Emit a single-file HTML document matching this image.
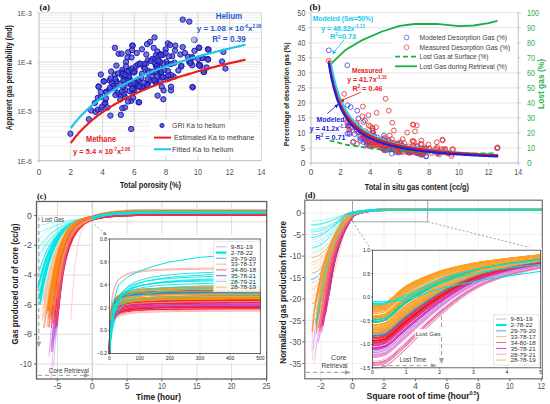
<!DOCTYPE html>
<html><head><meta charset="utf-8"><style>
html,body{margin:0;padding:0;background:#fff;}
svg{display:block;}
</style></head><body>
<svg width="550" height="404" viewBox="0 0 550 404">
<rect width="550" height="404" fill="#fff"/>
<line x1="39" y1="145.9" x2="261.5" y2="145.9" stroke="#e4e4e4" stroke-width="0.7" />
<line x1="39" y1="137.2" x2="261.5" y2="137.2" stroke="#e4e4e4" stroke-width="0.7" />
<line x1="39" y1="131" x2="261.5" y2="131" stroke="#e4e4e4" stroke-width="0.7" />
<line x1="39" y1="126.2" x2="261.5" y2="126.2" stroke="#e4e4e4" stroke-width="0.7" />
<line x1="39" y1="122.3" x2="261.5" y2="122.3" stroke="#e4e4e4" stroke-width="0.7" />
<line x1="39" y1="119" x2="261.5" y2="119" stroke="#e4e4e4" stroke-width="0.7" />
<line x1="39" y1="116.2" x2="261.5" y2="116.2" stroke="#e4e4e4" stroke-width="0.7" />
<line x1="39" y1="113.7" x2="261.5" y2="113.7" stroke="#e4e4e4" stroke-width="0.7" />
<line x1="39" y1="96.6" x2="261.5" y2="96.6" stroke="#e4e4e4" stroke-width="0.7" />
<line x1="39" y1="87.9" x2="261.5" y2="87.9" stroke="#e4e4e4" stroke-width="0.7" />
<line x1="39" y1="81.7" x2="261.5" y2="81.7" stroke="#e4e4e4" stroke-width="0.7" />
<line x1="39" y1="76.9" x2="261.5" y2="76.9" stroke="#e4e4e4" stroke-width="0.7" />
<line x1="39" y1="73" x2="261.5" y2="73" stroke="#e4e4e4" stroke-width="0.7" />
<line x1="39" y1="69.7" x2="261.5" y2="69.7" stroke="#e4e4e4" stroke-width="0.7" />
<line x1="39" y1="66.9" x2="261.5" y2="66.9" stroke="#e4e4e4" stroke-width="0.7" />
<line x1="39" y1="64.4" x2="261.5" y2="64.4" stroke="#e4e4e4" stroke-width="0.7" />
<line x1="39" y1="47.3" x2="261.5" y2="47.3" stroke="#e4e4e4" stroke-width="0.7" />
<line x1="39" y1="38.6" x2="261.5" y2="38.6" stroke="#e4e4e4" stroke-width="0.7" />
<line x1="39" y1="32.4" x2="261.5" y2="32.4" stroke="#e4e4e4" stroke-width="0.7" />
<line x1="39" y1="27.6" x2="261.5" y2="27.6" stroke="#e4e4e4" stroke-width="0.7" />
<line x1="39" y1="23.7" x2="261.5" y2="23.7" stroke="#e4e4e4" stroke-width="0.7" />
<line x1="39" y1="20.4" x2="261.5" y2="20.4" stroke="#e4e4e4" stroke-width="0.7" />
<line x1="39" y1="17.6" x2="261.5" y2="17.6" stroke="#e4e4e4" stroke-width="0.7" />
<line x1="39" y1="15.1" x2="261.5" y2="15.1" stroke="#e4e4e4" stroke-width="0.7" />
<line x1="37" y1="111.4" x2="261.5" y2="111.4" stroke="#d0d0d0" stroke-width="0.8" />
<line x1="37" y1="62.1" x2="261.5" y2="62.1" stroke="#d0d0d0" stroke-width="0.8" />
<line x1="37" y1="12.8" x2="261.5" y2="12.8" stroke="#d0d0d0" stroke-width="0.8" />
<line x1="70.8" y1="12.8" x2="70.8" y2="160.7" stroke="#d0d0d0" stroke-width="0.8" />
<line x1="102.6" y1="12.8" x2="102.6" y2="160.7" stroke="#d0d0d0" stroke-width="0.8" />
<line x1="134.3" y1="12.8" x2="134.3" y2="160.7" stroke="#d0d0d0" stroke-width="0.8" />
<line x1="166.1" y1="12.8" x2="166.1" y2="160.7" stroke="#d0d0d0" stroke-width="0.8" />
<line x1="197.9" y1="12.8" x2="197.9" y2="160.7" stroke="#d0d0d0" stroke-width="0.8" />
<line x1="229.7" y1="12.8" x2="229.7" y2="160.7" stroke="#d0d0d0" stroke-width="0.8" />
<line x1="261.5" y1="12.8" x2="261.5" y2="160.7" stroke="#d0d0d0" stroke-width="0.8" />
<line x1="39" y1="12.8" x2="39" y2="162.7" stroke="#bdbdbd" stroke-width="1" />
<line x1="37" y1="160.7" x2="261.5" y2="160.7" stroke="#bdbdbd" stroke-width="1" />
<text x="31.8" y="15.6" font-size="8" fill="#505050" text-anchor="end" font-weight="normal" font-family="Liberation Sans"  textLength="14.5" lengthAdjust="spacingAndGlyphs">1E-3</text>
<text x="31.8" y="64.9" font-size="8" fill="#505050" text-anchor="end" font-weight="normal" font-family="Liberation Sans"  textLength="14.5" lengthAdjust="spacingAndGlyphs">1E-4</text>
<text x="31.8" y="114.2" font-size="8" fill="#505050" text-anchor="end" font-weight="normal" font-family="Liberation Sans"  textLength="14.5" lengthAdjust="spacingAndGlyphs">1E-5</text>
<text x="31.8" y="163.5" font-size="8" fill="#505050" text-anchor="end" font-weight="normal" font-family="Liberation Sans"  textLength="14.5" lengthAdjust="spacingAndGlyphs">1E-6</text>
<text x="39" y="174.8" font-size="8.2" fill="#505050" text-anchor="middle" font-weight="normal" font-family="Liberation Sans" >0</text>
<text x="70.8" y="174.8" font-size="8.2" fill="#505050" text-anchor="middle" font-weight="normal" font-family="Liberation Sans" >2</text>
<text x="102.6" y="174.8" font-size="8.2" fill="#505050" text-anchor="middle" font-weight="normal" font-family="Liberation Sans" >4</text>
<text x="134.3" y="174.8" font-size="8.2" fill="#505050" text-anchor="middle" font-weight="normal" font-family="Liberation Sans" >6</text>
<text x="166.1" y="174.8" font-size="8.2" fill="#505050" text-anchor="middle" font-weight="normal" font-family="Liberation Sans" >8</text>
<text x="197.9" y="174.8" font-size="8.2" fill="#505050" text-anchor="middle" font-weight="normal" font-family="Liberation Sans"  textLength="7.8" lengthAdjust="spacingAndGlyphs">10</text>
<text x="229.7" y="174.8" font-size="8.2" fill="#505050" text-anchor="middle" font-weight="normal" font-family="Liberation Sans"  textLength="7.8" lengthAdjust="spacingAndGlyphs">12</text>
<text x="261.5" y="174.8" font-size="8.2" fill="#505050" text-anchor="middle" font-weight="normal" font-family="Liberation Sans"  textLength="7.8" lengthAdjust="spacingAndGlyphs">14</text>
<text x="150.4" y="188.2" font-size="8.3" fill="#202020" text-anchor="middle" font-weight="bold" font-family="Liberation Sans"  textLength="61" lengthAdjust="spacingAndGlyphs">Total porosity (%)</text>
<text x="0" y="0" font-size="8.8" fill="#202020" text-anchor="middle" font-weight="bold" font-family="Liberation Sans" transform="translate(11.8,77.7) rotate(-90)" textLength="105" lengthAdjust="spacingAndGlyphs">Apparent gas permeability (md)</text>
<text x="39.6" y="10.2" font-size="9" fill="#101010" text-anchor="start" font-weight="bold" font-family="Liberation Serif" >(a)</text>
<circle cx="114.9" cy="47.8" r="2.7" fill="#4646dc" fill-opacity="0.75" stroke="#16169e" stroke-width="0.9"/>
<circle cx="118.6" cy="53.7" r="2.7" fill="#4646dc" fill-opacity="0.75" stroke="#16169e" stroke-width="0.9"/>
<circle cx="121.6" cy="53.7" r="2.7" fill="#4646dc" fill-opacity="0.75" stroke="#16169e" stroke-width="0.9"/>
<circle cx="132.7" cy="45.6" r="2.7" fill="#4646dc" fill-opacity="0.75" stroke="#16169e" stroke-width="0.9"/>
<circle cx="128.2" cy="52.3" r="2.7" fill="#4646dc" fill-opacity="0.75" stroke="#16169e" stroke-width="0.9"/>
<circle cx="132" cy="50" r="2.7" fill="#4646dc" fill-opacity="0.75" stroke="#16169e" stroke-width="0.9"/>
<circle cx="127.5" cy="57.4" r="2.7" fill="#4646dc" fill-opacity="0.75" stroke="#16169e" stroke-width="0.9"/>
<circle cx="126" cy="61.9" r="2.7" fill="#4646dc" fill-opacity="0.75" stroke="#16169e" stroke-width="0.9"/>
<circle cx="116.4" cy="65.6" r="2.7" fill="#4646dc" fill-opacity="0.75" stroke="#16169e" stroke-width="0.9"/>
<circle cx="126" cy="66.3" r="2.7" fill="#4646dc" fill-opacity="0.75" stroke="#16169e" stroke-width="0.9"/>
<circle cx="111.2" cy="71.5" r="2.7" fill="#4646dc" fill-opacity="0.75" stroke="#16169e" stroke-width="0.9"/>
<circle cx="114.9" cy="74.5" r="2.7" fill="#4646dc" fill-opacity="0.75" stroke="#16169e" stroke-width="0.9"/>
<circle cx="100.8" cy="74.5" r="2.7" fill="#4646dc" fill-opacity="0.75" stroke="#16169e" stroke-width="0.9"/>
<circle cx="103.8" cy="81.2" r="2.7" fill="#4646dc" fill-opacity="0.75" stroke="#16169e" stroke-width="0.9"/>
<circle cx="109.7" cy="80.4" r="2.7" fill="#4646dc" fill-opacity="0.75" stroke="#16169e" stroke-width="0.9"/>
<circle cx="116.4" cy="81.2" r="2.7" fill="#4646dc" fill-opacity="0.75" stroke="#16169e" stroke-width="0.9"/>
<circle cx="98.6" cy="86.4" r="2.7" fill="#4646dc" fill-opacity="0.75" stroke="#16169e" stroke-width="0.9"/>
<circle cx="122.3" cy="70" r="2.7" fill="#4646dc" fill-opacity="0.75" stroke="#16169e" stroke-width="0.9"/>
<circle cx="123.8" cy="74.5" r="2.7" fill="#4646dc" fill-opacity="0.75" stroke="#16169e" stroke-width="0.9"/>
<circle cx="131.2" cy="70" r="2.7" fill="#4646dc" fill-opacity="0.75" stroke="#16169e" stroke-width="0.9"/>
<circle cx="135.7" cy="66.3" r="2.7" fill="#4646dc" fill-opacity="0.75" stroke="#16169e" stroke-width="0.9"/>
<circle cx="129.7" cy="79" r="2.7" fill="#4646dc" fill-opacity="0.75" stroke="#16169e" stroke-width="0.9"/>
<circle cx="136.4" cy="84.2" r="2.7" fill="#4646dc" fill-opacity="0.75" stroke="#16169e" stroke-width="0.9"/>
<circle cx="182.7" cy="19.6" r="2.7" fill="#4646dc" fill-opacity="0.75" stroke="#16169e" stroke-width="0.9"/>
<circle cx="189.3" cy="21.6" r="2.7" fill="#4646dc" fill-opacity="0.75" stroke="#16169e" stroke-width="0.9"/>
<circle cx="154.5" cy="37.4" r="2.7" fill="#4646dc" fill-opacity="0.75" stroke="#16169e" stroke-width="0.9"/>
<circle cx="150" cy="41.9" r="2.7" fill="#4646dc" fill-opacity="0.75" stroke="#16169e" stroke-width="0.9"/>
<circle cx="147.1" cy="44.1" r="2.7" fill="#4646dc" fill-opacity="0.75" stroke="#16169e" stroke-width="0.9"/>
<circle cx="132.2" cy="45.6" r="2.7" fill="#4646dc" fill-opacity="0.75" stroke="#16169e" stroke-width="0.9"/>
<circle cx="167.8" cy="43.4" r="2.7" fill="#4646dc" fill-opacity="0.75" stroke="#16169e" stroke-width="0.9"/>
<circle cx="170" cy="44.9" r="2.7" fill="#4646dc" fill-opacity="0.75" stroke="#16169e" stroke-width="0.9"/>
<circle cx="175.3" cy="45.6" r="2.7" fill="#4646dc" fill-opacity="0.75" stroke="#16169e" stroke-width="0.9"/>
<circle cx="182.7" cy="47.1" r="2.7" fill="#4646dc" fill-opacity="0.75" stroke="#16169e" stroke-width="0.9"/>
<circle cx="165.6" cy="49.3" r="2.7" fill="#4646dc" fill-opacity="0.75" stroke="#16169e" stroke-width="0.9"/>
<circle cx="194.5" cy="50.8" r="2.7" fill="#4646dc" fill-opacity="0.75" stroke="#16169e" stroke-width="0.9"/>
<circle cx="199" cy="47.8" r="2.7" fill="#4646dc" fill-opacity="0.75" stroke="#16169e" stroke-width="0.9"/>
<circle cx="207.9" cy="49.3" r="2.7" fill="#4646dc" fill-opacity="0.75" stroke="#16169e" stroke-width="0.9"/>
<circle cx="141.9" cy="49.3" r="2.7" fill="#4646dc" fill-opacity="0.75" stroke="#16169e" stroke-width="0.9"/>
<circle cx="153.7" cy="47.8" r="2.7" fill="#4646dc" fill-opacity="0.75" stroke="#16169e" stroke-width="0.9"/>
<circle cx="157.4" cy="51.5" r="2.7" fill="#4646dc" fill-opacity="0.75" stroke="#16169e" stroke-width="0.9"/>
<circle cx="180.4" cy="54.5" r="2.7" fill="#4646dc" fill-opacity="0.75" stroke="#16169e" stroke-width="0.9"/>
<circle cx="184.9" cy="53" r="2.7" fill="#4646dc" fill-opacity="0.75" stroke="#16169e" stroke-width="0.9"/>
<circle cx="187.9" cy="56.7" r="2.7" fill="#4646dc" fill-opacity="0.75" stroke="#16169e" stroke-width="0.9"/>
<circle cx="192.3" cy="57.5" r="2.7" fill="#4646dc" fill-opacity="0.75" stroke="#16169e" stroke-width="0.9"/>
<circle cx="198.2" cy="59" r="2.7" fill="#4646dc" fill-opacity="0.75" stroke="#16169e" stroke-width="0.9"/>
<circle cx="202.7" cy="57.5" r="2.7" fill="#4646dc" fill-opacity="0.75" stroke="#16169e" stroke-width="0.9"/>
<circle cx="207.9" cy="59" r="2.7" fill="#4646dc" fill-opacity="0.75" stroke="#16169e" stroke-width="0.9"/>
<circle cx="136.7" cy="53" r="2.7" fill="#4646dc" fill-opacity="0.75" stroke="#16169e" stroke-width="0.9"/>
<circle cx="146.3" cy="54.5" r="2.7" fill="#4646dc" fill-opacity="0.75" stroke="#16169e" stroke-width="0.9"/>
<circle cx="152.3" cy="59" r="2.7" fill="#4646dc" fill-opacity="0.75" stroke="#16169e" stroke-width="0.9"/>
<circle cx="147.8" cy="60.4" r="2.7" fill="#4646dc" fill-opacity="0.75" stroke="#16169e" stroke-width="0.9"/>
<circle cx="131.5" cy="57.5" r="2.7" fill="#4646dc" fill-opacity="0.75" stroke="#16169e" stroke-width="0.9"/>
<circle cx="166.3" cy="61.9" r="2.7" fill="#4646dc" fill-opacity="0.75" stroke="#16169e" stroke-width="0.9"/>
<circle cx="174.5" cy="62.7" r="2.7" fill="#4646dc" fill-opacity="0.75" stroke="#16169e" stroke-width="0.9"/>
<circle cx="189.3" cy="61.9" r="2.7" fill="#4646dc" fill-opacity="0.75" stroke="#16169e" stroke-width="0.9"/>
<circle cx="199.7" cy="64.9" r="2.7" fill="#4646dc" fill-opacity="0.75" stroke="#16169e" stroke-width="0.9"/>
<circle cx="156" cy="65.6" r="2.7" fill="#4646dc" fill-opacity="0.75" stroke="#16169e" stroke-width="0.9"/>
<circle cx="181.2" cy="66.4" r="2.7" fill="#4646dc" fill-opacity="0.75" stroke="#16169e" stroke-width="0.9"/>
<circle cx="194.5" cy="40" r="2.7" fill="#4646dc" fill-opacity="0.75" stroke="#16169e" stroke-width="0.9"/>
<circle cx="199.2" cy="47.7" r="2.7" fill="#4646dc" fill-opacity="0.75" stroke="#16169e" stroke-width="0.9"/>
<circle cx="208.6" cy="49.7" r="2.7" fill="#4646dc" fill-opacity="0.75" stroke="#16169e" stroke-width="0.9"/>
<circle cx="223.4" cy="51.9" r="2.7" fill="#4646dc" fill-opacity="0.75" stroke="#16169e" stroke-width="0.9"/>
<circle cx="192.2" cy="57.1" r="2.7" fill="#4646dc" fill-opacity="0.75" stroke="#16169e" stroke-width="0.9"/>
<circle cx="202.6" cy="58.1" r="2.7" fill="#4646dc" fill-opacity="0.75" stroke="#16169e" stroke-width="0.9"/>
<circle cx="208.1" cy="59.6" r="2.7" fill="#4646dc" fill-opacity="0.75" stroke="#16169e" stroke-width="0.9"/>
<circle cx="222" cy="61.5" r="2.7" fill="#4646dc" fill-opacity="0.75" stroke="#16169e" stroke-width="0.9"/>
<circle cx="190.7" cy="62.3" r="2.7" fill="#4646dc" fill-opacity="0.75" stroke="#16169e" stroke-width="0.9"/>
<circle cx="192.2" cy="65.3" r="2.7" fill="#4646dc" fill-opacity="0.75" stroke="#16169e" stroke-width="0.9"/>
<circle cx="198.9" cy="65" r="2.7" fill="#4646dc" fill-opacity="0.75" stroke="#16169e" stroke-width="0.9"/>
<circle cx="200.4" cy="66" r="2.7" fill="#4646dc" fill-opacity="0.75" stroke="#16169e" stroke-width="0.9"/>
<circle cx="206.6" cy="67.5" r="2.7" fill="#4646dc" fill-opacity="0.75" stroke="#16169e" stroke-width="0.9"/>
<circle cx="204.1" cy="71.9" r="2.7" fill="#4646dc" fill-opacity="0.75" stroke="#16169e" stroke-width="0.9"/>
<circle cx="225.4" cy="68.5" r="2.7" fill="#4646dc" fill-opacity="0.75" stroke="#16169e" stroke-width="0.9"/>
<circle cx="192.7" cy="87.3" r="2.7" fill="#4646dc" fill-opacity="0.75" stroke="#16169e" stroke-width="0.9"/>
<circle cx="70.4" cy="133.7" r="2.7" fill="#4646dc" fill-opacity="0.75" stroke="#16169e" stroke-width="0.9"/>
<circle cx="88.9" cy="119.3" r="2.7" fill="#4646dc" fill-opacity="0.75" stroke="#16169e" stroke-width="0.9"/>
<circle cx="91.2" cy="110.4" r="2.7" fill="#4646dc" fill-opacity="0.75" stroke="#16169e" stroke-width="0.9"/>
<circle cx="95.6" cy="111.9" r="2.7" fill="#4646dc" fill-opacity="0.75" stroke="#16169e" stroke-width="0.9"/>
<circle cx="97.8" cy="109.7" r="2.7" fill="#4646dc" fill-opacity="0.75" stroke="#16169e" stroke-width="0.9"/>
<circle cx="94.9" cy="103" r="2.7" fill="#4646dc" fill-opacity="0.75" stroke="#16169e" stroke-width="0.9"/>
<circle cx="97.8" cy="97.8" r="2.7" fill="#4646dc" fill-opacity="0.75" stroke="#16169e" stroke-width="0.9"/>
<circle cx="98.6" cy="86.7" r="2.7" fill="#4646dc" fill-opacity="0.75" stroke="#16169e" stroke-width="0.9"/>
<circle cx="103.8" cy="81.5" r="2.7" fill="#4646dc" fill-opacity="0.75" stroke="#16169e" stroke-width="0.9"/>
<circle cx="106" cy="91.9" r="2.7" fill="#4646dc" fill-opacity="0.75" stroke="#16169e" stroke-width="0.9"/>
<circle cx="110.4" cy="115.6" r="2.7" fill="#4646dc" fill-opacity="0.75" stroke="#16169e" stroke-width="0.9"/>
<circle cx="120.8" cy="114.9" r="2.7" fill="#4646dc" fill-opacity="0.75" stroke="#16169e" stroke-width="0.9"/>
<circle cx="122.3" cy="108.2" r="2.7" fill="#4646dc" fill-opacity="0.75" stroke="#16169e" stroke-width="0.9"/>
<circle cx="131.2" cy="129" r="2.7" fill="#4646dc" fill-opacity="0.75" stroke="#16169e" stroke-width="0.9"/>
<circle cx="111.9" cy="83" r="2.7" fill="#4646dc" fill-opacity="0.75" stroke="#16169e" stroke-width="0.9"/>
<circle cx="116.4" cy="81.5" r="2.7" fill="#4646dc" fill-opacity="0.75" stroke="#16169e" stroke-width="0.9"/>
<circle cx="123.8" cy="80" r="2.7" fill="#4646dc" fill-opacity="0.75" stroke="#16169e" stroke-width="0.9"/>
<circle cx="137.2" cy="84.5" r="2.7" fill="#4646dc" fill-opacity="0.75" stroke="#16169e" stroke-width="0.9"/>
<circle cx="138.6" cy="102.3" r="2.7" fill="#4646dc" fill-opacity="0.75" stroke="#16169e" stroke-width="0.9"/>
<circle cx="131.2" cy="100.8" r="2.7" fill="#4646dc" fill-opacity="0.75" stroke="#16169e" stroke-width="0.9"/>
<circle cx="157.6" cy="95.6" r="2.7" fill="#4646dc" fill-opacity="0.75" stroke="#16169e" stroke-width="0.9"/>
<circle cx="163.3" cy="99.3" r="2.7" fill="#4646dc" fill-opacity="0.75" stroke="#16169e" stroke-width="0.9"/>
<circle cx="139.1" cy="102.3" r="2.7" fill="#4646dc" fill-opacity="0.75" stroke="#16169e" stroke-width="0.9"/>
<circle cx="163.6" cy="90.4" r="2.7" fill="#4646dc" fill-opacity="0.75" stroke="#16169e" stroke-width="0.9"/>
<circle cx="161.8" cy="86.7" r="2.7" fill="#4646dc" fill-opacity="0.75" stroke="#16169e" stroke-width="0.9"/>
<circle cx="171" cy="86.7" r="2.7" fill="#4646dc" fill-opacity="0.75" stroke="#16169e" stroke-width="0.9"/>
<circle cx="171" cy="90.4" r="2.7" fill="#4646dc" fill-opacity="0.75" stroke="#16169e" stroke-width="0.9"/>
<circle cx="192.5" cy="87" r="2.7" fill="#4646dc" fill-opacity="0.75" stroke="#16169e" stroke-width="0.9"/>
<circle cx="132.4" cy="91.9" r="2.7" fill="#4646dc" fill-opacity="0.75" stroke="#16169e" stroke-width="0.9"/>
<circle cx="133.2" cy="97.8" r="2.7" fill="#4646dc" fill-opacity="0.75" stroke="#16169e" stroke-width="0.9"/>
<circle cx="128" cy="101.5" r="2.7" fill="#4646dc" fill-opacity="0.75" stroke="#16169e" stroke-width="0.9"/>
<circle cx="125" cy="107.5" r="2.7" fill="#4646dc" fill-opacity="0.75" stroke="#16169e" stroke-width="0.9"/>
<circle cx="136.1" cy="83.7" r="2.7" fill="#4646dc" fill-opacity="0.75" stroke="#16169e" stroke-width="0.9"/>
<circle cx="139.8" cy="87.4" r="2.7" fill="#4646dc" fill-opacity="0.75" stroke="#16169e" stroke-width="0.9"/>
<circle cx="144.3" cy="86.7" r="2.7" fill="#4646dc" fill-opacity="0.75" stroke="#16169e" stroke-width="0.9"/>
<circle cx="148" cy="83.7" r="2.7" fill="#4646dc" fill-opacity="0.75" stroke="#16169e" stroke-width="0.9"/>
<circle cx="152.4" cy="77.1" r="2.7" fill="#4646dc" fill-opacity="0.75" stroke="#16169e" stroke-width="0.9"/>
<circle cx="156.2" cy="80.8" r="2.7" fill="#4646dc" fill-opacity="0.75" stroke="#16169e" stroke-width="0.9"/>
<circle cx="166.5" cy="77.1" r="2.7" fill="#4646dc" fill-opacity="0.75" stroke="#16169e" stroke-width="0.9"/>
<circle cx="168" cy="71.1" r="2.7" fill="#4646dc" fill-opacity="0.75" stroke="#16169e" stroke-width="0.9"/>
<circle cx="178.4" cy="70.4" r="2.7" fill="#4646dc" fill-opacity="0.75" stroke="#16169e" stroke-width="0.9"/>
<circle cx="181.4" cy="65.9" r="2.7" fill="#4646dc" fill-opacity="0.75" stroke="#16169e" stroke-width="0.9"/>
<circle cx="156.2" cy="65.9" r="2.7" fill="#4646dc" fill-opacity="0.75" stroke="#16169e" stroke-width="0.9"/>
<circle cx="160.6" cy="74.8" r="2.7" fill="#4646dc" fill-opacity="0.75" stroke="#16169e" stroke-width="0.9"/>
<circle cx="190.3" cy="63" r="2.7" fill="#4646dc" fill-opacity="0.75" stroke="#16169e" stroke-width="0.9"/>
<circle cx="199.2" cy="65.2" r="2.7" fill="#4646dc" fill-opacity="0.75" stroke="#16169e" stroke-width="0.9"/>
<circle cx="203.6" cy="71.9" r="2.7" fill="#4646dc" fill-opacity="0.75" stroke="#16169e" stroke-width="0.9"/>
<circle cx="125" cy="89.7" r="2.7" fill="#4646dc" fill-opacity="0.75" stroke="#16169e" stroke-width="0.9"/>
<circle cx="129.5" cy="80.8" r="2.7" fill="#4646dc" fill-opacity="0.75" stroke="#16169e" stroke-width="0.9"/>
<circle cx="142" cy="87.5" r="2.7" fill="#4646dc" fill-opacity="0.75" stroke="#16169e" stroke-width="0.9"/>
<circle cx="138.1" cy="79.5" r="2.7" fill="#4646dc" fill-opacity="0.75" stroke="#16169e" stroke-width="0.9"/>
<circle cx="138.4" cy="80.6" r="2.7" fill="#4646dc" fill-opacity="0.75" stroke="#16169e" stroke-width="0.9"/>
<circle cx="125.8" cy="77.2" r="2.7" fill="#4646dc" fill-opacity="0.75" stroke="#16169e" stroke-width="0.9"/>
<circle cx="160.7" cy="73.4" r="2.7" fill="#4646dc" fill-opacity="0.75" stroke="#16169e" stroke-width="0.9"/>
<circle cx="173.7" cy="76.7" r="2.7" fill="#4646dc" fill-opacity="0.75" stroke="#16169e" stroke-width="0.9"/>
<circle cx="146.2" cy="63.6" r="2.7" fill="#4646dc" fill-opacity="0.75" stroke="#16169e" stroke-width="0.9"/>
<circle cx="139.6" cy="63.6" r="2.7" fill="#4646dc" fill-opacity="0.75" stroke="#16169e" stroke-width="0.9"/>
<circle cx="118.1" cy="73.4" r="2.7" fill="#4646dc" fill-opacity="0.75" stroke="#16169e" stroke-width="0.9"/>
<circle cx="133" cy="89.2" r="2.7" fill="#4646dc" fill-opacity="0.75" stroke="#16169e" stroke-width="0.9"/>
<circle cx="148" cy="72.7" r="2.7" fill="#4646dc" fill-opacity="0.75" stroke="#16169e" stroke-width="0.9"/>
<circle cx="134.3" cy="72.3" r="2.7" fill="#4646dc" fill-opacity="0.75" stroke="#16169e" stroke-width="0.9"/>
<circle cx="161.8" cy="77.2" r="2.7" fill="#4646dc" fill-opacity="0.75" stroke="#16169e" stroke-width="0.9"/>
<circle cx="134.6" cy="70.8" r="2.7" fill="#4646dc" fill-opacity="0.75" stroke="#16169e" stroke-width="0.9"/>
<circle cx="105.3" cy="102.6" r="2.7" fill="#4646dc" fill-opacity="0.75" stroke="#16169e" stroke-width="0.9"/>
<circle cx="163.5" cy="63.5" r="2.7" fill="#4646dc" fill-opacity="0.75" stroke="#16169e" stroke-width="0.9"/>
<circle cx="155.9" cy="55.2" r="2.7" fill="#4646dc" fill-opacity="0.75" stroke="#16169e" stroke-width="0.9"/>
<circle cx="168.3" cy="64.3" r="2.7" fill="#4646dc" fill-opacity="0.75" stroke="#16169e" stroke-width="0.9"/>
<circle cx="137.9" cy="64.7" r="2.7" fill="#4646dc" fill-opacity="0.75" stroke="#16169e" stroke-width="0.9"/>
<circle cx="158.4" cy="62" r="2.7" fill="#4646dc" fill-opacity="0.75" stroke="#16169e" stroke-width="0.9"/>
<circle cx="124.9" cy="96.7" r="2.7" fill="#4646dc" fill-opacity="0.75" stroke="#16169e" stroke-width="0.9"/>
<circle cx="126.7" cy="75.1" r="2.7" fill="#4646dc" fill-opacity="0.75" stroke="#16169e" stroke-width="0.9"/>
<circle cx="104.5" cy="104" r="2.7" fill="#4646dc" fill-opacity="0.75" stroke="#16169e" stroke-width="0.9"/>
<circle cx="141.9" cy="73.7" r="2.7" fill="#4646dc" fill-opacity="0.75" stroke="#16169e" stroke-width="0.9"/>
<circle cx="154.9" cy="59.3" r="2.7" fill="#4646dc" fill-opacity="0.75" stroke="#16169e" stroke-width="0.9"/>
<circle cx="108.7" cy="90.3" r="2.7" fill="#4646dc" fill-opacity="0.75" stroke="#16169e" stroke-width="0.9"/>
<circle cx="120.2" cy="99.4" r="2.7" fill="#4646dc" fill-opacity="0.75" stroke="#16169e" stroke-width="0.9"/>
<circle cx="134.2" cy="89.9" r="2.7" fill="#4646dc" fill-opacity="0.75" stroke="#16169e" stroke-width="0.9"/>
<circle cx="129.6" cy="91.2" r="2.7" fill="#4646dc" fill-opacity="0.75" stroke="#16169e" stroke-width="0.9"/>
<circle cx="107.5" cy="107.5" r="2.7" fill="#4646dc" fill-opacity="0.75" stroke="#16169e" stroke-width="0.9"/>
<circle cx="119.4" cy="94.1" r="2.7" fill="#4646dc" fill-opacity="0.75" stroke="#16169e" stroke-width="0.9"/>
<circle cx="122.2" cy="72.4" r="2.7" fill="#4646dc" fill-opacity="0.75" stroke="#16169e" stroke-width="0.9"/>
<circle cx="143.7" cy="67.1" r="2.7" fill="#4646dc" fill-opacity="0.75" stroke="#16169e" stroke-width="0.9"/>
<circle cx="127.9" cy="80.5" r="2.7" fill="#4646dc" fill-opacity="0.75" stroke="#16169e" stroke-width="0.9"/>
<circle cx="141.3" cy="77.7" r="2.7" fill="#4646dc" fill-opacity="0.75" stroke="#16169e" stroke-width="0.9"/>
<circle cx="129.3" cy="71.1" r="2.7" fill="#4646dc" fill-opacity="0.75" stroke="#16169e" stroke-width="0.9"/>
<circle cx="154.7" cy="62.8" r="2.7" fill="#4646dc" fill-opacity="0.75" stroke="#16169e" stroke-width="0.9"/>
<circle cx="155.5" cy="82.5" r="2.7" fill="#4646dc" fill-opacity="0.75" stroke="#16169e" stroke-width="0.9"/>
<circle cx="171.3" cy="75.1" r="2.7" fill="#4646dc" fill-opacity="0.75" stroke="#16169e" stroke-width="0.9"/>
<circle cx="131.6" cy="68.5" r="2.7" fill="#4646dc" fill-opacity="0.75" stroke="#16169e" stroke-width="0.9"/>
<circle cx="172.2" cy="56.2" r="2.7" fill="#4646dc" fill-opacity="0.75" stroke="#16169e" stroke-width="0.9"/>
<circle cx="132.3" cy="89" r="2.7" fill="#4646dc" fill-opacity="0.75" stroke="#16169e" stroke-width="0.9"/>
<circle cx="122" cy="75.5" r="2.7" fill="#4646dc" fill-opacity="0.75" stroke="#16169e" stroke-width="0.9"/>
<circle cx="124.8" cy="75.6" r="2.7" fill="#4646dc" fill-opacity="0.75" stroke="#16169e" stroke-width="0.9"/>
<circle cx="163.9" cy="69.9" r="2.7" fill="#4646dc" fill-opacity="0.75" stroke="#16169e" stroke-width="0.9"/>
<circle cx="168.8" cy="56.4" r="2.7" fill="#4646dc" fill-opacity="0.75" stroke="#16169e" stroke-width="0.9"/>
<circle cx="120.2" cy="84.3" r="2.7" fill="#4646dc" fill-opacity="0.75" stroke="#16169e" stroke-width="0.9"/>
<circle cx="113.2" cy="86" r="2.7" fill="#4646dc" fill-opacity="0.75" stroke="#16169e" stroke-width="0.9"/>
<circle cx="109.9" cy="87.9" r="2.7" fill="#4646dc" fill-opacity="0.75" stroke="#16169e" stroke-width="0.9"/>
<circle cx="161.2" cy="72.1" r="2.7" fill="#4646dc" fill-opacity="0.75" stroke="#16169e" stroke-width="0.9"/>
<circle cx="143.8" cy="64.1" r="2.7" fill="#4646dc" fill-opacity="0.75" stroke="#16169e" stroke-width="0.9"/>
<circle cx="101.3" cy="109.4" r="2.7" fill="#4646dc" fill-opacity="0.75" stroke="#16169e" stroke-width="0.9"/>
<circle cx="160.5" cy="54.1" r="2.7" fill="#4646dc" fill-opacity="0.75" stroke="#16169e" stroke-width="0.9"/>
<circle cx="136.2" cy="84.5" r="2.7" fill="#4646dc" fill-opacity="0.75" stroke="#16169e" stroke-width="0.9"/>
<circle cx="175" cy="50.6" r="2.7" fill="#4646dc" fill-opacity="0.75" stroke="#16169e" stroke-width="0.9"/>
<circle cx="155.3" cy="81.4" r="2.7" fill="#4646dc" fill-opacity="0.75" stroke="#16169e" stroke-width="0.9"/>
<circle cx="150.1" cy="80.3" r="2.7" fill="#4646dc" fill-opacity="0.75" stroke="#16169e" stroke-width="0.9"/>
<circle cx="136.1" cy="83.2" r="2.7" fill="#4646dc" fill-opacity="0.75" stroke="#16169e" stroke-width="0.9"/>
<circle cx="156.8" cy="66.9" r="2.7" fill="#4646dc" fill-opacity="0.75" stroke="#16169e" stroke-width="0.9"/>
<circle cx="156.5" cy="71.5" r="2.7" fill="#4646dc" fill-opacity="0.75" stroke="#16169e" stroke-width="0.9"/>
<circle cx="128.7" cy="83.8" r="2.7" fill="#4646dc" fill-opacity="0.75" stroke="#16169e" stroke-width="0.9"/>
<circle cx="106" cy="98.4" r="2.7" fill="#4646dc" fill-opacity="0.75" stroke="#16169e" stroke-width="0.9"/>
<circle cx="157.2" cy="75.7" r="2.7" fill="#4646dc" fill-opacity="0.75" stroke="#16169e" stroke-width="0.9"/>
<circle cx="155.1" cy="72.2" r="2.7" fill="#4646dc" fill-opacity="0.75" stroke="#16169e" stroke-width="0.9"/>
<circle cx="162.9" cy="55" r="2.7" fill="#4646dc" fill-opacity="0.75" stroke="#16169e" stroke-width="0.9"/>
<circle cx="123.2" cy="87.1" r="2.7" fill="#4646dc" fill-opacity="0.75" stroke="#16169e" stroke-width="0.9"/>
<circle cx="117.3" cy="93.2" r="2.7" fill="#4646dc" fill-opacity="0.75" stroke="#16169e" stroke-width="0.9"/>
<circle cx="146.1" cy="85.6" r="2.7" fill="#4646dc" fill-opacity="0.75" stroke="#16169e" stroke-width="0.9"/>
<circle cx="100.8" cy="92.2" r="2.7" fill="#4646dc" fill-opacity="0.75" stroke="#16169e" stroke-width="0.9"/>
<circle cx="115.2" cy="79.1" r="2.7" fill="#4646dc" fill-opacity="0.75" stroke="#16169e" stroke-width="0.9"/>
<circle cx="148.4" cy="70.9" r="2.7" fill="#4646dc" fill-opacity="0.75" stroke="#16169e" stroke-width="0.9"/>
<circle cx="135.1" cy="83.1" r="2.7" fill="#4646dc" fill-opacity="0.75" stroke="#16169e" stroke-width="0.9"/>
<circle cx="132.3" cy="88.5" r="2.7" fill="#4646dc" fill-opacity="0.75" stroke="#16169e" stroke-width="0.9"/>
<circle cx="157.2" cy="65.8" r="2.7" fill="#4646dc" fill-opacity="0.75" stroke="#16169e" stroke-width="0.9"/>
<circle cx="123.7" cy="73.4" r="2.7" fill="#4646dc" fill-opacity="0.75" stroke="#16169e" stroke-width="0.9"/>
<circle cx="162.8" cy="77.1" r="2.7" fill="#4646dc" fill-opacity="0.75" stroke="#16169e" stroke-width="0.9"/>
<circle cx="160" cy="61.6" r="2.7" fill="#4646dc" fill-opacity="0.75" stroke="#16169e" stroke-width="0.9"/>
<circle cx="133.8" cy="72.4" r="2.7" fill="#4646dc" fill-opacity="0.75" stroke="#16169e" stroke-width="0.9"/>
<circle cx="131" cy="83.9" r="2.7" fill="#4646dc" fill-opacity="0.75" stroke="#16169e" stroke-width="0.9"/>
<circle cx="123.7" cy="93.8" r="2.7" fill="#4646dc" fill-opacity="0.75" stroke="#16169e" stroke-width="0.9"/>
<circle cx="140.1" cy="63.8" r="2.7" fill="#4646dc" fill-opacity="0.75" stroke="#16169e" stroke-width="0.9"/>
<circle cx="165.5" cy="52.9" r="2.7" fill="#4646dc" fill-opacity="0.75" stroke="#16169e" stroke-width="0.9"/>
<circle cx="144.8" cy="68.5" r="2.7" fill="#4646dc" fill-opacity="0.75" stroke="#16169e" stroke-width="0.9"/>
<circle cx="122.8" cy="73.9" r="2.7" fill="#4646dc" fill-opacity="0.75" stroke="#16169e" stroke-width="0.9"/>
<circle cx="101.9" cy="106.7" r="2.7" fill="#4646dc" fill-opacity="0.75" stroke="#16169e" stroke-width="0.9"/>
<circle cx="110.6" cy="78.4" r="2.7" fill="#4646dc" fill-opacity="0.75" stroke="#16169e" stroke-width="0.9"/>
<circle cx="133.5" cy="82.8" r="2.7" fill="#4646dc" fill-opacity="0.75" stroke="#16169e" stroke-width="0.9"/>
<circle cx="160.6" cy="81.1" r="2.7" fill="#4646dc" fill-opacity="0.75" stroke="#16169e" stroke-width="0.9"/>
<circle cx="115" cy="88.1" r="2.7" fill="#4646dc" fill-opacity="0.75" stroke="#16169e" stroke-width="0.9"/>
<circle cx="100.8" cy="97.2" r="2.7" fill="#4646dc" fill-opacity="0.75" stroke="#16169e" stroke-width="0.9"/>
<circle cx="129.2" cy="74.6" r="2.7" fill="#4646dc" fill-opacity="0.75" stroke="#16169e" stroke-width="0.9"/>
<circle cx="152.3" cy="71.6" r="2.7" fill="#4646dc" fill-opacity="0.75" stroke="#16169e" stroke-width="0.9"/>
<circle cx="156.7" cy="66.2" r="2.7" fill="#4646dc" fill-opacity="0.75" stroke="#16169e" stroke-width="0.9"/>
<circle cx="158.2" cy="56.8" r="2.7" fill="#4646dc" fill-opacity="0.75" stroke="#16169e" stroke-width="0.9"/>
<circle cx="150.9" cy="60.9" r="2.7" fill="#4646dc" fill-opacity="0.75" stroke="#16169e" stroke-width="0.9"/>
<circle cx="146.9" cy="85" r="2.7" fill="#4646dc" fill-opacity="0.75" stroke="#16169e" stroke-width="0.9"/>
<circle cx="142.7" cy="85.9" r="2.7" fill="#4646dc" fill-opacity="0.75" stroke="#16169e" stroke-width="0.9"/>
<circle cx="159.8" cy="67.1" r="2.7" fill="#4646dc" fill-opacity="0.75" stroke="#16169e" stroke-width="0.9"/>
<circle cx="115.4" cy="95" r="2.7" fill="#4646dc" fill-opacity="0.75" stroke="#16169e" stroke-width="0.9"/>
<circle cx="147.7" cy="79.1" r="2.7" fill="#4646dc" fill-opacity="0.75" stroke="#16169e" stroke-width="0.9"/>
<circle cx="167.5" cy="79.2" r="2.7" fill="#4646dc" fill-opacity="0.75" stroke="#16169e" stroke-width="0.9"/>
<circle cx="143.5" cy="83" r="2.7" fill="#4646dc" fill-opacity="0.75" stroke="#16169e" stroke-width="0.9"/>
<circle cx="168.2" cy="75.4" r="2.7" fill="#4646dc" fill-opacity="0.75" stroke="#16169e" stroke-width="0.9"/>
<circle cx="106.2" cy="92.5" r="2.7" fill="#4646dc" fill-opacity="0.75" stroke="#16169e" stroke-width="0.9"/>
<circle cx="157.6" cy="68.6" r="2.7" fill="#4646dc" fill-opacity="0.75" stroke="#16169e" stroke-width="0.9"/>
<circle cx="160.7" cy="55.2" r="2.7" fill="#4646dc" fill-opacity="0.75" stroke="#16169e" stroke-width="0.9"/>
<circle cx="128.9" cy="76.5" r="2.7" fill="#4646dc" fill-opacity="0.75" stroke="#16169e" stroke-width="0.9"/>
<circle cx="127.6" cy="71.8" r="2.7" fill="#4646dc" fill-opacity="0.75" stroke="#16169e" stroke-width="0.9"/>
<circle cx="154.3" cy="80" r="2.7" fill="#4646dc" fill-opacity="0.75" stroke="#16169e" stroke-width="0.9"/>
<circle cx="170.9" cy="64" r="2.7" fill="#4646dc" fill-opacity="0.75" stroke="#16169e" stroke-width="0.9"/>
<circle cx="125.4" cy="75" r="2.7" fill="#4646dc" fill-opacity="0.75" stroke="#16169e" stroke-width="0.9"/>
<circle cx="121.8" cy="91.6" r="2.7" fill="#4646dc" fill-opacity="0.75" stroke="#16169e" stroke-width="0.9"/>
<circle cx="139.2" cy="86.4" r="2.7" fill="#4646dc" fill-opacity="0.75" stroke="#16169e" stroke-width="0.9"/>
<circle cx="123.4" cy="80.7" r="2.7" fill="#4646dc" fill-opacity="0.75" stroke="#16169e" stroke-width="0.9"/>
<circle cx="158" cy="60.4" r="2.7" fill="#4646dc" fill-opacity="0.75" stroke="#16169e" stroke-width="0.9"/>
<circle cx="193.8" cy="39.7" r="2.7" fill="#b8b8f0" stroke="#8888d8" stroke-width="0.8"/>
<polyline points="70.8,128.2 72.4,126 74,123.9 75.5,122 77.1,120.1 78.7,118.2 80.3,116.5 81.9,114.8 83.5,113.2 85.1,111.6 86.7,110.1 88.3,108.7 89.8,107.3 91.4,105.9 93,104.6 94.6,103.3 96.2,102 97.8,100.8 99.4,99.6 101,98.4 102.6,97.3 104.1,96.2 105.7,95.1 107.3,94.1 108.9,93.1 110.5,92.1 112.1,91.1 113.7,90.1 115.3,89.2 116.9,88.3 118.5,87.4 120,86.5 121.6,85.6 123.2,84.8 124.8,83.9 126.4,83.1 128,82.3 129.6,81.5 131.2,80.8 132.8,80 134.3,79.3 135.9,78.5 137.5,77.8 139.1,77.1 140.7,76.4 142.3,75.7 143.9,75 145.5,74.3 147.1,73.7 148.6,73 150.2,72.4 151.8,71.8 153.4,71.1 155,70.5 156.6,69.9 158.2,69.3 159.8,68.7 161.4,68.1 162.9,67.6 164.5,67 166.1,66.4 167.7,65.9 169.3,65.3 170.9,64.8 172.5,64.3 174.1,63.7 175.7,63.2 177.2,62.7 178.8,62.2 180.4,61.7 182,61.2 183.6,60.7 185.2,60.2 186.8,59.7 188.4,59.3 190,58.8 191.5,58.3 193.1,57.9 194.7,57.4 196.3,57 197.9,56.5 199.5,56.1 201.1,55.6 202.7,55.2 204.3,54.8 205.8,54.3 207.4,53.9 209,53.5 210.6,53.1 212.2,52.7 213.8,52.3 215.4,51.9 217,51.5 218.6,51.1 220.1,50.7 221.7,50.3 223.3,49.9 224.9,49.5 226.5,49.1 228.1,48.8 229.7,48.4 231.3,48 232.9,47.7 234.4,47.3 236,46.9 237.6,46.6 239.2,46.2 240.8,45.9 242.4,45.5 244,45.2 245.6,44.8" fill="none" stroke="#1ec6ee" stroke-width="2.2" />
<polyline points="70.8,143 72.4,140.9 74,138.8 75.5,136.8 77.1,134.9 78.7,133.1 80.3,131.3 81.9,129.7 83.5,128 85.1,126.5 86.7,125 88.3,123.5 89.8,122.1 91.4,120.7 93,119.4 94.6,118.1 96.2,116.8 97.8,115.6 99.4,114.4 101,113.3 102.6,112.2 104.1,111.1 105.7,110 107.3,108.9 108.9,107.9 110.5,106.9 112.1,105.9 113.7,105 115.3,104 116.9,103.1 118.5,102.2 120,101.3 121.6,100.5 123.2,99.6 124.8,98.8 126.4,98 128,97.2 129.6,96.4 131.2,95.6 132.8,94.8 134.3,94.1 135.9,93.4 137.5,92.6 139.1,91.9 140.7,91.2 142.3,90.5 143.9,89.9 145.5,89.2 147.1,88.5 148.6,87.9 150.2,87.2 151.8,86.6 153.4,86 155,85.4 156.6,84.8 158.2,84.2 159.8,83.6 161.4,83 162.9,82.4 164.5,81.8 166.1,81.3 167.7,80.7 169.3,80.2 170.9,79.6 172.5,79.1 174.1,78.6 175.7,78.1 177.2,77.6 178.8,77 180.4,76.5 182,76 183.6,75.5 185.2,75.1 186.8,74.6 188.4,74.1 190,73.6 191.5,73.2 193.1,72.7 194.7,72.2 196.3,71.8 197.9,71.3 199.5,70.9 201.1,70.5 202.7,70 204.3,69.6 205.8,69.2 207.4,68.8 209,68.3 210.6,67.9 212.2,67.5 213.8,67.1 215.4,66.7 217,66.3 218.6,65.9 220.1,65.5 221.7,65.1 223.3,64.7 224.9,64.4 226.5,64 228.1,63.6 229.7,63.2 231.3,62.9 232.9,62.5 234.4,62.1 236,61.8 237.6,61.4 239.2,61.1 240.8,60.7 242.4,60.4 244,60 245.6,59.7" fill="none" stroke="#ea1c1c" stroke-width="2.2" />
<text x="228.9" y="19.2" font-size="8.5" fill="#1e5ad6" text-anchor="middle" font-weight="bold" font-family="Liberation Sans"  textLength="26.5" lengthAdjust="spacingAndGlyphs">Helium</text>
<text x="229" y="30.5" font-size="8" fill="#1e5ad6" text-anchor="middle" font-weight="bold" font-family="Liberation Sans">y = 1.08 × 10<tspan font-size="4.5" dy="-3">-6</tspan><tspan dy="3">x</tspan><tspan font-size="4.5" dy="-3">2.08</tspan></text>
<text x="229" y="42" font-size="8.2" fill="#1e5ad6" text-anchor="middle" font-weight="bold" font-family="Liberation Sans">R<tspan font-size="4.5" dy="-3">2</tspan><tspan dy="3"> = 0.39</tspan></text>
<text x="101.1" y="142" font-size="8.2" fill="#e42222" text-anchor="middle" font-weight="bold" font-family="Liberation Sans"  textLength="30" lengthAdjust="spacingAndGlyphs">Methane</text>
<text x="101.5" y="153.5" font-size="7.5" fill="#e42222" text-anchor="middle" font-weight="bold" font-family="Liberation Sans">y = 5.4 × 10<tspan font-size="4.5" dy="-3">-7</tspan><tspan dy="3">x</tspan><tspan font-size="4.5" dy="-3">2.08</tspan></text>
<rect x="150" y="119.5" width="108" height="36" fill="#ffffff"/>
<circle cx="162" cy="125.5" r="2.1" fill="#5a5ae0" stroke="#16169e" stroke-width="0.9"/>
<text x="172" y="128.2" font-size="7.8" fill="#404040" text-anchor="start" font-weight="normal" font-family="Liberation Sans"  textLength="53" lengthAdjust="spacingAndGlyphs">GRI Ka to helium</text>
<line x1="154" y1="137.6" x2="171" y2="137.6" stroke="#ea1c1c" stroke-width="2" />
<text x="174" y="140.4" font-size="7.8" fill="#404040" text-anchor="start" font-weight="normal" font-family="Liberation Sans"  textLength="80.6" lengthAdjust="spacingAndGlyphs">Estimated Ka to methane</text>
<line x1="154" y1="149.3" x2="171" y2="149.3" stroke="#1ec6ee" stroke-width="2" />
<text x="172" y="152.1" font-size="7.8" fill="#404040" text-anchor="start" font-weight="normal" font-family="Liberation Sans"  textLength="61.4" lengthAdjust="spacingAndGlyphs">Fitted Ka to helium</text>
<line x1="311" y1="148" x2="518.2" y2="148" stroke="#dedede" stroke-width="0.8" />
<line x1="311" y1="132.9" x2="518.2" y2="132.9" stroke="#dedede" stroke-width="0.8" />
<line x1="311" y1="117.9" x2="518.2" y2="117.9" stroke="#dedede" stroke-width="0.8" />
<line x1="311" y1="102.9" x2="518.2" y2="102.9" stroke="#dedede" stroke-width="0.8" />
<line x1="311" y1="87.9" x2="518.2" y2="87.9" stroke="#dedede" stroke-width="0.8" />
<line x1="311" y1="72.8" x2="518.2" y2="72.8" stroke="#dedede" stroke-width="0.8" />
<line x1="311" y1="57.8" x2="518.2" y2="57.8" stroke="#dedede" stroke-width="0.8" />
<line x1="311" y1="42.8" x2="518.2" y2="42.8" stroke="#dedede" stroke-width="0.8" />
<line x1="311" y1="27.7" x2="518.2" y2="27.7" stroke="#dedede" stroke-width="0.8" />
<line x1="311" y1="12.7" x2="518.2" y2="12.7" stroke="#dedede" stroke-width="0.8" />
<line x1="311" y1="12.7" x2="311" y2="163" stroke="#bdbdbd" stroke-width="1" />
<line x1="311" y1="163" x2="518.2" y2="163" stroke="#bdbdbd" stroke-width="1" />
<line x1="518.2" y1="12.7" x2="518.2" y2="163" stroke="#bdbdbd" stroke-width="1" />
<line x1="311" y1="163" x2="311" y2="165.5" stroke="#bdbdbd" stroke-width="0.8" />
<line x1="340.6" y1="163" x2="340.6" y2="165.5" stroke="#bdbdbd" stroke-width="0.8" />
<line x1="370.2" y1="163" x2="370.2" y2="165.5" stroke="#bdbdbd" stroke-width="0.8" />
<line x1="399.8" y1="163" x2="399.8" y2="165.5" stroke="#bdbdbd" stroke-width="0.8" />
<line x1="429.4" y1="163" x2="429.4" y2="165.5" stroke="#bdbdbd" stroke-width="0.8" />
<line x1="459" y1="163" x2="459" y2="165.5" stroke="#bdbdbd" stroke-width="0.8" />
<line x1="488.6" y1="163" x2="488.6" y2="165.5" stroke="#bdbdbd" stroke-width="0.8" />
<line x1="518.2" y1="163" x2="518.2" y2="165.5" stroke="#bdbdbd" stroke-width="0.8" />
<line x1="308.5" y1="163" x2="311" y2="163" stroke="#bdbdbd" stroke-width="0.8" />
<line x1="518.2" y1="163" x2="520.7" y2="163" stroke="#bdbdbd" stroke-width="0.8" />
<text x="305.4" y="165.9" font-size="8.2" fill="#505050" text-anchor="end" font-weight="normal" font-family="Liberation Sans" >0</text>
<text x="527" y="166" font-size="8.4" fill="#2eb050" text-anchor="start" font-weight="normal" font-family="Liberation Sans" >0</text>
<line x1="308.5" y1="148" x2="311" y2="148" stroke="#bdbdbd" stroke-width="0.8" />
<line x1="518.2" y1="148" x2="520.7" y2="148" stroke="#bdbdbd" stroke-width="0.8" />
<text x="305.4" y="150.9" font-size="8.2" fill="#505050" text-anchor="end" font-weight="normal" font-family="Liberation Sans" >5</text>
<text x="527" y="151" font-size="8.4" fill="#2eb050" text-anchor="start" font-weight="normal" font-family="Liberation Sans"  textLength="8.0" lengthAdjust="spacingAndGlyphs">10</text>
<line x1="308.5" y1="132.9" x2="311" y2="132.9" stroke="#bdbdbd" stroke-width="0.8" />
<line x1="518.2" y1="132.9" x2="520.7" y2="132.9" stroke="#bdbdbd" stroke-width="0.8" />
<text x="305.4" y="135.8" font-size="8.2" fill="#505050" text-anchor="end" font-weight="normal" font-family="Liberation Sans"  textLength="7.8" lengthAdjust="spacingAndGlyphs">10</text>
<text x="527" y="135.9" font-size="8.4" fill="#2eb050" text-anchor="start" font-weight="normal" font-family="Liberation Sans"  textLength="8.0" lengthAdjust="spacingAndGlyphs">20</text>
<line x1="308.5" y1="117.9" x2="311" y2="117.9" stroke="#bdbdbd" stroke-width="0.8" />
<line x1="518.2" y1="117.9" x2="520.7" y2="117.9" stroke="#bdbdbd" stroke-width="0.8" />
<text x="305.4" y="120.8" font-size="8.2" fill="#505050" text-anchor="end" font-weight="normal" font-family="Liberation Sans"  textLength="7.8" lengthAdjust="spacingAndGlyphs">15</text>
<text x="527" y="120.9" font-size="8.4" fill="#2eb050" text-anchor="start" font-weight="normal" font-family="Liberation Sans"  textLength="8.0" lengthAdjust="spacingAndGlyphs">30</text>
<line x1="308.5" y1="102.9" x2="311" y2="102.9" stroke="#bdbdbd" stroke-width="0.8" />
<line x1="518.2" y1="102.9" x2="520.7" y2="102.9" stroke="#bdbdbd" stroke-width="0.8" />
<text x="305.4" y="105.8" font-size="8.2" fill="#505050" text-anchor="end" font-weight="normal" font-family="Liberation Sans"  textLength="7.8" lengthAdjust="spacingAndGlyphs">20</text>
<text x="527" y="105.9" font-size="8.4" fill="#2eb050" text-anchor="start" font-weight="normal" font-family="Liberation Sans"  textLength="8.0" lengthAdjust="spacingAndGlyphs">40</text>
<line x1="308.5" y1="87.9" x2="311" y2="87.9" stroke="#bdbdbd" stroke-width="0.8" />
<line x1="518.2" y1="87.9" x2="520.7" y2="87.9" stroke="#bdbdbd" stroke-width="0.8" />
<text x="305.4" y="90.8" font-size="8.2" fill="#505050" text-anchor="end" font-weight="normal" font-family="Liberation Sans"  textLength="7.8" lengthAdjust="spacingAndGlyphs">25</text>
<text x="527" y="90.9" font-size="8.4" fill="#2eb050" text-anchor="start" font-weight="normal" font-family="Liberation Sans"  textLength="8.0" lengthAdjust="spacingAndGlyphs">50</text>
<line x1="308.5" y1="72.8" x2="311" y2="72.8" stroke="#bdbdbd" stroke-width="0.8" />
<line x1="518.2" y1="72.8" x2="520.7" y2="72.8" stroke="#bdbdbd" stroke-width="0.8" />
<text x="305.4" y="75.7" font-size="8.2" fill="#505050" text-anchor="end" font-weight="normal" font-family="Liberation Sans"  textLength="7.8" lengthAdjust="spacingAndGlyphs">30</text>
<text x="527" y="75.8" font-size="8.4" fill="#2eb050" text-anchor="start" font-weight="normal" font-family="Liberation Sans"  textLength="8.0" lengthAdjust="spacingAndGlyphs">60</text>
<line x1="308.5" y1="57.8" x2="311" y2="57.8" stroke="#bdbdbd" stroke-width="0.8" />
<line x1="518.2" y1="57.8" x2="520.7" y2="57.8" stroke="#bdbdbd" stroke-width="0.8" />
<text x="305.4" y="60.7" font-size="8.2" fill="#505050" text-anchor="end" font-weight="normal" font-family="Liberation Sans"  textLength="7.8" lengthAdjust="spacingAndGlyphs">35</text>
<text x="527" y="60.8" font-size="8.4" fill="#2eb050" text-anchor="start" font-weight="normal" font-family="Liberation Sans"  textLength="8.0" lengthAdjust="spacingAndGlyphs">70</text>
<line x1="308.5" y1="42.8" x2="311" y2="42.8" stroke="#bdbdbd" stroke-width="0.8" />
<line x1="518.2" y1="42.8" x2="520.7" y2="42.8" stroke="#bdbdbd" stroke-width="0.8" />
<text x="305.4" y="45.7" font-size="8.2" fill="#505050" text-anchor="end" font-weight="normal" font-family="Liberation Sans"  textLength="7.8" lengthAdjust="spacingAndGlyphs">40</text>
<text x="527" y="45.8" font-size="8.4" fill="#2eb050" text-anchor="start" font-weight="normal" font-family="Liberation Sans"  textLength="8.0" lengthAdjust="spacingAndGlyphs">80</text>
<line x1="308.5" y1="27.7" x2="311" y2="27.7" stroke="#bdbdbd" stroke-width="0.8" />
<line x1="518.2" y1="27.7" x2="520.7" y2="27.7" stroke="#bdbdbd" stroke-width="0.8" />
<text x="305.4" y="30.6" font-size="8.2" fill="#505050" text-anchor="end" font-weight="normal" font-family="Liberation Sans"  textLength="7.8" lengthAdjust="spacingAndGlyphs">45</text>
<text x="527" y="30.7" font-size="8.4" fill="#2eb050" text-anchor="start" font-weight="normal" font-family="Liberation Sans"  textLength="8.0" lengthAdjust="spacingAndGlyphs">90</text>
<line x1="308.5" y1="12.7" x2="311" y2="12.7" stroke="#bdbdbd" stroke-width="0.8" />
<line x1="518.2" y1="12.7" x2="520.7" y2="12.7" stroke="#bdbdbd" stroke-width="0.8" />
<text x="305.4" y="15.6" font-size="8.2" fill="#505050" text-anchor="end" font-weight="normal" font-family="Liberation Sans"  textLength="7.8" lengthAdjust="spacingAndGlyphs">50</text>
<text x="527" y="15.7" font-size="8.4" fill="#2eb050" text-anchor="start" font-weight="normal" font-family="Liberation Sans"  textLength="12.0" lengthAdjust="spacingAndGlyphs">100</text>
<text x="311" y="174.8" font-size="8.2" fill="#505050" text-anchor="middle" font-weight="normal" font-family="Liberation Sans" >0</text>
<text x="340.6" y="174.8" font-size="8.2" fill="#505050" text-anchor="middle" font-weight="normal" font-family="Liberation Sans" >2</text>
<text x="370.2" y="174.8" font-size="8.2" fill="#505050" text-anchor="middle" font-weight="normal" font-family="Liberation Sans" >4</text>
<text x="399.8" y="174.8" font-size="8.2" fill="#505050" text-anchor="middle" font-weight="normal" font-family="Liberation Sans" >6</text>
<text x="429.4" y="174.8" font-size="8.2" fill="#505050" text-anchor="middle" font-weight="normal" font-family="Liberation Sans" >8</text>
<text x="459" y="174.8" font-size="8.2" fill="#505050" text-anchor="middle" font-weight="normal" font-family="Liberation Sans"  textLength="7.8" lengthAdjust="spacingAndGlyphs">10</text>
<text x="488.6" y="174.8" font-size="8.2" fill="#505050" text-anchor="middle" font-weight="normal" font-family="Liberation Sans"  textLength="7.8" lengthAdjust="spacingAndGlyphs">12</text>
<text x="518.2" y="174.8" font-size="8.2" fill="#505050" text-anchor="middle" font-weight="normal" font-family="Liberation Sans"  textLength="7.8" lengthAdjust="spacingAndGlyphs">14</text>
<text x="416.8" y="189.5" font-size="8.2" fill="#202020" text-anchor="middle" font-weight="bold" font-family="Liberation Sans"  textLength="104" lengthAdjust="spacingAndGlyphs">Total in situ gas content (cc/g)</text>
<text x="0" y="0" font-size="8.0" fill="#202020" text-anchor="middle" font-weight="bold" font-family="Liberation Sans" transform="translate(288.5,94.2) rotate(-90)" textLength="104" lengthAdjust="spacingAndGlyphs">Percentage of desorption gas (%)</text>
<text x="0" y="0" font-size="8.6" fill="#2eb050" text-anchor="middle" font-weight="bold" font-family="Liberation Sans" transform="translate(543.6,84) rotate(-90)" textLength="50" lengthAdjust="spacingAndGlyphs">Lost gas (%)</text>
<text x="309.6" y="9.9" font-size="9" fill="#101010" text-anchor="start" font-weight="bold" font-family="Liberation Serif" >(b)</text>
<circle cx="397.4" cy="151.2" r="2.4" fill="none" stroke="#4646ea" stroke-width="0.85"/>
<circle cx="367" cy="133.8" r="2.4" fill="none" stroke="#4646ea" stroke-width="0.85"/>
<circle cx="360.2" cy="136.1" r="2.4" fill="none" stroke="#4646ea" stroke-width="0.85"/>
<circle cx="439" cy="152.1" r="2.4" fill="none" stroke="#4646ea" stroke-width="0.85"/>
<circle cx="393.1" cy="148.9" r="2.4" fill="none" stroke="#4646ea" stroke-width="0.85"/>
<circle cx="418" cy="152.7" r="2.4" fill="none" stroke="#4646ea" stroke-width="0.85"/>
<circle cx="410" cy="151.1" r="2.4" fill="none" stroke="#4646ea" stroke-width="0.85"/>
<circle cx="400.4" cy="150" r="2.4" fill="none" stroke="#4646ea" stroke-width="0.85"/>
<circle cx="364.8" cy="134" r="2.4" fill="none" stroke="#4646ea" stroke-width="0.85"/>
<circle cx="418.7" cy="153.6" r="2.4" fill="none" stroke="#4646ea" stroke-width="0.85"/>
<circle cx="421.4" cy="155" r="2.4" fill="none" stroke="#4646ea" stroke-width="0.85"/>
<circle cx="422.3" cy="149.1" r="2.4" fill="none" stroke="#4646ea" stroke-width="0.85"/>
<circle cx="369" cy="138" r="2.4" fill="none" stroke="#4646ea" stroke-width="0.85"/>
<circle cx="438.1" cy="152.5" r="2.4" fill="none" stroke="#4646ea" stroke-width="0.85"/>
<circle cx="382" cy="148.5" r="2.4" fill="none" stroke="#4646ea" stroke-width="0.85"/>
<circle cx="400" cy="149.2" r="2.4" fill="none" stroke="#4646ea" stroke-width="0.85"/>
<circle cx="420.3" cy="154" r="2.4" fill="none" stroke="#4646ea" stroke-width="0.85"/>
<circle cx="425.9" cy="156.4" r="2.4" fill="none" stroke="#4646ea" stroke-width="0.85"/>
<circle cx="373.2" cy="132.9" r="2.4" fill="none" stroke="#4646ea" stroke-width="0.85"/>
<circle cx="376.2" cy="140.2" r="2.4" fill="none" stroke="#4646ea" stroke-width="0.85"/>
<circle cx="366.8" cy="144.7" r="2.4" fill="none" stroke="#4646ea" stroke-width="0.85"/>
<circle cx="425.8" cy="148.3" r="2.4" fill="none" stroke="#4646ea" stroke-width="0.85"/>
<circle cx="372.4" cy="136.9" r="2.4" fill="none" stroke="#4646ea" stroke-width="0.85"/>
<circle cx="411.7" cy="150.3" r="2.4" fill="none" stroke="#4646ea" stroke-width="0.85"/>
<circle cx="365.7" cy="140" r="2.4" fill="none" stroke="#4646ea" stroke-width="0.85"/>
<circle cx="383.9" cy="135.5" r="2.4" fill="none" stroke="#4646ea" stroke-width="0.85"/>
<circle cx="426.3" cy="156.1" r="2.4" fill="none" stroke="#4646ea" stroke-width="0.85"/>
<circle cx="367.7" cy="140.9" r="2.4" fill="none" stroke="#4646ea" stroke-width="0.85"/>
<circle cx="388.8" cy="147.3" r="2.4" fill="none" stroke="#4646ea" stroke-width="0.85"/>
<circle cx="372.7" cy="130.8" r="2.4" fill="none" stroke="#4646ea" stroke-width="0.85"/>
<circle cx="423.8" cy="151" r="2.4" fill="none" stroke="#4646ea" stroke-width="0.85"/>
<circle cx="386.8" cy="150.1" r="2.4" fill="none" stroke="#4646ea" stroke-width="0.85"/>
<circle cx="400.7" cy="148.2" r="2.4" fill="none" stroke="#4646ea" stroke-width="0.85"/>
<circle cx="402.3" cy="145.7" r="2.4" fill="none" stroke="#4646ea" stroke-width="0.85"/>
<circle cx="408.6" cy="151.6" r="2.4" fill="none" stroke="#4646ea" stroke-width="0.85"/>
<circle cx="382" cy="139.5" r="2.4" fill="none" stroke="#4646ea" stroke-width="0.85"/>
<circle cx="363.5" cy="138.7" r="2.4" fill="none" stroke="#4646ea" stroke-width="0.85"/>
<circle cx="399.7" cy="144" r="2.4" fill="none" stroke="#4646ea" stroke-width="0.85"/>
<circle cx="366.6" cy="138.4" r="2.4" fill="none" stroke="#4646ea" stroke-width="0.85"/>
<circle cx="392.5" cy="148.9" r="2.4" fill="none" stroke="#4646ea" stroke-width="0.85"/>
<circle cx="409.8" cy="152.7" r="2.4" fill="none" stroke="#4646ea" stroke-width="0.85"/>
<circle cx="347.5" cy="133.6" r="2.4" fill="none" stroke="#4646ea" stroke-width="0.85"/>
<circle cx="391.8" cy="153.6" r="2.4" fill="none" stroke="#4646ea" stroke-width="0.85"/>
<circle cx="383.2" cy="147.4" r="2.4" fill="none" stroke="#4646ea" stroke-width="0.85"/>
<circle cx="400.7" cy="147" r="2.4" fill="none" stroke="#4646ea" stroke-width="0.85"/>
<circle cx="386.8" cy="146.2" r="2.4" fill="none" stroke="#4646ea" stroke-width="0.85"/>
<circle cx="409.6" cy="151.2" r="2.4" fill="none" stroke="#4646ea" stroke-width="0.85"/>
<circle cx="377" cy="142.4" r="2.4" fill="none" stroke="#4646ea" stroke-width="0.85"/>
<circle cx="390.5" cy="149.4" r="2.4" fill="none" stroke="#4646ea" stroke-width="0.85"/>
<circle cx="369.3" cy="142.4" r="2.4" fill="none" stroke="#4646ea" stroke-width="0.85"/>
<circle cx="390.7" cy="144.1" r="2.4" fill="none" stroke="#4646ea" stroke-width="0.85"/>
<circle cx="373.6" cy="145.4" r="2.4" fill="none" stroke="#4646ea" stroke-width="0.85"/>
<circle cx="391.5" cy="142.5" r="2.4" fill="none" stroke="#4646ea" stroke-width="0.85"/>
<circle cx="370.5" cy="143.9" r="2.4" fill="none" stroke="#4646ea" stroke-width="0.85"/>
<circle cx="416.2" cy="151.7" r="2.4" fill="none" stroke="#4646ea" stroke-width="0.85"/>
<circle cx="380.5" cy="142.4" r="2.4" fill="none" stroke="#4646ea" stroke-width="0.85"/>
<circle cx="384.8" cy="150.2" r="2.4" fill="none" stroke="#4646ea" stroke-width="0.85"/>
<circle cx="351.3" cy="127.4" r="2.4" fill="none" stroke="#4646ea" stroke-width="0.85"/>
<circle cx="389.3" cy="149.4" r="2.4" fill="none" stroke="#4646ea" stroke-width="0.85"/>
<circle cx="388.9" cy="144.8" r="2.4" fill="none" stroke="#4646ea" stroke-width="0.85"/>
<circle cx="361.9" cy="138.4" r="2.4" fill="none" stroke="#4646ea" stroke-width="0.85"/>
<circle cx="432.4" cy="150.7" r="2.4" fill="none" stroke="#4646ea" stroke-width="0.85"/>
<circle cx="416" cy="152.9" r="2.4" fill="none" stroke="#4646ea" stroke-width="0.85"/>
<circle cx="384.5" cy="149.2" r="2.4" fill="none" stroke="#4646ea" stroke-width="0.85"/>
<circle cx="367.1" cy="142.9" r="2.4" fill="none" stroke="#4646ea" stroke-width="0.85"/>
<circle cx="365.7" cy="141.1" r="2.4" fill="none" stroke="#4646ea" stroke-width="0.85"/>
<circle cx="444.9" cy="149.6" r="2.4" fill="none" stroke="#4646ea" stroke-width="0.85"/>
<circle cx="399.5" cy="151.7" r="2.4" fill="none" stroke="#4646ea" stroke-width="0.85"/>
<circle cx="358.7" cy="132.3" r="2.4" fill="none" stroke="#4646ea" stroke-width="0.85"/>
<circle cx="396.2" cy="145.7" r="2.4" fill="none" stroke="#4646ea" stroke-width="0.85"/>
<circle cx="422.6" cy="153.7" r="2.4" fill="none" stroke="#4646ea" stroke-width="0.85"/>
<circle cx="417.6" cy="153" r="2.4" fill="none" stroke="#4646ea" stroke-width="0.85"/>
<circle cx="412.6" cy="152" r="2.4" fill="none" stroke="#4646ea" stroke-width="0.85"/>
<circle cx="414.8" cy="149.8" r="2.4" fill="none" stroke="#4646ea" stroke-width="0.85"/>
<circle cx="413.2" cy="146" r="2.4" fill="none" stroke="#4646ea" stroke-width="0.85"/>
<circle cx="363.3" cy="142" r="2.4" fill="none" stroke="#4646ea" stroke-width="0.85"/>
<circle cx="417.7" cy="149.5" r="2.4" fill="none" stroke="#4646ea" stroke-width="0.85"/>
<circle cx="396.4" cy="147.5" r="2.4" fill="none" stroke="#4646ea" stroke-width="0.85"/>
<circle cx="392.9" cy="147.6" r="2.4" fill="none" stroke="#4646ea" stroke-width="0.85"/>
<circle cx="348.6" cy="126.8" r="2.4" fill="none" stroke="#4646ea" stroke-width="0.85"/>
<circle cx="347.6" cy="105.2" r="2.4" fill="none" stroke="#4646ea" stroke-width="0.85"/>
<circle cx="354.7" cy="134.1" r="2.4" fill="none" stroke="#4646ea" stroke-width="0.85"/>
<circle cx="382.8" cy="148.3" r="2.4" fill="none" stroke="#4646ea" stroke-width="0.85"/>
<circle cx="385.8" cy="141.1" r="2.4" fill="none" stroke="#4646ea" stroke-width="0.85"/>
<circle cx="383.7" cy="141.6" r="2.4" fill="none" stroke="#4646ea" stroke-width="0.85"/>
<circle cx="387" cy="142.7" r="2.4" fill="none" stroke="#4646ea" stroke-width="0.85"/>
<circle cx="349.4" cy="134" r="2.4" fill="none" stroke="#4646ea" stroke-width="0.85"/>
<circle cx="387" cy="142.3" r="2.4" fill="none" stroke="#4646ea" stroke-width="0.85"/>
<circle cx="402.4" cy="151.8" r="2.4" fill="none" stroke="#4646ea" stroke-width="0.85"/>
<circle cx="407.5" cy="149.1" r="2.4" fill="none" stroke="#4646ea" stroke-width="0.85"/>
<circle cx="407" cy="152.1" r="2.4" fill="none" stroke="#4646ea" stroke-width="0.85"/>
<circle cx="407" cy="149.6" r="2.4" fill="none" stroke="#4646ea" stroke-width="0.85"/>
<circle cx="353.4" cy="141.6" r="2.4" fill="none" stroke="#4646ea" stroke-width="0.85"/>
<circle cx="436.4" cy="151.3" r="2.4" fill="none" stroke="#4646ea" stroke-width="0.85"/>
<circle cx="413.1" cy="151.2" r="2.4" fill="none" stroke="#4646ea" stroke-width="0.85"/>
<circle cx="359.8" cy="128" r="2.4" fill="none" stroke="#4646ea" stroke-width="0.85"/>
<circle cx="419.3" cy="150.8" r="2.4" fill="none" stroke="#4646ea" stroke-width="0.85"/>
<circle cx="398.7" cy="152.6" r="2.4" fill="none" stroke="#4646ea" stroke-width="0.85"/>
<circle cx="356.1" cy="129.2" r="2.4" fill="none" stroke="#4646ea" stroke-width="0.85"/>
<circle cx="365.6" cy="138.8" r="2.4" fill="none" stroke="#4646ea" stroke-width="0.85"/>
<circle cx="348.1" cy="121.9" r="2.4" fill="none" stroke="#4646ea" stroke-width="0.85"/>
<circle cx="360.2" cy="138.3" r="2.4" fill="none" stroke="#4646ea" stroke-width="0.85"/>
<circle cx="360.3" cy="140.7" r="2.4" fill="none" stroke="#4646ea" stroke-width="0.85"/>
<circle cx="365.1" cy="137.9" r="2.4" fill="none" stroke="#4646ea" stroke-width="0.85"/>
<circle cx="369.6" cy="145.8" r="2.4" fill="none" stroke="#4646ea" stroke-width="0.85"/>
<circle cx="422.3" cy="150" r="2.4" fill="none" stroke="#4646ea" stroke-width="0.85"/>
<circle cx="415.5" cy="150.4" r="2.4" fill="none" stroke="#4646ea" stroke-width="0.85"/>
<circle cx="374.2" cy="142.5" r="2.4" fill="none" stroke="#4646ea" stroke-width="0.85"/>
<circle cx="387.9" cy="140.7" r="2.4" fill="none" stroke="#4646ea" stroke-width="0.85"/>
<circle cx="388" cy="148.7" r="2.4" fill="none" stroke="#4646ea" stroke-width="0.85"/>
<circle cx="354.7" cy="125.7" r="2.4" fill="none" stroke="#4646ea" stroke-width="0.85"/>
<circle cx="437.4" cy="153.6" r="2.4" fill="none" stroke="#4646ea" stroke-width="0.85"/>
<circle cx="410.9" cy="152.2" r="2.4" fill="none" stroke="#4646ea" stroke-width="0.85"/>
<circle cx="395.7" cy="152.2" r="2.4" fill="none" stroke="#4646ea" stroke-width="0.85"/>
<circle cx="372.3" cy="141.1" r="2.4" fill="none" stroke="#4646ea" stroke-width="0.85"/>
<circle cx="358.7" cy="127.6" r="2.4" fill="none" stroke="#4646ea" stroke-width="0.85"/>
<circle cx="408.6" cy="152" r="2.4" fill="none" stroke="#4646ea" stroke-width="0.85"/>
<circle cx="379.8" cy="142.6" r="2.4" fill="none" stroke="#4646ea" stroke-width="0.85"/>
<circle cx="377.6" cy="137.5" r="2.4" fill="none" stroke="#4646ea" stroke-width="0.85"/>
<circle cx="423.5" cy="153.3" r="2.4" fill="none" stroke="#4646ea" stroke-width="0.85"/>
<circle cx="417.1" cy="147" r="2.4" fill="none" stroke="#4646ea" stroke-width="0.85"/>
<circle cx="379.8" cy="144.2" r="2.4" fill="none" stroke="#4646ea" stroke-width="0.85"/>
<circle cx="387.2" cy="145.6" r="2.4" fill="none" stroke="#4646ea" stroke-width="0.85"/>
<circle cx="385.7" cy="148.6" r="2.4" fill="none" stroke="#4646ea" stroke-width="0.85"/>
<circle cx="425.9" cy="148.2" r="2.4" fill="none" stroke="#4646ea" stroke-width="0.85"/>
<circle cx="328.8" cy="50.3" r="2.4" fill="none" stroke="#4646ea" stroke-width="0.85"/>
<circle cx="347.3" cy="65.3" r="2.4" fill="none" stroke="#4646ea" stroke-width="0.85"/>
<circle cx="497.5" cy="147.4" r="2.4" fill="none" stroke="#4646ea" stroke-width="0.85"/>
<circle cx="350.7" cy="107.1" r="2.4" fill="none" stroke="#4646ea" stroke-width="0.85"/>
<circle cx="357.3" cy="110.7" r="2.4" fill="none" stroke="#4646ea" stroke-width="0.85"/>
<circle cx="358.4" cy="118.5" r="2.4" fill="none" stroke="#4646ea" stroke-width="0.85"/>
<circle cx="349.5" cy="132.6" r="2.4" fill="none" stroke="#4646ea" stroke-width="0.85"/>
<circle cx="364.9" cy="120.6" r="2.4" fill="none" stroke="#4646ea" stroke-width="0.85"/>
<circle cx="369.4" cy="140.1" r="2.4" fill="none" stroke="#e83434" stroke-width="0.85"/>
<circle cx="353.1" cy="123.7" r="2.4" fill="none" stroke="#e83434" stroke-width="0.85"/>
<circle cx="447.8" cy="153.1" r="2.4" fill="none" stroke="#e83434" stroke-width="0.85"/>
<circle cx="380.4" cy="145.1" r="2.4" fill="none" stroke="#e83434" stroke-width="0.85"/>
<circle cx="369.6" cy="135" r="2.4" fill="none" stroke="#e83434" stroke-width="0.85"/>
<circle cx="414.1" cy="141.7" r="2.4" fill="none" stroke="#e83434" stroke-width="0.85"/>
<circle cx="375.1" cy="142.6" r="2.4" fill="none" stroke="#e83434" stroke-width="0.85"/>
<circle cx="417.2" cy="146" r="2.4" fill="none" stroke="#e83434" stroke-width="0.85"/>
<circle cx="368.3" cy="142.9" r="2.4" fill="none" stroke="#e83434" stroke-width="0.85"/>
<circle cx="374.1" cy="143.9" r="2.4" fill="none" stroke="#e83434" stroke-width="0.85"/>
<circle cx="368.5" cy="125.2" r="2.4" fill="none" stroke="#e83434" stroke-width="0.85"/>
<circle cx="381.9" cy="145.8" r="2.4" fill="none" stroke="#e83434" stroke-width="0.85"/>
<circle cx="441.7" cy="149.2" r="2.4" fill="none" stroke="#e83434" stroke-width="0.85"/>
<circle cx="389.1" cy="149.2" r="2.4" fill="none" stroke="#e83434" stroke-width="0.85"/>
<circle cx="390.2" cy="143.3" r="2.4" fill="none" stroke="#e83434" stroke-width="0.85"/>
<circle cx="365.6" cy="131.3" r="2.4" fill="none" stroke="#e83434" stroke-width="0.85"/>
<circle cx="356.7" cy="131.4" r="2.4" fill="none" stroke="#e83434" stroke-width="0.85"/>
<circle cx="384.6" cy="137.9" r="2.4" fill="none" stroke="#e83434" stroke-width="0.85"/>
<circle cx="431.7" cy="153.1" r="2.4" fill="none" stroke="#e83434" stroke-width="0.85"/>
<circle cx="380.4" cy="140.6" r="2.4" fill="none" stroke="#e83434" stroke-width="0.85"/>
<circle cx="410.3" cy="150.6" r="2.4" fill="none" stroke="#e83434" stroke-width="0.85"/>
<circle cx="429.1" cy="148.4" r="2.4" fill="none" stroke="#e83434" stroke-width="0.85"/>
<circle cx="350.2" cy="122.5" r="2.4" fill="none" stroke="#e83434" stroke-width="0.85"/>
<circle cx="383.9" cy="148.2" r="2.4" fill="none" stroke="#e83434" stroke-width="0.85"/>
<circle cx="392" cy="139.1" r="2.4" fill="none" stroke="#e83434" stroke-width="0.85"/>
<circle cx="423.6" cy="149.8" r="2.4" fill="none" stroke="#e83434" stroke-width="0.85"/>
<circle cx="423.9" cy="148.7" r="2.4" fill="none" stroke="#e83434" stroke-width="0.85"/>
<circle cx="447.1" cy="153" r="2.4" fill="none" stroke="#e83434" stroke-width="0.85"/>
<circle cx="422.8" cy="153.8" r="2.4" fill="none" stroke="#e83434" stroke-width="0.85"/>
<circle cx="375" cy="145.5" r="2.4" fill="none" stroke="#e83434" stroke-width="0.85"/>
<circle cx="371.5" cy="146.6" r="2.4" fill="none" stroke="#e83434" stroke-width="0.85"/>
<circle cx="363.4" cy="122" r="2.4" fill="none" stroke="#e83434" stroke-width="0.85"/>
<circle cx="349.3" cy="120.7" r="2.4" fill="none" stroke="#e83434" stroke-width="0.85"/>
<circle cx="369" cy="142.1" r="2.4" fill="none" stroke="#e83434" stroke-width="0.85"/>
<circle cx="437.7" cy="152.2" r="2.4" fill="none" stroke="#e83434" stroke-width="0.85"/>
<circle cx="349.3" cy="119.5" r="2.4" fill="none" stroke="#e83434" stroke-width="0.85"/>
<circle cx="372.3" cy="132.7" r="2.4" fill="none" stroke="#e83434" stroke-width="0.85"/>
<circle cx="426.3" cy="150.5" r="2.4" fill="none" stroke="#e83434" stroke-width="0.85"/>
<circle cx="355.1" cy="127.3" r="2.4" fill="none" stroke="#e83434" stroke-width="0.85"/>
<circle cx="439.2" cy="154.5" r="2.4" fill="none" stroke="#e83434" stroke-width="0.85"/>
<circle cx="388.9" cy="140.4" r="2.4" fill="none" stroke="#e83434" stroke-width="0.85"/>
<circle cx="419.4" cy="149.7" r="2.4" fill="none" stroke="#e83434" stroke-width="0.85"/>
<circle cx="394.5" cy="143.2" r="2.4" fill="none" stroke="#e83434" stroke-width="0.85"/>
<circle cx="376" cy="139.9" r="2.4" fill="none" stroke="#e83434" stroke-width="0.85"/>
<circle cx="418.1" cy="149.6" r="2.4" fill="none" stroke="#e83434" stroke-width="0.85"/>
<circle cx="441.5" cy="152.2" r="2.4" fill="none" stroke="#e83434" stroke-width="0.85"/>
<circle cx="437.2" cy="149.3" r="2.4" fill="none" stroke="#e83434" stroke-width="0.85"/>
<circle cx="410.2" cy="151.3" r="2.4" fill="none" stroke="#e83434" stroke-width="0.85"/>
<circle cx="368.7" cy="134.6" r="2.4" fill="none" stroke="#e83434" stroke-width="0.85"/>
<circle cx="421.6" cy="144.3" r="2.4" fill="none" stroke="#e83434" stroke-width="0.85"/>
<circle cx="404.6" cy="146.7" r="2.4" fill="none" stroke="#e83434" stroke-width="0.85"/>
<circle cx="396.4" cy="150.6" r="2.4" fill="none" stroke="#e83434" stroke-width="0.85"/>
<circle cx="406.5" cy="149.2" r="2.4" fill="none" stroke="#e83434" stroke-width="0.85"/>
<circle cx="428.4" cy="144.5" r="2.4" fill="none" stroke="#e83434" stroke-width="0.85"/>
<circle cx="452.1" cy="153.9" r="2.4" fill="none" stroke="#e83434" stroke-width="0.85"/>
<circle cx="370.9" cy="139.8" r="2.4" fill="none" stroke="#e83434" stroke-width="0.85"/>
<circle cx="444.2" cy="151.7" r="2.4" fill="none" stroke="#e83434" stroke-width="0.85"/>
<circle cx="399" cy="146.3" r="2.4" fill="none" stroke="#e83434" stroke-width="0.85"/>
<circle cx="421.8" cy="150.6" r="2.4" fill="none" stroke="#e83434" stroke-width="0.85"/>
<circle cx="426.8" cy="151.1" r="2.4" fill="none" stroke="#e83434" stroke-width="0.85"/>
<circle cx="370.2" cy="134.5" r="2.4" fill="none" stroke="#e83434" stroke-width="0.85"/>
<circle cx="397.8" cy="151.5" r="2.4" fill="none" stroke="#e83434" stroke-width="0.85"/>
<circle cx="375.6" cy="142.4" r="2.4" fill="none" stroke="#e83434" stroke-width="0.85"/>
<circle cx="412" cy="151.4" r="2.4" fill="none" stroke="#e83434" stroke-width="0.85"/>
<circle cx="396.3" cy="145.6" r="2.4" fill="none" stroke="#e83434" stroke-width="0.85"/>
<circle cx="393.9" cy="145.8" r="2.4" fill="none" stroke="#e83434" stroke-width="0.85"/>
<circle cx="401.5" cy="145.4" r="2.4" fill="none" stroke="#e83434" stroke-width="0.85"/>
<circle cx="396.1" cy="143.7" r="2.4" fill="none" stroke="#e83434" stroke-width="0.85"/>
<circle cx="360.2" cy="131.1" r="2.4" fill="none" stroke="#e83434" stroke-width="0.85"/>
<circle cx="387.1" cy="145.6" r="2.4" fill="none" stroke="#e83434" stroke-width="0.85"/>
<circle cx="382.6" cy="142.4" r="2.4" fill="none" stroke="#e83434" stroke-width="0.85"/>
<circle cx="429" cy="148.4" r="2.4" fill="none" stroke="#e83434" stroke-width="0.85"/>
<circle cx="356.6" cy="122.8" r="2.4" fill="none" stroke="#e83434" stroke-width="0.85"/>
<circle cx="417.4" cy="152.1" r="2.4" fill="none" stroke="#e83434" stroke-width="0.85"/>
<circle cx="367.1" cy="133.7" r="2.4" fill="none" stroke="#e83434" stroke-width="0.85"/>
<circle cx="416" cy="151.1" r="2.4" fill="none" stroke="#e83434" stroke-width="0.85"/>
<circle cx="413.6" cy="146.4" r="2.4" fill="none" stroke="#e83434" stroke-width="0.85"/>
<circle cx="372.3" cy="128.3" r="2.4" fill="none" stroke="#e83434" stroke-width="0.85"/>
<circle cx="384.3" cy="150.4" r="2.4" fill="none" stroke="#e83434" stroke-width="0.85"/>
<circle cx="363.2" cy="137.5" r="2.4" fill="none" stroke="#e83434" stroke-width="0.85"/>
<circle cx="397.5" cy="151.3" r="2.4" fill="none" stroke="#e83434" stroke-width="0.85"/>
<circle cx="367.6" cy="136.1" r="2.4" fill="none" stroke="#e83434" stroke-width="0.85"/>
<circle cx="416.7" cy="152.6" r="2.4" fill="none" stroke="#e83434" stroke-width="0.85"/>
<circle cx="443.1" cy="149.6" r="2.4" fill="none" stroke="#e83434" stroke-width="0.85"/>
<circle cx="401.6" cy="150.1" r="2.4" fill="none" stroke="#e83434" stroke-width="0.85"/>
<circle cx="420.8" cy="143.9" r="2.4" fill="none" stroke="#e83434" stroke-width="0.85"/>
<circle cx="418" cy="149.3" r="2.4" fill="none" stroke="#e83434" stroke-width="0.85"/>
<circle cx="371.8" cy="144.8" r="2.4" fill="none" stroke="#e83434" stroke-width="0.85"/>
<circle cx="385.8" cy="145" r="2.4" fill="none" stroke="#e83434" stroke-width="0.85"/>
<circle cx="348.9" cy="125.7" r="2.4" fill="none" stroke="#e83434" stroke-width="0.85"/>
<circle cx="374.1" cy="135.7" r="2.4" fill="none" stroke="#e83434" stroke-width="0.85"/>
<circle cx="385.1" cy="145.8" r="2.4" fill="none" stroke="#e83434" stroke-width="0.85"/>
<circle cx="368.7" cy="145.9" r="2.4" fill="none" stroke="#e83434" stroke-width="0.85"/>
<circle cx="404.4" cy="143.2" r="2.4" fill="none" stroke="#e83434" stroke-width="0.85"/>
<circle cx="381.9" cy="141.8" r="2.4" fill="none" stroke="#e83434" stroke-width="0.85"/>
<circle cx="448.5" cy="153.3" r="2.4" fill="none" stroke="#e83434" stroke-width="0.85"/>
<circle cx="414.2" cy="148" r="2.4" fill="none" stroke="#e83434" stroke-width="0.85"/>
<circle cx="394.3" cy="146.6" r="2.4" fill="none" stroke="#e83434" stroke-width="0.85"/>
<circle cx="422.5" cy="150.3" r="2.4" fill="none" stroke="#e83434" stroke-width="0.85"/>
<circle cx="357.1" cy="144" r="2.4" fill="none" stroke="#e83434" stroke-width="0.85"/>
<circle cx="410.2" cy="152.6" r="2.4" fill="none" stroke="#e83434" stroke-width="0.85"/>
<circle cx="421.8" cy="153.6" r="2.4" fill="none" stroke="#e83434" stroke-width="0.85"/>
<circle cx="400.9" cy="142.8" r="2.4" fill="none" stroke="#e83434" stroke-width="0.85"/>
<circle cx="377.5" cy="145.1" r="2.4" fill="none" stroke="#e83434" stroke-width="0.85"/>
<circle cx="402.7" cy="139.1" r="2.4" fill="none" stroke="#e83434" stroke-width="0.85"/>
<circle cx="388.3" cy="144.7" r="2.4" fill="none" stroke="#e83434" stroke-width="0.85"/>
<circle cx="380.9" cy="142.9" r="2.4" fill="none" stroke="#e83434" stroke-width="0.85"/>
<circle cx="397.2" cy="146.4" r="2.4" fill="none" stroke="#e83434" stroke-width="0.85"/>
<circle cx="401.9" cy="152" r="2.4" fill="none" stroke="#e83434" stroke-width="0.85"/>
<circle cx="372.7" cy="128" r="2.4" fill="none" stroke="#e83434" stroke-width="0.85"/>
<circle cx="362.4" cy="116.3" r="2.4" fill="none" stroke="#e83434" stroke-width="0.85"/>
<circle cx="382.7" cy="143.6" r="2.4" fill="none" stroke="#e83434" stroke-width="0.85"/>
<circle cx="350.7" cy="120.7" r="2.4" fill="none" stroke="#e83434" stroke-width="0.85"/>
<circle cx="412.3" cy="141.1" r="2.4" fill="none" stroke="#e83434" stroke-width="0.85"/>
<circle cx="378" cy="144.5" r="2.4" fill="none" stroke="#e83434" stroke-width="0.85"/>
<circle cx="413.1" cy="141" r="2.4" fill="none" stroke="#e83434" stroke-width="0.85"/>
<circle cx="397.6" cy="144" r="2.4" fill="none" stroke="#e83434" stroke-width="0.85"/>
<circle cx="372.8" cy="140.3" r="2.4" fill="none" stroke="#e83434" stroke-width="0.85"/>
<circle cx="347" cy="121.5" r="2.4" fill="none" stroke="#e83434" stroke-width="0.85"/>
<circle cx="362.7" cy="131.1" r="2.4" fill="none" stroke="#e83434" stroke-width="0.85"/>
<circle cx="419.5" cy="151.6" r="2.4" fill="none" stroke="#e83434" stroke-width="0.85"/>
<circle cx="423.4" cy="154.2" r="2.4" fill="none" stroke="#e83434" stroke-width="0.85"/>
<circle cx="408.6" cy="152.5" r="2.4" fill="none" stroke="#e83434" stroke-width="0.85"/>
<circle cx="398" cy="148.6" r="2.4" fill="none" stroke="#e83434" stroke-width="0.85"/>
<circle cx="372.6" cy="135.8" r="2.4" fill="none" stroke="#e83434" stroke-width="0.85"/>
<circle cx="349.3" cy="129.8" r="2.4" fill="none" stroke="#e83434" stroke-width="0.85"/>
<circle cx="379.1" cy="146.4" r="2.4" fill="none" stroke="#e83434" stroke-width="0.85"/>
<circle cx="383.7" cy="138.9" r="2.4" fill="none" stroke="#e83434" stroke-width="0.85"/>
<circle cx="389.7" cy="135.4" r="2.4" fill="none" stroke="#e83434" stroke-width="0.85"/>
<circle cx="362.2" cy="131.4" r="2.4" fill="none" stroke="#e83434" stroke-width="0.85"/>
<circle cx="372.8" cy="133.2" r="2.4" fill="none" stroke="#e83434" stroke-width="0.85"/>
<circle cx="398" cy="151.3" r="2.4" fill="none" stroke="#e83434" stroke-width="0.85"/>
<circle cx="408.5" cy="146.4" r="2.4" fill="none" stroke="#e83434" stroke-width="0.85"/>
<circle cx="445.3" cy="148.8" r="2.4" fill="none" stroke="#e83434" stroke-width="0.85"/>
<circle cx="451.4" cy="156" r="2.4" fill="none" stroke="#e83434" stroke-width="0.85"/>
<circle cx="400.2" cy="142.2" r="2.4" fill="none" stroke="#e83434" stroke-width="0.85"/>
<circle cx="356.6" cy="124.2" r="2.4" fill="none" stroke="#e83434" stroke-width="0.85"/>
<circle cx="419.9" cy="151.6" r="2.4" fill="none" stroke="#e83434" stroke-width="0.85"/>
<circle cx="365.2" cy="138.4" r="2.4" fill="none" stroke="#e83434" stroke-width="0.85"/>
<circle cx="404.9" cy="149.8" r="2.4" fill="none" stroke="#e83434" stroke-width="0.85"/>
<circle cx="419.8" cy="152" r="2.4" fill="none" stroke="#e83434" stroke-width="0.85"/>
<circle cx="419.5" cy="152" r="2.4" fill="none" stroke="#e83434" stroke-width="0.85"/>
<circle cx="419" cy="152.4" r="2.4" fill="none" stroke="#e83434" stroke-width="0.85"/>
<circle cx="396.3" cy="150.4" r="2.4" fill="none" stroke="#e83434" stroke-width="0.85"/>
<circle cx="435.8" cy="148.6" r="2.4" fill="none" stroke="#e83434" stroke-width="0.85"/>
<circle cx="397.5" cy="143.9" r="2.4" fill="none" stroke="#e83434" stroke-width="0.85"/>
<circle cx="378.7" cy="141.1" r="2.4" fill="none" stroke="#e83434" stroke-width="0.85"/>
<circle cx="420.6" cy="149.5" r="2.4" fill="none" stroke="#e83434" stroke-width="0.85"/>
<circle cx="370.2" cy="126.3" r="2.4" fill="none" stroke="#e83434" stroke-width="0.85"/>
<circle cx="362.9" cy="135.6" r="2.4" fill="none" stroke="#e83434" stroke-width="0.85"/>
<circle cx="328.8" cy="60.8" r="2.4" fill="none" stroke="#e83434" stroke-width="0.85"/>
<circle cx="344.2" cy="93.9" r="2.4" fill="none" stroke="#e83434" stroke-width="0.85"/>
<circle cx="385.6" cy="98.7" r="2.4" fill="none" stroke="#e83434" stroke-width="0.85"/>
<circle cx="362.8" cy="106.5" r="2.4" fill="none" stroke="#e83434" stroke-width="0.85"/>
<circle cx="388.8" cy="110.7" r="2.4" fill="none" stroke="#e83434" stroke-width="0.85"/>
<circle cx="376.6" cy="112.8" r="2.4" fill="none" stroke="#e83434" stroke-width="0.85"/>
<circle cx="368.3" cy="115.2" r="2.4" fill="none" stroke="#e83434" stroke-width="0.85"/>
<circle cx="392.3" cy="122.7" r="2.4" fill="none" stroke="#e83434" stroke-width="0.85"/>
<circle cx="412.8" cy="124.5" r="2.4" fill="none" stroke="#e83434" stroke-width="0.85"/>
<circle cx="415" cy="131.4" r="2.4" fill="none" stroke="#e83434" stroke-width="0.85"/>
<circle cx="442.4" cy="139.6" r="2.4" fill="none" stroke="#e83434" stroke-width="0.85"/>
<circle cx="436.8" cy="142.3" r="2.4" fill="none" stroke="#e83434" stroke-width="0.85"/>
<circle cx="393.9" cy="130.5" r="2.4" fill="none" stroke="#e83434" stroke-width="0.85"/>
<circle cx="376.1" cy="127.2" r="2.4" fill="none" stroke="#e83434" stroke-width="0.85"/>
<circle cx="352.9" cy="142.3" r="2.4" fill="none" stroke="#e83434" stroke-width="0.85"/>
<circle cx="407.2" cy="132.6" r="2.4" fill="none" stroke="#e83434" stroke-width="0.85"/>
<circle cx="497" cy="148.3" r="2.4" fill="none" stroke="#e83434" stroke-width="0.85"/>
<circle cx="453.1" cy="149.2" r="2.4" fill="none" stroke="#e83434" stroke-width="0.85"/>
<circle cx="413.3" cy="124.8" r="2.4" fill="none" stroke="#e83434" stroke-width="0.85"/>
<circle cx="416.8" cy="125.4" r="2.4" fill="none" stroke="#e83434" stroke-width="0.85"/>
<circle cx="421.4" cy="140.5" r="2.4" fill="none" stroke="#e83434" stroke-width="0.85"/>
<circle cx="437.2" cy="147.1" r="2.4" fill="none" stroke="#e83434" stroke-width="0.85"/>
<circle cx="442.7" cy="140.5" r="2.4" fill="none" stroke="#e83434" stroke-width="0.85"/>
<circle cx="452.2" cy="149.5" r="2.4" fill="none" stroke="#e83434" stroke-width="0.85"/>
<circle cx="497.5" cy="148" r="2.4" fill="none" stroke="#e83434" stroke-width="0.85"/>
<polyline points="330.2,64.7 345,50.3 362.8,39.8 382,31.5 399.8,25.9 414.6,24 436.8,23.8 459,26.2 473.8,25.5 488.6,23.2 497.5,20.8" fill="none" stroke="#18b040" stroke-width="1.8" stroke-linejoin="round"/>
<polyline points="329.5,140.5 348,145 377.6,149.2 414.6,151.6 444.2,153.4 496,153.4" fill="none" stroke="#18b040" stroke-width="1.8" stroke-dasharray="5,3"/>
<polyline points="330.5,61.3 331.3,65.4 332,69.3 332.8,72.9 333.5,76.2 334.2,79.4 335,82.3 335.7,85 336.5,87.6 337.2,90 337.9,92.2 338.7,94.4 339.4,96.4 340.2,98.3 340.9,100.1 341.6,101.8 342.4,103.4 343.1,105 343.9,106.5 344.6,107.9 345.3,109.2 346.1,110.5 346.8,111.7 347.6,112.9 348.3,114 349,115.1 349.8,116.1 350.5,117.1 351.3,118.1 352,119 352.7,119.9 353.5,120.7 354.2,121.5 355,122.3 355.7,123.1 356.4,123.8 357.2,124.5 357.9,125.2 358.7,125.9 359.4,126.5 360.1,127.1 360.9,127.7 361.6,128.3 362.4,128.9 363.1,129.4 363.8,129.9 364.6,130.5 365.3,131 366.1,131.4 366.8,131.9 367.5,132.4 368.3,132.8 369,133.3 369.8,133.7 370.5,134.1 371.2,134.5 372,134.9 372.7,135.3 373.5,135.6 374.2,136 374.9,136.4 375.7,136.7 376.4,137 377.2,137.4 377.9,137.7 378.6,138 379.4,138.3 380.1,138.6 380.9,138.9 381.6,139.2 382.3,139.5 383.1,139.7 383.8,140 384.6,140.3 385.3,140.5 386,140.8 386.8,141 387.5,141.2 388.3,141.5 389,141.7 389.7,141.9 390.5,142.2 391.2,142.4 392,142.6 392.7,142.8 393.4,143 394.2,143.2 394.9,143.4 395.7,143.6 396.4,143.8 397.1,144 397.9,144.2 398.6,144.3 399.4,144.5 400.1,144.7 400.8,144.9 401.6,145 402.3,145.2 403.1,145.3 403.8,145.5 404.5,145.7 405.3,145.8 406,146 406.8,146.1 407.5,146.3 408.2,146.4 409,146.5 409.7,146.7 410.5,146.8 411.2,147 411.9,147.1 412.7,147.2 413.4,147.4 414.2,147.5 414.9,147.6 415.6,147.7 416.4,147.8 417.1,148 417.9,148.1 418.6,148.2 419.3,148.3 420.1,148.4 420.8,148.5 421.6,148.6 422.3,148.8 423,148.9 423.8,149 424.5,149.1 425.3,149.2 426,149.3 426.7,149.4 427.5,149.5 428.2,149.6 429,149.7 429.7,149.8 430.4,149.8 431.2,149.9 431.9,150 432.7,150.1 433.4,150.2 434.1,150.3 434.9,150.4 435.6,150.5 436.4,150.5 437.1,150.6 437.8,150.7 438.6,150.8 439.3,150.9 440.1,151 440.8,151 441.5,151.1 442.3,151.2 443,151.3 443.8,151.3 444.5,151.4 445.2,151.5 446,151.5 446.7,151.6 447.5,151.7 448.2,151.8 448.9,151.8 449.7,151.9 450.4,152 451.2,152 451.9,152.1 452.6,152.2 453.4,152.2 454.1,152.3 454.9,152.3 455.6,152.4 456.3,152.5 457.1,152.5 457.8,152.6 458.6,152.6 459.3,152.7 460,152.8 460.8,152.8 461.5,152.9 462.3,152.9 463,153 463.7,153 464.5,153.1 465.2,153.1 466,153.2 466.7,153.3 467.4,153.3 468.2,153.4 468.9,153.4 469.7,153.5 470.4,153.5 471.1,153.6 471.9,153.6 472.6,153.7 473.4,153.7 474.1,153.8 474.8,153.8 475.6,153.8 476.3,153.9 477.1,153.9 477.8,154 478.5,154 479.3,154.1 480,154.1 480.8,154.2 481.5,154.2 482.2,154.2 483,154.3 483.7,154.3 484.5,154.4 485.2,154.4 485.9,154.5 486.7,154.5 487.4,154.5 488.2,154.6 488.9,154.6 489.6,154.7 490.4,154.7 491.1,154.7 491.9,154.8 492.6,154.8 493.3,154.8 494.1,154.9 494.8,154.9 495.6,155 496.3,155 497,155" fill="none" stroke="#22d4f4" stroke-width="2.2" />
<polyline points="328.8,60.4 329.5,64.9 330.2,69.1 331,72.9 331.7,76.4 332.5,79.7 333.2,82.8 333.9,85.6 334.7,88.3 335.4,90.7 336.2,93.1 336.9,95.3 337.6,97.3 338.4,99.3 339.1,101.1 339.9,102.9 340.6,104.5 341.3,106.1 342.1,107.6 342.8,109 343.6,110.3 344.3,111.6 345,112.9 345.8,114 346.5,115.1 347.3,116.2 348,117.3 348.7,118.2 349.5,119.2 350.2,120.1 351,121 351.7,121.8 352.4,122.6 353.2,123.4 353.9,124.1 354.7,124.9 355.4,125.6 356.1,126.2 356.9,126.9 357.6,127.5 358.4,128.1 359.1,128.7 359.8,129.3 360.6,129.8 361.3,130.4 362.1,130.9 362.8,131.4 363.5,131.9 364.3,132.4 365,132.8 365.8,133.3 366.5,133.7 367.2,134.1 368,134.5 368.7,134.9 369.5,135.3 370.2,135.7 370.9,136.1 371.7,136.5 372.4,136.8 373.2,137.1 373.9,137.5 374.6,137.8 375.4,138.1 376.1,138.4 376.9,138.7 377.6,139 378.3,139.3 379.1,139.6 379.8,139.9 380.6,140.2 381.3,140.4 382,140.7 382.8,140.9 383.5,141.2 384.3,141.4 385,141.7 385.7,141.9 386.5,142.1 387.2,142.3 388,142.6 388.7,142.8 389.4,143 390.2,143.2 390.9,143.4 391.7,143.6 392.4,143.8 393.1,144 393.9,144.2 394.6,144.3 395.4,144.5 396.1,144.7 396.8,144.9 397.6,145 398.3,145.2 399.1,145.4 399.8,145.5 400.5,145.7 401.3,145.9 402,146 402.8,146.2 403.5,146.3 404.2,146.4 405,146.6 405.7,146.7 406.5,146.9 407.2,147 407.9,147.1 408.7,147.3 409.4,147.4 410.2,147.5 410.9,147.7 411.6,147.8 412.4,147.9 413.1,148 413.9,148.1 414.6,148.3 415.3,148.4 416.1,148.5 416.8,148.6 417.6,148.7 418.3,148.8 419,148.9 419.8,149 420.5,149.1 421.3,149.2 422,149.3 422.7,149.4 423.5,149.5 424.2,149.6 425,149.7 425.7,149.8 426.4,149.9 427.2,150 427.9,150.1 428.7,150.2 429.4,150.3 430.1,150.4 430.9,150.4 431.6,150.5 432.4,150.6 433.1,150.7 433.8,150.8 434.6,150.9 435.3,150.9 436.1,151 436.8,151.1 437.5,151.2 438.3,151.2 439,151.3 439.8,151.4 440.5,151.5 441.2,151.5 442,151.6 442.7,151.7 443.5,151.8 444.2,151.8 444.9,151.9 445.7,152 446.4,152 447.2,152.1 447.9,152.2 448.6,152.2 449.4,152.3 450.1,152.3 450.9,152.4 451.6,152.5 452.3,152.5 453.1,152.6 453.8,152.6 454.6,152.7 455.3,152.8 456,152.8 456.8,152.9 457.5,152.9 458.3,153 459,153 459.7,153.1 460.5,153.2 461.2,153.2 462,153.3 462.7,153.3 463.4,153.4 464.2,153.4 464.9,153.5 465.7,153.5 466.4,153.6 467.1,153.6 467.9,153.7 468.6,153.7 469.4,153.8 470.1,153.8 470.8,153.9 471.6,153.9 472.3,153.9 473.1,154 473.8,154 474.5,154.1 475.3,154.1 476,154.2 476.8,154.2 477.5,154.3 478.2,154.3 479,154.3 479.7,154.4 480.5,154.4 481.2,154.5 481.9,154.5 482.7,154.5 483.4,154.6 484.2,154.6 484.9,154.7 485.6,154.7 486.4,154.7 487.1,154.8 487.9,154.8 488.6,154.9 489.3,154.9 490.1,154.9 490.8,155 491.6,155 492.3,155 493,155.1 493.8,155.1 494.5,155.1 495.3,155.2 496,155.2 496.7,155.2 497.5,155.3 498.2,155.3" fill="none" stroke="#e81c1c" stroke-width="2.2" />
<polyline points="328.8,62.8 329.5,67.4 330.2,71.6 331,75.6 331.7,79.2 332.5,82.5 333.2,85.6 333.9,88.5 334.7,91.2 335.4,93.7 336.2,96.1 336.9,98.3 337.6,100.4 338.4,102.3 339.1,104.2 339.9,105.9 340.6,107.6 341.3,109.1 342.1,110.6 342.8,112 343.6,113.4 344.3,114.7 345,115.9 345.8,117 346.5,118.1 347.3,119.2 348,120.2 348.7,121.2 349.5,122.1 350.2,123 351,123.9 351.7,124.7 352.4,125.5 353.2,126.2 353.9,127 354.7,127.7 355.4,128.4 356.1,129 356.9,129.7 357.6,130.3 358.4,130.9 359.1,131.4 359.8,132 360.6,132.5 361.3,133.1 362.1,133.6 362.8,134 363.5,134.5 364.3,135 365,135.4 365.8,135.8 366.5,136.3 367.2,136.7 368,137.1 368.7,137.5 369.5,137.8 370.2,138.2 370.9,138.6 371.7,138.9 372.4,139.2 373.2,139.6 373.9,139.9 374.6,140.2 375.4,140.5 376.1,140.8 376.9,141.1 377.6,141.4 378.3,141.6 379.1,141.9 379.8,142.2 380.6,142.4 381.3,142.7 382,142.9 382.8,143.2 383.5,143.4 384.3,143.6 385,143.9 385.7,144.1 386.5,144.3 387.2,144.5 388,144.7 388.7,144.9 389.4,145.1 390.2,145.3 390.9,145.5 391.7,145.7 392.4,145.9 393.1,146 393.9,146.2 394.6,146.4 395.4,146.6 396.1,146.7 396.8,146.9 397.6,147 398.3,147.2 399.1,147.4 399.8,147.5 400.5,147.7 401.3,147.8 402,147.9 402.8,148.1 403.5,148.2 404.2,148.4 405,148.5 405.7,148.6 406.5,148.8 407.2,148.9 407.9,149 408.7,149.1 409.4,149.2 410.2,149.4 410.9,149.5 411.6,149.6 412.4,149.7 413.1,149.8 413.9,149.9 414.6,150 415.3,150.1 416.1,150.3 416.8,150.4 417.6,150.5 418.3,150.6 419,150.7 419.8,150.8 420.5,150.8 421.3,150.9 422,151 422.7,151.1 423.5,151.2 424.2,151.3 425,151.4 425.7,151.5 426.4,151.6 427.2,151.7 427.9,151.7 428.7,151.8 429.4,151.9 430.1,152 430.9,152.1 431.6,152.1 432.4,152.2 433.1,152.3 433.8,152.4 434.6,152.4 435.3,152.5 436.1,152.6 436.8,152.7 437.5,152.7 438.3,152.8 439,152.9 439.8,152.9 440.5,153 441.2,153.1 442,153.1 442.7,153.2 443.5,153.3 444.2,153.3 444.9,153.4 445.7,153.4 446.4,153.5 447.2,153.6 447.9,153.6 448.6,153.7 449.4,153.7 450.1,153.8 450.9,153.9 451.6,153.9 452.3,154 453.1,154 453.8,154.1 454.6,154.1 455.3,154.2 456,154.2 456.8,154.3 457.5,154.3 458.3,154.4 459,154.4 459.7,154.5 460.5,154.5 461.2,154.6 462,154.6 462.7,154.7 463.4,154.7 464.2,154.8 464.9,154.8 465.7,154.9 466.4,154.9 467.1,154.9 467.9,155 468.6,155 469.4,155.1 470.1,155.1 470.8,155.2 471.6,155.2 472.3,155.2 473.1,155.3 473.8,155.3 474.5,155.4 475.3,155.4 476,155.4 476.8,155.5 477.5,155.5 478.2,155.6 479,155.6 479.7,155.6 480.5,155.7 481.2,155.7 481.9,155.8 482.7,155.8 483.4,155.8 484.2,155.9 484.9,155.9 485.6,155.9 486.4,156 487.1,156 487.9,156 488.6,156.1 489.3,156.1 490.1,156.1 490.8,156.2 491.6,156.2 492.3,156.2 493,156.3 493.8,156.3 494.5,156.3 495.3,156.4 496,156.4 496.7,156.4 497.5,156.4 498.2,156.5" fill="none" stroke="#2020d8" stroke-width="2.2" />
<text x="343" y="21.2" font-size="8" fill="#14c8f0" text-anchor="middle" font-weight="bold" font-family="Liberation Sans"  textLength="60.5" lengthAdjust="spacingAndGlyphs">Modeled (Sw=50%)</text>
<text x="343" y="30.5" font-size="7" fill="#14c8f0" text-anchor="middle" font-weight="bold" font-family="Liberation Sans">y = 46.32x<tspan font-size="4.5" dy="-3">-1.13</tspan></text>
<text x="343" y="39" font-size="7.2" fill="#14c8f0" text-anchor="middle" font-weight="bold" font-family="Liberation Sans">R<tspan font-size="4.5" dy="-3">2</tspan><tspan dy="3">=0.73</tspan></text>
<line x1="343.8" y1="40" x2="333.5" y2="53" stroke="#14c8f0" stroke-width="0.9" />
<polygon points="332.5,54.5 332.6,49.8 336.3,52.3" fill="#14c8f0"/>
<text x="367.3" y="72.8" font-size="8" fill="#e82222" text-anchor="middle" font-weight="bold" font-family="Liberation Sans"  textLength="30.5" lengthAdjust="spacingAndGlyphs">Measured</text>
<text x="367" y="81.5" font-size="7" fill="#e82222" text-anchor="middle" font-weight="bold" font-family="Liberation Sans">y = 41.7x<tspan font-size="4.5" dy="-3">-1.10</tspan></text>
<text x="367.5" y="91" font-size="7.2" fill="#e82222" text-anchor="middle" font-weight="bold" font-family="Liberation Sans">R<tspan font-size="4.5" dy="-3">2</tspan><tspan dy="3"> = 0.46</tspan></text>
<line x1="360.8" y1="92.3" x2="341.5" y2="100.5" stroke="#e82222" stroke-width="0.9" />
<polygon points="339.6,101.2 343.5,98.2 344.2,102.3" fill="#e82222"/>
<text x="330.6" y="121.8" font-size="8" fill="#2222dd" text-anchor="middle" font-weight="bold" font-family="Liberation Sans"  textLength="28" lengthAdjust="spacingAndGlyphs">Modeled</text>
<text x="329.5" y="130.8" font-size="7" fill="#2222dd" text-anchor="middle" font-weight="bold" font-family="Liberation Sans">y = 41.2x<tspan font-size="4.5" dy="-3">-1.16</tspan></text>
<text x="330.5" y="140" font-size="7.2" fill="#2222dd" text-anchor="middle" font-weight="bold" font-family="Liberation Sans">R<tspan font-size="4.5" dy="-3">2</tspan><tspan dy="3"> = 0.71</tspan></text>
<line x1="327.3" y1="113.5" x2="337" y2="105.2" stroke="#2222dd" stroke-width="0.9" />
<polygon points="338.5,104 336.8,108.2 334.3,105.3" fill="#2222dd"/>
<rect x="393" y="31" width="124" height="40" fill="#ffffff"/>
<circle cx="406.5" cy="37.5" r="2.4" fill="none" stroke="#5050e8" stroke-width="0.75"/>
<circle cx="406.5" cy="47.3" r="2.4" fill="none" stroke="#ee4040" stroke-width="0.75"/>
<line x1="395" y1="56.7" x2="416" y2="56.7" stroke="#18b040" stroke-width="1.8" stroke-dasharray="5,3"/>
<line x1="395" y1="66.3" x2="417" y2="66.3" stroke="#18b040" stroke-width="1.8" />
<text x="419.6" y="40.2" font-size="7.8" fill="#404040" text-anchor="start" font-weight="normal" font-family="Liberation Sans"  textLength="87.4" lengthAdjust="spacingAndGlyphs">Modeled Desorption Gas (%)</text>
<text x="419.6" y="50" font-size="7.8" fill="#404040" text-anchor="start" font-weight="normal" font-family="Liberation Sans"  textLength="90.6" lengthAdjust="spacingAndGlyphs">Measured Desorption Gas (%)</text>
<text x="419.6" y="59.4" font-size="7.8" fill="#404040" text-anchor="start" font-weight="normal" font-family="Liberation Sans"  textLength="68.8" lengthAdjust="spacingAndGlyphs">Lost Gas at Surface (%)</text>
<text x="419.6" y="69" font-size="7.8" fill="#404040" text-anchor="start" font-weight="normal" font-family="Liberation Sans"  textLength="87.4" lengthAdjust="spacingAndGlyphs">Lost Gas during Retrieval (%)</text>
<line x1="57.4" y1="201.5" x2="57.4" y2="379" stroke="#d4d4d4" stroke-width="0.8" />
<line x1="127.1" y1="201.5" x2="127.1" y2="236" stroke="#d4d4d4" stroke-width="0.8" />
<line x1="127.1" y1="354" x2="127.1" y2="379" stroke="#d4d4d4" stroke-width="0.8" />
<line x1="161.9" y1="201.5" x2="161.9" y2="236" stroke="#d4d4d4" stroke-width="0.8" />
<line x1="161.9" y1="354" x2="161.9" y2="379" stroke="#d4d4d4" stroke-width="0.8" />
<line x1="196.8" y1="201.5" x2="196.8" y2="236" stroke="#d4d4d4" stroke-width="0.8" />
<line x1="196.8" y1="354" x2="196.8" y2="379" stroke="#d4d4d4" stroke-width="0.8" />
<line x1="231.6" y1="201.5" x2="231.6" y2="236" stroke="#d4d4d4" stroke-width="0.8" />
<line x1="231.6" y1="354" x2="231.6" y2="379" stroke="#d4d4d4" stroke-width="0.8" />
<line x1="36.5" y1="215.6" x2="92.2" y2="215.6" stroke="#d4d4d4" stroke-width="0.8" />
<line x1="34" y1="215.6" x2="36.5" y2="215.6" stroke="#404040" stroke-width="0.8" />
<text x="31.8" y="218.7" font-size="8.8" fill="#505050" text-anchor="end" font-weight="normal" font-family="Liberation Sans" >0</text>
<line x1="36.5" y1="245.3" x2="92.2" y2="245.3" stroke="#d4d4d4" stroke-width="0.8" />
<line x1="34" y1="245.3" x2="36.5" y2="245.3" stroke="#404040" stroke-width="0.8" />
<text x="31.8" y="248.4" font-size="8.8" fill="#505050" text-anchor="end" font-weight="normal" font-family="Liberation Sans"  textLength="7.8" lengthAdjust="spacingAndGlyphs">-2</text>
<line x1="36.5" y1="275" x2="92.2" y2="275" stroke="#d4d4d4" stroke-width="0.8" />
<line x1="34" y1="275" x2="36.5" y2="275" stroke="#404040" stroke-width="0.8" />
<text x="31.8" y="278.1" font-size="8.8" fill="#505050" text-anchor="end" font-weight="normal" font-family="Liberation Sans"  textLength="7.8" lengthAdjust="spacingAndGlyphs">-4</text>
<line x1="36.5" y1="304.6" x2="92.2" y2="304.6" stroke="#d4d4d4" stroke-width="0.8" />
<line x1="34" y1="304.6" x2="36.5" y2="304.6" stroke="#404040" stroke-width="0.8" />
<text x="31.8" y="307.7" font-size="8.8" fill="#505050" text-anchor="end" font-weight="normal" font-family="Liberation Sans"  textLength="7.8" lengthAdjust="spacingAndGlyphs">-6</text>
<line x1="36.5" y1="334.3" x2="92.2" y2="334.3" stroke="#d4d4d4" stroke-width="0.8" />
<line x1="34" y1="334.3" x2="36.5" y2="334.3" stroke="#404040" stroke-width="0.8" />
<text x="31.8" y="337.4" font-size="8.8" fill="#505050" text-anchor="end" font-weight="normal" font-family="Liberation Sans"  textLength="7.8" lengthAdjust="spacingAndGlyphs">-8</text>
<line x1="36.5" y1="364" x2="92.2" y2="364" stroke="#d4d4d4" stroke-width="0.8" />
<line x1="34" y1="364" x2="36.5" y2="364" stroke="#404040" stroke-width="0.8" />
<text x="31.8" y="367.1" font-size="8.8" fill="#505050" text-anchor="end" font-weight="normal" font-family="Liberation Sans"  textLength="11.7" lengthAdjust="spacingAndGlyphs">-10</text>
<line x1="92.2" y1="221.9" x2="266.7" y2="221.9" stroke="#d4d4d4" stroke-width="0.8" />
<line x1="92.2" y1="364.2" x2="266.7" y2="364.2" stroke="#d4d4d4" stroke-width="0.8" />
<line x1="92.2" y1="201.5" x2="92.2" y2="379" stroke="#c4c4c4" stroke-width="1.0" />
<line x1="57.4" y1="379" x2="57.4" y2="381.5" stroke="#404040" stroke-width="0.8" />
<text x="57.4" y="388.8" font-size="8.8" fill="#505050" text-anchor="middle" font-weight="normal" font-family="Liberation Sans"  textLength="7.8" lengthAdjust="spacingAndGlyphs">-5</text>
<line x1="92.2" y1="379" x2="92.2" y2="381.5" stroke="#404040" stroke-width="0.8" />
<text x="92.2" y="388.8" font-size="8.8" fill="#505050" text-anchor="middle" font-weight="normal" font-family="Liberation Sans" >0</text>
<line x1="127.1" y1="379" x2="127.1" y2="381.5" stroke="#404040" stroke-width="0.8" />
<text x="127.1" y="388.8" font-size="8.8" fill="#505050" text-anchor="middle" font-weight="normal" font-family="Liberation Sans" >5</text>
<line x1="161.9" y1="379" x2="161.9" y2="381.5" stroke="#404040" stroke-width="0.8" />
<text x="161.9" y="388.8" font-size="8.8" fill="#505050" text-anchor="middle" font-weight="normal" font-family="Liberation Sans"  textLength="7.8" lengthAdjust="spacingAndGlyphs">10</text>
<line x1="196.8" y1="379" x2="196.8" y2="381.5" stroke="#404040" stroke-width="0.8" />
<text x="196.8" y="388.8" font-size="8.8" fill="#505050" text-anchor="middle" font-weight="normal" font-family="Liberation Sans"  textLength="7.8" lengthAdjust="spacingAndGlyphs">15</text>
<line x1="231.6" y1="379" x2="231.6" y2="381.5" stroke="#404040" stroke-width="0.8" />
<text x="231.6" y="388.8" font-size="8.8" fill="#505050" text-anchor="middle" font-weight="normal" font-family="Liberation Sans"  textLength="7.8" lengthAdjust="spacingAndGlyphs">20</text>
<line x1="266.4" y1="379" x2="266.4" y2="381.5" stroke="#404040" stroke-width="0.8" />
<text x="266.4" y="388.8" font-size="8.8" fill="#505050" text-anchor="middle" font-weight="normal" font-family="Liberation Sans"  textLength="7.8" lengthAdjust="spacingAndGlyphs">25</text>
<text x="158.5" y="399.5" font-size="9.2" fill="#202020" text-anchor="middle" font-weight="bold" font-family="Liberation Sans"  textLength="45" lengthAdjust="spacingAndGlyphs">Time (hour)</text>
<text x="0" y="0" font-size="9.2" fill="#202020" text-anchor="middle" font-weight="bold" font-family="Liberation Sans" transform="translate(18.3,284) rotate(-90)" textLength="121" lengthAdjust="spacingAndGlyphs">Gas produced out of core (cc/g)</text>
<text x="37" y="198.6" font-size="8.5" fill="#101010" text-anchor="start" font-weight="bold" font-family="Liberation Serif" >(c)</text>
<polyline points="39.2,225.5 41,225.1 42.8,224.6 44.5,224.2 46.3,223.9 48.1,223.5 49.8,223.2 51.6,222.8 53.4,222.5 55.1,222.2 56.9,221.9 58.7,221.7 60.4,221.4 62.2,221.1 63.9,220.9 65.7,220.7 67.5,220.4 69.2,220.2 71,220 72.8,219.8 74.5,219.7 76.3,219.5 78.1,219.3 79.8,219.2 81.6,219 83.4,218.8 85.1,218.7 86.9,218.6 88.7,218.4 90.4,218.3 92.2,218.2" fill="none" stroke="#00e4e4" stroke-width="1.0" stroke-opacity="0.35"/>
<polyline points="37.8,234.1 39.6,232.8 41.5,231.7 43.3,230.6 45.1,229.6 46.9,228.7 48.7,227.8 50.5,227 52.3,226.2 54.1,225.5 56,224.9 57.8,224.3 59.6,223.7 61.4,223.1 63.2,222.6 65,222.2 66.8,221.7 68.6,221.3 70.5,221 72.3,220.6 74.1,220.3 75.9,220 77.7,219.7 79.5,219.4 81.3,219.1 83.1,218.9 85,218.7 86.8,218.5 88.6,218.3 90.4,218.1 92.2,217.9" fill="none" stroke="#00e4e4" stroke-width="0.8" stroke-opacity="0.35"/>
<polyline points="42,231.9 43.7,231 45.4,230.2 47,229.3 48.7,228.6 50.4,227.8 52.1,227.2 53.7,226.5 55.4,225.9 57.1,225.3 58.7,224.8 60.4,224.3 62.1,223.8 63.8,223.3 65.4,222.9 67.1,222.5 68.8,222.1 70.5,221.7 72.1,221.4 73.8,221.1 75.5,220.7 77.1,220.5 78.8,220.2 80.5,219.9 82.2,219.7 83.8,219.5 85.5,219.2 87.2,219 88.9,218.8 90.5,218.7 92.2,218.5" fill="none" stroke="#00e4e4" stroke-width="0.6" stroke-opacity="0.35"/>
<polyline points="37.8,240.2 39.6,238.3 41.5,236.5 43.3,234.8 45.1,233.3 46.9,231.9 48.7,230.6 50.5,229.4 52.3,228.3 54.1,227.3 56,226.4 57.8,225.5 59.6,224.7 61.4,224 63.2,223.3 65,222.7 66.8,222.2 68.6,221.6 70.5,221.2 72.3,220.7 74.1,220.3 75.9,219.9 77.7,219.6 79.5,219.3 81.3,219 83.1,218.7 85,218.5 86.8,218.2 88.6,218 90.4,217.8 92.2,217.7" fill="none" stroke="#00e4e4" stroke-width="0.6" stroke-opacity="0.5"/>
<polyline points="42,245.1 43.7,242.8 45.4,240.7 47,238.8 48.7,237 50.4,235.4 52.1,233.8 53.7,232.4 55.4,231.1 57.1,229.9 58.7,228.8 60.4,227.8 62.1,226.9 63.8,226 65.4,225.2 67.1,224.5 68.8,223.8 70.5,223.1 72.1,222.6 73.8,222 75.5,221.5 77.1,221.1 78.8,220.7 80.5,220.3 82.2,219.9 83.8,219.6 85.5,219.3 87.2,219 88.9,218.7 90.5,218.5 92.2,218.3" fill="none" stroke="#00e4e4" stroke-width="1.0" stroke-opacity="0.35"/>
<polyline points="37.8,248.6 39.6,245.8 41.5,243.3 43.3,241 45.1,238.9 46.9,236.9 48.7,235.2 50.5,233.5 52.3,232 54.1,230.7 56,229.4 57.8,228.3 59.6,227.2 61.4,226.2 63.2,225.3 65,224.5 66.8,223.8 68.6,223.1 70.5,222.5 72.3,221.9 74.1,221.4 75.9,220.9 77.7,220.5 79.5,220.1 81.3,219.7 83.1,219.3 85,219 86.8,218.7 88.6,218.5 90.4,218.2 92.2,218" fill="none" stroke="#00e4e4" stroke-width="0.8" stroke-opacity="0.35"/>
<polyline points="37.8,247.5 39.6,245 41.5,242.7 43.3,240.5 45.1,238.6 46.9,236.8 48.7,235.1 50.5,233.6 52.3,232.2 54.1,230.9 56,229.7 57.8,228.6 59.6,227.6 61.4,226.6 63.2,225.8 65,225 66.8,224.2 68.6,223.6 70.5,222.9 72.3,222.4 74.1,221.8 75.9,221.3 77.7,220.9 79.5,220.5 81.3,220.1 83.1,219.7 85,219.4 86.8,219.1 88.6,218.8 90.4,218.6 92.2,218.4" fill="none" stroke="#00e4e4" stroke-width="0.6" stroke-opacity="0.5"/>
<polyline points="42,251.2 43.7,248.2 45.4,245.5 47,243 48.7,240.8 50.4,238.7 52.1,236.8 53.7,235 55.4,233.4 57.1,231.9 58.7,230.6 60.4,229.3 62.1,228.2 63.8,227.1 65.4,226.2 67.1,225.3 68.8,224.5 70.5,223.8 72.1,223.1 73.8,222.5 75.5,221.9 77.1,221.4 78.8,220.9 80.5,220.5 82.2,220 83.8,219.7 85.5,219.3 87.2,219 88.9,218.7 90.5,218.5 92.2,218.2" fill="none" stroke="#00e4e4" stroke-width="1.0" stroke-opacity="0.35"/>
<polyline points="37.8,255 39.6,251.2 41.5,247.7 43.3,244.6 45.1,241.8 46.9,239.2 48.7,236.9 50.5,234.8 52.3,233 54.1,231.3 56,229.8 57.8,228.4 59.6,227.1 61.4,226 63.2,225 65,224.1 66.8,223.3 68.6,222.5 70.5,221.8 72.3,221.2 74.1,220.7 75.9,220.2 77.7,219.7 79.5,219.3 81.3,219 83.1,218.6 85,218.3 86.8,218.1 88.6,217.8 90.4,217.6 92.2,217.4" fill="none" stroke="#00e4e4" stroke-width="0.6" stroke-opacity="0.35"/>
<polyline points="37.8,258.8 39.6,255.1 41.5,251.7 43.3,248.6 45.1,245.8 46.9,243.2 48.7,240.8 50.5,238.7 52.3,236.7 54.1,234.9 56,233.2 57.8,231.7 59.6,230.3 61.4,229.1 63.2,227.9 65,226.9 66.8,225.9 68.6,225 70.5,224.2 72.3,223.5 74.1,222.8 75.9,222.2 77.7,221.6 79.5,221.1 81.3,220.6 83.1,220.2 85,219.8 86.8,219.4 88.6,219.1 90.4,218.8 92.2,218.5" fill="none" stroke="#00e4e4" stroke-width="0.6" stroke-opacity="0.7"/>
<polyline points="37.8,264.1 39.6,259.7 41.5,255.6 43.3,252 45.1,248.7 46.9,245.7 48.7,242.9 50.5,240.4 52.3,238.2 54.1,236.1 56,234.3 57.8,232.6 59.6,231 61.4,229.6 63.2,228.3 65,227.2 66.8,226.1 68.6,225.2 70.5,224.3 72.3,223.5 74.1,222.8 75.9,222.1 77.7,221.5 79.5,221 81.3,220.5 83.1,220.1 85,219.6 86.8,219.3 88.6,218.9 90.4,218.6 92.2,218.4" fill="none" stroke="#00e4e4" stroke-width="0.8" stroke-opacity="0.35"/>
<polyline points="39.2,270.2 41,264.7 42.8,259.8 44.5,255.3 46.3,251.3 48.1,247.7 49.8,244.5 51.6,241.6 53.4,239 55.1,236.6 56.9,234.5 58.7,232.6 60.4,230.9 62.2,229.4 63.9,228 65.7,226.7 67.5,225.6 69.2,224.6 71,223.7 72.8,222.9 74.5,222.1 76.3,221.5 78.1,220.9 79.8,220.4 81.6,219.9 83.4,219.5 85.1,219.1 86.9,218.7 88.7,218.4 90.4,218.1 92.2,217.9" fill="none" stroke="#00e4e4" stroke-width="1.0" stroke-opacity="0.7"/>
<polyline points="42,270.9 43.7,265.8 45.4,261.1 47,256.9 48.7,253 50.4,249.5 52.1,246.4 53.7,243.5 55.4,240.9 57.1,238.6 58.7,236.4 60.4,234.5 62.1,232.7 63.8,231.2 65.4,229.7 67.1,228.4 68.8,227.2 70.5,226.1 72.1,225.1 73.8,224.3 75.5,223.5 77.1,222.7 78.8,222.1 80.5,221.5 82.2,220.9 83.8,220.4 85.5,220 87.2,219.6 88.9,219.2 90.5,218.9 92.2,218.6" fill="none" stroke="#00e4e4" stroke-width="0.8" stroke-opacity="0.35"/>
<polyline points="42,277.2 43.7,270.5 45.4,264.6 47,259.3 48.7,254.5 50.4,250.3 52.1,246.6 53.7,243.2 55.4,240.2 57.1,237.5 58.7,235.2 60.4,233 62.1,231.1 63.8,229.5 65.4,228 67.1,226.6 68.8,225.4 70.5,224.4 72.1,223.4 73.8,222.6 75.5,221.8 77.1,221.1 78.8,220.5 80.5,220 82.2,219.5 83.8,219.1 85.5,218.7 87.2,218.4 88.9,218.1 90.5,217.8 92.2,217.6" fill="none" stroke="#00e4e4" stroke-width="0.6" stroke-opacity="0.5"/>
<polyline points="37.8,276.4 39.6,270.2 41.5,264.7 43.3,259.8 45.1,255.3 46.9,251.3 48.7,247.7 50.5,244.4 52.3,241.5 54.1,238.9 56,236.6 57.8,234.4 59.6,232.5 61.4,230.8 63.2,229.3 65,227.9 66.8,226.7 68.6,225.5 70.5,224.5 72.3,223.6 74.1,222.8 75.9,222.1 77.7,221.4 79.5,220.9 81.3,220.3 83.1,219.8 85,219.4 86.8,219 88.6,218.7 90.4,218.4 92.2,218.1" fill="none" stroke="#00e4e4" stroke-width="0.8" stroke-opacity="0.7"/>
<polyline points="37.8,285.4 39.6,277.6 41.5,270.6 43.3,264.3 45.1,258.8 46.9,254 48.7,249.6 50.5,245.8 52.3,242.4 54.1,239.3 56,236.7 57.8,234.3 59.6,232.2 61.4,230.3 63.2,228.6 65,227.2 66.8,225.9 68.6,224.7 70.5,223.7 72.3,222.8 74.1,221.9 75.9,221.2 77.7,220.6 79.5,220 81.3,219.5 83.1,219.1 85,218.7 86.8,218.3 88.6,218 90.4,217.8 92.2,217.5" fill="none" stroke="#00e4e4" stroke-width="0.8" stroke-opacity="0.5"/>
<polyline points="39.2,285.4 41,278 42.8,271.5 44.5,265.6 46.3,260.3 48.1,255.6 49.8,251.4 51.6,247.7 53.4,244.3 55.1,241.3 56.9,238.6 58.7,236.2 60.4,234 62.2,232.1 63.9,230.3 65.7,228.8 67.5,227.4 69.2,226.2 71,225 72.8,224.1 74.5,223.2 76.3,222.4 78.1,221.7 79.8,221 81.6,220.4 83.4,219.9 85.1,219.5 86.9,219.1 88.7,218.7 90.4,218.4 92.2,218.1" fill="none" stroke="#00e4e4" stroke-width="0.8" stroke-opacity="0.35"/>
<polyline points="37.8,288 39.6,280.6 41.5,274 43.3,268 45.1,262.7 46.9,257.9 48.7,253.6 50.5,249.7 52.3,246.2 54.1,243.1 56,240.3 57.8,237.8 59.6,235.5 61.4,233.5 63.2,231.7 65,230 66.8,228.6 68.6,227.2 70.5,226.1 72.3,225 74.1,224 75.9,223.2 77.7,222.4 79.5,221.7 81.3,221.1 83.1,220.5 85,220 86.8,219.6 88.6,219.2 90.4,218.8 92.2,218.5" fill="none" stroke="#00e4e4" stroke-width="1.0" stroke-opacity="0.5"/>
<polyline points="37.8,291.6 39.6,282.7 41.5,274.9 43.3,267.9 45.1,261.8 46.9,256.4 48.7,251.6 50.5,247.4 52.3,243.7 54.1,240.4 56,237.5 57.8,235 59.6,232.7 61.4,230.7 63.2,228.9 65,227.4 66.8,226 68.6,224.8 70.5,223.7 72.3,222.8 74.1,221.9 75.9,221.2 77.7,220.5 79.5,220 81.3,219.4 83.1,219 85,218.6 86.8,218.2 88.6,217.9 90.4,217.7 92.2,217.4" fill="none" stroke="#00e4e4" stroke-width="1.0" stroke-opacity="0.35"/>
<polyline points="39.2,300 41,290.7 42.8,282.3 44.5,274.9 46.3,268.4 48.1,262.5 49.8,257.3 51.6,252.7 53.4,248.6 55.1,244.9 56.9,241.7 58.7,238.8 60.4,236.2 62.2,233.9 63.9,231.9 65.7,230.1 67.5,228.5 69.2,227 71,225.8 72.8,224.6 74.5,223.6 76.3,222.7 78.1,222 79.8,221.3 81.6,220.6 83.4,220.1 85.1,219.6 86.9,219.1 88.7,218.7 90.4,218.4 92.2,218.1" fill="none" stroke="#00e4e4" stroke-width="1.0" stroke-opacity="0.7"/>
<polyline points="37.8,300.2 39.6,290.4 41.5,281.7 43.3,274 45.1,267.2 46.9,261.2 48.7,255.9 50.5,251.2 52.3,247.1 54.1,243.4 56,240.2 57.8,237.3 59.6,234.8 61.4,232.6 63.2,230.6 65,228.8 66.8,227.3 68.6,225.9 70.5,224.7 72.3,223.7 74.1,222.7 75.9,221.9 77.7,221.2 79.5,220.5 81.3,220 83.1,219.4 85,219 86.8,218.6 88.6,218.3 90.4,217.9 92.2,217.7" fill="none" stroke="#00e4e4" stroke-width="0.8" stroke-opacity="0.7"/>
<polyline points="42,302.1 43.7,292.7 45.4,284.3 47,276.8 48.7,270.2 50.4,264.2 52.1,259 53.7,254.2 55.4,250 57.1,246.3 58.7,243 60.4,240 62.1,237.3 63.8,235 65.4,232.9 67.1,231 68.8,229.3 70.5,227.8 72.1,226.5 73.8,225.3 75.5,224.3 77.1,223.3 78.8,222.5 80.5,221.7 82.2,221.1 83.8,220.5 85.5,219.9 87.2,219.5 88.9,219 90.5,218.7 92.2,218.3" fill="none" stroke="#00e4e4" stroke-width="0.6" stroke-opacity="0.5"/>
<polyline points="39.2,298.7 41,289.3 42.8,280.9 44.5,273.5 46.3,266.9 48.1,261.1 49.8,255.9 51.6,251.3 53.4,247.3 55.1,243.7 56.9,240.5 58.7,237.6 60.4,235.1 62.2,232.9 63.9,230.9 65.7,229.2 67.5,227.7 69.2,226.3 71,225.1 72.8,224 74.5,223 76.3,222.2 78.1,221.4 79.8,220.8 81.6,220.2 83.4,219.7 85.1,219.2 86.9,218.8 88.7,218.4 90.4,218.1 92.2,217.8" fill="none" stroke="#00e4e4" stroke-width="1.8" stroke-opacity="1.0"/>
<polyline points="39.9,304.6 41.7,294.3 43.4,285.2 45.2,277.2 46.9,270 48.6,263.7 50.4,258.2 52.1,253.3 53.9,248.9 55.6,245 57.4,241.6 59.1,238.6 60.8,236 62.6,233.6 64.3,231.5 66.1,229.7 67.8,228 69.5,226.6 71.3,225.3 73,224.2 74.8,223.2 76.5,222.3 78.3,221.6 80,220.9 81.7,220.3 83.5,219.7 85.2,219.2 87,218.8 88.7,218.4 90.5,218.1 92.2,217.8" fill="none" stroke="#00e4e4" stroke-width="1.8" stroke-opacity="1.0"/>
<polyline points="38.5,286.8 40.3,279.1 42.1,272.1 43.9,266 45.7,260.5 47.5,255.6 49.3,251.2 51.1,247.3 52.8,243.9 54.6,240.8 56.4,238 58.2,235.6 60,233.4 61.8,231.5 63.6,229.7 65.4,228.2 67.2,226.8 68.9,225.6 70.7,224.5 72.5,223.5 74.3,222.7 76.1,221.9 77.9,221.2 79.7,220.6 81.5,220.1 83.3,219.6 85,219.1 86.8,218.7 88.6,218.4 90.4,218.1 92.2,217.8" fill="none" stroke="#00e4e4" stroke-width="1.8" stroke-opacity="1.0"/>
<polyline points="48.2,319.3 49.7,307.9 51.2,297.7 52.6,288.6 54.1,280.6 55.6,273.4 57,267 58.5,261.3 60,256.3 61.4,251.8 62.9,247.8 64.3,244.2 65.8,241.1 67.3,238.3 68.7,235.8 70.2,233.5 71.7,231.6 73.1,229.8 74.6,228.2 76.1,226.8 77.5,225.6 79,224.5 80.5,223.5 81.9,222.6 83.4,221.9 84.9,221.2 86.3,220.6 87.8,220 89.3,219.5 90.7,219.1 92.2,218.7" fill="none" stroke="#00e4e4" stroke-width="1.2" stroke-opacity="1.0"/>
<polyline points="49.7,306.4 51.1,297.6 52.5,289.6 53.9,282.4 55.3,275.9 56.7,270 58.2,264.7 59.6,259.9 61,255.6 62.4,251.7 63.8,248.2 65.3,245 66.7,242.1 68.1,239.6 69.5,237.2 70.9,235.1 72.3,233.2 73.8,231.5 75.2,230 76.6,228.6 78,227.3 79.4,226.2 80.9,225.1 82.3,224.2 83.7,223.4 85.1,222.6 86.5,221.9 87.9,221.3 89.4,220.7 90.8,220.2 92.2,219.8" fill="none" stroke="#00e4e4" stroke-width="0.8" stroke-opacity="0.6"/>
<polyline points="47.9,297.9 49.4,290 50.8,282.9 52.3,276.4 53.8,270.6 55.3,265.4 56.7,260.6 58.2,256.3 59.7,252.4 61.2,248.9 62.7,245.7 64.1,242.8 65.6,240.2 67.1,237.8 68.6,235.7 70,233.8 71.5,232.1 73,230.5 74.5,229.1 75.9,227.8 77.4,226.6 78.9,225.5 80.4,224.6 81.9,223.7 83.3,223 84.8,222.3 86.3,221.6 87.8,221 89.2,220.5 90.7,220 92.2,219.6" fill="none" stroke="#00e4e4" stroke-width="1.2" stroke-opacity="1.0"/>
<polyline points="53.8,293.8 55.1,283.8 56.3,275.1 57.6,267.5 58.9,260.9 60.2,255.1 61.5,250.1 62.7,245.7 64,241.8 65.3,238.5 66.6,235.6 67.9,233 69.1,230.8 70.4,228.9 71.7,227.2 73,225.7 74.3,224.4 75.5,223.3 76.8,222.3 78.1,221.4 79.4,220.7 80.7,220 82,219.5 83.2,219 84.5,218.6 85.8,218.2 87.1,217.8 88.4,217.6 89.6,217.3 90.9,217.1 92.2,216.9" fill="none" stroke="#ffb0a0" stroke-width="2.0" stroke-opacity="0.6"/>
<polyline points="49.3,311.9 50.8,299.9 52.2,289.5 53.6,280.3 55,272.2 56.5,265.2 57.9,259 59.3,253.6 60.8,248.9 62.2,244.8 63.6,241.1 65,238 66.5,235.2 67.9,232.8 69.3,230.6 70.8,228.8 72.2,227.1 73.6,225.7 75.1,224.4 76.5,223.3 77.9,222.4 79.3,221.5 80.8,220.8 82.2,220.1 83.6,219.6 85.1,219.1 86.5,218.7 87.9,218.3 89.3,217.9 90.8,217.7 92.2,217.4" fill="none" stroke="#f8c090" stroke-width="1.2" stroke-opacity="0.6"/>
<polyline points="43.9,327.9 45.6,315.7 47.2,304.8 48.8,295.1 50.4,286.5 52,278.8 53.6,271.9 55.2,265.8 56.8,260.3 58.4,255.5 60,251.1 61.6,247.3 63.2,243.8 64.9,240.8 66.5,238 68.1,235.6 69.7,233.4 71.3,231.5 72.9,229.8 74.5,228.2 76.1,226.8 77.7,225.6 79.3,224.5 80.9,223.6 82.5,222.7 84.2,221.9 85.8,221.2 87.4,220.6 89,220.1 90.6,219.6 92.2,219.2" fill="none" stroke="#ffb0a0" stroke-width="2.0" stroke-opacity="1.0"/>
<polyline points="47.1,326.9 48.6,314.8 50.1,304.1 51.6,294.5 53.1,286 54.6,278.4 56.1,271.6 57.6,265.5 59.1,260.1 60.6,255.3 62.1,251 63.6,247.2 65.1,243.8 66.6,240.7 68.1,238 69.6,235.6 71.1,233.4 72.6,231.5 74.1,229.8 75.6,228.2 77.2,226.9 78.7,225.6 80.2,224.6 81.7,223.6 83.2,222.7 84.7,222 86.2,221.3 87.7,220.7 89.2,220.1 90.7,219.6 92.2,219.2" fill="none" stroke="#f8c090" stroke-width="1.6" stroke-opacity="0.85"/>
<polyline points="48.6,293.7 50,285.4 51.5,277.9 53,271.2 54.4,265.3 55.9,259.9 57.3,255.2 58.8,250.9 60.2,247.1 61.7,243.8 63.1,240.7 64.6,238.1 66,235.6 67.5,233.5 68.9,231.6 70.4,229.9 71.8,228.3 73.3,227 74.8,225.8 76.2,224.7 77.7,223.7 79.1,222.8 80.6,222 82,221.4 83.5,220.7 84.9,220.2 86.4,219.7 87.8,219.3 89.3,218.9 90.7,218.5 92.2,218.2" fill="none" stroke="#f8c090" stroke-width="2.0" stroke-opacity="1.0"/>
<polyline points="49.9,303.1 51.3,293.4 52.7,284.8 54.1,277.2 55.5,270.4 56.9,264.4 58.3,259 59.7,254.2 61.2,249.9 62.6,246.2 64,242.8 65.4,239.8 66.8,237.1 68.2,234.8 69.6,232.6 71,230.8 72.4,229.1 73.9,227.6 75.3,226.3 76.7,225.1 78.1,224.1 79.5,223.1 80.9,222.3 82.3,221.6 83.7,220.9 85.1,220.3 86.6,219.8 88,219.3 89.4,218.9 90.8,218.6 92.2,218.2" fill="none" stroke="#f8c090" stroke-width="0.8" stroke-opacity="1.0"/>
<polyline points="50.6,297.9 52,289.9 53.4,282.7 54.8,276.1 56.2,270.2 57.6,264.9 59,260.1 60.3,255.8 61.7,251.9 63.1,248.3 64.5,245.1 65.9,242.3 67.3,239.7 68.6,237.3 70,235.2 71.4,233.3 72.8,231.6 74.2,230 75.6,228.6 77,227.3 78.3,226.2 79.7,225.2 81.1,224.2 82.5,223.4 83.9,222.6 85.3,221.9 86.7,221.3 88,220.8 89.4,220.3 90.8,219.8 92.2,219.4" fill="none" stroke="#ffb0a0" stroke-width="1.6" stroke-opacity="0.6"/>
<polyline points="55.8,288 57,280.6 58.2,274 59.4,268 60.6,262.7 61.8,257.9 63.1,253.6 64.3,249.7 65.5,246.2 66.7,243.1 67.9,240.3 69.1,237.8 70.3,235.5 71.6,233.5 72.8,231.6 74,230 75.2,228.5 76.4,227.2 77.6,226 78.8,225 80.1,224 81.3,223.2 82.5,222.4 83.7,221.7 84.9,221.1 86.1,220.5 87.3,220 88.6,219.6 89.8,219.2 91,218.8 92.2,218.5" fill="none" stroke="#ffb0a0" stroke-width="1.2" stroke-opacity="1.0"/>
<polyline points="55.1,297.7 56.3,287.7 57.6,278.8 58.8,271.1 60,264.3 61.3,258.3 62.5,253.1 63.8,248.5 65,244.4 66.2,240.9 67.5,237.8 68.7,235.1 69.9,232.7 71.2,230.6 72.4,228.7 73.6,227.1 74.9,225.7 76.1,224.5 77.4,223.4 78.6,222.4 79.8,221.6 81.1,220.9 82.3,220.2 83.5,219.6 84.8,219.2 86,218.7 87.3,218.3 88.5,218 89.7,217.7 91,217.4 92.2,217.2" fill="none" stroke="#ffb0a0" stroke-width="1.6" stroke-opacity="0.85"/>
<polyline points="44,307.4 45.7,296 47.3,286 48.9,277.3 50.5,269.6 52.1,262.9 53.7,257.1 55.3,251.9 56.9,247.4 58.5,243.5 60.1,240 61.7,237 63.3,234.3 64.9,232 66.5,230 68.1,228.2 69.7,226.6 71.3,225.3 72.9,224.1 74.5,223 76.1,222.1 77.8,221.3 79.4,220.6 81,220 82.6,219.4 84.2,219 85.8,218.5 87.4,218.2 89,217.9 90.6,217.6 92.2,217.3" fill="none" stroke="#f8c8a0" stroke-width="1.2" stroke-opacity="0.6"/>
<polyline points="44,300.8 45.6,291.4 47.2,283.1 48.8,275.7 50.4,269.1 52,263.3 53.6,258.1 55.2,253.4 56.8,249.3 58.5,245.6 60.1,242.3 61.7,239.4 63.3,236.8 64.9,234.4 66.5,232.4 68.1,230.5 69.7,228.9 71.3,227.4 72.9,226.1 74.5,225 76.1,224 77.7,223 79.3,222.2 81,221.5 82.6,220.9 84.2,220.3 85.8,219.8 87.4,219.3 89,218.9 90.6,218.5 92.2,218.2" fill="none" stroke="#f0b890" stroke-width="1.2" stroke-opacity="0.6"/>
<polyline points="44,316.8 45.7,304.9 47.3,294.4 48.9,285.1 50.5,276.9 52.1,269.7 53.7,263.3 55.3,257.7 56.9,252.7 58.5,248.4 60.1,244.5 61.7,241.1 63.3,238.1 64.9,235.4 66.5,233.1 68.1,231 69.7,229.2 71.3,227.6 72.9,226.2 74.5,225 76.1,223.9 77.8,222.9 79.4,222 81,221.3 82.6,220.6 84.2,220 85.8,219.5 87.4,219 89,218.6 90.6,218.3 92.2,218" fill="none" stroke="#f8c8a0" stroke-width="1.2" stroke-opacity="0.6"/>
<polyline points="42.4,320.8 44.1,309.1 45.8,298.7 47.4,289.4 49.1,281.2 50.7,273.9 52.4,267.4 54.1,261.6 55.7,256.5 57.4,251.9 59,247.9 60.7,244.3 62.3,241.1 64,238.3 65.7,235.7 67.3,233.5 69,231.5 70.6,229.7 72.3,228.2 74,226.8 75.6,225.5 77.3,224.4 78.9,223.4 80.6,222.6 82.2,221.8 83.9,221.1 85.6,220.5 87.2,219.9 88.9,219.5 90.5,219 92.2,218.6" fill="none" stroke="#f0b890" stroke-width="1.2" stroke-opacity="0.6"/>
<polyline points="45.9,315.8 47.4,303.8 49,293.3 50.5,284 52,275.8 53.6,268.6 55.1,262.2 56.7,256.6 58.2,251.7 59.8,247.4 61.3,243.6 62.9,240.2 64.4,237.3 65.9,234.7 67.5,232.4 69,230.4 70.6,228.6 72.1,227.1 73.7,225.7 75.2,224.5 76.8,223.4 78.3,222.5 79.8,221.7 81.4,220.9 82.9,220.3 84.5,219.7 86,219.2 87.6,218.8 89.1,218.4 90.7,218.1 92.2,217.8" fill="none" stroke="#f0b890" stroke-width="0.8" stroke-opacity="0.6"/>
<polyline points="44.9,313.2 46.5,302.4 48.1,292.9 49.6,284.3 51.2,276.8 52.8,270 54.4,264 55.9,258.7 57.5,253.9 59.1,249.7 60.7,245.9 62.2,242.6 63.8,239.6 65.4,237 67,234.6 68.6,232.5 70.1,230.7 71.7,229 73.3,227.5 74.9,226.2 76.4,225 78,224 79.6,223.1 81.2,222.2 82.7,221.5 84.3,220.9 85.9,220.3 87.5,219.8 89,219.3 90.6,218.9 92.2,218.5" fill="none" stroke="#f8c8a0" stroke-width="0.8" stroke-opacity="0.6"/>
<polyline points="47,318.9 48.5,306.3 50,295.3 51.5,285.6 53,277 54.5,269.6 56,263 57.5,257.2 59,252.2 60.6,247.7 62.1,243.8 63.6,240.4 65.1,237.4 66.6,234.7 68.1,232.4 69.6,230.3 71.1,228.5 72.6,227 74.1,225.6 75.6,224.4 77.1,223.3 78.6,222.4 80.1,221.5 81.7,220.8 83.2,220.2 84.7,219.6 86.2,219.1 87.7,218.7 89.2,218.3 90.7,218 92.2,217.7" fill="none" stroke="#f8c8a0" stroke-width="1.2" stroke-opacity="0.6"/>
<polyline points="40.7,315.5 42.5,304.7 44.2,295.1 45.9,286.5 47.6,278.9 49.3,272 51,265.9 52.8,260.5 54.5,255.6 56.2,251.3 57.9,247.5 59.6,244 61.3,241 63,238.2 64.8,235.8 66.5,233.6 68.2,231.7 69.9,229.9 71.6,228.4 73.3,227 75,225.8 76.8,224.7 78.5,223.7 80.2,222.8 81.9,222 83.6,221.3 85.3,220.7 87.1,220.2 88.8,219.7 90.5,219.2 92.2,218.8" fill="none" stroke="#e8c0a0" stroke-width="0.8" stroke-opacity="0.6"/>
<polyline points="44.1,301.9 45.7,291 47.3,281.6 48.9,273.3 50.5,266.1 52.1,259.7 53.7,254.2 55.3,249.4 56.9,245.1 58.5,241.4 60.1,238.2 61.7,235.4 63.3,232.9 64.9,230.7 66.5,228.8 68.1,227.2 69.7,225.7 71.3,224.4 73,223.3 74.6,222.4 76.2,221.5 77.8,220.8 79.4,220.1 81,219.6 82.6,219.1 84.2,218.6 85.8,218.2 87.4,217.9 89,217.6 90.6,217.4 92.2,217.1" fill="none" stroke="#e8c0a0" stroke-width="0.8" stroke-opacity="0.6"/>
<polyline points="47,312.9 48.5,302.5 50,293.3 51.5,285.1 53,277.7 54.5,271.1 56,265.2 57.5,260 59,255.3 60.5,251.1 62.1,247.3 63.6,243.9 65.1,240.9 66.6,238.3 68.1,235.8 69.6,233.7 71.1,231.8 72.6,230.1 74.1,228.5 75.6,227.2 77.1,225.9 78.6,224.8 80.1,223.9 81.6,223 83.2,222.2 84.7,221.5 86.2,220.9 87.7,220.3 89.2,219.8 90.7,219.4 92.2,219" fill="none" stroke="#f8c8a0" stroke-width="0.8" stroke-opacity="0.6"/>
<polyline points="43.3,301.2 44.9,292.6 46.5,284.9 48.2,277.9 49.8,271.6 51.4,266 53.1,260.9 54.7,256.4 56.3,252.2 57.9,248.6 59.6,245.2 61.2,242.3 62.8,239.6 64.5,237.2 66.1,235 67.7,233 69.4,231.3 71,229.7 72.6,228.3 74.3,227 75.9,225.9 77.5,224.8 79.2,223.9 80.8,223.1 82.4,222.3 84,221.6 85.7,221 87.3,220.5 88.9,220 90.6,219.5 92.2,219.2" fill="none" stroke="#f0b890" stroke-width="1.2" stroke-opacity="0.6"/>
<polyline points="42.3,319.2 44,306.9 45.6,296.1 47.3,286.6 49,278.2 50.6,270.8 52.3,264.2 53.9,258.5 55.6,253.4 57.3,248.9 58.9,245 60.6,241.5 62.3,238.4 63.9,235.7 65.6,233.4 67.2,231.3 68.9,229.4 70.6,227.8 72.2,226.3 73.9,225.1 75.6,223.9 77.2,223 78.9,222.1 80.6,221.3 82.2,220.6 83.9,220 85.5,219.5 87.2,219.1 88.9,218.6 90.5,218.3 92.2,218" fill="none" stroke="#f0b890" stroke-width="0.8" stroke-opacity="0.6"/>
<polyline points="50.9,350.6 52.3,332.7 53.7,317.1 55.1,303.6 56.4,291.9 57.8,281.8 59.2,273 60.6,265.4 61.9,258.8 63.3,253 64.7,248.1 66.1,243.8 67.4,240 68.8,236.8 70.2,234 71.6,231.5 72.9,229.4 74.3,227.6 75.7,226 77.1,224.6 78.4,223.4 79.8,222.4 81.2,221.5 82.6,220.7 83.9,220 85.3,219.4 86.7,218.9 88.1,218.5 89.4,218.1 90.8,217.8 92.2,217.5" fill="none" stroke="#c070f0" stroke-width="0.8" stroke-opacity="0.6"/>
<polyline points="51.6,352 52.9,333.7 54.3,318 55.6,304.3 57,292.4 58.3,282.2 59.7,273.3 61,265.6 62.4,258.9 63.8,253.1 65.1,248.1 66.5,243.8 67.8,240 69.2,236.7 70.5,233.9 71.9,231.5 73.2,229.3 74.6,227.5 75.9,225.9 77.3,224.5 78.7,223.3 80,222.3 81.4,221.4 82.7,220.6 84.1,220 85.4,219.4 86.8,218.9 88.1,218.4 89.5,218.1 90.8,217.7 92.2,217.4" fill="none" stroke="#b050e6" stroke-width="0.8" stroke-opacity="1.0"/>
<polyline points="51.6,346.5 53,331.5 54.3,318.3 55.7,306.6 57,296.2 58.4,287 59.7,278.8 61.1,271.6 62.5,265.2 63.8,259.5 65.2,254.5 66.5,250.1 67.9,246.1 69.2,242.7 70.6,239.6 71.9,236.8 73.3,234.4 74.6,232.3 76,230.4 77.3,228.7 78.7,227.2 80,225.9 81.4,224.7 82.7,223.6 84.1,222.7 85.4,221.9 86.8,221.2 88.1,220.6 89.5,220 90.8,219.5 92.2,219" fill="none" stroke="#c070f0" stroke-width="0.8" stroke-opacity="1.0"/>
<polyline points="52.9,347.5 54.2,332.1 55.5,318.5 56.8,306.5 58.1,295.8 59.4,286.5 60.8,278.2 62.1,270.9 63.4,264.4 64.7,258.7 66,253.7 67.3,249.2 68.6,245.3 69.9,241.8 71.2,238.8 72.5,236 73.9,233.7 75.2,231.5 76.5,229.7 77.8,228 79.1,226.6 80.4,225.3 81.7,224.2 83,223.2 84.3,222.3 85.6,221.5 87,220.8 88.3,220.2 89.6,219.7 90.9,219.2 92.2,218.8" fill="none" stroke="#b050e6" stroke-width="0.8" stroke-opacity="1.0"/>
<polyline points="53,352.2 54.3,336.6 55.6,322.8 56.9,310.6 58.2,299.7 59.5,290.1 60.8,281.6 62.1,274.1 63.5,267.4 64.8,261.5 66.1,256.3 67.4,251.6 68.7,247.5 70,243.9 71.3,240.6 72.6,237.8 73.9,235.3 75.2,233 76.5,231 77.8,229.3 79.1,227.7 80.4,226.3 81.7,225.1 83.1,224 84.4,223.1 85.7,222.2 87,221.5 88.3,220.8 89.6,220.2 90.9,219.7 92.2,219.2" fill="none" stroke="#c070f0" stroke-width="0.8" stroke-opacity="0.85"/>
<polyline points="53.8,339.5 55.1,323.1 56.3,308.9 57.6,296.6 58.9,285.9 60.2,276.6 61.5,268.6 62.8,261.6 64,255.5 65.3,250.2 66.6,245.7 67.9,241.7 69.2,238.2 70.4,235.3 71.7,232.7 73,230.4 74.3,228.5 75.6,226.8 76.8,225.3 78.1,224 79.4,222.9 80.7,221.9 82,221.1 83.2,220.4 84.5,219.7 85.8,219.2 87.1,218.7 88.4,218.3 89.6,217.9 90.9,217.6 92.2,217.4" fill="none" stroke="#b050e6" stroke-width="0.8" stroke-opacity="0.85"/>
<polyline points="52.5,342.6 53.9,325.6 55.2,310.8 56.5,298 57.8,287 59.2,277.4 60.5,269.1 61.8,261.9 63.1,255.7 64.4,250.3 65.8,245.7 67.1,241.6 68.4,238.1 69.7,235.1 71.1,232.5 72.4,230.2 73.7,228.3 75,226.6 76.3,225.1 77.7,223.8 79,222.7 80.3,221.8 81.6,220.9 82.9,220.2 84.3,219.6 85.6,219.1 86.9,218.6 88.2,218.2 89.6,217.8 90.9,217.5 92.2,217.3" fill="none" stroke="#c070f0" stroke-width="0.8" stroke-opacity="0.6"/>
<polyline points="55.6,337 56.8,321.5 58,308 59.3,296.2 60.5,285.9 61.7,277 62.9,269.1 64.1,262.3 65.4,256.4 66.6,251.2 67.8,246.6 69,242.7 70.2,239.2 71.5,236.2 72.7,233.6 73.9,231.3 75.1,229.3 76.3,227.5 77.6,226 78.8,224.7 80,223.5 81.2,222.5 82.4,221.6 83.7,220.9 84.9,220.2 86.1,219.6 87.3,219.1 88.5,218.7 89.8,218.3 91,217.9 92.2,217.6" fill="none" stroke="#b050e6" stroke-width="0.8" stroke-opacity="0.85"/>
<polyline points="53.1,322.8 54.4,309.7 55.7,298.2 57,288.1 58.3,279.2 59.6,271.4 60.9,264.5 62.2,258.6 63.5,253.3 64.8,248.7 66.1,244.6 67.4,241.1 68.7,237.9 70,235.2 71.3,232.8 72.6,230.7 73.9,228.8 75.2,227.2 76.5,225.8 77.9,224.5 79.2,223.5 80.5,222.5 81.8,221.6 83.1,220.9 84.4,220.3 85.7,219.7 87,219.2 88.3,218.7 89.6,218.4 90.9,218 92.2,217.7" fill="none" stroke="#c070f0" stroke-width="0.8" stroke-opacity="0.85"/>
<polyline points="54.9,333.4 56.2,319.7 57.4,307.7 58.6,297 59.9,287.5 61.1,279.2 62.4,271.8 63.6,265.3 64.9,259.5 66.1,254.4 67.3,249.9 68.6,245.9 69.8,242.4 71.1,239.3 72.3,236.6 73.6,234.1 74.8,232 76,230.1 77.3,228.4 78.5,226.9 79.8,225.6 81,224.4 82.3,223.4 83.5,222.5 84.7,221.7 86,221 87.2,220.4 88.5,219.8 89.7,219.3 91,218.9 92.2,218.5" fill="none" stroke="#b050e6" stroke-width="0.8" stroke-opacity="0.85"/>
<polyline points="58.6,304.4 59.7,295.4 60.9,287.4 62,280.1 63.1,273.6 64.2,267.7 65.3,262.4 66.5,257.7 67.6,253.4 68.7,249.6 69.8,246.2 70.9,243.1 72,240.3 73.2,237.8 74.3,235.6 75.4,233.5 76.5,231.7 77.6,230.1 78.8,228.6 79.9,227.3 81,226.1 82.1,225.1 83.2,224.1 84.4,223.2 85.5,222.5 86.6,221.8 87.7,221.1 88.8,220.6 90,220.1 91.1,219.6 92.2,219.2" fill="none" stroke="#e61e8c" stroke-width="1.6" stroke-opacity="0.6"/>
<polyline points="55.6,304.3 56.8,295.7 58.1,287.9 59.3,280.9 60.5,274.5 61.7,268.8 62.9,263.6 64.2,259 65.4,254.8 66.6,251 67.8,247.5 69,244.4 70.2,241.6 71.5,239.1 72.7,236.8 73.9,234.8 75.1,232.9 76.3,231.2 77.6,229.7 78.8,228.3 80,227.1 81.2,226 82.4,225 83.7,224.1 84.9,223.2 86.1,222.5 87.3,221.8 88.5,221.2 89.8,220.7 91,220.2 92.2,219.7" fill="none" stroke="#d8207a" stroke-width="1.2" stroke-opacity="1.0"/>
<polyline points="55.1,297.3 56.3,288.7 57.6,281.1 58.8,274.2 60,268.1 61.3,262.6 62.5,257.6 63.8,253.2 65,249.3 66.2,245.8 67.5,242.6 68.7,239.8 69.9,237.2 71.2,235 72.4,232.9 73.6,231.1 74.9,229.5 76.1,228 77.4,226.7 78.6,225.6 79.8,224.5 81.1,223.6 82.3,222.7 83.5,222 84.8,221.3 86,220.7 87.3,220.2 88.5,219.7 89.7,219.3 91,218.9 92.2,218.5" fill="none" stroke="#d8207a" stroke-width="2.0" stroke-opacity="0.6"/>
<polyline points="56.7,326.7 57.9,312.7 59.1,300.5 60.3,289.8 61.4,280.4 62.6,272.2 63.8,265.1 65,258.9 66.2,253.4 67.4,248.6 68.5,244.5 69.7,240.8 70.9,237.7 72.1,234.9 73.3,232.4 74.5,230.3 75.6,228.5 76.8,226.8 78,225.4 79.2,224.2 80.4,223.1 81.6,222.2 82.7,221.3 83.9,220.6 85.1,220 86.3,219.4 87.5,218.9 88.7,218.5 89.8,218.2 91,217.8 92.2,217.5" fill="none" stroke="#e61e8c" stroke-width="1.6" stroke-opacity="1.0"/>
<polyline points="53.2,315.3 54.5,304.7 55.8,295.3 57.1,286.8 58.4,279.2 59.7,272.5 61,266.4 62.3,261 63.6,256.2 64.9,251.9 66.2,248 67.5,244.6 68.8,241.5 70.1,238.8 71.4,236.3 72.7,234.1 74,232.1 75.3,230.4 76.6,228.8 77.9,227.4 79.2,226.2 80.5,225 81.8,224 83.1,223.1 84.4,222.3 85.7,221.6 87,221 88.3,220.4 89.6,219.9 90.9,219.4 92.2,219" fill="none" stroke="#e61e8c" stroke-width="1.2" stroke-opacity="0.85"/>
<polyline points="56.3,313.6 57.5,303.8 58.7,295 59.9,287.1 61.1,279.9 62.3,273.5 63.5,267.7 64.7,262.5 65.9,257.8 67.1,253.6 68.3,249.8 69.5,246.3 70.7,243.3 71.8,240.5 73,238 74.2,235.8 75.4,233.7 76.6,231.9 77.8,230.3 79,228.8 80.2,227.5 81.4,226.3 82.6,225.2 83.8,224.3 85,223.4 86.2,222.6 87.4,221.9 88.6,221.3 89.8,220.7 91,220.2 92.2,219.7" fill="none" stroke="#d8207a" stroke-width="1.2" stroke-opacity="1.0"/>
<polyline points="57.1,325.7 58.2,312.6 59.4,301.1 60.6,290.9 61.8,281.9 62.9,274 64.1,267.1 65.3,261 66.4,255.6 67.6,250.8 68.8,246.6 70,242.9 71.1,239.7 72.3,236.8 73.5,234.3 74.6,232.1 75.8,230.1 77,228.4 78.1,226.9 79.3,225.5 80.5,224.3 81.7,223.3 82.8,222.4 84,221.6 85.2,220.9 86.3,220.2 87.5,219.7 88.7,219.2 89.9,218.8 91,218.4 92.2,218.1" fill="none" stroke="#e61e8c" stroke-width="1.6" stroke-opacity="0.6"/>
<polyline points="53.9,316.2 55.2,303.7 56.5,292.9 57.7,283.3 59,275 60.3,267.6 61.6,261.2 62.8,255.6 64.1,250.6 65.4,246.3 66.7,242.5 67.9,239.2 69.2,236.3 70.5,233.7 71.8,231.5 73.1,229.5 74.3,227.8 75.6,226.3 76.9,225 78.2,223.8 79.4,222.8 80.7,221.9 82,221.1 83.3,220.5 84.5,219.9 85.8,219.3 87.1,218.9 88.4,218.5 89.6,218.1 90.9,217.8 92.2,217.5" fill="none" stroke="#d8207a" stroke-width="2.0" stroke-opacity="1.0"/>
<polyline points="53.9,301.4 55.2,292.7 56.5,284.9 57.8,277.8 59,271.5 60.3,265.9 61.6,260.8 62.9,256.2 64.1,252.1 65.4,248.4 66.7,245 68,242 69.2,239.4 70.5,236.9 71.8,234.8 73.1,232.8 74.3,231.1 75.6,229.5 76.9,228.1 78.2,226.8 79.4,225.7 80.7,224.7 82,223.7 83.3,222.9 84.5,222.2 85.8,221.5 87.1,220.9 88.4,220.4 89.6,219.9 90.9,219.5 92.2,219.1" fill="none" stroke="#d8207a" stroke-width="0.8" stroke-opacity="1.0"/>
<polyline points="55.7,321.2 56.9,310.4 58.2,300.7 59.4,291.9 60.6,284.1 61.8,277.1 63,270.8 64.2,265.1 65.5,260.1 66.7,255.5 67.9,251.4 69.1,247.7 70.3,244.4 71.5,241.5 72.7,238.8 74,236.5 75.2,234.3 76.4,232.4 77.6,230.7 78.8,229.1 80,227.7 81.3,226.5 82.5,225.4 83.7,224.4 84.9,223.5 86.1,222.7 87.3,221.9 88.6,221.3 89.8,220.7 91,220.2 92.2,219.7" fill="none" stroke="#e61e8c" stroke-width="0.8" stroke-opacity="0.85"/>
<polyline points="59.1,296.6 60.2,286.7 61.3,278.1 62.4,270.5 63.5,263.9 64.6,258 65.7,252.9 66.8,248.4 67.9,244.4 69,240.9 70.1,237.8 71.2,235.1 72.3,232.8 73.4,230.7 74.5,228.9 75.6,227.2 76.7,225.8 77.8,224.6 78.9,223.5 80.1,222.5 81.2,221.7 82.3,221 83.4,220.3 84.5,219.7 85.6,219.2 86.7,218.8 87.8,218.4 88.9,218.1 90,217.8 91.1,217.5 92.2,217.3" fill="none" stroke="#e61e8c" stroke-width="0.8" stroke-opacity="0.85"/>
<polyline points="55.2,323.5 56.4,312.3 57.6,302.3 58.9,293.3 60.1,285.2 61.3,278 62.6,271.5 63.8,265.7 65,260.5 66.3,255.9 67.5,251.7 68.7,247.9 70,244.6 71.2,241.6 72.4,238.9 73.7,236.5 74.9,234.3 76.2,232.4 77.4,230.6 78.6,229.1 79.9,227.7 81.1,226.4 82.3,225.3 83.6,224.3 84.8,223.4 86,222.6 87.3,221.9 88.5,221.2 89.7,220.6 91,220.1 92.2,219.6" fill="none" stroke="#e61e8c" stroke-width="2.0" stroke-opacity="0.6"/>
<polyline points="56.9,313.9 58.1,300.5 59.2,289 60.4,279 61.6,270.4 62.8,262.9 63.9,256.5 65.1,250.9 66.3,246.1 67.5,242 68.7,238.4 69.8,235.3 71,232.6 72.2,230.3 73.4,228.3 74.5,226.6 75.7,225.1 76.9,223.8 78.1,222.7 79.2,221.7 80.4,220.9 81.6,220.2 82.8,219.5 84,219 85.1,218.5 86.3,218.1 87.5,217.8 88.7,217.5 89.8,217.2 91,217 92.2,216.8" fill="none" stroke="#ff2a2a" stroke-width="0.8" stroke-opacity="0.85"/>
<polyline points="58.5,294.2 59.6,286.2 60.7,279 61.8,272.5 63,266.7 64.1,261.5 65.2,256.8 66.3,252.6 67.5,248.8 68.6,245.4 69.7,242.3 70.8,239.6 72,237.2 73.1,235 74.2,233 75.3,231.2 76.5,229.6 77.6,228.2 78.7,226.9 79.8,225.7 81,224.7 82.1,223.8 83.2,222.9 84.3,222.2 85.5,221.5 86.6,220.9 87.7,220.4 88.8,219.9 90,219.4 91.1,219 92.2,218.7" fill="none" stroke="#ff2a2a" stroke-width="2.0" stroke-opacity="0.6"/>
<polyline points="52.1,315 53.4,303.5 54.8,293.2 56.1,284.2 57.5,276.2 58.8,269.1 60.1,262.9 61.5,257.4 62.8,252.5 64.1,248.2 65.5,244.4 66.8,241.1 68.1,238.1 69.5,235.5 70.8,233.2 72.2,231.1 73.5,229.3 74.8,227.7 76.2,226.3 77.5,225.1 78.8,224 80.2,223 81.5,222.1 82.8,221.4 84.2,220.7 85.5,220.1 86.9,219.6 88.2,219.1 89.5,218.7 90.9,218.3 92.2,218" fill="none" stroke="#ff2a2a" stroke-width="0.8" stroke-opacity="1.0"/>
<polyline points="57.9,303.7 59,292 60.2,281.8 61.3,273 62.5,265.4 63.6,258.7 64.8,253 65.9,248 67,243.7 68.2,240 69.3,236.7 70.5,233.9 71.6,231.5 72.8,229.4 73.9,227.5 75.1,225.9 76.2,224.6 77.3,223.4 78.5,222.3 79.6,221.4 80.8,220.7 81.9,220 83.1,219.4 84.2,218.9 85.3,218.5 86.5,218.1 87.6,217.7 88.8,217.5 89.9,217.2 91.1,217 92.2,216.8" fill="none" stroke="#ff2a2a" stroke-width="0.8" stroke-opacity="0.85"/>
<polyline points="48.9,327.3 50.3,315.5 51.8,304.8 53.2,295.4 54.7,286.9 56.1,279.3 57.5,272.6 59,266.5 60.4,261.1 61.9,256.3 63.3,251.9 64.8,248.1 66.2,244.6 67.6,241.6 69.1,238.8 70.5,236.3 72,234.1 73.4,232.2 74.9,230.4 76.3,228.8 77.8,227.4 79.2,226.2 80.6,225 82.1,224 83.5,223.1 85,222.3 86.4,221.6 87.9,221 89.3,220.4 90.8,219.9 92.2,219.4" fill="none" stroke="#ff2a2a" stroke-width="1.6" stroke-opacity="0.6"/>
<polyline points="56,304 57.2,295 58.4,286.9 59.6,279.6 60.8,273.1 62,267.2 63.2,261.9 64.4,257.2 65.6,253 66.8,249.1 68.1,245.7 69.3,242.6 70.5,239.9 71.7,237.4 72.9,235.2 74.1,233.2 75.3,231.4 76.5,229.8 77.7,228.3 78.9,227 80.1,225.9 81.3,224.8 82.5,223.9 83.7,223 85,222.3 86.2,221.6 87.4,221 88.6,220.4 89.8,219.9 91,219.5 92.2,219.1" fill="none" stroke="#ff2a2a" stroke-width="2.0" stroke-opacity="0.85"/>
<polyline points="53.5,300.1 54.8,292.1 56,284.8 57.3,278.2 58.6,272.2 59.9,266.8 61.2,261.9 62.5,257.5 63.8,253.5 65.1,249.9 66.4,246.6 67.7,243.7 69,241 70.3,238.6 71.5,236.4 72.8,234.4 74.1,232.6 75.4,231 76.7,229.5 78,228.2 79.3,227 80.6,225.9 81.9,224.9 83.2,224 84.5,223.2 85.7,222.5 87,221.8 88.3,221.2 89.6,220.7 90.9,220.2 92.2,219.8" fill="none" stroke="#f03050" stroke-width="2.0" stroke-opacity="1.0"/>
<polyline points="59,302.3 60.1,291.7 61.2,282.4 62.3,274.2 63.4,267.1 64.5,260.8 65.6,255.2 66.7,250.4 67.8,246.1 68.9,242.4 70,239.1 71.1,236.2 72.3,233.7 73.4,231.5 74.5,229.6 75.6,227.9 76.7,226.4 77.8,225 78.9,223.9 80,222.9 81.1,222 82.2,221.2 83.3,220.5 84.4,219.9 85.6,219.4 86.7,218.9 87.8,218.5 88.9,218.2 90,217.8 91.1,217.6 92.2,217.3" fill="none" stroke="#ff2a2a" stroke-width="1.6" stroke-opacity="0.85"/>
<polyline points="54,297.2 55.3,289.6 56.5,282.7 57.8,276.4 59.1,270.7 60.3,265.5 61.6,260.9 62.9,256.6 64.2,252.8 65.4,249.3 66.7,246.2 68,243.3 69.3,240.7 70.5,238.4 71.8,236.2 73.1,234.3 74.4,232.6 75.6,231 76.9,229.5 78.2,228.2 79.5,227.1 80.7,226 82,225 83.3,224.1 84.6,223.3 85.8,222.6 87.1,222 88.4,221.4 89.7,220.8 90.9,220.3 92.2,219.9" fill="none" stroke="#ff2a2a" stroke-width="1.6" stroke-opacity="0.6"/>
<polyline points="57.5,291 58.7,281.5 59.9,273.3 61,266 62.2,259.7 63.3,254.2 64.5,249.3 65.6,245.1 66.8,241.4 67.9,238.1 69.1,235.3 70.3,232.8 71.4,230.7 72.6,228.8 73.7,227.1 74.9,225.7 76,224.4 77.2,223.3 78.3,222.3 79.5,221.5 80.6,220.8 81.8,220.1 83,219.5 84.1,219 85.3,218.6 86.4,218.2 87.6,217.9 88.7,217.6 89.9,217.4 91,217.1 92.2,216.9" fill="none" stroke="#f03050" stroke-width="2.0" stroke-opacity="1.0"/>
<polyline points="51.3,327.9 52.7,316 54.1,305.4 55.4,295.9 56.8,287.4 58.1,279.8 59.5,273 60.9,266.9 62.2,261.5 63.6,256.6 65,252.3 66.3,248.4 67.7,244.9 69,241.8 70.4,239 71.8,236.5 73.1,234.3 74.5,232.3 75.9,230.6 77.2,229 78.6,227.6 79.9,226.3 81.3,225.2 82.7,224.2 84,223.2 85.4,222.4 86.8,221.7 88.1,221.1 89.5,220.5 90.8,220 92.2,219.5" fill="none" stroke="#ff2a2a" stroke-width="1.2" stroke-opacity="0.6"/>
<polyline points="58,289.7 59.2,282.4 60.3,275.8 61.4,269.9 62.6,264.6 63.7,259.7 64.9,255.4 66,251.5 67.1,248 68.3,244.8 69.4,241.9 70.5,239.3 71.7,237 72.8,234.9 74,233 75.1,231.3 76.2,229.7 77.4,228.3 78.5,227.1 79.7,226 80.8,224.9 81.9,224 83.1,223.2 84.2,222.5 85.4,221.8 86.5,221.2 87.6,220.6 88.8,220.1 89.9,219.7 91.1,219.3 92.2,218.9" fill="none" stroke="#f03050" stroke-width="0.8" stroke-opacity="0.6"/>
<polyline points="55.9,322.9 57.1,310.8 58.3,300 59.5,290.5 60.7,282 61.9,274.5 63.1,267.9 64.3,262 65.6,256.7 66.8,252.1 68,247.9 69.2,244.3 70.4,241 71.6,238.2 72.8,235.6 74,233.4 75.2,231.4 76.5,229.6 77.7,228 78.9,226.6 80.1,225.3 81.3,224.2 82.5,223.3 83.7,222.4 84.9,221.6 86.1,221 87.4,220.3 88.6,219.8 89.8,219.3 91,218.9 92.2,218.5" fill="none" stroke="#ff2a2a" stroke-width="1.2" stroke-opacity="0.6"/>
<polyline points="55.5,317.1 56.7,307 58,297.8 59.2,289.6 60.4,282.2 61.6,275.5 62.8,269.6 64.1,264.2 65.3,259.3 66.5,254.9 67.7,251 69,247.5 70.2,244.3 71.4,241.4 72.6,238.8 73.9,236.5 75.1,234.4 76.3,232.5 77.5,230.8 78.7,229.3 80,227.9 81.2,226.7 82.4,225.6 83.6,224.6 84.9,223.7 86.1,222.9 87.3,222.2 88.5,221.5 89.8,220.9 91,220.4 92.2,219.9" fill="none" stroke="#ff2a2a" stroke-width="1.2" stroke-opacity="1.0"/>
<polyline points="53.4,322.2 54.7,310.7 56,300.4 57.2,291.2 58.5,283.1 59.8,275.8 61.1,269.3 62.4,263.5 63.7,258.3 65,253.7 66.3,249.6 67.6,245.9 68.9,242.6 70.2,239.7 71.5,237.1 72.8,234.8 74.1,232.7 75.4,230.9 76.7,229.2 78,227.7 79.3,226.4 80.5,225.3 81.8,224.2 83.1,223.3 84.4,222.5 85.7,221.7 87,221.1 88.3,220.5 89.6,219.9 90.9,219.5 92.2,219" fill="none" stroke="#f03050" stroke-width="0.8" stroke-opacity="0.85"/>
<polyline points="58.2,291.5 59.3,284.6 60.4,278.2 61.6,272.5 62.7,267.2 63.8,262.5 65,258.2 66.1,254.3 67.3,250.7 68.4,247.5 69.5,244.6 70.7,241.9 71.8,239.5 72.9,237.3 74.1,235.3 75.2,233.5 76.3,231.9 77.5,230.4 78.6,229 79.7,227.8 80.9,226.7 82,225.6 83.1,224.7 84.3,223.9 85.4,223.1 86.5,222.4 87.7,221.8 88.8,221.2 89.9,220.7 91.1,220.2 92.2,219.8" fill="none" stroke="#f03050" stroke-width="1.6" stroke-opacity="0.6"/>
<polyline points="55.1,320.6 56.3,307.1 57.6,295.3 58.8,285 60,276 61.3,268.2 62.5,261.4 63.7,255.5 65,250.4 66.2,245.9 67.5,242 68.7,238.6 69.9,235.6 71.2,233 72.4,230.8 73.6,228.8 74.9,227.1 76.1,225.6 77.4,224.3 78.6,223.2 79.8,222.2 81.1,221.4 82.3,220.6 83.5,220 84.8,219.4 86,218.9 87.3,218.5 88.5,218.1 89.7,217.8 91,217.5 92.2,217.3" fill="none" stroke="#ff2a2a" stroke-width="1.6" stroke-opacity="0.6"/>
<polyline points="58.1,288.5 59.2,281.1 60.4,274.4 61.5,268.4 62.6,263 63.8,258.1 64.9,253.8 66,249.9 67.2,246.4 68.3,243.2 69.5,240.4 70.6,237.9 71.7,235.6 72.9,233.5 74,231.7 75.1,230.1 76.3,228.6 77.4,227.3 78.6,226.1 79.7,225 80.8,224 82,223.2 83.1,222.4 84.2,221.7 85.4,221.1 86.5,220.5 87.7,220 88.8,219.6 89.9,219.2 91.1,218.8 92.2,218.5" fill="none" stroke="#f03050" stroke-width="2.0" stroke-opacity="0.6"/>
<polyline points="57.7,314.8 58.9,302.6 60,291.9 61.2,282.5 62.3,274.3 63.5,267.1 64.6,260.8 65.8,255.2 66.9,250.4 68.1,246.1 69.2,242.4 70.4,239.1 71.5,236.2 72.7,233.7 73.8,231.4 75,229.5 76.1,227.8 77.3,226.3 78.4,225 79.6,223.8 80.7,222.8 81.9,221.9 83,221.2 84.2,220.5 85.3,219.9 86.5,219.3 87.6,218.9 88.8,218.5 89.9,218.1 91.1,217.8 92.2,217.5" fill="none" stroke="#ff2a2a" stroke-width="2.0" stroke-opacity="1.0"/>
<polyline points="51.2,320 52.6,308.4 54,298.1 55.3,289 56.7,280.8 58.1,273.6 59.4,267.2 60.8,261.5 62.2,256.4 63.5,251.8 64.9,247.8 66.3,244.3 67.6,241.1 69,238.2 70.3,235.7 71.7,233.5 73.1,231.5 74.4,229.8 75.8,228.2 77.2,226.8 78.5,225.5 79.9,224.4 81.3,223.5 82.6,222.6 84,221.8 85.4,221.1 86.7,220.5 88.1,220 89.5,219.5 90.8,219.1 92.2,218.7" fill="none" stroke="#ff2a2a" stroke-width="0.8" stroke-opacity="0.85"/>
<polyline points="56.6,309 57.8,299.5 59,291 60.2,283.3 61.4,276.4 62.6,270.2 63.7,264.6 64.9,259.6 66.1,255.1 67.3,251.1 68.5,247.5 69.7,244.2 70.9,241.3 72,238.7 73.2,236.3 74.4,234.2 75.6,232.3 76.8,230.6 78,229.1 79.2,227.7 80.3,226.5 81.5,225.4 82.7,224.4 83.9,223.5 85.1,222.7 86.3,221.9 87.5,221.3 88.6,220.7 89.8,220.2 91,219.7 92.2,219.3" fill="none" stroke="#ff2a2a" stroke-width="1.2" stroke-opacity="0.6"/>
<polyline points="57.4,316.7 58.6,303.1 59.7,291.4 60.9,281.2 62.1,272.4 63.2,264.8 64.4,258.2 65.5,252.5 66.7,247.6 67.9,243.3 69,239.6 70.2,236.4 71.3,233.6 72.5,231.2 73.7,229.1 74.8,227.3 76,225.7 77.1,224.4 78.3,223.2 79.4,222.2 80.6,221.3 81.8,220.5 82.9,219.9 84.1,219.3 85.2,218.8 86.4,218.4 87.6,218 88.7,217.7 89.9,217.4 91,217.2 92.2,216.9" fill="none" stroke="#f03050" stroke-width="2.0" stroke-opacity="1.0"/>
<polyline points="51.2,315.8 52.5,305.6 53.9,296.5 55.3,288.3 56.6,280.9 58,274.3 59.4,268.4 60.7,263 62.1,258.2 63.5,253.9 64.8,250 66.2,246.5 67.6,243.4 68.9,240.6 70.3,238.1 71.7,235.8 73.1,233.7 74.4,231.9 75.8,230.3 77.2,228.8 78.5,227.4 79.9,226.2 81.3,225.2 82.6,224.2 84,223.3 85.4,222.5 86.7,221.8 88.1,221.2 89.5,220.6 90.8,220.1 92.2,219.7" fill="none" stroke="#f03050" stroke-width="0.8" stroke-opacity="0.85"/>
<polyline points="57.5,283.2 58.7,277 59.8,271.3 61,266.2 62.1,261.5 63.3,257.3 64.5,253.4 65.6,249.9 66.8,246.8 67.9,243.9 69.1,241.3 70.2,238.9 71.4,236.8 72.5,234.8 73.7,233 74.9,231.4 76,230 77.2,228.6 78.3,227.4 79.5,226.3 80.6,225.4 81.8,224.5 83,223.6 84.1,222.9 85.3,222.2 86.4,221.6 87.6,221.1 88.7,220.6 89.9,220.1 91,219.7 92.2,219.3" fill="none" stroke="#f03050" stroke-width="1.2" stroke-opacity="0.6"/>
<polyline points="57.2,297.5 58.4,288.7 59.5,280.9 60.7,273.9 61.9,267.7 63,262.1 64.2,257.2 65.4,252.7 66.5,248.7 67.7,245.2 68.9,242 70,239.2 71.2,236.7 72.4,234.4 73.5,232.4 74.7,230.6 75.9,229 77,227.6 78.2,226.3 79.4,225.2 80.5,224.1 81.7,223.2 82.9,222.4 84,221.7 85.2,221 86.4,220.4 87.5,219.9 88.7,219.5 89.9,219.1 91,218.7 92.2,218.4" fill="none" stroke="#ff2a2a" stroke-width="1.2" stroke-opacity="0.85"/>
<polyline points="55.8,328.2 57,314.1 58.2,301.7 59.4,290.8 60.6,281.4 61.8,273.1 63.1,265.8 64.3,259.5 65.5,254 66.7,249.2 67.9,244.9 69.1,241.2 70.3,238 71.6,235.2 72.8,232.7 74,230.6 75.2,228.7 76.4,227 77.6,225.6 78.8,224.3 80.1,223.2 81.3,222.3 82.5,221.4 83.7,220.7 84.9,220.1 86.1,219.5 87.3,219 88.6,218.6 89.8,218.2 91,217.9 92.2,217.6" fill="none" stroke="#ff2a2a" stroke-width="1.6" stroke-opacity="1.0"/>
<polyline points="59.4,284.6 60.5,277.7 61.6,271.4 62.7,265.8 63.8,260.8 64.9,256.2 66,252.2 67,248.5 68.1,245.2 69.2,242.2 70.3,239.5 71.4,237.1 72.5,235 73.6,233 74.7,231.3 75.8,229.7 76.9,228.3 78,227 79.1,225.9 80.2,224.8 81.3,223.9 82.4,223.1 83.5,222.3 84.5,221.6 85.6,221 86.7,220.5 87.8,220 88.9,219.6 90,219.2 91.1,218.8 92.2,218.5" fill="none" stroke="#f03050" stroke-width="0.8" stroke-opacity="0.6"/>
<polyline points="51.6,285.8 53,277.2 54.3,269.7 55.7,263.1 57,257.4 58.4,252.3 59.7,247.8 61.1,243.9 62.4,240.5 63.8,237.4 65.2,234.8 66.5,232.5 67.9,230.4 69.2,228.6 70.6,227 71.9,225.6 73.3,224.4 74.6,223.3 76,222.4 77.3,221.6 78.7,220.8 80,220.2 81.4,219.6 82.7,219.2 84.1,218.7 85.4,218.3 86.8,218 88.1,217.7 89.5,217.5 90.8,217.2 92.2,217" fill="none" stroke="#f5a030" stroke-width="2.0" stroke-opacity="1.0"/>
<polyline points="52.9,292.9 54.2,284.3 55.5,276.6 56.8,269.9 58.1,263.8 59.4,258.5 60.7,253.7 62.1,249.5 63.4,245.7 64.7,242.4 66,239.4 67.3,236.7 68.6,234.4 69.9,232.3 71.2,230.5 72.5,228.8 73.8,227.3 75.2,226 76.5,224.9 77.8,223.8 79.1,222.9 80.4,222.1 81.7,221.4 83,220.7 84.3,220.2 85.6,219.7 87,219.2 88.3,218.8 89.6,218.5 90.9,218.1 92.2,217.9" fill="none" stroke="#ff8c1a" stroke-width="0.8" stroke-opacity="0.6"/>
<polyline points="52.4,292.3 53.7,284.6 55,277.6 56.4,271.4 57.7,265.7 59,260.7 60.4,256.1 61.7,252 63,248.4 64.3,245.1 65.7,242.1 67,239.4 68.3,237 69.6,234.9 71,232.9 72.3,231.2 73.6,229.6 74.9,228.2 76.3,226.9 77.6,225.8 78.9,224.8 80.3,223.8 81.6,223 82.9,222.3 84.2,221.6 85.6,221 86.9,220.4 88.2,219.9 89.5,219.5 90.9,219.1 92.2,218.8" fill="none" stroke="#f5a030" stroke-width="2.0" stroke-opacity="1.0"/>
<polyline points="47.9,310.9 49.4,300.4 50.9,291.1 52.4,282.8 53.8,275.4 55.3,268.8 56.8,263 58.3,257.8 59.7,253.1 61.2,249 62.7,245.3 64.2,242.1 65.6,239.1 67.1,236.6 68.6,234.3 70.1,232.2 71.5,230.4 73,228.8 74.5,227.3 76,226 77.4,224.9 78.9,223.9 80.4,222.9 81.9,222.1 83.3,221.4 84.8,220.8 86.3,220.2 87.8,219.7 89.2,219.3 90.7,218.9 92.2,218.5" fill="none" stroke="#ff7a10" stroke-width="2.0" stroke-opacity="1.0"/>
<polyline points="50.1,313.2 51.5,302.8 52.9,293.6 54.3,285.3 55.7,277.9 57.1,271.3 58.5,265.3 59.9,260.1 61.3,255.3 62.7,251.1 64.1,247.3 65.5,244 66.9,241 68.4,238.3 69.8,235.9 71.2,233.7 72.6,231.8 74,230.1 75.4,228.5 76.8,227.2 78.2,225.9 79.6,224.8 81,223.9 82.4,223 83.8,222.2 85.2,221.5 86.6,220.9 88,220.3 89.4,219.8 90.8,219.4 92.2,219" fill="none" stroke="#f5a030" stroke-width="2.0" stroke-opacity="1.0"/>
<polyline points="57.6,298.5 58.7,288.7 59.9,280 61,272.4 62.2,265.7 63.3,259.7 64.5,254.5 65.6,249.9 66.8,245.8 68,242.3 69.1,239.1 70.3,236.3 71.4,233.9 72.6,231.7 73.7,229.8 74.9,228.1 76,226.6 77.2,225.3 78.3,224.2 79.5,223.2 80.7,222.3 81.8,221.5 83,220.8 84.1,220.2 85.3,219.6 86.4,219.1 87.6,218.7 88.7,218.4 89.9,218 91,217.7 92.2,217.5" fill="none" stroke="#ff8c1a" stroke-width="1.6" stroke-opacity="0.6"/>
<polyline points="52.6,282.5 54,275.5 55.3,269.2 56.6,263.6 57.9,258.5 59.2,254 60.6,250 61.9,246.4 63.2,243.1 64.5,240.2 65.8,237.7 67.1,235.3 68.5,233.3 69.8,231.4 71.1,229.8 72.4,228.3 73.7,226.9 75.1,225.7 76.4,224.7 77.7,223.7 79,222.9 80.3,222.1 81.7,221.4 83,220.8 84.3,220.3 85.6,219.8 86.9,219.3 88.2,218.9 89.6,218.6 90.9,218.3 92.2,218" fill="none" stroke="#f5a030" stroke-width="1.2" stroke-opacity="0.6"/>
<polyline points="51.7,324.9 53.1,313.5 54.4,303.2 55.8,294 57.1,285.8 58.5,278.4 59.8,271.9 61.2,266 62.5,260.7 63.9,255.9 65.2,251.7 66.6,247.9 67.9,244.5 69.3,241.5 70.6,238.8 72,236.4 73.3,234.2 74.7,232.2 76,230.5 77.4,228.9 78.7,227.5 80.1,226.3 81.4,225.2 82.8,224.2 84.1,223.3 85.5,222.5 86.8,221.7 88.2,221.1 89.5,220.5 90.9,220 92.2,219.5" fill="none" stroke="#ff7a10" stroke-width="0.8" stroke-opacity="1.0"/>
<polyline points="52.9,319.5 54.2,305.2 55.5,292.8 56.8,282.2 58.1,273 59.4,265.1 60.7,258.3 62,252.4 63.4,247.3 64.7,243 66,239.2 67.3,235.9 68.6,233.1 69.9,230.7 71.2,228.6 72.5,226.8 73.8,225.3 75.2,224 76.5,222.8 77.8,221.8 79.1,221 80.4,220.2 81.7,219.6 83,219 84.3,218.6 85.6,218.2 87,217.8 88.3,217.5 89.6,217.2 90.9,217 92.2,216.8" fill="none" stroke="#f5a030" stroke-width="0.8" stroke-opacity="0.6"/>
<polyline points="56,298.6 57.2,289.3 58.4,281.1 59.6,273.7 60.8,267.2 62,261.5 63.2,256.3 64.4,251.8 65.6,247.7 66.9,244.1 68.1,240.9 69.3,238.1 70.5,235.6 71.7,233.4 72.9,231.4 74.1,229.6 75.3,228 76.5,226.6 77.7,225.4 78.9,224.3 80.1,223.3 81.3,222.5 82.5,221.7 83.8,221 85,220.4 86.2,219.9 87.4,219.4 88.6,219 89.8,218.6 91,218.3 92.2,218" fill="none" stroke="#ff7a10" stroke-width="1.2" stroke-opacity="0.6"/>
<polyline points="58,284.2 59.1,276.5 60.3,269.6 61.4,263.5 62.6,258.1 63.7,253.3 64.8,249 66,245.3 67.1,241.9 68.3,238.9 69.4,236.3 70.5,234 71.7,231.9 72.8,230.1 74,228.4 75.1,227 76.2,225.7 77.4,224.6 78.5,223.5 79.7,222.6 80.8,221.8 81.9,221.1 83.1,220.5 84.2,220 85.4,219.5 86.5,219 87.6,218.6 88.8,218.3 89.9,218 91.1,217.7 92.2,217.5" fill="none" stroke="#f5a030" stroke-width="1.6" stroke-opacity="1.0"/>
<polyline points="54.8,299.3 56,288.4 57.3,278.9 58.5,270.6 59.8,263.4 61,257.2 62.3,251.7 63.5,247 64.8,242.9 66,239.4 67.3,236.2 68.5,233.6 69.7,231.2 71,229.2 72.2,227.4 73.5,225.9 74.7,224.5 76,223.4 77.2,222.3 78.5,221.5 79.7,220.7 81,220 82.2,219.4 83.5,218.9 84.7,218.5 86,218.1 87.2,217.8 88.5,217.5 89.7,217.3 91,217 92.2,216.9" fill="none" stroke="#ff7a10" stroke-width="2.0" stroke-opacity="0.6"/>
<polyline points="53.5,291.2 54.8,283.3 56.1,276.3 57.4,269.9 58.7,264.3 60,259.2 61.3,254.7 62.5,250.6 63.8,247 65.1,243.7 66.4,240.8 67.7,238.2 69,235.8 70.3,233.7 71.6,231.8 72.9,230.2 74.2,228.6 75.4,227.3 76.7,226.1 78,225 79.3,224 80.6,223.1 81.9,222.3 83.2,221.6 84.5,221 85.8,220.5 87,219.9 88.3,219.5 89.6,219.1 90.9,218.7 92.2,218.4" fill="none" stroke="#ff7a10" stroke-width="1.2" stroke-opacity="0.85"/>
<polyline points="52.5,284.2 53.9,277.3 55.2,271 56.5,265.4 57.8,260.3 59.1,255.7 60.5,251.7 61.8,248 63.1,244.7 64.4,241.7 65.8,239.1 67.1,236.7 68.4,234.5 69.7,232.6 71,230.9 72.4,229.3 73.7,227.9 75,226.7 76.3,225.5 77.7,224.5 79,223.6 80.3,222.8 81.6,222.1 82.9,221.4 84.3,220.8 85.6,220.3 86.9,219.8 88.2,219.4 89.6,219 90.9,218.7 92.2,218.3" fill="none" stroke="#f5a030" stroke-width="2.0" stroke-opacity="0.6"/>
<polyline points="54.2,282.6 55.5,275.6 56.8,269.3 58,263.7 59.3,258.7 60.6,254.2 61.8,250.2 63.1,246.6 64.4,243.4 65.6,240.5 66.9,237.9 68.2,235.6 69.4,233.5 70.7,231.6 72,230 73.2,228.5 74.5,227.1 75.7,225.9 77,224.9 78.3,223.9 79.5,223 80.8,222.3 82.1,221.6 83.3,220.9 84.6,220.4 85.9,219.9 87.1,219.4 88.4,219 89.7,218.7 90.9,218.4 92.2,218.1" fill="none" stroke="#ff8c1a" stroke-width="1.6" stroke-opacity="1.0"/>
<polyline points="49.5,311.6 51,301.4 52.4,292.2 53.8,284.1 55.2,276.8 56.6,270.3 58.1,264.4 59.5,259.2 60.9,254.6 62.3,250.4 63.8,246.7 65.2,243.4 66.6,240.4 68,237.8 69.4,235.4 70.9,233.3 72.3,231.4 73.7,229.7 75.1,228.2 76.6,226.9 78,225.7 79.4,224.6 80.8,223.6 82.2,222.8 83.7,222 85.1,221.3 86.5,220.7 87.9,220.2 89.4,219.7 90.8,219.3 92.2,218.9" fill="none" stroke="#ff7a10" stroke-width="1.6" stroke-opacity="0.6"/>
<polyline points="53.1,306 54.4,296 55.7,287.1 57,279.2 58.3,272.2 59.6,265.9 60.9,260.3 62.2,255.4 63.5,251 64.8,247.1 66.1,243.6 67.4,240.5 68.7,237.7 70.1,235.3 71.4,233.1 72.7,231.2 74,229.4 75.3,227.9 76.6,226.5 77.9,225.3 79.2,224.3 80.5,223.3 81.8,222.4 83.1,221.7 84.4,221 85.7,220.4 87,219.9 88.3,219.4 89.6,219 90.9,218.6 92.2,218.3" fill="none" stroke="#f5a030" stroke-width="1.2" stroke-opacity="0.85"/>
<polyline points="46.6,314.2 48.1,302.3 49.6,291.8 51.1,282.6 52.7,274.5 54.2,267.4 55.7,261.2 57.2,255.6 58.8,250.8 60.3,246.6 61.8,242.8 63.3,239.5 64.8,236.6 66.4,234.1 67.9,231.9 69.4,229.9 70.9,228.2 72.4,226.7 74,225.3 75.5,224.1 77,223.1 78.5,222.2 80,221.4 81.6,220.7 83.1,220.1 84.6,219.5 86.1,219.1 87.6,218.6 89.2,218.3 90.7,218 92.2,217.7" fill="none" stroke="#ff8c1a" stroke-width="1.6" stroke-opacity="0.6"/>
<polyline points="47.5,311.3 49,301.1 50.5,292 52,283.9 53.5,276.7 55,270.2 56.5,264.4 58,259.2 59.4,254.5 60.9,250.4 62.4,246.7 63.9,243.4 65.4,240.4 66.9,237.8 68.4,235.4 69.9,233.3 71.4,231.5 72.8,229.8 74.3,228.3 75.8,226.9 77.3,225.7 78.8,224.6 80.3,223.7 81.8,222.8 83.3,222.1 84.8,221.4 86.2,220.8 87.7,220.2 89.2,219.7 90.7,219.3 92.2,218.9" fill="none" stroke="#ff8c1a" stroke-width="0.8" stroke-opacity="0.6"/>
<polyline points="48.8,318.3 50.3,304.2 51.7,292.1 53.2,281.6 54.6,272.6 56.1,264.8 57.5,258.1 58.9,252.3 60.4,247.3 61.8,242.9 63.3,239.2 64.7,236 66.2,233.2 67.6,230.8 69.1,228.7 70.5,226.9 72,225.4 73.4,224 74.9,222.9 76.3,221.9 77.7,221 79.2,220.3 80.6,219.6 82.1,219.1 83.5,218.6 85,218.2 86.4,217.8 87.9,217.5 89.3,217.3 90.8,217 92.2,216.8" fill="none" stroke="#ff7a10" stroke-width="1.2" stroke-opacity="1.0"/>
<polyline points="52.3,323.1 53.7,311.4 55,301 56.3,291.8 57.7,283.5 59,276.1 60.3,269.6 61.6,263.7 63,258.5 64.3,253.8 65.6,249.7 67,246 68.3,242.7 69.6,239.8 70.9,237.1 72.3,234.8 73.6,232.7 74.9,230.9 76.3,229.2 77.6,227.7 78.9,226.4 80.2,225.2 81.6,224.2 82.9,223.3 84.2,222.4 85.6,221.7 86.9,221 88.2,220.4 89.5,219.9 90.9,219.4 92.2,219" fill="none" stroke="#f5a030" stroke-width="2.0" stroke-opacity="0.6"/>
<polyline points="50.1,305 51.5,294.8 52.9,285.8 54.3,277.8 55.7,270.8 57.1,264.5 58.5,258.9 59.9,254 61.3,249.7 62.8,245.8 64.2,242.4 65.6,239.3 67,236.6 68.4,234.2 69.8,232.1 71.2,230.2 72.6,228.6 74,227.1 75.4,225.8 76.8,224.6 78.2,223.6 79.6,222.7 81,221.9 82.4,221.2 83.8,220.5 85.2,220 86.6,219.5 88,219 89.4,218.7 90.8,218.3 92.2,218" fill="none" stroke="#ff8c1a" stroke-width="1.6" stroke-opacity="0.85"/>
<polyline points="54.5,309 55.8,296.5 57,285.7 58.3,276.4 59.6,268.3 60.8,261.3 62.1,255.2 63.3,249.9 64.6,245.3 65.8,241.4 67.1,237.9 68.3,235 69.6,232.4 70.9,230.1 72.1,228.2 73.4,226.5 74.6,225.1 75.9,223.8 77.1,222.7 78.4,221.8 79.6,220.9 80.9,220.2 82.2,219.6 83.4,219.1 84.7,218.6 85.9,218.2 87.2,217.9 88.4,217.6 89.7,217.3 90.9,217.1 92.2,216.9" fill="none" stroke="#ff8c1a" stroke-width="1.6" stroke-opacity="0.6"/>
<polyline points="55.8,290.1 57,281.5 58.2,273.9 59.4,267.1 60.7,261.2 61.9,255.9 63.1,251.3 64.3,247.1 65.5,243.5 66.7,240.3 67.9,237.4 69.1,234.9 70.4,232.7 71.6,230.7 72.8,229 74,227.4 75.2,226.1 76.4,224.9 77.6,223.8 78.9,222.8 80.1,222 81.3,221.3 82.5,220.6 83.7,220 84.9,219.5 86.1,219.1 87.3,218.7 88.6,218.3 89.8,218 91,217.7 92.2,217.5" fill="none" stroke="#ff7a10" stroke-width="2.0" stroke-opacity="0.85"/>
<polyline points="92.2,216.9 93.5,216.3 96.8,215.1 101.8,213.6 108.3,212.4 116.3,211.4 125.7,210.7 136.4,210.3 148.4,210.1 161.7,210 176.2,209.9 191.9,209.9 208.8,209.9 226.9,209.9 246.1,209.9 266.4,209.9" fill="none" stroke="#ffb0a0" stroke-width="2.0" />
<polyline points="92.2,217.4 93.5,216.8 96.8,215.5 101.8,214.1 108.3,212.8 116.3,211.8 125.7,211.1 136.4,210.7 148.4,210.5 161.7,210.4 176.2,210.3 191.9,210.3 208.8,210.3 226.9,210.3 246.1,210.3 266.4,210.3" fill="none" stroke="#f8c090" stroke-width="1.2" />
<polyline points="92.2,219.2 93.5,218.4 96.8,216.8 101.8,215 108.3,213.4 116.3,212.1 125.7,211.3 136.4,210.8 148.4,210.5 161.7,210.4 176.2,210.3 191.9,210.3 208.8,210.3 226.9,210.3 246.1,210.3 266.4,210.3" fill="none" stroke="#ffb0a0" stroke-width="2.0" />
<polyline points="92.2,219.2 93.5,218.4 96.8,216.8 101.8,214.8 108.3,213.1 116.3,211.8 125.7,210.9 136.4,210.4 148.4,210.1 161.7,210 176.2,209.9 191.9,209.9 208.8,209.9 226.9,209.9 246.1,209.9 266.4,209.9" fill="none" stroke="#f8c090" stroke-width="1.6" />
<polyline points="92.2,218.2 93.5,217.6 96.8,216.2 101.8,214.6 108.3,213.2 116.3,212.1 125.7,211.4 136.4,211 148.4,210.8 161.7,210.6 176.2,210.6 191.9,210.6 208.8,210.6 226.9,210.6 246.1,210.6 266.4,210.6" fill="none" stroke="#f8c090" stroke-width="2.0" />
<polyline points="92.2,218.2 93.5,217.6 96.8,216.2 101.8,214.7 108.3,213.2 116.3,212.2 125.7,211.4 136.4,211 148.4,210.8 161.7,210.7 176.2,210.6 191.9,210.6 208.8,210.6 226.9,210.6 246.1,210.6 266.4,210.6" fill="none" stroke="#f8c090" stroke-width="1.2" />
<polyline points="92.2,219.4 93.5,218.6 96.8,217 101.8,215.1 108.3,213.4 116.3,212.1 125.7,211.2 136.4,210.7 148.4,210.4 161.7,210.3 176.2,210.2 191.9,210.2 208.8,210.2 226.9,210.2 246.1,210.2 266.4,210.2" fill="none" stroke="#ffb0a0" stroke-width="1.6" />
<polyline points="92.2,218.5 93.5,217.8 96.8,216.3 101.8,214.6 108.3,213.1 116.3,212 125.7,211.2 136.4,210.7 148.4,210.5 161.7,210.3 176.2,210.3 191.9,210.3 208.8,210.3 226.9,210.3 246.1,210.3 266.4,210.3" fill="none" stroke="#ffb0a0" stroke-width="1.2" />
<polyline points="92.2,217.2 93.5,216.6 96.8,215.4 101.8,213.9 108.3,212.6 116.3,211.6 125.7,210.9 136.4,210.5 148.4,210.3 161.7,210.2 176.2,210.1 191.9,210.1 208.8,210.1 226.9,210.1 246.1,210.1 266.4,210.1" fill="none" stroke="#ffb0a0" stroke-width="1.6" />
<polyline points="92.2,217.3 93.5,216.8 96.8,215.8 101.8,214.5 108.3,213.4 116.3,212.6 125.7,212 136.4,211.7 148.4,211.5 161.7,211.4 176.2,211.4 191.9,211.3 208.8,211.3 226.9,211.3 246.1,211.3 266.4,211.3" fill="none" stroke="#f8c8a0" stroke-width="1.2" />
<polyline points="92.2,218.2 93.5,217.6 96.8,216.4 101.8,214.9 108.3,213.6 116.3,212.6 125.7,211.9 136.4,211.5 148.4,211.3 161.7,211.2 176.2,211.1 191.9,211.1 208.8,211.1 226.9,211.1 246.1,211.1 266.4,211.1" fill="none" stroke="#f0b890" stroke-width="1.2" />
<polyline points="92.2,218 93.5,217.4 96.8,216.2 101.8,214.8 108.3,213.5 116.3,212.5 125.7,211.9 136.4,211.5 148.4,211.3 161.7,211.2 176.2,211.2 191.9,211.1 208.8,211.1 226.9,211.1 246.1,211.1 266.4,211.1" fill="none" stroke="#f8c8a0" stroke-width="1.2" />
<polyline points="92.2,218.6 93.5,218.1 96.8,216.8 101.8,215.3 108.3,214 116.3,213 125.7,212.3 136.4,211.9 148.4,211.7 161.7,211.6 176.2,211.5 191.9,211.5 208.8,211.5 226.9,211.5 246.1,211.5 266.4,211.5" fill="none" stroke="#f0b890" stroke-width="1.2" />
<polyline points="92.2,217.8 93.5,217.2 96.8,216 101.8,214.5 108.3,213.3 116.3,212.3 125.7,211.6 136.4,211.2 148.4,211 161.7,210.9 176.2,210.9 191.9,210.8 208.8,210.8 226.9,210.8 246.1,210.8 266.4,210.8" fill="none" stroke="#f0b890" stroke-width="1.2" />
<polyline points="92.2,218.5 93.5,217.9 96.8,216.6 101.8,215 108.3,213.6 116.3,212.5 125.7,211.8 136.4,211.4 148.4,211.2 161.7,211 176.2,211 191.9,211 208.8,211 226.9,211 246.1,211 266.4,211" fill="none" stroke="#f8c8a0" stroke-width="1.2" />
<polyline points="92.2,217.7 93.5,217.2 96.8,216.1 101.8,214.8 108.3,213.7 116.3,212.8 125.7,212.2 136.4,211.9 148.4,211.7 161.7,211.6 176.2,211.5 191.9,211.5 208.8,211.5 226.9,211.5 246.1,211.5 266.4,211.5" fill="none" stroke="#f8c8a0" stroke-width="1.2" />
<polyline points="92.2,218.8 93.5,218.2 96.8,216.8 101.8,215.1 108.3,213.7 116.3,212.5 125.7,211.8 136.4,211.3 148.4,211.1 161.7,211 176.2,210.9 191.9,210.9 208.8,210.9 226.9,210.9 246.1,210.9 266.4,210.9" fill="none" stroke="#e8c0a0" stroke-width="1.2" />
<polyline points="92.2,217.1 93.5,216.6 96.8,215.5 101.8,214.1 108.3,212.9 116.3,212 125.7,211.4 136.4,211 148.4,210.8 161.7,210.8 176.2,210.7 191.9,210.7 208.8,210.7 226.9,210.7 246.1,210.7 266.4,210.7" fill="none" stroke="#e8c0a0" stroke-width="1.2" />
<polyline points="92.2,219 93.5,218.4 96.8,217.1 101.8,215.6 108.3,214.2 116.3,213.2 125.7,212.5 136.4,212.1 148.4,211.9 161.7,211.8 176.2,211.7 191.9,211.7 208.8,211.7 226.9,211.7 246.1,211.7 266.4,211.7" fill="none" stroke="#f8c8a0" stroke-width="1.2" />
<polyline points="92.2,219.2 93.5,218.5 96.8,217 101.8,215.3 108.3,213.7 116.3,212.5 125.7,211.7 136.4,211.3 148.4,211 161.7,210.9 176.2,210.8 191.9,210.8 208.8,210.8 226.9,210.8 246.1,210.8 266.4,210.8" fill="none" stroke="#f0b890" stroke-width="1.2" />
<polyline points="92.2,218 93.5,217.4 96.8,216.2 101.8,214.8 108.3,213.5 116.3,212.5 125.7,211.9 136.4,211.5 148.4,211.3 161.7,211.2 176.2,211.1 191.9,211.1 208.8,211.1 226.9,211.1 246.1,211.1 266.4,211.1" fill="none" stroke="#f0b890" stroke-width="1.2" />
<polyline points="92.2,217 93.5,216.6 96.8,215.6 101.8,214.5 108.3,213.5 116.3,212.7 125.7,212.2 136.4,211.8 148.4,211.7 161.7,211.6 176.2,211.6 191.9,211.5 208.8,211.5 226.9,211.5 246.1,211.5 266.4,211.5" fill="none" stroke="#f5a030" stroke-width="2.0" />
<polyline points="92.2,217.9 93.5,217.3 96.8,216 101.8,214.6 108.3,213.3 116.3,212.3 125.7,211.7 136.4,211.3 148.4,211.1 161.7,211 176.2,210.9 191.9,210.9 208.8,210.9 226.9,210.9 246.1,210.9 266.4,210.9" fill="none" stroke="#ff8c1a" stroke-width="1.2" />
<polyline points="92.2,218.8 93.5,218.1 96.8,216.8 101.8,215.2 108.3,213.8 116.3,212.7 125.7,212 136.4,211.5 148.4,211.3 161.7,211.2 176.2,211.1 191.9,211.1 208.8,211.1 226.9,211.1 246.1,211.1 266.4,211.1" fill="none" stroke="#f5a030" stroke-width="2.0" />
<polyline points="92.2,218.5 93.5,217.9 96.8,216.6 101.8,215.1 108.3,213.7 116.3,212.6 125.7,211.9 136.4,211.5 148.4,211.3 161.7,211.2 176.2,211.1 191.9,211.1 208.8,211.1 226.9,211.1 246.1,211.1 266.4,211.1" fill="none" stroke="#ff7a10" stroke-width="2.0" />
<polyline points="92.2,219 93.5,218.3 96.8,217 101.8,215.4 108.3,214.1 116.3,213 125.7,212.3 136.4,211.8 148.4,211.6 161.7,211.5 176.2,211.5 191.9,211.4 208.8,211.4 226.9,211.4 246.1,211.4 266.4,211.4" fill="none" stroke="#f5a030" stroke-width="2.0" />
<polyline points="92.2,217.5 93.5,217 96.8,215.9 101.8,214.7 108.3,213.5 116.3,212.7 125.7,212.1 136.4,211.8 148.4,211.6 161.7,211.5 176.2,211.4 191.9,211.4 208.8,211.4 226.9,211.4 246.1,211.4 266.4,211.4" fill="none" stroke="#ff8c1a" stroke-width="1.6" />
<polyline points="92.2,218 93.5,217.4 96.8,216.1 101.8,214.7 108.3,213.4 116.3,212.4 125.7,211.7 136.4,211.3 148.4,211.1 161.7,211 176.2,210.9 191.9,210.9 208.8,210.9 226.9,210.9 246.1,210.9 266.4,210.9" fill="none" stroke="#f5a030" stroke-width="1.2" />
<polyline points="92.2,219.5 93.5,218.9 96.8,217.4 101.8,215.8 108.3,214.3 116.3,213.1 125.7,212.3 136.4,211.9 148.4,211.6 161.7,211.5 176.2,211.5 191.9,211.4 208.8,211.4 226.9,211.4 246.1,211.4 266.4,211.4" fill="none" stroke="#ff7a10" stroke-width="1.2" />
<polyline points="92.2,216.8 93.5,216.3 96.8,215.3 101.8,214.2 108.3,213.1 116.3,212.3 125.7,211.8 136.4,211.4 148.4,211.3 161.7,211.2 176.2,211.1 191.9,211.1 208.8,211.1 226.9,211.1 246.1,211.1 266.4,211.1" fill="none" stroke="#f5a030" stroke-width="1.2" />
<polyline points="92.2,218 93.5,217.4 96.8,216 101.8,214.5 108.3,213.2 116.3,212.1 125.7,211.4 136.4,211 148.4,210.8 161.7,210.7 176.2,210.6 191.9,210.6 208.8,210.6 226.9,210.6 246.1,210.6 266.4,210.6" fill="none" stroke="#ff7a10" stroke-width="1.2" />
<polyline points="92.2,217.5 93.5,216.9 96.8,215.8 101.8,214.4 108.3,213.2 116.3,212.3 125.7,211.7 136.4,211.3 148.4,211.1 161.7,211 176.2,211 191.9,211 208.8,211 226.9,211 246.1,211 266.4,211" fill="none" stroke="#f5a030" stroke-width="1.6" />
<polyline points="92.2,216.9 93.5,216.4 96.8,215.3 101.8,214.2 108.3,213.1 116.3,212.3 125.7,211.7 136.4,211.4 148.4,211.2 161.7,211.1 176.2,211.1 191.9,211.1 208.8,211.1 226.9,211.1 246.1,211.1 266.4,211.1" fill="none" stroke="#ff7a10" stroke-width="2.0" />
<polyline points="92.2,218.4 93.5,217.8 96.8,216.4 101.8,214.9 108.3,213.5 116.3,212.4 125.7,211.7 136.4,211.3 148.4,211 161.7,210.9 176.2,210.9 191.9,210.8 208.8,210.8 226.9,210.8 246.1,210.8 266.4,210.8" fill="none" stroke="#ff7a10" stroke-width="1.2" />
<polyline points="92.2,218.3 93.5,217.8 96.8,216.5 101.8,215.1 108.3,213.8 116.3,212.8 125.7,212.2 136.4,211.8 148.4,211.6 161.7,211.5 176.2,211.4 191.9,211.4 208.8,211.4 226.9,211.4 246.1,211.4 266.4,211.4" fill="none" stroke="#f5a030" stroke-width="2.0" />
<polyline points="92.2,218.1 93.5,217.5 96.8,216.4 101.8,215.1 108.3,214 116.3,213.1 125.7,212.5 136.4,212.1 148.4,212 161.7,211.9 176.2,211.8 191.9,211.8 208.8,211.8 226.9,211.8 246.1,211.8 266.4,211.8" fill="none" stroke="#ff8c1a" stroke-width="1.6" />
<polyline points="92.2,218.9 93.5,218.3 96.8,217 101.8,215.5 108.3,214.2 116.3,213.2 125.7,212.5 136.4,212.1 148.4,211.9 161.7,211.8 176.2,211.7 191.9,211.7 208.8,211.7 226.9,211.7 246.1,211.7 266.4,211.7" fill="none" stroke="#ff7a10" stroke-width="1.6" />
<polyline points="92.2,218.3 93.5,217.7 96.8,216.5 101.8,215.1 108.3,213.8 116.3,212.8 125.7,212.1 136.4,211.7 148.4,211.5 161.7,211.4 176.2,211.4 191.9,211.4 208.8,211.4 226.9,211.4 246.1,211.4 266.4,211.4" fill="none" stroke="#f5a030" stroke-width="1.2" />
<polyline points="92.2,217.7 93.5,217.2 96.8,216.1 101.8,214.9 108.3,213.7 116.3,212.9 125.7,212.3 136.4,212 148.4,211.8 161.7,211.7 176.2,211.7 191.9,211.6 208.8,211.6 226.9,211.6 246.1,211.6 266.4,211.6" fill="none" stroke="#ff8c1a" stroke-width="1.6" />
<polyline points="92.2,218.9 93.5,218.2 96.8,216.9 101.8,215.3 108.3,213.9 116.3,212.8 125.7,212.1 136.4,211.6 148.4,211.4 161.7,211.3 176.2,211.2 191.9,211.2 208.8,211.2 226.9,211.2 246.1,211.2 266.4,211.2" fill="none" stroke="#ff8c1a" stroke-width="1.2" />
<polyline points="92.2,216.8 93.5,216.4 96.8,215.4 101.8,214.3 108.3,213.2 116.3,212.5 125.7,211.9 136.4,211.6 148.4,211.4 161.7,211.4 176.2,211.3 191.9,211.3 208.8,211.3 226.9,211.3 246.1,211.3 266.4,211.3" fill="none" stroke="#ff7a10" stroke-width="1.2" />
<polyline points="92.2,219 93.5,218.4 96.8,217.1 101.8,215.6 108.3,214.2 116.3,213.2 125.7,212.5 136.4,212.1 148.4,211.9 161.7,211.8 176.2,211.7 191.9,211.7 208.8,211.7 226.9,211.7 246.1,211.7 266.4,211.7" fill="none" stroke="#f5a030" stroke-width="2.0" />
<polyline points="92.2,218 93.5,217.4 96.8,216.1 101.8,214.6 108.3,213.2 116.3,212.2 125.7,211.5 136.4,211.1 148.4,210.9 161.7,210.8 176.2,210.7 191.9,210.7 208.8,210.7 226.9,210.7 246.1,210.7 266.4,210.7" fill="none" stroke="#ff8c1a" stroke-width="1.6" />
<polyline points="92.2,216.9 93.5,216.4 96.8,215.4 101.8,214.2 108.3,213.1 116.3,212.2 125.7,211.7 136.4,211.4 148.4,211.2 161.7,211.1 176.2,211.1 191.9,211 208.8,211 226.9,211 246.1,211 266.4,211" fill="none" stroke="#ff8c1a" stroke-width="1.6" />
<polyline points="92.2,217.5 93.5,216.9 96.8,215.8 101.8,214.5 108.3,213.3 116.3,212.4 125.7,211.8 136.4,211.4 148.4,211.2 161.7,211.1 176.2,211.1 191.9,211.1 208.8,211.1 226.9,211 246.1,211 266.4,211" fill="none" stroke="#ff7a10" stroke-width="2.0" />
<polyline points="92.2,217.5 93.5,217.2 96.8,216.6 101.8,215.9 108.3,215.2 116.3,214.8 125.7,214.4 136.4,214.2 148.4,214.1 161.7,214.1 176.2,214.1 191.9,214 208.8,214 226.9,214 246.1,214 266.4,214" fill="none" stroke="#c070f0" stroke-width="1.2" />
<polyline points="92.2,217.4 93.5,217.2 96.8,216.5 101.8,215.8 108.3,215.2 116.3,214.7 125.7,214.4 136.4,214.2 148.4,214.1 161.7,214 176.2,214 191.9,214 208.8,214 226.9,214 246.1,214 266.4,214" fill="none" stroke="#b050e6" stroke-width="1.2" />
<polyline points="92.2,219 93.5,218.6 96.8,217.8 101.8,216.7 108.3,215.8 116.3,215.1 125.7,214.7 136.4,214.4 148.4,214.2 161.7,214.1 176.2,214.1 191.9,214.1 208.8,214.1 226.9,214.1 246.1,214.1 266.4,214.1" fill="none" stroke="#c070f0" stroke-width="1.2" />
<polyline points="92.2,218.8 93.5,218.4 96.8,217.6 101.8,216.7 108.3,215.9 116.3,215.3 125.7,214.8 136.4,214.6 148.4,214.5 161.7,214.4 176.2,214.4 191.9,214.4 208.8,214.4 226.9,214.4 246.1,214.4 266.4,214.4" fill="none" stroke="#b050e6" stroke-width="1.2" />
<polyline points="92.2,219.2 93.5,218.8 96.8,217.8 101.8,216.7 108.3,215.7 116.3,214.9 125.7,214.4 136.4,214.1 148.4,213.9 161.7,213.8 176.2,213.8 191.9,213.8 208.8,213.8 226.9,213.8 246.1,213.8 266.4,213.8" fill="none" stroke="#c070f0" stroke-width="1.2" />
<polyline points="92.2,217.4 93.5,217.1 96.8,216.6 101.8,216 108.3,215.4 116.3,215 125.7,214.7 136.4,214.5 148.4,214.4 161.7,214.4 176.2,214.4 191.9,214.4 208.8,214.3 226.9,214.3 246.1,214.3 266.4,214.3" fill="none" stroke="#b050e6" stroke-width="1.2" />
<polyline points="92.2,217.3 93.5,217 96.8,216.3 101.8,215.6 108.3,214.9 116.3,214.4 125.7,214.1 136.4,213.9 148.4,213.8 161.7,213.7 176.2,213.7 191.9,213.7 208.8,213.7 226.9,213.7 246.1,213.7 266.4,213.7" fill="none" stroke="#c070f0" stroke-width="1.2" />
<polyline points="92.2,217.6 93.5,217.3 96.8,216.6 101.8,215.8 108.3,215.1 116.3,214.5 125.7,214.2 136.4,213.9 148.4,213.8 161.7,213.8 176.2,213.7 191.9,213.7 208.8,213.7 226.9,213.7 246.1,213.7 266.4,213.7" fill="none" stroke="#b050e6" stroke-width="1.2" />
<polyline points="92.2,217.7 93.5,217.4 96.8,216.7 101.8,215.9 108.3,215.2 116.3,214.7 125.7,214.3 136.4,214.1 148.4,214 161.7,213.9 176.2,213.9 191.9,213.9 208.8,213.9 226.9,213.9 246.1,213.9 266.4,213.9" fill="none" stroke="#c070f0" stroke-width="1.2" />
<polyline points="92.2,218.5 93.5,218.1 96.8,217.3 101.8,216.4 108.3,215.5 116.3,214.9 125.7,214.5 136.4,214.2 148.4,214.1 161.7,214 176.2,214 191.9,213.9 208.8,213.9 226.9,213.9 246.1,213.9 266.4,213.9" fill="none" stroke="#b050e6" stroke-width="1.2" />
<polyline points="92.2,219.2 93.5,218.8 96.8,217.9 101.8,216.8 108.3,215.9 116.3,215.1 125.7,214.7 136.4,214.4 148.4,214.2 161.7,214.1 176.2,214.1 191.9,214.1 208.8,214.1 226.9,214.1 246.1,214.1 266.4,214.1" fill="none" stroke="#e61e8c" stroke-width="1.6" />
<polyline points="92.2,219.7 93.5,219.3 96.8,218.2 101.8,217.1 108.3,216 116.3,215.2 125.7,214.7 136.4,214.3 148.4,214.2 161.7,214.1 176.2,214 191.9,214 208.8,214 226.9,214 246.1,214 266.4,214" fill="none" stroke="#d8207a" stroke-width="1.2" />
<polyline points="92.2,218.5 93.5,218.2 96.8,217.6 101.8,216.8 108.3,216.1 116.3,215.6 125.7,215.2 136.4,215 148.4,214.9 161.7,214.8 176.2,214.8 191.9,214.8 208.8,214.8 226.9,214.8 246.1,214.8 266.4,214.8" fill="none" stroke="#d8207a" stroke-width="2.0" />
<polyline points="92.2,217.5 93.5,217.3 96.8,216.8 101.8,216.1 108.3,215.6 116.3,215.1 125.7,214.9 136.4,214.7 148.4,214.6 161.7,214.6 176.2,214.5 191.9,214.5 208.8,214.5 226.9,214.5 246.1,214.5 266.4,214.5" fill="none" stroke="#e61e8c" stroke-width="1.6" />
<polyline points="92.2,219 93.5,218.6 96.8,217.8 101.8,216.8 108.3,215.9 116.3,215.3 125.7,214.8 136.4,214.5 148.4,214.4 161.7,214.3 176.2,214.3 191.9,214.3 208.8,214.3 226.9,214.3 246.1,214.3 266.4,214.3" fill="none" stroke="#e61e8c" stroke-width="1.2" />
<polyline points="92.2,219.7 93.5,219.3 96.8,218.4 101.8,217.4 108.3,216.4 116.3,215.7 125.7,215.3 136.4,215 148.4,214.8 161.7,214.7 176.2,214.7 191.9,214.7 208.8,214.7 226.9,214.7 246.1,214.7 266.4,214.7" fill="none" stroke="#d8207a" stroke-width="1.2" />
<polyline points="92.2,218.1 93.5,217.8 96.8,217.1 101.8,216.4 108.3,215.8 116.3,215.3 125.7,215 136.4,214.8 148.4,214.6 161.7,214.6 176.2,214.6 191.9,214.6 208.8,214.6 226.9,214.6 246.1,214.6 266.4,214.6" fill="none" stroke="#e61e8c" stroke-width="1.6" />
<polyline points="92.2,217.5 93.5,217.2 96.8,216.6 101.8,215.9 108.3,215.3 116.3,214.8 125.7,214.4 136.4,214.2 148.4,214.1 161.7,214.1 176.2,214.1 191.9,214 208.8,214 226.9,214 246.1,214 266.4,214" fill="none" stroke="#d8207a" stroke-width="2.0" />
<polyline points="92.2,219.1 93.5,218.7 96.8,217.9 101.8,216.9 108.3,216.1 116.3,215.4 125.7,215 136.4,214.7 148.4,214.6 161.7,214.5 176.2,214.5 191.9,214.5 208.8,214.5 226.9,214.5 246.1,214.5 266.4,214.5" fill="none" stroke="#d8207a" stroke-width="1.2" />
<polyline points="92.2,219.7 93.5,219.3 96.8,218.4 101.8,217.4 108.3,216.4 116.3,215.7 125.7,215.2 136.4,214.9 148.4,214.8 161.7,214.7 176.2,214.7 191.9,214.7 208.8,214.6 226.9,214.6 246.1,214.6 266.4,214.6" fill="none" stroke="#e61e8c" stroke-width="1.2" />
<polyline points="92.2,217.3 93.5,217 96.8,216.5 101.8,215.9 108.3,215.4 116.3,215 125.7,214.7 136.4,214.5 148.4,214.4 161.7,214.4 176.2,214.4 191.9,214.4 208.8,214.3 226.9,214.3 246.1,214.3 266.4,214.3" fill="none" stroke="#e61e8c" stroke-width="1.2" />
<polyline points="92.2,219.6 93.5,219.2 96.8,218.3 101.8,217.3 108.3,216.4 116.3,215.7 125.7,215.2 136.4,214.9 148.4,214.8 161.7,214.7 176.2,214.7 191.9,214.7 208.8,214.7 226.9,214.7 246.1,214.7 266.4,214.7" fill="none" stroke="#e61e8c" stroke-width="2.0" />
<polyline points="92.2,216.8 93.5,216.6 96.8,216.2 101.8,215.7 108.3,215.3 116.3,215 125.7,214.7 136.4,214.6 148.4,214.5 161.7,214.5 176.2,214.5 191.9,214.5 208.8,214.5 226.9,214.5 246.1,214.5 266.4,214.5" fill="none" stroke="#ff2a2a" stroke-width="1.2" />
<polyline points="92.2,218.7 93.5,218.4 96.8,217.7 101.8,216.9 108.3,216.2 116.3,215.7 125.7,215.3 136.4,215.1 148.4,215 161.7,214.9 176.2,214.9 191.9,214.9 208.8,214.9 226.9,214.9 246.1,214.9 266.4,214.9" fill="none" stroke="#ff2a2a" stroke-width="2.0" />
<polyline points="92.2,218 93.5,217.7 96.8,217 101.8,216.1 108.3,215.4 116.3,214.8 125.7,214.4 136.4,214.2 148.4,214.1 161.7,214 176.2,214 191.9,214 208.8,214 226.9,214 246.1,214 266.4,214" fill="none" stroke="#ff2a2a" stroke-width="1.2" />
<polyline points="92.2,216.8 93.5,216.6 96.8,216.2 101.8,215.8 108.3,215.3 116.3,215 125.7,214.8 136.4,214.7 148.4,214.6 161.7,214.6 176.2,214.5 191.9,214.5 208.8,214.5 226.9,214.5 246.1,214.5 266.4,214.5" fill="none" stroke="#ff2a2a" stroke-width="1.2" />
<polyline points="92.2,219.4 93.5,219.1 96.8,218.3 101.8,217.4 108.3,216.5 116.3,215.9 125.7,215.5 136.4,215.2 148.4,215.1 161.7,215 176.2,215 191.9,215 208.8,215 226.9,215 246.1,215 266.4,215" fill="none" stroke="#ff2a2a" stroke-width="1.6" />
<polyline points="92.2,219.1 93.5,218.7 96.8,217.9 101.8,216.9 108.3,216 116.3,215.3 125.7,214.9 136.4,214.6 148.4,214.5 161.7,214.4 176.2,214.4 191.9,214.3 208.8,214.3 226.9,214.3 246.1,214.3 266.4,214.3" fill="none" stroke="#ff2a2a" stroke-width="2.0" />
<polyline points="92.2,219.8 93.5,219.4 96.8,218.5 101.8,217.5 108.3,216.6 116.3,215.9 125.7,215.4 136.4,215.1 148.4,215 161.7,214.9 176.2,214.9 191.9,214.9 208.8,214.9 226.9,214.9 246.1,214.9 266.4,214.9" fill="none" stroke="#f03050" stroke-width="2.0" />
<polyline points="92.2,217.3 93.5,217 96.8,216.4 101.8,215.7 108.3,215 116.3,214.5 125.7,214.1 136.4,213.9 148.4,213.8 161.7,213.8 176.2,213.7 191.9,213.7 208.8,213.7 226.9,213.7 246.1,213.7 266.4,213.7" fill="none" stroke="#ff2a2a" stroke-width="1.6" />
<polyline points="92.2,219.9 93.5,219.5 96.8,218.5 101.8,217.4 108.3,216.5 116.3,215.7 125.7,215.2 136.4,214.9 148.4,214.7 161.7,214.7 176.2,214.6 191.9,214.6 208.8,214.6 226.9,214.6 246.1,214.6 266.4,214.6" fill="none" stroke="#ff2a2a" stroke-width="1.6" />
<polyline points="92.2,216.9 93.5,216.7 96.8,216.2 101.8,215.6 108.3,215 116.3,214.6 125.7,214.3 136.4,214.1 148.4,214 161.7,214 176.2,214 191.9,214 208.8,214 226.9,214 246.1,214 266.4,214" fill="none" stroke="#f03050" stroke-width="2.0" />
<polyline points="92.2,219.5 93.5,219.1 96.8,218.2 101.8,217.2 108.3,216.3 116.3,215.7 125.7,215.2 136.4,214.9 148.4,214.8 161.7,214.7 176.2,214.7 191.9,214.7 208.8,214.7 226.9,214.7 246.1,214.7 266.4,214.7" fill="none" stroke="#ff2a2a" stroke-width="1.2" />
<polyline points="92.2,218.9 93.5,218.5 96.8,217.7 101.8,216.7 108.3,215.8 116.3,215.2 125.7,214.7 136.4,214.5 148.4,214.3 161.7,214.2 176.2,214.2 191.9,214.2 208.8,214.2 226.9,214.2 246.1,214.2 266.4,214.2" fill="none" stroke="#f03050" stroke-width="1.2" />
<polyline points="92.2,218.5 93.5,218.2 96.8,217.4 101.8,216.6 108.3,215.8 116.3,215.2 125.7,214.8 136.4,214.6 148.4,214.5 161.7,214.4 176.2,214.4 191.9,214.4 208.8,214.4 226.9,214.3 246.1,214.3 266.4,214.3" fill="none" stroke="#ff2a2a" stroke-width="1.2" />
<polyline points="92.2,219.9 93.5,219.4 96.8,218.4 101.8,217.1 108.3,216 116.3,215.2 125.7,214.6 136.4,214.3 148.4,214.1 161.7,214 176.2,214 191.9,214 208.8,214 226.9,213.9 246.1,213.9 266.4,213.9" fill="none" stroke="#ff2a2a" stroke-width="1.2" />
<polyline points="92.2,219 93.5,218.6 96.8,217.7 101.8,216.7 108.3,215.7 116.3,215 125.7,214.5 136.4,214.2 148.4,214.1 161.7,214 176.2,214 191.9,214 208.8,214 226.9,214 246.1,214 266.4,214" fill="none" stroke="#f03050" stroke-width="1.2" />
<polyline points="92.2,219.8 93.5,219.4 96.8,218.5 101.8,217.5 108.3,216.6 116.3,215.9 125.7,215.4 136.4,215.1 148.4,214.9 161.7,214.9 176.2,214.8 191.9,214.8 208.8,214.8 226.9,214.8 246.1,214.8 266.4,214.8" fill="none" stroke="#f03050" stroke-width="1.6" />
<polyline points="92.2,217.3 93.5,217 96.8,216.5 101.8,216 108.3,215.5 116.3,215.1 125.7,214.8 136.4,214.7 148.4,214.6 161.7,214.5 176.2,214.5 191.9,214.5 208.8,214.5 226.9,214.5 246.1,214.5 266.4,214.5" fill="none" stroke="#ff2a2a" stroke-width="1.6" />
<polyline points="92.2,218.5 93.5,218.1 96.8,217.4 101.8,216.6 108.3,215.9 116.3,215.3 125.7,214.9 136.4,214.7 148.4,214.6 161.7,214.5 176.2,214.5 191.9,214.5 208.8,214.5 226.9,214.5 246.1,214.5 266.4,214.5" fill="none" stroke="#f03050" stroke-width="2.0" />
<polyline points="92.2,217.5 93.5,217.2 96.8,216.6 101.8,215.8 108.3,215.1 116.3,214.5 125.7,214.2 136.4,214 148.4,213.9 161.7,213.8 176.2,213.8 191.9,213.8 208.8,213.8 226.9,213.8 246.1,213.8 266.4,213.8" fill="none" stroke="#ff2a2a" stroke-width="2.0" />
<polyline points="92.2,218.7 93.5,218.3 96.8,217.5 101.8,216.5 108.3,215.6 116.3,215 125.7,214.5 136.4,214.3 148.4,214.1 161.7,214.1 176.2,214 191.9,214 208.8,214 226.9,214 246.1,214 266.4,214" fill="none" stroke="#ff2a2a" stroke-width="1.2" />
<polyline points="92.2,219.3 93.5,218.9 96.8,218.2 101.8,217.3 108.3,216.5 116.3,215.9 125.7,215.4 136.4,215.2 148.4,215.1 161.7,215 176.2,215 191.9,215 208.8,215 226.9,215 246.1,215 266.4,215" fill="none" stroke="#ff2a2a" stroke-width="1.2" />
<polyline points="92.2,216.9 93.5,216.7 96.8,216.1 101.8,215.5 108.3,215 116.3,214.5 125.7,214.2 136.4,214.1 148.4,214 161.7,213.9 176.2,213.9 191.9,213.9 208.8,213.9 226.9,213.9 246.1,213.9 266.4,213.9" fill="none" stroke="#f03050" stroke-width="2.0" />
<polyline points="92.2,219.7 93.5,219.2 96.8,218.3 101.8,217.2 108.3,216.2 116.3,215.5 125.7,215 136.4,214.7 148.4,214.5 161.7,214.4 176.2,214.4 191.9,214.4 208.8,214.4 226.9,214.4 246.1,214.4 266.4,214.4" fill="none" stroke="#f03050" stroke-width="1.2" />
<polyline points="92.2,219.3 93.5,218.9 96.8,218.1 101.8,217.1 108.3,216.2 116.3,215.6 125.7,215.1 136.4,214.8 148.4,214.7 161.7,214.6 176.2,214.6 191.9,214.6 208.8,214.6 226.9,214.6 246.1,214.6 266.4,214.6" fill="none" stroke="#f03050" stroke-width="1.2" />
<polyline points="92.2,218.4 93.5,218 96.8,217.3 101.8,216.5 108.3,215.7 116.3,215.2 125.7,214.8 136.4,214.5 148.4,214.4 161.7,214.4 176.2,214.3 191.9,214.3 208.8,214.3 226.9,214.3 246.1,214.3 266.4,214.3" fill="none" stroke="#ff2a2a" stroke-width="1.2" />
<polyline points="92.2,217.6 93.5,217.3 96.8,216.8 101.8,216.1 108.3,215.5 116.3,215 125.7,214.7 136.4,214.6 148.4,214.5 161.7,214.4 176.2,214.4 191.9,214.4 208.8,214.4 226.9,214.4 246.1,214.4 266.4,214.4" fill="none" stroke="#ff2a2a" stroke-width="1.6" />
<polyline points="92.2,218.5 93.5,218.2 96.8,217.6 101.8,216.8 108.3,216.2 116.3,215.7 125.7,215.4 136.4,215.2 148.4,215 161.7,215 176.2,215 191.9,215 208.8,215 226.9,215 246.1,215 266.4,215" fill="none" stroke="#f03050" stroke-width="1.2" />
<polyline points="92.2,218.2 93.5,217.7 96.8,216.6 101.8,215.4 108.3,214.3 116.3,213.4 125.7,212.8 136.4,212.5 148.4,212.3 161.7,212.2 176.2,212.2 191.9,212.2 208.8,212.1 226.9,212.1 246.1,212.1 266.4,212.1" fill="none" stroke="#00e4e4" stroke-width="1.2" />
<polyline points="92.2,217.9 93.5,217.5 96.8,216.5 101.8,215.3 108.3,214.2 116.3,213.4 125.7,212.9 136.4,212.6 148.4,212.4 161.7,212.3 176.2,212.3 191.9,212.3 208.8,212.3 226.9,212.3 246.1,212.2 266.4,212.2" fill="none" stroke="#00e4e4" stroke-width="1.2" />
<polyline points="92.2,218.5 93.5,218 96.8,216.9 101.8,215.6 108.3,214.4 116.3,213.5 125.7,212.9 136.4,212.6 148.4,212.4 161.7,212.3 176.2,212.3 191.9,212.2 208.8,212.2 226.9,212.2 246.1,212.2 266.4,212.2" fill="none" stroke="#00e4e4" stroke-width="1.2" />
<polyline points="92.2,217.7 93.5,217.2 96.8,216.3 101.8,215.2 108.3,214.2 116.3,213.5 125.7,213 136.4,212.7 148.4,212.5 161.7,212.5 176.2,212.4 191.9,212.4 208.8,212.4 226.9,212.4 246.1,212.4 266.4,212.4" fill="none" stroke="#00e4e4" stroke-width="1.2" />
<polyline points="92.2,218.3 93.5,217.8 96.8,216.9 101.8,215.8 108.3,214.9 116.3,214.1 125.7,213.6 136.4,213.3 148.4,213.2 161.7,213.1 176.2,213 191.9,213 208.8,213 226.9,213 246.1,213 266.4,213" fill="none" stroke="#00e4e4" stroke-width="1.2" />
<polyline points="92.2,218 93.5,217.6 96.8,216.8 101.8,215.8 108.3,214.9 116.3,214.2 125.7,213.7 136.4,213.5 148.4,213.3 161.7,213.2 176.2,213.2 191.9,213.2 208.8,213.2 226.9,213.2 246.1,213.2 266.4,213.2" fill="none" stroke="#00e4e4" stroke-width="1.2" />
<polyline points="92.2,218.4 93.5,217.8 96.8,216.7 101.8,215.4 108.3,214.2 116.3,213.3 125.7,212.6 136.4,212.3 148.4,212.1 161.7,212 176.2,211.9 191.9,211.9 208.8,211.9 226.9,211.9 246.1,211.9 266.4,211.9" fill="none" stroke="#00e4e4" stroke-width="1.2" />
<polyline points="92.2,218.2 93.5,217.8 96.8,216.9 101.8,215.9 108.3,214.9 116.3,214.2 125.7,213.7 136.4,213.4 148.4,213.3 161.7,213.2 176.2,213.2 191.9,213.2 208.8,213.2 226.9,213.2 246.1,213.2 266.4,213.2" fill="none" stroke="#00e4e4" stroke-width="1.2" />
<polyline points="92.2,217.4 93.5,217.1 96.8,216.3 101.8,215.4 108.3,214.6 116.3,214 125.7,213.6 136.4,213.3 148.4,213.2 161.7,213.1 176.2,213.1 191.9,213.1 208.8,213.1 226.9,213.1 246.1,213.1 266.4,213.1" fill="none" stroke="#00e4e4" stroke-width="1.2" />
<polyline points="92.2,218.5 93.5,218 96.8,216.9 101.8,215.7 108.3,214.6 116.3,213.7 125.7,213.1 136.4,212.8 148.4,212.6 161.7,212.5 176.2,212.5 191.9,212.5 208.8,212.4 226.9,212.4 246.1,212.4 266.4,212.4" fill="none" stroke="#00e4e4" stroke-width="1.2" />
<polyline points="92.2,218.4 93.5,217.9 96.8,216.9 101.8,215.8 108.3,214.7 116.3,213.9 125.7,213.4 136.4,213.1 148.4,212.9 161.7,212.8 176.2,212.8 191.9,212.8 208.8,212.8 226.9,212.8 246.1,212.8 266.4,212.8" fill="none" stroke="#00e4e4" stroke-width="1.2" />
<polyline points="92.2,217.9 93.5,217.5 96.8,216.6 101.8,215.6 108.3,214.6 116.3,213.9 125.7,213.5 136.4,213.2 148.4,213 161.7,213 176.2,212.9 191.9,212.9 208.8,212.9 226.9,212.9 246.1,212.9 266.4,212.9" fill="none" stroke="#00e4e4" stroke-width="1.2" />
<polyline points="92.2,218.6 93.5,218 96.8,216.9 101.8,215.5 108.3,214.3 116.3,213.4 125.7,212.8 136.4,212.4 148.4,212.2 161.7,212.1 176.2,212.1 191.9,212.1 208.8,212.1 226.9,212.1 246.1,212.1 266.4,212.1" fill="none" stroke="#00e4e4" stroke-width="1.2" />
<polyline points="92.2,217.6 93.5,217.2 96.8,216.3 101.8,215.3 108.3,214.4 116.3,213.7 125.7,213.2 136.4,212.9 148.4,212.8 161.7,212.7 176.2,212.7 191.9,212.7 208.8,212.7 226.9,212.7 246.1,212.7 266.4,212.7" fill="none" stroke="#00e4e4" stroke-width="1.2" />
<polyline points="92.2,218.1 93.5,217.7 96.8,216.8 101.8,215.8 108.3,214.9 116.3,214.2 125.7,213.7 136.4,213.4 148.4,213.3 161.7,213.2 176.2,213.2 191.9,213.2 208.8,213.2 226.9,213.2 246.1,213.2 266.4,213.2" fill="none" stroke="#00e4e4" stroke-width="1.2" />
<polyline points="92.2,217.5 93.5,217.1 96.8,216.3 101.8,215.4 108.3,214.6 116.3,214 125.7,213.5 136.4,213.3 148.4,213.1 161.7,213.1 176.2,213.1 191.9,213 208.8,213 226.9,213 246.1,213 266.4,213" fill="none" stroke="#00e4e4" stroke-width="1.2" />
<polyline points="92.2,218.1 93.5,217.7 96.8,216.8 101.8,215.8 108.3,214.8 116.3,214.1 125.7,213.6 136.4,213.4 148.4,213.2 161.7,213.1 176.2,213.1 191.9,213.1 208.8,213.1 226.9,213.1 246.1,213.1 266.4,213.1" fill="none" stroke="#00e4e4" stroke-width="1.2" />
<polyline points="92.2,218.5 93.5,217.9 96.8,216.8 101.8,215.4 108.3,214.2 116.3,213.3 125.7,212.7 136.4,212.3 148.4,212.1 161.7,212 176.2,211.9 191.9,211.9 208.8,211.9 226.9,211.9 246.1,211.9 266.4,211.9" fill="none" stroke="#00e4e4" stroke-width="1.2" />
<polyline points="92.2,217.4 93.5,217 96.8,216.2 101.8,215.3 108.3,214.4 116.3,213.8 125.7,213.3 136.4,213.1 148.4,212.9 161.7,212.9 176.2,212.8 191.9,212.8 208.8,212.8 226.9,212.8 246.1,212.8 266.4,212.8" fill="none" stroke="#00e4e4" stroke-width="1.2" />
<polyline points="92.2,218.1 93.5,217.6 96.8,216.6 101.8,215.5 108.3,214.4 116.3,213.6 125.7,213.1 136.4,212.8 148.4,212.6 161.7,212.5 176.2,212.5 191.9,212.5 208.8,212.5 226.9,212.5 246.1,212.5 266.4,212.5" fill="none" stroke="#00e4e4" stroke-width="1.2" />
<polyline points="92.2,217.7 93.5,217.3 96.8,216.5 101.8,215.5 108.3,214.7 116.3,214 125.7,213.6 136.4,213.3 148.4,213.2 161.7,213.1 176.2,213.1 191.9,213.1 208.8,213.1 226.9,213.1 246.1,213.1 266.4,213.1" fill="none" stroke="#00e4e4" stroke-width="1.2" />
<polyline points="92.2,218.3 93.5,217.8 96.8,216.7 101.8,215.4 108.3,214.2 116.3,213.3 125.7,212.7 136.4,212.4 148.4,212.2 161.7,212.1 176.2,212.1 191.9,212 208.8,212 226.9,212 246.1,212 266.4,212" fill="none" stroke="#00e4e4" stroke-width="1.2" />
<polyline points="92.2,217.8 93.5,217.4 96.8,216.5 101.8,215.4 108.3,214.4 116.3,213.7 125.7,213.2 136.4,212.9 148.4,212.7 161.7,212.6 176.2,212.6 191.9,212.6 208.8,212.6 226.9,212.6 246.1,212.6 266.4,212.6" fill="none" stroke="#00e4e4" stroke-width="1.8" />
<polyline points="92.2,217.8 93.5,217.3 96.8,216.3 101.8,215.1 108.3,214 116.3,213.2 125.7,212.6 136.4,212.3 148.4,212.1 161.7,212 176.2,212 191.9,212 208.8,212 226.9,212 246.1,212 266.4,212" fill="none" stroke="#00e4e4" stroke-width="1.8" />
<polyline points="92.2,217.8 93.5,217.4 96.8,216.5 101.8,215.5 108.3,214.6 116.3,213.9 125.7,213.5 136.4,213.2 148.4,213.1 161.7,213 176.2,212.9 191.9,212.9 208.8,212.9 226.9,212.9 246.1,212.9 266.4,212.9" fill="none" stroke="#00e4e4" stroke-width="1.8" />
<polyline points="92.2,218.7 93.5,218.2 96.8,217.2 101.8,216 108.3,214.9 116.3,214 125.7,213.5 136.4,213.1 148.4,213 161.7,212.9 176.2,212.8 191.9,212.8 208.8,212.8 226.9,212.8 246.1,212.8 266.4,212.8" fill="none" stroke="#00e4e4" stroke-width="1.2" />
<polyline points="92.2,219.8 93.5,219.1 96.8,217.7 101.8,216.1 108.3,214.6 116.3,213.5 125.7,212.7 136.4,212.3 148.4,212 161.7,211.9 176.2,211.9 191.9,211.9 208.8,211.8 226.9,211.8 246.1,211.8 266.4,211.8" fill="none" stroke="#00e4e4" stroke-width="1.2" />
<polyline points="92.2,219.6 93.5,219 96.8,217.7 101.8,216.2 108.3,214.8 116.3,213.8 125.7,213.1 136.4,212.6 148.4,212.4 161.7,212.3 176.2,212.3 191.9,212.2 208.8,212.2 226.9,212.2 246.1,212.2 266.4,212.2" fill="none" stroke="#00e4e4" stroke-width="1.2" />
<polyline points="51.2,378.8 52.5,357.1 53.9,338.2 55.3,321.8 56.6,307.7 58,295.4 59.4,284.7 60.7,275.5 62.1,267.5 63.5,260.6 64.8,254.6 66.2,249.4 67.6,244.9 69,241 70.3,237.6 71.7,234.7 73.1,232.1 74.4,229.9 75.8,228 77.2,226.4 78.5,224.9 79.9,223.7 81.3,222.6 82.6,221.7 84,220.9 85.4,220.2 86.7,219.5 88.1,219 89.5,218.6 90.8,218.2 92.2,217.8" fill="none" stroke="#e070e0" stroke-width="0.7" stroke-opacity="0.7"/>
<polyline points="49,356.6 50.5,338.4 51.9,322.5 53.4,308.7 54.8,296.7 56.2,286.2 57.7,277.1 59.1,269.2 60.6,262.2 62,256.2 63.4,251 64.9,246.4 66.3,242.4 67.7,239 69.2,235.9 70.6,233.3 72.1,231 73.5,229 74.9,227.3 76.4,225.8 77.8,224.5 79.3,223.3 80.7,222.3 82.1,221.5 83.6,220.7 85,220 86.4,219.5 87.9,219 89.3,218.5 90.8,218.2 92.2,217.8" fill="none" stroke="#d040c0" stroke-width="0.7" stroke-opacity="0.7"/>
<polyline points="71,319.5 71.7,307 72.4,296 73.1,286.3 73.8,277.8 74.5,270.3 75.2,263.8 75.9,258 76.6,252.9 77.4,248.4 78.1,244.5 78.8,241 79.5,237.9 80.2,235.2 80.9,232.9 81.6,230.8 82.3,229 83,227.4 83.7,226 84.4,224.7 85.1,223.6 85.8,222.7 86.5,221.8 87.3,221.1 88,220.4 88.7,219.8 89.4,219.3 90.1,218.9 90.8,218.5 91.5,218.1 92.2,217.8" fill="none" stroke="#ffa0a0" stroke-width="0.7" stroke-opacity="0.7"/>
<polyline points="53.7,367 55,347.1 56.3,329.9 57.5,314.9 58.8,301.8 60.1,290.5 61.4,280.7 62.7,272.2 64,264.7 65.2,258.3 66.5,252.7 67.8,247.8 69.1,243.6 70.4,239.9 71.7,236.7 72.9,234 74.2,231.5 75.5,229.5 76.8,227.6 78.1,226.1 79.4,224.7 80.6,223.5 81.9,222.5 83.2,221.6 84.5,220.8 85.8,220.1 87.1,219.5 88.3,219 89.6,218.5 90.9,218.2 92.2,217.8" fill="none" stroke="#c080f0" stroke-width="0.7" stroke-opacity="0.7"/>
<rect x="36.5" y="201.5" width="230.2" height="177.5" fill="none" stroke="#606060" stroke-width="1.3"/>
<line x1="38.8" y1="217" x2="38.8" y2="344" stroke="#a8a8a8" stroke-width="1.2" stroke-dasharray="4,3"/>
<polygon points="36.3,341.5 41.3,341.5 38.8,347.5" fill="#a0a0a0"/>
<text x="41.5" y="222.3" font-size="7.2" fill="#404040" text-anchor="start" font-weight="normal" font-family="Liberation Sans"  textLength="22.5" lengthAdjust="spacingAndGlyphs">Lost Gas</text>
<line x1="38" y1="375.4" x2="85" y2="375.4" stroke="#a0a0a0" stroke-width="1" stroke-dasharray="4,3"/>
<polygon points="84,373 90,375.4 84,377.8" fill="#a0a0a0"/>
<text x="68.8" y="373" font-size="7.2" fill="#404040" text-anchor="middle" font-weight="normal" font-family="Liberation Sans"  textLength="40" lengthAdjust="spacingAndGlyphs">Core Retrieval</text>
<line x1="94.4" y1="224.3" x2="105.5" y2="234.2" stroke="#888888" stroke-width="0.8" stroke-dasharray="2,2"/>
<polygon points="107,235.6 102.6,234.2 105,231.8" fill="#888888"/>
<rect x="100.5" y="235" width="163.8" height="128.5" fill="#ffffff"/>
<line x1="139.7" y1="239" x2="139.7" y2="353.5" stroke="#ececec" stroke-width="0.6" />
<line x1="169.8" y1="239" x2="169.8" y2="353.5" stroke="#ececec" stroke-width="0.6" />
<line x1="200" y1="239" x2="200" y2="353.5" stroke="#ececec" stroke-width="0.6" />
<line x1="230.1" y1="239" x2="230.1" y2="353.5" stroke="#ececec" stroke-width="0.6" />
<line x1="109.5" y1="330.6" x2="260.3" y2="330.6" stroke="#ececec" stroke-width="0.6" />
<line x1="109.5" y1="307.7" x2="260.3" y2="307.7" stroke="#ececec" stroke-width="0.6" />
<line x1="109.5" y1="284.8" x2="260.3" y2="284.8" stroke="#ececec" stroke-width="0.6" />
<line x1="109.5" y1="261.9" x2="260.3" y2="261.9" stroke="#ececec" stroke-width="0.6" />
<polyline points="109.5,353.5 109.5,352.7 109.6,348.9 109.7,341.9 110,332.7 110.3,322.6 110.8,313.1 111.4,304.8 112.2,297.9 113.1,292.3 114.2,287.8 115.5,284.2 116.9,281.4 118.6,279.1 120.4,277.3 122.5,275.8 124.8,274.6 127.3,273.6 130,272.7 132.9,272 136.2,271.4 139.6,270.9 143.3,270.5 147.3,270.1 151.6,269.8 156.1,269.5 160.9,269.2 165.9,269 171.3,268.8 177,268.7 183,268.5 189.2,268.4 195.8,268.3 202.7,268.1 209.9,268 217.5,268 225.4,267.9 233.6,267.8 242.2,267.7 251.1,267.7 260.3,267.6" fill="none" stroke="#ff9090" stroke-width="0.7" stroke-opacity="1.0"/>
<polyline points="109.5,353.5 109.5,352.7 109.6,349 109.7,342.1 110,332.9 110.3,323 110.8,313.7 111.4,305.4 112.2,298.6 113.1,293.1 114.2,288.7 115.5,285.2 116.9,282.4 118.6,280.1 120.4,278.3 122.5,276.8 124.8,275.6 127.3,274.6 130,273.8 132.9,273.1 136.2,272.5 139.6,272 143.3,271.6 147.3,271.2 151.6,270.9 156.1,270.6 160.9,270.4 165.9,270.1 171.3,270 177,269.8 183,269.6 189.2,269.5 195.8,269.4 202.7,269.3 209.9,269.2 217.5,269.1 225.4,269 233.6,269 242.2,268.9 251.1,268.8 260.3,268.8" fill="none" stroke="#ff9090" stroke-width="0.7" stroke-opacity="1.0"/>
<polyline points="109.5,353.5 109.5,353 109.6,350.8 109.7,346.5 110,340.5 110.3,333.6 110.8,326.7 111.4,320.3 112.2,314.7 113.1,309.9 114.2,306 115.5,302.8 116.9,300.2 118.6,298.1 120.4,296.4 122.5,294.9 124.8,293.7 127.3,292.7 130,291.9 132.9,291.2 136.2,290.6 139.6,290.1 143.3,289.7 147.3,289.3 151.6,289 156.1,288.7 160.9,288.4 165.9,288.2 171.3,288 177,287.9 183,287.7 189.2,287.6 195.8,287.4 202.7,287.3 209.9,287.2 217.5,287.1 225.4,287.1 233.6,287 242.2,286.9 251.1,286.9 260.3,286.8" fill="none" stroke="#ff8c1a" stroke-width="1.4" stroke-opacity="1.0"/>
<polyline points="109.5,353.5 109.5,352.8 109.6,349.8 109.7,344.3 110,337 110.3,329.2 110.8,321.8 111.4,315.3 112.2,310 113.1,305.7 114.2,302.3 115.5,299.6 116.9,297.4 118.6,295.7 120.4,294.3 122.5,293.2 124.8,292.3 127.3,291.5 130,290.9 132.9,290.4 136.2,289.9 139.6,289.5 143.3,289.2 147.3,288.9 151.6,288.7 156.1,288.5 160.9,288.3 165.9,288.1 171.3,288 177,287.8 183,287.7 189.2,287.6 195.8,287.5 202.7,287.5 209.9,287.4 217.5,287.3 225.4,287.3 233.6,287.2 242.2,287.2 251.1,287.1 260.3,287.1" fill="none" stroke="#ff7a10" stroke-width="1.4" stroke-opacity="1.0"/>
<polyline points="109.5,353.5 109.5,353 109.6,350.5 109.7,345.9 110,339.6 110.3,332.5 110.8,325.5 111.4,319.1 112.2,313.6 113.1,309 114.2,305.3 115.5,302.2 116.9,299.8 118.6,297.8 120.4,296.2 122.5,294.9 124.8,293.8 127.3,292.9 130,292.1 132.9,291.4 136.2,290.9 139.6,290.4 143.3,290 147.3,289.7 151.6,289.4 156.1,289.1 160.9,288.9 165.9,288.7 171.3,288.5 177,288.4 183,288.2 189.2,288.1 195.8,288 202.7,287.9 209.9,287.8 217.5,287.7 225.4,287.7 233.6,287.6 242.2,287.5 251.1,287.5 260.3,287.4" fill="none" stroke="#f5a030" stroke-width="1.0" stroke-opacity="1.0"/>
<polyline points="109.5,353.5 109.5,352.8 109.6,349.8 109.7,344.2 110,336.9 110.3,329.1 110.8,321.7 111.4,315.3 112.2,310.1 113.1,305.9 114.2,302.5 115.5,299.8 116.9,297.7 118.6,296 120.4,294.7 122.5,293.6 124.8,292.7 127.3,291.9 130,291.3 132.9,290.8 136.2,290.3 139.6,290 143.3,289.6 147.3,289.4 151.6,289.1 156.1,288.9 160.9,288.7 165.9,288.6 171.3,288.4 177,288.3 183,288.2 189.2,288.1 195.8,288 202.7,287.9 209.9,287.9 217.5,287.8 225.4,287.7 233.6,287.7 242.2,287.6 251.1,287.6 260.3,287.6" fill="none" stroke="#ff8c1a" stroke-width="1.8" stroke-opacity="1.0"/>
<polyline points="109.5,353.5 109.5,353 109.6,350.8 109.7,346.4 110,340.5 110.3,333.7 110.8,326.8 111.4,320.5 112.2,315 113.1,310.4 114.2,306.5 115.5,303.4 116.9,300.9 118.6,298.8 120.4,297.1 122.5,295.7 124.8,294.6 127.3,293.6 130,292.8 132.9,292.2 136.2,291.6 139.6,291.1 143.3,290.7 147.3,290.3 151.6,290 156.1,289.7 160.9,289.5 165.9,289.3 171.3,289.1 177,288.9 183,288.8 189.2,288.6 195.8,288.5 202.7,288.4 209.9,288.3 217.5,288.2 225.4,288.1 233.6,288.1 242.2,288 251.1,287.9 260.3,287.9" fill="none" stroke="#ff8c1a" stroke-width="1.4" stroke-opacity="1.0"/>
<polyline points="109.5,353.5 109.5,352.9 109.6,350.4 109.7,345.5 110,339 110.3,331.7 110.8,324.6 111.4,318.3 112.2,312.9 113.1,308.4 114.2,304.8 115.5,301.9 116.9,299.6 118.6,297.7 120.4,296.2 122.5,295 124.8,293.9 127.3,293.1 130,292.4 132.9,291.8 136.2,291.3 139.6,290.8 143.3,290.5 147.3,290.2 151.6,289.9 156.1,289.6 160.9,289.4 165.9,289.2 171.3,289.1 177,288.9 183,288.8 189.2,288.7 195.8,288.6 202.7,288.5 209.9,288.4 217.5,288.3 225.4,288.3 233.6,288.2 242.2,288.1 251.1,288.1 260.3,288" fill="none" stroke="#ff7a10" stroke-width="1.8" stroke-opacity="1.0"/>
<polyline points="109.5,353.5 109.5,352.7 109.6,349.3 109.7,343.2 110,335.3 110.3,327.1 110.8,319.7 111.4,313.5 112.2,308.5 113.1,304.5 114.2,301.5 115.5,299 116.9,297.1 118.6,295.6 120.4,294.4 122.5,293.5 124.8,292.7 127.3,292 130,291.5 132.9,291 136.2,290.6 139.6,290.3 143.3,290 147.3,289.8 151.6,289.6 156.1,289.4 160.9,289.2 165.9,289.1 171.3,289 177,288.9 183,288.8 189.2,288.7 195.8,288.6 202.7,288.6 209.9,288.5 217.5,288.4 225.4,288.4 233.6,288.3 242.2,288.3 251.1,288.3 260.3,288.2" fill="none" stroke="#f5a030" stroke-width="1.8" stroke-opacity="1.0"/>
<polyline points="109.5,353.5 109.5,352.9 109.6,350.1 109.7,344.8 110,337.9 110.3,330.4 110.8,323.2 111.4,317 112.2,311.8 113.1,307.7 114.2,304.3 115.5,301.7 116.9,299.6 118.6,297.9 120.4,296.5 122.5,295.4 124.8,294.5 127.3,293.7 130,293.1 132.9,292.6 136.2,292.1 139.6,291.7 143.3,291.4 147.3,291.1 151.6,290.9 156.1,290.7 160.9,290.5 165.9,290.3 171.3,290.2 177,290.1 183,290 189.2,289.9 195.8,289.8 202.7,289.7 209.9,289.6 217.5,289.6 225.4,289.5 233.6,289.4 242.2,289.4 251.1,289.3 260.3,289.3" fill="none" stroke="#ff8c1a" stroke-width="1.4" stroke-opacity="1.0"/>
<polyline points="109.5,353.5 109.5,353 109.6,350.6 109.7,346.1 110,340 110.3,333.1 110.8,326.2 111.4,320 112.2,314.7 113.1,310.3 114.2,306.6 115.5,303.7 116.9,301.3 118.6,299.4 120.4,297.9 122.5,296.6 124.8,295.5 127.3,294.6 130,293.9 132.9,293.3 136.2,292.8 139.6,292.3 143.3,291.9 147.3,291.6 151.6,291.3 156.1,291.1 160.9,290.9 165.9,290.7 171.3,290.5 177,290.3 183,290.2 189.2,290.1 195.8,290 202.7,289.9 209.9,289.8 217.5,289.7 225.4,289.6 233.6,289.6 242.2,289.5 251.1,289.5 260.3,289.4" fill="none" stroke="#3c82d2" stroke-width="1.0" stroke-opacity="1.0"/>
<polyline points="109.5,353.5 109.5,352.7 109.6,349.4 109.7,343.3 110,335.6 110.3,327.5 110.8,320.3 111.4,314.2 112.2,309.3 113.1,305.5 114.2,302.5 115.5,300.1 116.9,298.3 118.6,296.8 120.4,295.6 122.5,294.7 124.8,293.9 127.3,293.3 130,292.8 132.9,292.3 136.2,292 139.6,291.7 143.3,291.4 147.3,291.2 151.6,291 156.1,290.8 160.9,290.6 165.9,290.5 171.3,290.4 177,290.3 183,290.2 189.2,290.1 195.8,290 202.7,290 209.9,289.9 217.5,289.8 225.4,289.8 233.6,289.8 242.2,289.7 251.1,289.7 260.3,289.6" fill="none" stroke="#f5a030" stroke-width="1.8" stroke-opacity="1.0"/>
<polyline points="109.5,353.5 109.5,352.8 109.6,349.5 109.7,343.7 110,336.1 110.3,328.3 110.8,321.1 111.4,315 112.2,310.1 113.1,306.3 114.2,303.2 115.5,300.9 116.9,299 118.6,297.5 120.4,296.3 122.5,295.3 124.8,294.6 127.3,293.9 130,293.4 132.9,292.9 136.2,292.6 139.6,292.2 143.3,292 147.3,291.7 151.6,291.5 156.1,291.3 160.9,291.2 165.9,291.1 171.3,290.9 177,290.8 183,290.7 189.2,290.6 195.8,290.6 202.7,290.5 209.9,290.4 217.5,290.4 225.4,290.3 233.6,290.3 242.2,290.2 251.1,290.2 260.3,290.2" fill="none" stroke="#f5a030" stroke-width="1.0" stroke-opacity="1.0"/>
<polyline points="109.5,353.5 109.5,353 109.6,351 109.7,346.9 110,341.4 110.3,334.9 110.8,328.4 111.4,322.4 112.2,317.1 113.1,312.6 114.2,308.9 115.5,305.8 116.9,303.4 118.6,301.3 120.4,299.7 122.5,298.3 124.8,297.2 127.3,296.2 130,295.4 132.9,294.8 136.2,294.2 139.6,293.7 143.3,293.3 147.3,292.9 151.6,292.6 156.1,292.4 160.9,292.1 165.9,291.9 171.3,291.7 177,291.6 183,291.4 189.2,291.3 195.8,291.2 202.7,291.1 209.9,291 217.5,290.9 225.4,290.8 233.6,290.7 242.2,290.7 251.1,290.6 260.3,290.5" fill="none" stroke="#3c82d2" stroke-width="1.4" stroke-opacity="1.0"/>
<polyline points="109.5,353.5 109.5,352.9 109.6,350 109.7,344.8 110,337.8 110.3,330.4 110.8,323.4 111.4,317.3 112.2,312.3 113.1,308.2 114.2,305 115.5,302.5 116.9,300.4 118.6,298.8 120.4,297.5 122.5,296.4 124.8,295.6 127.3,294.9 130,294.3 132.9,293.8 136.2,293.3 139.6,293 143.3,292.7 147.3,292.4 151.6,292.2 156.1,292 160.9,291.8 165.9,291.6 171.3,291.5 177,291.4 183,291.3 189.2,291.2 195.8,291.1 202.7,291 209.9,291 217.5,290.9 225.4,290.8 233.6,290.8 242.2,290.7 251.1,290.7 260.3,290.7" fill="none" stroke="#3c82d2" stroke-width="1.0" stroke-opacity="1.0"/>
<polyline points="109.5,353.5 109.5,352.8 109.6,349.6 109.7,343.7 110,336.3 110.3,328.5 110.8,321.4 111.4,315.3 112.2,310.5 113.1,306.7 114.2,303.7 115.5,301.3 116.9,299.5 118.6,298 120.4,296.8 122.5,295.8 124.8,295.1 127.3,294.4 130,293.9 132.9,293.5 136.2,293.1 139.6,292.8 143.3,292.5 147.3,292.3 151.6,292.1 156.1,291.9 160.9,291.7 165.9,291.6 171.3,291.5 177,291.4 183,291.3 189.2,291.2 195.8,291.1 202.7,291 209.9,291 217.5,290.9 225.4,290.9 233.6,290.8 242.2,290.8 251.1,290.8 260.3,290.7" fill="none" stroke="#3c82d2" stroke-width="1.0" stroke-opacity="1.0"/>
<polyline points="109.5,353.5 109.5,352.8 109.6,350 109.7,344.7 110,337.7 110.3,330.2 110.8,323.3 111.4,317.2 112.2,312.2 113.1,308.2 114.2,305 115.5,302.5 116.9,300.5 118.6,298.9 120.4,297.7 122.5,296.6 124.8,295.8 127.3,295.1 130,294.5 132.9,294 136.2,293.6 139.6,293.2 143.3,292.9 147.3,292.7 151.6,292.4 156.1,292.2 160.9,292.1 165.9,291.9 171.3,291.8 177,291.7 183,291.6 189.2,291.5 195.8,291.4 202.7,291.3 209.9,291.2 217.5,291.2 225.4,291.1 233.6,291.1 242.2,291 251.1,291 260.3,290.9" fill="none" stroke="#3c82d2" stroke-width="1.8" stroke-opacity="1.0"/>
<polyline points="109.5,353.5 109.5,352.9 109.6,350.1 109.7,344.8 110,338 110.3,330.6 110.8,323.6 111.4,317.6 112.2,312.6 113.1,308.6 114.2,305.4 115.5,302.9 116.9,300.8 118.6,299.2 120.4,297.9 122.5,296.9 124.8,296 127.3,295.3 130,294.7 132.9,294.2 136.2,293.8 139.6,293.4 143.3,293.1 147.3,292.9 151.6,292.6 156.1,292.4 160.9,292.3 165.9,292.1 171.3,292 177,291.9 183,291.7 189.2,291.7 195.8,291.6 202.7,291.5 209.9,291.4 217.5,291.4 225.4,291.3 233.6,291.3 242.2,291.2 251.1,291.2 260.3,291.1" fill="none" stroke="#ff8c1a" stroke-width="1.4" stroke-opacity="1.0"/>
<polyline points="109.5,353.5 109.5,353 109.6,350.6 109.7,346 110,339.8 110.3,332.9 110.8,326.2 111.4,320.2 112.2,315 113.1,310.8 114.2,307.3 115.5,304.5 116.9,302.3 118.6,300.5 120.4,299 122.5,297.8 124.8,296.8 127.3,296 130,295.3 132.9,294.7 136.2,294.3 139.6,293.8 143.3,293.5 147.3,293.2 151.6,292.9 156.1,292.7 160.9,292.5 165.9,292.3 171.3,292.1 177,292 183,291.9 189.2,291.8 195.8,291.7 202.7,291.6 209.9,291.5 217.5,291.4 225.4,291.4 233.6,291.3 242.2,291.2 251.1,291.2 260.3,291.1" fill="none" stroke="#3c82d2" stroke-width="1.8" stroke-opacity="1.0"/>
<polyline points="109.5,353.5 109.5,352.5 109.6,348.4 109.7,341.1 110,332.5 110.3,324.2 110.8,317.1 111.4,311.4 112.2,307.1 113.1,303.8 114.2,301.3 115.5,299.4 116.9,297.9 118.6,296.8 120.4,295.8 122.5,295.1 124.8,294.5 127.3,294 130,293.6 132.9,293.3 136.2,293 139.6,292.8 143.3,292.6 147.3,292.4 151.6,292.2 156.1,292.1 160.9,292 165.9,291.9 171.3,291.8 177,291.7 183,291.6 189.2,291.6 195.8,291.5 202.7,291.5 209.9,291.4 217.5,291.4 225.4,291.4 233.6,291.3 242.2,291.3 251.1,291.3 260.3,291.2" fill="none" stroke="#3c82d2" stroke-width="1.4" stroke-opacity="1.0"/>
<polyline points="109.5,353.5 109.5,352.8 109.6,349.9 109.7,344.5 110,337.4 110.3,329.9 110.8,322.9 111.4,317 112.2,312.1 113.1,308.1 114.2,305 115.5,302.6 116.9,300.7 118.6,299.1 120.4,297.9 122.5,296.9 124.8,296 127.3,295.4 130,294.8 132.9,294.3 136.2,293.9 139.6,293.6 143.3,293.3 147.3,293.1 151.6,292.8 156.1,292.7 160.9,292.5 165.9,292.3 171.3,292.2 177,292.1 183,292 189.2,291.9 195.8,291.8 202.7,291.8 209.9,291.7 217.5,291.6 225.4,291.6 233.6,291.5 242.2,291.5 251.1,291.5 260.3,291.4" fill="none" stroke="#ff7a10" stroke-width="1.8" stroke-opacity="1.0"/>
<polyline points="109.5,353.5 109.5,352.5 109.6,348.3 109.7,341 110,332.4 110.3,324.1 110.8,317.1 111.4,311.6 112.2,307.3 113.1,304.1 114.2,301.7 115.5,299.8 116.9,298.4 118.6,297.3 120.4,296.4 122.5,295.7 124.8,295.1 127.3,294.6 130,294.2 132.9,293.9 136.2,293.6 139.6,293.4 143.3,293.2 147.3,293.1 151.6,292.9 156.1,292.8 160.9,292.7 165.9,292.6 171.3,292.5 177,292.4 183,292.3 189.2,292.3 195.8,292.2 202.7,292.2 209.9,292.1 217.5,292.1 225.4,292.1 233.6,292 242.2,292 251.1,292 260.3,292" fill="none" stroke="#ff7a10" stroke-width="1.8" stroke-opacity="1.0"/>
<polyline points="109.5,353.5 109.5,353 109.6,350.8 109.7,346.6 110,340.9 110.3,334.4 110.8,327.9 111.4,322 112.2,316.9 113.1,312.6 114.2,309.1 115.5,306.3 116.9,304 118.6,302.1 120.4,300.6 122.5,299.4 124.8,298.3 127.3,297.5 130,296.7 132.9,296.1 136.2,295.6 139.6,295.2 143.3,294.8 147.3,294.5 151.6,294.2 156.1,294 160.9,293.8 165.9,293.6 171.3,293.4 177,293.2 183,293.1 189.2,293 195.8,292.9 202.7,292.8 209.9,292.7 217.5,292.6 225.4,292.6 233.6,292.5 242.2,292.4 251.1,292.4 260.3,292.3" fill="none" stroke="#3c82d2" stroke-width="1.0" stroke-opacity="1.0"/>
<polyline points="109.5,353.5 109.5,352.7 109.6,349.2 109.7,343 110,335.3 110.3,327.5 110.8,320.5 111.4,314.8 112.2,310.2 113.1,306.7 114.2,304 115.5,301.9 116.9,300.2 118.6,298.9 120.4,297.9 122.5,297 124.8,296.4 127.3,295.8 130,295.3 132.9,295 136.2,294.6 139.6,294.4 143.3,294.1 147.3,293.9 151.6,293.7 156.1,293.6 160.9,293.5 165.9,293.3 171.3,293.2 177,293.1 183,293.1 189.2,293 195.8,292.9 202.7,292.9 209.9,292.8 217.5,292.8 225.4,292.7 233.6,292.7 242.2,292.7 251.1,292.6 260.3,292.6" fill="none" stroke="#3c82d2" stroke-width="1.8" stroke-opacity="1.0"/>
<polyline points="109.5,353.5 109.5,352.8 109.6,349.5 109.7,343.7 110,336.2 110.3,328.6 110.8,321.6 111.4,315.8 112.2,311.2 113.1,307.6 114.2,304.7 115.5,302.5 116.9,300.8 118.6,299.4 120.4,298.3 122.5,297.4 124.8,296.7 127.3,296.1 130,295.6 132.9,295.2 136.2,294.8 139.6,294.5 143.3,294.3 147.3,294 151.6,293.9 156.1,293.7 160.9,293.6 165.9,293.4 171.3,293.3 177,293.2 183,293.1 189.2,293.1 195.8,293 202.7,292.9 209.9,292.9 217.5,292.8 225.4,292.8 233.6,292.7 242.2,292.7 251.1,292.7 260.3,292.6" fill="none" stroke="#3c82d2" stroke-width="1.0" stroke-opacity="1.0"/>
<polyline points="109.5,353.5 109.5,353 109.6,350.8 109.7,346.6 110,340.8 110.3,334.3 110.8,327.8 111.4,321.9 112.2,316.9 113.1,312.7 114.2,309.3 115.5,306.5 116.9,304.3 118.6,302.4 120.4,301 122.5,299.7 124.8,298.7 127.3,297.9 130,297.2 132.9,296.6 136.2,296.1 139.6,295.7 143.3,295.3 147.3,295 151.6,294.8 156.1,294.5 160.9,294.3 165.9,294.1 171.3,294 177,293.8 183,293.7 189.2,293.6 195.8,293.5 202.7,293.4 209.9,293.3 217.5,293.2 225.4,293.2 233.6,293.1 242.2,293 251.1,293 260.3,292.9" fill="none" stroke="#3c82d2" stroke-width="1.0" stroke-opacity="1.0"/>
<polyline points="109.5,353.5 109.5,353 109.6,350.9 109.7,346.7 110,341 110.3,334.6 110.8,328.2 111.4,322.4 112.2,317.3 113.1,313.1 114.2,309.7 115.5,306.9 116.9,304.6 118.6,302.8 120.4,301.3 122.5,300.1 124.8,299 127.3,298.2 130,297.5 132.9,296.9 136.2,296.4 139.6,296 143.3,295.6 147.3,295.3 151.6,295 156.1,294.8 160.9,294.5 165.9,294.4 171.3,294.2 177,294 183,293.9 189.2,293.8 195.8,293.7 202.7,293.6 209.9,293.5 217.5,293.4 225.4,293.4 233.6,293.3 242.2,293.3 251.1,293.2 260.3,293.2" fill="none" stroke="#44c874" stroke-width="1.0" stroke-opacity="1.0"/>
<polyline points="109.5,353.5 109.5,353 109.6,350.6 109.7,346 110,339.9 110.3,333.2 110.8,326.7 111.4,320.9 112.2,316 113.1,312 114.2,308.7 115.5,306.1 116.9,304 118.6,302.3 120.4,301 122.5,299.9 124.8,298.9 127.3,298.2 130,297.6 132.9,297 136.2,296.6 139.6,296.2 143.3,295.9 147.3,295.6 151.6,295.3 156.1,295.1 160.9,294.9 165.9,294.8 171.3,294.6 177,294.5 183,294.4 189.2,294.3 195.8,294.2 202.7,294.1 209.9,294 217.5,294 225.4,293.9 233.6,293.8 242.2,293.8 251.1,293.7 260.3,293.7" fill="none" stroke="#ff8c1a" stroke-width="1.4" stroke-opacity="1.0"/>
<polyline points="109.5,353.5 109.5,352.7 109.6,349.2 109.7,343 110,335.2 110.3,327.5 110.8,320.7 111.4,315.1 112.2,310.7 113.1,307.3 114.2,304.6 115.5,302.6 116.9,301 118.6,299.8 120.4,298.8 122.5,298 124.8,297.3 127.3,296.8 130,296.3 132.9,296 136.2,295.7 139.6,295.4 143.3,295.2 147.3,295 151.6,294.8 156.1,294.7 160.9,294.5 165.9,294.4 171.3,294.3 177,294.2 183,294.2 189.2,294.1 195.8,294 202.7,294 209.9,293.9 217.5,293.9 225.4,293.8 233.6,293.8 242.2,293.8 251.1,293.7 260.3,293.7" fill="none" stroke="#3c82d2" stroke-width="1.4" stroke-opacity="1.0"/>
<polyline points="109.5,353.5 109.5,352.8 109.6,349.7 109.7,344 110,336.8 110.3,329.3 110.8,322.6 111.4,316.9 112.2,312.3 113.1,308.8 114.2,306 115.5,303.8 116.9,302.1 118.6,300.7 120.4,299.6 122.5,298.7 124.8,298 127.3,297.4 130,296.9 132.9,296.5 136.2,296.2 139.6,295.9 143.3,295.6 147.3,295.4 151.6,295.2 156.1,295.1 160.9,294.9 165.9,294.8 171.3,294.7 177,294.6 183,294.5 189.2,294.5 195.8,294.4 202.7,294.3 209.9,294.3 217.5,294.2 225.4,294.2 233.6,294.1 242.2,294.1 251.1,294.1 260.3,294" fill="none" stroke="#f5a030" stroke-width="1.4" stroke-opacity="1.0"/>
<polyline points="109.5,353.5 109.5,353.1 109.6,351.1 109.7,347.3 110,342 110.3,336 110.8,329.9 111.4,324.3 112.2,319.5 113.1,315.4 114.2,312 115.5,309.2 116.9,307 118.6,305.2 120.4,303.7 122.5,302.4 124.8,301.4 127.3,300.6 130,299.8 132.9,299.2 136.2,298.7 139.6,298.3 143.3,297.9 147.3,297.6 151.6,297.3 156.1,297.1 160.9,296.9 165.9,296.7 171.3,296.5 177,296.4 183,296.2 189.2,296.1 195.8,296 202.7,295.9 209.9,295.8 217.5,295.8 225.4,295.7 233.6,295.6 242.2,295.6 251.1,295.5 260.3,295.5" fill="none" stroke="#ff7a10" stroke-width="1.4" stroke-opacity="1.0"/>
<polyline points="109.5,353.5 109.5,353.1 109.6,351.2 109.7,347.5 110,342.3 110.3,336.4 110.8,330.5 111.4,324.9 112.2,320.1 113.1,316 114.2,312.6 115.5,309.8 116.9,307.5 118.6,305.7 120.4,304.1 122.5,302.9 124.8,301.8 127.3,301 130,300.3 132.9,299.6 136.2,299.1 139.6,298.7 143.3,298.3 147.3,298 151.6,297.7 156.1,297.4 160.9,297.2 165.9,297 171.3,296.8 177,296.7 183,296.6 189.2,296.4 195.8,296.3 202.7,296.2 209.9,296.1 217.5,296.1 225.4,296 233.6,295.9 242.2,295.9 251.1,295.8 260.3,295.8" fill="none" stroke="#44c874" stroke-width="1.0" stroke-opacity="1.0"/>
<polyline points="109.5,353.5 109.5,353 109.6,350.5 109.7,346 110,340 110.3,333.4 110.8,327.1 111.4,321.5 112.2,316.8 113.1,313 114.2,309.9 115.5,307.5 116.9,305.5 118.6,304 120.4,302.7 122.5,301.7 124.8,300.8 127.3,300.1 130,299.5 132.9,299 136.2,298.6 139.6,298.3 143.3,298 147.3,297.7 151.6,297.5 156.1,297.3 160.9,297.1 165.9,296.9 171.3,296.8 177,296.7 183,296.6 189.2,296.5 195.8,296.4 202.7,296.3 209.9,296.3 217.5,296.2 225.4,296.1 233.6,296.1 242.2,296.1 251.1,296 260.3,296" fill="none" stroke="#44c874" stroke-width="1.4" stroke-opacity="1.0"/>
<polyline points="109.5,353.5 109.5,353 109.6,351 109.7,347.2 110,341.9 110.3,335.9 110.8,329.8 111.4,324.3 112.2,319.6 113.1,315.6 114.2,312.3 115.5,309.6 116.9,307.5 118.6,305.7 120.4,304.3 122.5,303.1 124.8,302.1 127.3,301.3 130,300.6 132.9,300 136.2,299.6 139.6,299.1 143.3,298.8 147.3,298.5 151.6,298.2 156.1,298 160.9,297.8 165.9,297.6 171.3,297.4 177,297.3 183,297.2 189.2,297.1 195.8,297 202.7,296.9 209.9,296.8 217.5,296.7 225.4,296.6 233.6,296.6 242.2,296.5 251.1,296.5 260.3,296.4" fill="none" stroke="#ff8c1a" stroke-width="1.0" stroke-opacity="1.0"/>
<polyline points="109.5,353.5 109.5,353 109.6,351 109.7,347.1 110,341.8 110.3,335.7 110.8,329.7 111.4,324.2 112.2,319.5 113.1,315.5 114.2,312.3 115.5,309.6 116.9,307.5 118.6,305.7 120.4,304.3 122.5,303.2 124.8,302.2 127.3,301.4 130,300.7 132.9,300.2 136.2,299.7 139.6,299.3 143.3,298.9 147.3,298.6 151.6,298.4 156.1,298.1 160.9,297.9 165.9,297.8 171.3,297.6 177,297.5 183,297.3 189.2,297.2 195.8,297.1 202.7,297 209.9,297 217.5,296.9 225.4,296.8 233.6,296.8 242.2,296.7 251.1,296.7 260.3,296.6" fill="none" stroke="#ff8c1a" stroke-width="1.0" stroke-opacity="1.0"/>
<polyline points="109.5,353.5 109.5,352.6 109.6,348.9 109.7,342.3 110,334.4 110.3,326.8 110.8,320.4 111.4,315.2 112.2,311.3 113.1,308.2 114.2,305.9 115.5,304.2 116.9,302.8 118.6,301.7 120.4,300.9 122.5,300.2 124.8,299.7 127.3,299.2 130,298.9 132.9,298.5 136.2,298.3 139.6,298.1 143.3,297.9 147.3,297.7 151.6,297.6 156.1,297.5 160.9,297.3 165.9,297.3 171.3,297.2 177,297.1 183,297 189.2,297 195.8,296.9 202.7,296.9 209.9,296.8 217.5,296.8 225.4,296.8 233.6,296.7 242.2,296.7 251.1,296.7 260.3,296.7" fill="none" stroke="#f5a030" stroke-width="1.4" stroke-opacity="1.0"/>
<polyline points="109.5,353.5 109.5,353 109.6,350.9 109.7,346.8 110,341.3 110.3,335.1 110.8,329 111.4,323.5 112.2,318.8 113.1,314.9 114.2,311.8 115.5,309.2 116.9,307.1 118.6,305.4 120.4,304.1 122.5,303 124.8,302 127.3,301.3 130,300.6 132.9,300.1 136.2,299.6 139.6,299.3 143.3,298.9 147.3,298.6 151.6,298.4 156.1,298.2 160.9,298 165.9,297.8 171.3,297.7 177,297.5 183,297.4 189.2,297.3 195.8,297.2 202.7,297.1 209.9,297.1 217.5,297 225.4,296.9 233.6,296.9 242.2,296.8 251.1,296.8 260.3,296.7" fill="none" stroke="#f5a030" stroke-width="1.0" stroke-opacity="1.0"/>
<polyline points="109.5,353.5 109.5,352.6 109.6,348.8 109.7,342.2 110,334.3 110.3,326.8 110.8,320.4 111.4,315.4 112.2,311.5 113.1,308.6 114.2,306.4 115.5,304.7 116.9,303.4 118.6,302.4 120.4,301.6 122.5,300.9 124.8,300.4 127.3,300 130,299.6 132.9,299.3 136.2,299.1 139.6,298.9 143.3,298.7 147.3,298.5 151.6,298.4 156.1,298.3 160.9,298.2 165.9,298.1 171.3,298 177,297.9 183,297.9 189.2,297.8 195.8,297.8 202.7,297.7 209.9,297.7 217.5,297.7 225.4,297.6 233.6,297.6 242.2,297.6 251.1,297.5 260.3,297.5" fill="none" stroke="#44c874" stroke-width="1.0" stroke-opacity="1.0"/>
<polyline points="109.5,353.5 109.5,353.1 109.6,351.2 109.7,347.5 110,342.5 110.3,336.7 110.8,330.9 111.4,325.5 112.2,320.9 113.1,317 114.2,313.7 115.5,311.1 116.9,308.9 118.6,307.2 120.4,305.8 122.5,304.6 124.8,303.6 127.3,302.8 130,302.1 132.9,301.5 136.2,301.1 139.6,300.6 143.3,300.3 147.3,300 151.6,299.7 156.1,299.5 160.9,299.3 165.9,299.1 171.3,298.9 177,298.8 183,298.7 189.2,298.6 195.8,298.5 202.7,298.4 209.9,298.3 217.5,298.2 225.4,298.1 233.6,298.1 242.2,298 251.1,298 260.3,297.9" fill="none" stroke="#ff8c1a" stroke-width="1.4" stroke-opacity="1.0"/>
<polyline points="109.5,353.5 109.5,353 109.6,350.5 109.7,346.1 110,340.1 110.3,333.7 110.8,327.6 111.4,322.2 112.2,317.8 113.1,314.2 114.2,311.3 115.5,309 116.9,307.2 118.6,305.8 120.4,304.6 122.5,303.6 124.8,302.8 127.3,302.2 130,301.6 132.9,301.2 136.2,300.8 139.6,300.5 143.3,300.2 147.3,300 151.6,299.8 156.1,299.6 160.9,299.4 165.9,299.3 171.3,299.2 177,299.1 183,299 189.2,298.9 195.8,298.8 202.7,298.7 209.9,298.7 217.5,298.6 225.4,298.6 233.6,298.5 242.2,298.5 251.1,298.4 260.3,298.4" fill="none" stroke="#44c874" stroke-width="1.0" stroke-opacity="1.0"/>
<polyline points="109.5,353.5 109.5,353 109.6,350.8 109.7,346.6 110,340.9 110.3,334.7 110.8,328.6 111.4,323.3 112.2,318.8 113.1,315.1 114.2,312.1 115.5,309.8 116.9,307.9 118.6,306.3 120.4,305.1 122.5,304.1 124.8,303.2 127.3,302.5 130,302 132.9,301.5 136.2,301.1 139.6,300.7 143.3,300.4 147.3,300.2 151.6,299.9 156.1,299.7 160.9,299.6 165.9,299.4 171.3,299.3 177,299.2 183,299.1 189.2,299 195.8,298.9 202.7,298.8 209.9,298.8 217.5,298.7 225.4,298.6 233.6,298.6 242.2,298.5 251.1,298.5 260.3,298.5" fill="none" stroke="#44c874" stroke-width="1.4" stroke-opacity="1.0"/>
<polyline points="109.5,353.5 109.5,352.7 109.6,349.2 109.7,343 110,335.6 110.3,328.3 110.8,322.1 111.4,317.1 112.2,313.2 113.1,310.3 114.2,308 115.5,306.3 116.9,304.9 118.6,303.8 120.4,303 122.5,302.3 124.8,301.8 127.3,301.3 130,301 132.9,300.7 136.2,300.4 139.6,300.2 143.3,300 147.3,299.8 151.6,299.7 156.1,299.6 160.9,299.5 165.9,299.4 171.3,299.3 177,299.2 183,299.2 189.2,299.1 195.8,299 202.7,299 209.9,299 217.5,298.9 225.4,298.9 233.6,298.9 242.2,298.8 251.1,298.8 260.3,298.8" fill="none" stroke="#ff8c1a" stroke-width="1.8" stroke-opacity="1.0"/>
<polyline points="109.5,353.5 109.5,353.1 109.6,351.3 109.7,347.8 110,343 110.3,337.4 110.8,331.8 111.4,326.6 112.2,322 113.1,318.2 114.2,315 115.5,312.4 116.9,310.3 118.6,308.5 120.4,307.1 122.5,305.9 124.8,305 127.3,304.1 130,303.5 132.9,302.9 136.2,302.4 139.6,302 143.3,301.6 147.3,301.3 151.6,301.1 156.1,300.8 160.9,300.6 165.9,300.5 171.3,300.3 177,300.2 183,300 189.2,299.9 195.8,299.8 202.7,299.7 209.9,299.6 217.5,299.6 225.4,299.5 233.6,299.4 242.2,299.4 251.1,299.3 260.3,299.3" fill="none" stroke="#f5a030" stroke-width="1.0" stroke-opacity="1.0"/>
<polyline points="109.5,353.5 109.5,353 109.6,350.7 109.7,346.5 110,340.8 110.3,334.7 110.8,328.8 111.4,323.5 112.2,319.2 113.1,315.7 114.2,312.8 115.5,310.6 116.9,308.7 118.6,307.3 120.4,306.1 122.5,305.1 124.8,304.4 127.3,303.7 130,303.2 132.9,302.7 136.2,302.3 139.6,302 143.3,301.7 147.3,301.5 151.6,301.3 156.1,301.1 160.9,300.9 165.9,300.8 171.3,300.7 177,300.6 183,300.5 189.2,300.4 195.8,300.3 202.7,300.2 209.9,300.2 217.5,300.1 225.4,300.1 233.6,300 242.2,300 251.1,299.9 260.3,299.9" fill="none" stroke="#ff7a10" stroke-width="1.4" stroke-opacity="1.0"/>
<polyline points="109.5,353.5 109.5,353 109.6,350.8 109.7,346.6 110,341.1 110.3,335 110.8,329.1 111.4,324 112.2,319.6 113.1,316 114.2,313.2 115.5,310.9 116.9,309.1 118.6,307.6 120.4,306.4 122.5,305.4 124.8,304.7 127.3,304 130,303.4 132.9,303 136.2,302.6 139.6,302.3 143.3,302 147.3,301.7 151.6,301.5 156.1,301.3 160.9,301.2 165.9,301 171.3,300.9 177,300.8 183,300.7 189.2,300.6 195.8,300.5 202.7,300.5 209.9,300.4 217.5,300.3 225.4,300.3 233.6,300.2 242.2,300.2 251.1,300.1 260.3,300.1" fill="none" stroke="#f02040" stroke-width="1.0" stroke-opacity="1.0"/>
<polyline points="109.5,353.5 109.5,353.1 109.6,351.1 109.7,347.4 110,342.3 110.3,336.6 110.8,330.9 111.4,325.7 112.2,321.3 113.1,317.6 114.2,314.6 115.5,312.2 116.9,310.2 118.6,308.6 120.4,307.3 122.5,306.2 124.8,305.3 127.3,304.6 130,304 132.9,303.5 136.2,303 139.6,302.7 143.3,302.4 147.3,302.1 151.6,301.8 156.1,301.6 160.9,301.4 165.9,301.3 171.3,301.1 177,301 183,300.9 189.2,300.8 195.8,300.7 202.7,300.6 209.9,300.6 217.5,300.5 225.4,300.4 233.6,300.4 242.2,300.3 251.1,300.3 260.3,300.2" fill="none" stroke="#ff2a2a" stroke-width="1.0" stroke-opacity="1.0"/>
<polyline points="109.5,353.5 109.5,352.9 109.6,350.4 109.7,345.7 110,339.6 110.3,333.2 110.8,327.2 111.4,322.1 112.2,317.9 113.1,314.5 114.2,311.9 115.5,309.8 116.9,308.2 118.6,306.9 120.4,305.8 122.5,304.9 124.8,304.2 127.3,303.7 130,303.2 132.9,302.8 136.2,302.5 139.6,302.2 143.3,301.9 147.3,301.7 151.6,301.5 156.1,301.4 160.9,301.2 165.9,301.1 171.3,301 177,300.9 183,300.8 189.2,300.7 195.8,300.7 202.7,300.6 209.9,300.6 217.5,300.5 225.4,300.5 233.6,300.4 242.2,300.4 251.1,300.3 260.3,300.3" fill="none" stroke="#ff8c1a" stroke-width="1.0" stroke-opacity="1.0"/>
<polyline points="109.5,353.5 109.5,353 109.6,350.6 109.7,346.2 110,340.5 110.3,334.2 110.8,328.3 111.4,323.2 112.2,318.9 113.1,315.5 114.2,312.7 115.5,310.6 116.9,308.8 118.6,307.4 120.4,306.3 122.5,305.4 124.8,304.7 127.3,304 130,303.5 132.9,303.1 136.2,302.7 139.6,302.4 143.3,302.2 147.3,301.9 151.6,301.7 156.1,301.6 160.9,301.4 165.9,301.3 171.3,301.2 177,301.1 183,301 189.2,300.9 195.8,300.8 202.7,300.7 209.9,300.7 217.5,300.6 225.4,300.6 233.6,300.5 242.2,300.5 251.1,300.5 260.3,300.4" fill="none" stroke="#ff2a2a" stroke-width="1.4" stroke-opacity="1.0"/>
<polyline points="109.5,353.5 109.5,353 109.6,350.9 109.7,347 110,341.6 110.3,335.7 110.8,330 111.4,324.8 112.2,320.5 113.1,316.9 114.2,314 115.5,311.7 116.9,309.8 118.6,308.3 120.4,307.1 122.5,306.1 124.8,305.3 127.3,304.6 130,304 132.9,303.6 136.2,303.2 139.6,302.8 143.3,302.5 147.3,302.3 151.6,302.1 156.1,301.9 160.9,301.7 165.9,301.5 171.3,301.4 177,301.3 183,301.2 189.2,301.1 195.8,301 202.7,300.9 209.9,300.9 217.5,300.8 225.4,300.8 233.6,300.7 242.2,300.7 251.1,300.6 260.3,300.6" fill="none" stroke="#f02040" stroke-width="1.4" stroke-opacity="1.0"/>
<polyline points="109.5,353.5 109.5,353 109.6,350.6 109.7,346.1 110,340.3 110.3,334.1 110.8,328.2 111.4,323.2 112.2,319 113.1,315.7 114.2,313 115.5,310.9 116.9,309.3 118.6,307.9 120.4,306.9 122.5,306 124.8,305.3 127.3,304.7 130,304.2 132.9,303.8 136.2,303.4 139.6,303.1 143.3,302.9 147.3,302.7 151.6,302.5 156.1,302.3 160.9,302.2 165.9,302.1 171.3,302 177,301.9 183,301.8 189.2,301.7 195.8,301.6 202.7,301.6 209.9,301.5 217.5,301.4 225.4,301.4 233.6,301.4 242.2,301.3 251.1,301.3 260.3,301.3" fill="none" stroke="#e81e8c" stroke-width="1.8" stroke-opacity="1.0"/>
<polyline points="109.5,353.5 109.5,353.1 109.6,351.3 109.7,347.9 110,343.1 110.3,337.7 110.8,332.2 111.4,327.2 112.2,322.8 113.1,319.2 114.2,316.1 115.5,313.7 116.9,311.7 118.6,310 120.4,308.7 122.5,307.6 124.8,306.7 127.3,305.9 130,305.3 132.9,304.8 136.2,304.3 139.6,303.9 143.3,303.6 147.3,303.3 151.6,303.1 156.1,302.8 160.9,302.6 165.9,302.5 171.3,302.3 177,302.2 183,302.1 189.2,302 195.8,301.9 202.7,301.8 209.9,301.7 217.5,301.7 225.4,301.6 233.6,301.5 242.2,301.5 251.1,301.4 260.3,301.4" fill="none" stroke="#f02040" stroke-width="1.8" stroke-opacity="1.0"/>
<polyline points="109.5,353.5 109.5,353.1 109.6,351.2 109.7,347.5 110,342.5 110.3,336.9 110.8,331.4 111.4,326.3 112.2,322 113.1,318.4 114.2,315.5 115.5,313.1 116.9,311.2 118.6,309.6 120.4,308.3 122.5,307.3 124.8,306.4 127.3,305.7 130,305.1 132.9,304.6 136.2,304.2 139.6,303.8 143.3,303.5 147.3,303.2 151.6,303 156.1,302.8 160.9,302.6 165.9,302.5 171.3,302.3 177,302.2 183,302.1 189.2,302 195.8,301.9 202.7,301.8 209.9,301.7 217.5,301.7 225.4,301.6 233.6,301.6 242.2,301.5 251.1,301.5 260.3,301.4" fill="none" stroke="#e81e8c" stroke-width="1.0" stroke-opacity="1.0"/>
<polyline points="109.5,353.5 109.5,352.8 109.6,349.9 109.7,344.6 110,338 110.3,331.3 110.8,325.4 111.4,320.5 112.2,316.6 113.1,313.6 114.2,311.3 115.5,309.5 116.9,308.1 118.6,307 120.4,306.1 122.5,305.3 124.8,304.8 127.3,304.3 130,303.9 132.9,303.6 136.2,303.3 139.6,303 143.3,302.8 147.3,302.7 151.6,302.5 156.1,302.4 160.9,302.3 165.9,302.2 171.3,302.1 177,302 183,301.9 189.2,301.9 195.8,301.8 202.7,301.8 209.9,301.7 217.5,301.7 225.4,301.7 233.6,301.6 242.2,301.6 251.1,301.6 260.3,301.5" fill="none" stroke="#e81e8c" stroke-width="1.4" stroke-opacity="1.0"/>
<polyline points="109.5,353.5 109.5,352.9 109.6,350.5 109.7,345.9 110,340 110.3,333.7 110.8,327.9 111.4,322.9 112.2,318.9 113.1,315.6 114.2,313 115.5,311 116.9,309.4 118.6,308.2 120.4,307.1 122.5,306.3 124.8,305.6 127.3,305.1 130,304.6 132.9,304.2 136.2,303.9 139.6,303.6 143.3,303.4 147.3,303.2 151.6,303 156.1,302.8 160.9,302.7 165.9,302.6 171.3,302.5 177,302.4 183,302.3 189.2,302.2 195.8,302.2 202.7,302.1 209.9,302.1 217.5,302 225.4,302 233.6,301.9 242.2,301.9 251.1,301.8 260.3,301.8" fill="none" stroke="#ff8c1a" stroke-width="1.4" stroke-opacity="1.0"/>
<polyline points="109.5,353.5 109.5,352.9 109.6,350.2 109.7,345.3 110,339 110.3,332.6 110.8,326.7 111.4,321.8 112.2,317.9 113.1,314.7 114.2,312.3 115.5,310.4 116.9,308.9 118.6,307.7 120.4,306.8 122.5,306 124.8,305.4 127.3,304.9 130,304.5 132.9,304.1 136.2,303.8 139.6,303.6 143.3,303.3 147.3,303.2 151.6,303 156.1,302.8 160.9,302.7 165.9,302.6 171.3,302.5 177,302.4 183,302.4 189.2,302.3 195.8,302.2 202.7,302.2 209.9,302.1 217.5,302.1 225.4,302.1 233.6,302 242.2,302 251.1,302 260.3,301.9" fill="none" stroke="#f5a030" stroke-width="1.4" stroke-opacity="1.0"/>
<polyline points="109.5,353.5 109.5,353.1 109.6,351.3 109.7,347.8 110,343 110.3,337.6 110.8,332.2 111.4,327.3 112.2,323.1 113.1,319.5 114.2,316.6 115.5,314.3 116.9,312.4 118.6,310.8 120.4,309.6 122.5,308.6 124.8,307.7 127.3,307 130,306.4 132.9,305.9 136.2,305.5 139.6,305.1 143.3,304.8 147.3,304.5 151.6,304.3 156.1,304.1 160.9,303.9 165.9,303.8 171.3,303.6 177,303.5 183,303.4 189.2,303.3 195.8,303.2 202.7,303.1 209.9,303.1 217.5,303 225.4,303 233.6,302.9 242.2,302.9 251.1,302.8 260.3,302.8" fill="none" stroke="#f02040" stroke-width="1.4" stroke-opacity="1.0"/>
<polyline points="109.5,353.5 109.5,352.7 109.6,349.5 109.7,343.7 110,336.8 110.3,330.1 110.8,324.3 111.4,319.7 112.2,316.1 113.1,313.4 114.2,311.3 115.5,309.7 116.9,308.5 118.6,307.5 120.4,306.7 122.5,306.1 124.8,305.6 127.3,305.2 130,304.8 132.9,304.6 136.2,304.3 139.6,304.1 143.3,304 147.3,303.8 151.6,303.7 156.1,303.6 160.9,303.5 165.9,303.4 171.3,303.3 177,303.2 183,303.2 189.2,303.1 195.8,303.1 202.7,303 209.9,303 217.5,303 225.4,302.9 233.6,302.9 242.2,302.9 251.1,302.9 260.3,302.8" fill="none" stroke="#e81e8c" stroke-width="1.0" stroke-opacity="1.0"/>
<polyline points="109.5,353.5 109.5,352.9 109.6,350.5 109.7,346 110,340.2 110.3,334.1 110.8,328.5 111.4,323.8 112.2,320 113.1,317 114.2,314.7 115.5,312.8 116.9,311.3 118.6,310.2 120.4,309.2 122.5,308.5 124.8,307.9 127.3,307.4 130,307 132.9,306.6 136.2,306.3 139.6,306.1 143.3,305.8 147.3,305.7 151.6,305.5 156.1,305.4 160.9,305.2 165.9,305.1 171.3,305 177,304.9 183,304.9 189.2,304.8 195.8,304.7 202.7,304.7 209.9,304.6 217.5,304.6 225.4,304.6 233.6,304.5 242.2,304.5 251.1,304.5 260.3,304.4" fill="none" stroke="#c050e0" stroke-width="1.8" stroke-opacity="1.0"/>
<polyline points="109.5,353.5 109.5,352.9 109.6,350.4 109.7,345.9 110,340 110.3,334 110.8,328.4 111.4,323.8 112.2,320 113.1,317 114.2,314.7 115.5,312.8 116.9,311.4 118.6,310.2 120.4,309.3 122.5,308.6 124.8,308 127.3,307.5 130,307 132.9,306.7 136.2,306.4 139.6,306.2 143.3,306 147.3,305.8 151.6,305.6 156.1,305.5 160.9,305.4 165.9,305.2 171.3,305.2 177,305.1 183,305 189.2,304.9 195.8,304.9 202.7,304.8 209.9,304.8 217.5,304.7 225.4,304.7 233.6,304.7 242.2,304.6 251.1,304.6 260.3,304.6" fill="none" stroke="#ff2a2a" stroke-width="1.0" stroke-opacity="1.0"/>
<polyline points="109.5,353.5 109.5,353.1 109.6,351.5 109.7,348.5 110,344.2 110.3,339.2 110.8,334.2 111.4,329.6 112.2,325.5 113.1,322 114.2,319.1 115.5,316.8 116.9,314.9 118.6,313.3 120.4,312 122.5,310.9 124.8,310.1 127.3,309.3 130,308.7 132.9,308.2 136.2,307.8 139.6,307.4 143.3,307 147.3,306.8 151.6,306.5 156.1,306.3 160.9,306.1 165.9,306 171.3,305.8 177,305.7 183,305.6 189.2,305.5 195.8,305.4 202.7,305.3 209.9,305.2 217.5,305.2 225.4,305.1 233.6,305 242.2,305 251.1,304.9 260.3,304.9" fill="none" stroke="#c050e0" stroke-width="1.4" stroke-opacity="1.0"/>
<polyline points="109.5,353.5 109.5,353 109.6,351 109.7,347.1 110,342 110.3,336.4 110.8,331.1 111.4,326.5 112.2,322.6 113.1,319.4 114.2,316.9 115.5,314.9 116.9,313.3 118.6,312 120.4,311 122.5,310.1 124.8,309.4 127.3,308.9 130,308.4 132.9,308 136.2,307.7 139.6,307.4 143.3,307.1 147.3,306.9 151.6,306.7 156.1,306.6 160.9,306.4 165.9,306.3 171.3,306.2 177,306.1 183,306 189.2,305.9 195.8,305.9 202.7,305.8 209.9,305.8 217.5,305.7 225.4,305.7 233.6,305.6 242.2,305.6 251.1,305.6 260.3,305.5" fill="none" stroke="#c050e0" stroke-width="1.4" stroke-opacity="1.0"/>
<polyline points="109.5,353.5 109.5,353 109.6,350.6 109.7,346.2 110,340.6 110.3,334.8 110.8,329.4 111.4,324.9 112.2,321.2 113.1,318.3 114.2,316 115.5,314.2 116.9,312.8 118.6,311.7 120.4,310.8 122.5,310.1 124.8,309.5 127.3,309 130,308.6 132.9,308.2 136.2,308 139.6,307.7 143.3,307.5 147.3,307.3 151.6,307.2 156.1,307 160.9,306.9 165.9,306.8 171.3,306.7 177,306.6 183,306.6 189.2,306.5 195.8,306.5 202.7,306.4 209.9,306.4 217.5,306.3 225.4,306.3 233.6,306.2 242.2,306.2 251.1,306.2 260.3,306.2" fill="none" stroke="#c050e0" stroke-width="1.0" stroke-opacity="1.0"/>
<polyline points="109.5,353.5 109.5,352.9 109.6,350.5 109.7,346.1 110,340.4 110.3,334.6 110.8,329.2 111.4,324.7 112.2,321.1 113.1,318.3 114.2,316.1 115.5,314.3 116.9,313 118.6,311.9 120.4,311 122.5,310.3 124.8,309.7 127.3,309.3 130,308.9 132.9,308.5 136.2,308.3 139.6,308 143.3,307.8 147.3,307.7 151.6,307.5 156.1,307.4 160.9,307.3 165.9,307.2 171.3,307.1 177,307 183,306.9 189.2,306.9 195.8,306.8 202.7,306.8 209.9,306.7 217.5,306.7 225.4,306.6 233.6,306.6 242.2,306.6 251.1,306.6 260.3,306.5" fill="none" stroke="#f02040" stroke-width="1.0" stroke-opacity="1.0"/>
<polyline points="109.5,353.5 109.5,353 109.6,350.9 109.7,346.9 110,341.7 110.3,336.2 110.8,331 111.4,326.5 112.2,322.8 113.1,319.8 114.2,317.5 115.5,315.6 116.9,314.1 118.6,312.9 120.4,312 122.5,311.2 124.8,310.6 127.3,310 130,309.6 132.9,309.2 136.2,308.9 139.6,308.7 143.3,308.5 147.3,308.3 151.6,308.1 156.1,307.9 160.9,307.8 165.9,307.7 171.3,307.6 177,307.5 183,307.4 189.2,307.4 195.8,307.3 202.7,307.3 209.9,307.2 217.5,307.2 225.4,307.1 233.6,307.1 242.2,307.1 251.1,307 260.3,307" fill="none" stroke="#f02040" stroke-width="1.8" stroke-opacity="1.0"/>
<polyline points="109.5,353.5 109.5,352.8 109.6,350 109.7,345 110,339 110.3,333 110.8,327.9 111.4,323.8 112.2,320.6 113.1,318.2 114.2,316.4 115.5,314.9 116.9,313.8 118.6,312.9 120.4,312.2 122.5,311.7 124.8,311.2 127.3,310.9 130,310.6 132.9,310.3 136.2,310.1 139.6,309.9 143.3,309.8 147.3,309.6 151.6,309.5 156.1,309.4 160.9,309.3 165.9,309.3 171.3,309.2 177,309.1 183,309.1 189.2,309 195.8,309 202.7,309 209.9,308.9 217.5,308.9 225.4,308.9 233.6,308.8 242.2,308.8 251.1,308.8 260.3,308.8" fill="none" stroke="#ff2a2a" stroke-width="1.0" stroke-opacity="1.0"/>
<polyline points="109.5,353.5 109.5,353 109.6,350.9 109.7,347.1 110,342.1 110.3,336.7 110.8,331.7 111.4,327.4 112.2,323.8 113.1,321 114.2,318.7 115.5,316.9 116.9,315.5 118.6,314.4 120.4,313.5 122.5,312.8 124.8,312.2 127.3,311.7 130,311.3 132.9,310.9 136.2,310.6 139.6,310.4 143.3,310.2 147.3,310 151.6,309.8 156.1,309.7 160.9,309.6 165.9,309.5 171.3,309.4 177,309.3 183,309.2 189.2,309.1 195.8,309.1 202.7,309 209.9,309 217.5,308.9 225.4,308.9 233.6,308.9 242.2,308.8 251.1,308.8 260.3,308.8" fill="none" stroke="#f02040" stroke-width="1.0" stroke-opacity="1.0"/>
<polyline points="109.5,353.5 109.5,353.1 109.6,351.2 109.7,347.6 110,342.9 110.3,337.9 110.8,333 111.4,328.8 112.2,325.3 113.1,322.5 114.2,320.2 115.5,318.4 116.9,317 118.6,315.8 120.4,314.9 122.5,314.1 124.8,313.5 127.3,313 130,312.6 132.9,312.2 136.2,311.9 139.6,311.7 143.3,311.4 147.3,311.2 151.6,311.1 156.1,310.9 160.9,310.8 165.9,310.7 171.3,310.6 177,310.5 183,310.4 189.2,310.4 195.8,310.3 202.7,310.3 209.9,310.2 217.5,310.2 225.4,310.1 233.6,310.1 242.2,310 251.1,310 260.3,310" fill="none" stroke="#ff9090" stroke-width="0.7" stroke-opacity="1.0"/>
<polyline points="109.5,353.5 109.5,353.1 109.6,351.2 109.7,347.8 110,343.2 110.3,338.3 110.8,333.6 111.4,329.5 112.2,326.1 113.1,323.3 114.2,321.1 115.5,319.3 116.9,317.9 118.6,316.8 120.4,315.9 122.5,315.2 124.8,314.6 127.3,314.1 130,313.6 132.9,313.3 136.2,313 139.6,312.8 143.3,312.5 147.3,312.4 151.6,312.2 156.1,312.1 160.9,311.9 165.9,311.8 171.3,311.7 177,311.6 183,311.6 189.2,311.5 195.8,311.4 202.7,311.4 209.9,311.3 217.5,311.3 225.4,311.3 233.6,311.2 242.2,311.2 251.1,311.2 260.3,311.1" fill="none" stroke="#ff9090" stroke-width="0.7" stroke-opacity="1.0"/>
<polyline points="109.5,353.5 109.5,353.2 109.6,352.1 109.7,349.7 110,346.1 110.3,341.3 110.8,335.7 111.4,329.7 112.2,323.6 113.1,317.6 114.2,312.1 115.5,307 116.9,302.5 118.6,298.5 120.4,295 122.5,291.9 124.8,289.3 127.3,287 130,285 132.9,283.2 136.2,281.7 139.6,280.4 143.3,279.3 147.3,278.2 151.6,277.4 156.1,276.6 160.9,275.9 165.9,275.2 171.3,274.7 177,274.2 183,273.7 189.2,273.3 195.8,273 202.7,272.7 209.9,272.4 217.5,272.1 225.4,271.8 233.6,271.6 242.2,271.4 251.1,271.2 260.3,271.1" fill="none" stroke="#00e4e4" stroke-width="0.9" stroke-opacity="1.0"/>
<polyline points="109.5,353.5 109.5,353.3 109.6,352.2 109.7,350.1 110,346.9 110.3,342.6 110.8,337.5 111.4,331.9 112.2,326.2 113.1,320.5 114.2,315.2 115.5,310.2 116.9,305.8 118.6,301.8 120.4,298.2 122.5,295.1 124.8,292.4 127.3,290.1 130,288 132.9,286.2 136.2,284.6 139.6,283.3 143.3,282 147.3,281 151.6,280 156.1,279.2 160.9,278.5 165.9,277.8 171.3,277.2 177,276.7 183,276.2 189.2,275.8 195.8,275.4 202.7,275.1 209.9,274.7 217.5,274.5 225.4,274.2 233.6,274 242.2,273.7 251.1,273.5 260.3,273.4" fill="none" stroke="#00e4e4" stroke-width="0.9" stroke-opacity="1.0"/>
<polyline points="109.5,353.5 109.5,353.2 109.6,351.8 109.7,349 110,344.7 110.3,339.3 110.8,333.2 111.4,326.9 112.2,320.7 113.1,314.9 114.2,309.6 115.5,305 116.9,300.9 118.6,297.5 120.4,294.5 122.5,291.9 124.8,289.8 127.3,287.9 130,286.3 132.9,284.9 136.2,283.8 139.6,282.7 143.3,281.8 147.3,281 151.6,280.4 156.1,279.8 160.9,279.2 165.9,278.8 171.3,278.3 177,278 183,277.6 189.2,277.3 195.8,277.1 202.7,276.8 209.9,276.6 217.5,276.4 225.4,276.2 233.6,276.1 242.2,275.9 251.1,275.8 260.3,275.6" fill="none" stroke="#00e4e4" stroke-width="0.9" stroke-opacity="1.0"/>
<polyline points="109.5,353.5 109.5,353.3 109.6,352.1 109.7,349.8 110,346.3 110.3,341.7 110.8,336.4 111.4,330.7 112.2,325 113.1,319.5 114.2,314.4 115.5,309.7 116.9,305.6 118.6,302 120.4,298.9 122.5,296.2 124.8,293.8 127.3,291.8 130,290 132.9,288.5 136.2,287.2 139.6,286 143.3,285 147.3,284.2 151.6,283.4 156.1,282.7 160.9,282.1 165.9,281.5 171.3,281.1 177,280.6 183,280.2 189.2,279.9 195.8,279.6 202.7,279.3 209.9,279.1 217.5,278.8 225.4,278.6 233.6,278.4 242.2,278.2 251.1,278.1 260.3,277.9" fill="none" stroke="#00e4e4" stroke-width="0.9" stroke-opacity="1.0"/>
<polyline points="109.5,353.5 109.5,353.2 109.6,351.9 109.7,349.3 110,345.3 110.3,340.3 110.8,334.5 111.4,328.5 112.2,322.6 113.1,317.1 114.2,312 115.5,307.6 116.9,303.7 118.6,300.4 120.4,297.5 122.5,295 124.8,292.9 127.3,291.1 130,289.5 132.9,288.2 136.2,287 139.6,286 143.3,285.1 147.3,284.4 151.6,283.7 156.1,283.1 160.9,282.6 165.9,282.1 171.3,281.7 177,281.4 183,281 189.2,280.7 195.8,280.5 202.7,280.2 209.9,280 217.5,279.8 225.4,279.6 233.6,279.5 242.2,279.3 251.1,279.2 260.3,279.1" fill="none" stroke="#00e4e4" stroke-width="0.9" stroke-opacity="1.0"/>
<polyline points="109.5,353.5 109.5,353.1 109.6,351.5 109.7,348.3 110,343.6 110.3,337.7 110.8,331.3 111.4,324.8 112.2,318.8 113.1,313.3 114.2,308.4 115.5,304.3 116.9,300.8 118.6,297.8 120.4,295.3 122.5,293.2 124.8,291.4 127.3,289.9 130,288.6 132.9,287.5 136.2,286.5 139.6,285.7 143.3,285 147.3,284.4 151.6,283.9 156.1,283.4 160.9,283 165.9,282.6 171.3,282.3 177,282 183,281.7 189.2,281.5 195.8,281.3 202.7,281.1 209.9,281 217.5,280.8 225.4,280.7 233.6,280.5 242.2,280.4 251.1,280.3 260.3,280.2" fill="none" stroke="#00e4e4" stroke-width="0.9" stroke-opacity="1.0"/>
<polyline points="109.5,353.5 109.5,353.2 109.6,351.7 109.7,348.8 110,344.5 110.3,339.1 110.8,333.2 111.4,327.1 112.2,321.3 113.1,315.9 114.2,311.2 115.5,307.1 116.9,303.6 118.6,300.6 120.4,298 122.5,295.9 124.8,294.1 127.3,292.5 130,291.2 132.9,290.1 136.2,289.1 139.6,288.2 143.3,287.5 147.3,286.9 151.6,286.3 156.1,285.8 160.9,285.4 165.9,285 171.3,284.7 177,284.4 183,284.1 189.2,283.9 195.8,283.7 202.7,283.5 209.9,283.3 217.5,283.1 225.4,283 233.6,282.8 242.2,282.7 251.1,282.6 260.3,282.5" fill="none" stroke="#00e4e4" stroke-width="0.9" stroke-opacity="1.0"/>
<polyline points="109.5,353.5 109.5,353.2 109.6,352.1 109.7,349.7 110,346.1 110.3,341.5 110.8,336.3 111.4,330.8 112.2,325.4 113.1,320.3 114.2,315.7 115.5,311.5 116.9,307.9 118.6,304.8 120.4,302.1 122.5,299.8 124.8,297.8 127.3,296.1 130,294.6 132.9,293.4 136.2,292.3 139.6,291.4 143.3,290.5 147.3,289.8 151.6,289.2 156.1,288.6 160.9,288.1 165.9,287.7 171.3,287.3 177,287 183,286.7 189.2,286.4 195.8,286.1 202.7,285.9 209.9,285.7 217.5,285.5 225.4,285.3 233.6,285.2 242.2,285 251.1,284.9 260.3,284.8" fill="none" stroke="#00e4e4" stroke-width="0.9" stroke-opacity="1.0"/>
<polyline points="109.5,353.5 109.5,353.3 109.6,352.5 109.7,350.9 110,348.3 110.3,344.9 110.8,340.8 111.4,336.3 112.2,331.7 113.1,327.1 114.2,322.7 115.5,318.6 116.9,314.8 118.6,311.5 120.4,308.5 122.5,305.9 124.8,303.6 127.3,301.6 130,299.8 132.9,298.3 136.2,296.9 139.6,295.7 143.3,294.7 147.3,293.7 151.6,292.9 156.1,292.2 160.9,291.6 165.9,291 171.3,290.5 177,290 183,289.6 189.2,289.2 195.8,288.9 202.7,288.6 209.9,288.3 217.5,288.1 225.4,287.8 233.6,287.6 242.2,287.4 251.1,287.3 260.3,287.1" fill="none" stroke="#00e4e4" stroke-width="0.9" stroke-opacity="1.0"/>
<polyline points="109.5,353.5 110.4,330.6 111.9,313.4 114,299.7 118.5,284.8 127.6,276.8 139.7,271.1 154.7,265.9 169.8,261.9 200,257.3 230.1,255 260.3,253.9" fill="none" stroke="#00e4e4" stroke-width="1.0" />
<rect x="109.5" y="239.0" width="150.8" height="114.5" fill="none" stroke="#404040" stroke-width="0.8"/>
<text x="107" y="240.8" font-size="5" fill="#202020" text-anchor="end" font-weight="normal" font-family="Liberation Sans" >0.8</text>
<line x1="108" y1="239" x2="109.5" y2="239" stroke="#404040" stroke-width="0.6" />
<text x="107" y="263.7" font-size="5" fill="#202020" text-anchor="end" font-weight="normal" font-family="Liberation Sans" >0.6</text>
<line x1="108" y1="261.9" x2="109.5" y2="261.9" stroke="#404040" stroke-width="0.6" />
<text x="107" y="286.6" font-size="5" fill="#202020" text-anchor="end" font-weight="normal" font-family="Liberation Sans" >0.4</text>
<line x1="108" y1="284.8" x2="109.5" y2="284.8" stroke="#404040" stroke-width="0.6" />
<text x="107" y="309.5" font-size="5" fill="#202020" text-anchor="end" font-weight="normal" font-family="Liberation Sans" >0.2</text>
<line x1="108" y1="307.7" x2="109.5" y2="307.7" stroke="#404040" stroke-width="0.6" />
<text x="107" y="332.4" font-size="5" fill="#202020" text-anchor="end" font-weight="normal" font-family="Liberation Sans" >0.0</text>
<line x1="108" y1="330.6" x2="109.5" y2="330.6" stroke="#404040" stroke-width="0.6" />
<text x="107" y="355.3" font-size="5" fill="#202020" text-anchor="end" font-weight="normal" font-family="Liberation Sans" >−0.2</text>
<line x1="108" y1="353.5" x2="109.5" y2="353.5" stroke="#404040" stroke-width="0.6" />
<text x="109.5" y="360" font-size="5" fill="#202020" text-anchor="middle" font-weight="normal" font-family="Liberation Sans" >0</text>
<line x1="109.5" y1="353.5" x2="109.5" y2="355" stroke="#404040" stroke-width="0.6" />
<text x="139.7" y="360" font-size="5" fill="#202020" text-anchor="middle" font-weight="normal" font-family="Liberation Sans" >100</text>
<line x1="139.7" y1="353.5" x2="139.7" y2="355" stroke="#404040" stroke-width="0.6" />
<text x="169.8" y="360" font-size="5" fill="#202020" text-anchor="middle" font-weight="normal" font-family="Liberation Sans" >200</text>
<line x1="169.8" y1="353.5" x2="169.8" y2="355" stroke="#404040" stroke-width="0.6" />
<text x="200" y="360" font-size="5" fill="#202020" text-anchor="middle" font-weight="normal" font-family="Liberation Sans" >300</text>
<line x1="200" y1="353.5" x2="200" y2="355" stroke="#404040" stroke-width="0.6" />
<text x="230.1" y="360" font-size="5" fill="#202020" text-anchor="middle" font-weight="normal" font-family="Liberation Sans" >400</text>
<line x1="230.1" y1="353.5" x2="230.1" y2="355" stroke="#404040" stroke-width="0.6" />
<text x="260.3" y="360" font-size="5" fill="#202020" text-anchor="middle" font-weight="normal" font-family="Liberation Sans" >500</text>
<line x1="260.3" y1="353.5" x2="260.3" y2="355" stroke="#404040" stroke-width="0.6" />
<rect x="213.5" y="241.8" width="46.5" height="50" fill="#ffffff" fill-opacity="0.88" stroke="#d8d8d8" stroke-width="0.6"/>
<line x1="216" y1="246.8" x2="226.5" y2="246.8" stroke="#b8a4ec" stroke-width="0.8" />
<text x="230.8" y="249" font-size="6.0" fill="#303030" text-anchor="start" font-weight="normal" font-family="Liberation Sans"  textLength="22.05" lengthAdjust="spacingAndGlyphs">9-81-19</text>
<line x1="216" y1="252.6" x2="226.5" y2="252.6" stroke="#00e4e4" stroke-width="2.2" />
<text x="230.8" y="254.8" font-size="6.0" fill="#303030" text-anchor="start" font-weight="normal" font-family="Liberation Sans"  textLength="22.05" lengthAdjust="spacingAndGlyphs">2-78-22</text>
<line x1="216" y1="258.3" x2="226.5" y2="258.3" stroke="#78b4e6" stroke-width="1.2" />
<text x="230.8" y="260.5" font-size="6.0" fill="#303030" text-anchor="start" font-weight="normal" font-family="Liberation Sans"  textLength="25.2" lengthAdjust="spacingAndGlyphs">29-79-20</text>
<line x1="216" y1="264.1" x2="226.5" y2="264.1" stroke="#f6b48a" stroke-width="1.0" />
<text x="230.8" y="266.3" font-size="6.0" fill="#303030" text-anchor="start" font-weight="normal" font-family="Liberation Sans"  textLength="25.2" lengthAdjust="spacingAndGlyphs">33-78-17</text>
<line x1="216" y1="269.9" x2="226.5" y2="269.9" stroke="#f07060" stroke-width="1.0" />
<text x="230.8" y="272.1" font-size="6.0" fill="#303030" text-anchor="start" font-weight="normal" font-family="Liberation Sans"  textLength="25.2" lengthAdjust="spacingAndGlyphs">34-80-18</text>
<line x1="216" y1="275.7" x2="226.5" y2="275.7" stroke="#b050e6" stroke-width="1.0" />
<text x="230.8" y="277.9" font-size="6.0" fill="#303030" text-anchor="start" font-weight="normal" font-family="Liberation Sans"  textLength="25.2" lengthAdjust="spacingAndGlyphs">35-78-21</text>
<line x1="216" y1="281.4" x2="226.5" y2="281.4" stroke="#f4b4b4" stroke-width="1.0" />
<text x="230.8" y="283.6" font-size="6.0" fill="#303030" text-anchor="start" font-weight="normal" font-family="Liberation Sans"  textLength="25.2" lengthAdjust="spacingAndGlyphs">28-79-21</text>
<line x1="216" y1="287.2" x2="226.5" y2="287.2" stroke="#f8c468" stroke-width="1.0" />
<text x="230.8" y="289.4" font-size="6.0" fill="#303030" text-anchor="start" font-weight="normal" font-family="Liberation Sans"  textLength="25.2" lengthAdjust="spacingAndGlyphs">28-78-19</text>
<line x1="321" y1="200.2" x2="321" y2="378.8" stroke="#e8e8e8" stroke-width="0.7" />
<line x1="384" y1="200.2" x2="384" y2="378.8" stroke="#e8e8e8" stroke-width="0.7" />
<line x1="415.4" y1="200.2" x2="415.4" y2="378.8" stroke="#e8e8e8" stroke-width="0.7" />
<line x1="446.9" y1="200.2" x2="446.9" y2="378.8" stroke="#e8e8e8" stroke-width="0.7" />
<line x1="478.3" y1="200.2" x2="478.3" y2="378.8" stroke="#e8e8e8" stroke-width="0.7" />
<line x1="509.8" y1="200.2" x2="509.8" y2="378.8" stroke="#e8e8e8" stroke-width="0.7" />
<line x1="352.5" y1="221.8" x2="352.5" y2="378.8" stroke="#e8e8e8" stroke-width="0.7" />
<line x1="304.8" y1="213.2" x2="542.3" y2="213.2" stroke="#e8e8e8" stroke-width="0.7" />
<line x1="302.3" y1="213.2" x2="304.8" y2="213.2" stroke="#404040" stroke-width="0.8" />
<text x="301.2" y="216.3" font-size="8.8" fill="#505050" text-anchor="end" font-weight="normal" font-family="Liberation Sans" >0</text>
<line x1="304.8" y1="234.6" x2="542.3" y2="234.6" stroke="#e8e8e8" stroke-width="0.7" />
<line x1="302.3" y1="234.6" x2="304.8" y2="234.6" stroke="#404040" stroke-width="0.8" />
<text x="301.2" y="237.7" font-size="8.8" fill="#505050" text-anchor="end" font-weight="normal" font-family="Liberation Sans"  textLength="7.8" lengthAdjust="spacingAndGlyphs">-5</text>
<line x1="304.8" y1="256.1" x2="542.3" y2="256.1" stroke="#e8e8e8" stroke-width="0.7" />
<line x1="302.3" y1="256.1" x2="304.8" y2="256.1" stroke="#404040" stroke-width="0.8" />
<text x="301.2" y="259.2" font-size="8.8" fill="#505050" text-anchor="end" font-weight="normal" font-family="Liberation Sans"  textLength="11.7" lengthAdjust="spacingAndGlyphs">-10</text>
<line x1="304.8" y1="277.5" x2="542.3" y2="277.5" stroke="#e8e8e8" stroke-width="0.7" />
<line x1="302.3" y1="277.5" x2="304.8" y2="277.5" stroke="#404040" stroke-width="0.8" />
<text x="301.2" y="280.6" font-size="8.8" fill="#505050" text-anchor="end" font-weight="normal" font-family="Liberation Sans"  textLength="11.7" lengthAdjust="spacingAndGlyphs">-15</text>
<line x1="304.8" y1="299" x2="542.3" y2="299" stroke="#e8e8e8" stroke-width="0.7" />
<line x1="302.3" y1="299" x2="304.8" y2="299" stroke="#404040" stroke-width="0.8" />
<text x="301.2" y="302.1" font-size="8.8" fill="#505050" text-anchor="end" font-weight="normal" font-family="Liberation Sans"  textLength="11.7" lengthAdjust="spacingAndGlyphs">-20</text>
<line x1="304.8" y1="320.4" x2="542.3" y2="320.4" stroke="#e8e8e8" stroke-width="0.7" />
<line x1="302.3" y1="320.4" x2="304.8" y2="320.4" stroke="#404040" stroke-width="0.8" />
<text x="301.2" y="323.6" font-size="8.8" fill="#505050" text-anchor="end" font-weight="normal" font-family="Liberation Sans"  textLength="11.7" lengthAdjust="spacingAndGlyphs">-25</text>
<line x1="304.8" y1="341.9" x2="542.3" y2="341.9" stroke="#e8e8e8" stroke-width="0.7" />
<line x1="302.3" y1="341.9" x2="304.8" y2="341.9" stroke="#404040" stroke-width="0.8" />
<text x="301.2" y="345" font-size="8.8" fill="#505050" text-anchor="end" font-weight="normal" font-family="Liberation Sans"  textLength="11.7" lengthAdjust="spacingAndGlyphs">-30</text>
<line x1="304.8" y1="363.4" x2="542.3" y2="363.4" stroke="#e8e8e8" stroke-width="0.7" />
<line x1="302.3" y1="363.4" x2="304.8" y2="363.4" stroke="#404040" stroke-width="0.8" />
<text x="301.2" y="366.5" font-size="8.8" fill="#505050" text-anchor="end" font-weight="normal" font-family="Liberation Sans"  textLength="11.7" lengthAdjust="spacingAndGlyphs">-35</text>
<line x1="321" y1="378.8" x2="321" y2="381.3" stroke="#404040" stroke-width="0.8" />
<text x="321" y="388.8" font-size="8.8" fill="#505050" text-anchor="middle" font-weight="normal" font-family="Liberation Sans"  textLength="7.8" lengthAdjust="spacingAndGlyphs">-2</text>
<line x1="352.5" y1="378.8" x2="352.5" y2="381.3" stroke="#404040" stroke-width="0.8" />
<text x="352.5" y="388.8" font-size="8.8" fill="#505050" text-anchor="middle" font-weight="normal" font-family="Liberation Sans" >0</text>
<line x1="384" y1="378.8" x2="384" y2="381.3" stroke="#404040" stroke-width="0.8" />
<text x="384" y="388.8" font-size="8.8" fill="#505050" text-anchor="middle" font-weight="normal" font-family="Liberation Sans" >2</text>
<line x1="415.4" y1="378.8" x2="415.4" y2="381.3" stroke="#404040" stroke-width="0.8" />
<text x="415.4" y="388.8" font-size="8.8" fill="#505050" text-anchor="middle" font-weight="normal" font-family="Liberation Sans" >4</text>
<line x1="446.9" y1="378.8" x2="446.9" y2="381.3" stroke="#404040" stroke-width="0.8" />
<text x="446.9" y="388.8" font-size="8.8" fill="#505050" text-anchor="middle" font-weight="normal" font-family="Liberation Sans" >6</text>
<line x1="478.3" y1="378.8" x2="478.3" y2="381.3" stroke="#404040" stroke-width="0.8" />
<text x="478.3" y="388.8" font-size="8.8" fill="#505050" text-anchor="middle" font-weight="normal" font-family="Liberation Sans" >8</text>
<line x1="509.8" y1="378.8" x2="509.8" y2="381.3" stroke="#404040" stroke-width="0.8" />
<text x="509.8" y="388.8" font-size="8.8" fill="#505050" text-anchor="middle" font-weight="normal" font-family="Liberation Sans"  textLength="7.8" lengthAdjust="spacingAndGlyphs">10</text>
<line x1="541.3" y1="378.8" x2="541.3" y2="381.3" stroke="#404040" stroke-width="0.8" />
<text x="541.3" y="388.8" font-size="8.8" fill="#505050" text-anchor="middle" font-weight="normal" font-family="Liberation Sans"  textLength="7.8" lengthAdjust="spacingAndGlyphs">12</text>
<text x="423" y="398.5" font-size="8.6" fill="#202020" text-anchor="middle" font-weight="bold" font-family="Liberation Sans">Square root of time (hour<tspan font-size="5" dy="-3.5">0.5</tspan><tspan dy="3.5">)</tspan></text>
<text x="0" y="0" font-size="9.2" fill="#202020" text-anchor="middle" font-weight="bold" font-family="Liberation Sans" transform="translate(286,292.3) rotate(-90)" textLength="142.7" lengthAdjust="spacingAndGlyphs">Normalized gas production from core</text>
<text x="305" y="198.2" font-size="8.5" fill="#101010" text-anchor="start" font-weight="bold" font-family="Liberation Serif" >(d)</text>
<polyline points="312.3,221.2 314,221.2 315.7,221.1 317.4,221 319.1,220.8 320.8,220.6 322.5,220.3 324.2,220 325.9,219.7 327.6,219.3 329.3,218.9 330.9,218.4 332.6,217.9 334.3,217.4 336,216.9 337.7,216.4 339.4,215.9 341.1,215.5 342.8,215 344.5,214.7 346.2,214.5" fill="none" stroke="#00e4e4" stroke-width="0.6" stroke-opacity="0.55"/>
<polyline points="311.1,224.6 312.9,224.6 314.8,224.5 316.7,224.3 318.6,224 320.4,223.7 322.3,223.3 324.2,222.8 326.1,222.3 328,221.7 329.8,221.1 331.7,220.4 333.6,219.7 335.5,218.9 337.3,218.2 339.2,217.4 341.1,216.7 343,216 344.8,215.3 346.7,214.8 348.6,214.5" fill="none" stroke="#00e4e4" stroke-width="0.8" stroke-opacity="0.8"/>
<polyline points="311.9,225.4 313.7,225.4 315.5,225.2 317.3,225 319.1,224.8 320.8,224.4 322.6,224 324.4,223.5 326.2,222.9 327.9,222.3 329.7,221.6 331.5,220.8 333.3,220.1 335.1,219.3 336.8,218.5 338.6,217.6 340.4,216.8 342.2,216.1 344,215.4 345.7,214.8 347.5,214.5" fill="none" stroke="#00e4e4" stroke-width="0.8" stroke-opacity="0.55"/>
<polyline points="311,229.4 313,229.4 315,229.2 317.1,228.9 319.1,228.5 321.1,228.1 323.2,227.5 325.2,226.8 327.3,226 329.3,225.1 331.3,224.2 333.4,223.2 335.4,222.1 337.4,221 339.5,219.9 341.5,218.8 343.6,217.7 345.6,216.7 347.6,215.7 349.7,214.9 351.7,214.5" fill="none" stroke="#00e4e4" stroke-width="0.6" stroke-opacity="0.8"/>
<polyline points="311,231.2 312.8,231.2 314.7,231 316.6,230.7 318.4,230.2 320.3,229.7 322.2,229 324,228.2 325.9,227.4 327.8,226.4 329.6,225.4 331.5,224.2 333.4,223.1 335.3,221.8 337.1,220.6 339,219.3 340.9,218.1 342.7,216.9 344.6,215.9 346.5,215 348.3,214.5" fill="none" stroke="#00e4e4" stroke-width="0.6" stroke-opacity="0.4"/>
<polyline points="310.9,232 312.9,232 315,231.8 317,231.5 319,231 321.1,230.4 323.1,229.7 325.2,228.9 327.2,228 329.3,227 331.3,225.9 333.3,224.7 335.4,223.5 337.4,222.2 339.5,220.9 341.5,219.6 343.6,218.3 345.6,217.1 347.6,215.9 349.7,215 351.7,214.5" fill="none" stroke="#00e4e4" stroke-width="1.0" stroke-opacity="0.55"/>
<polyline points="312.2,234.5 314.2,234.4 316.1,234.2 318,233.8 319.9,233.3 321.8,232.6 323.8,231.8 325.7,230.9 327.6,229.9 329.5,228.7 331.5,227.5 333.4,226.1 335.3,224.7 337.2,223.3 339.1,221.8 341.1,220.3 343,218.8 344.9,217.4 346.8,216.1 348.8,215.1 350.7,214.5" fill="none" stroke="#00e4e4" stroke-width="0.8" stroke-opacity="0.55"/>
<polyline points="311.2,237.4 313,237.3 314.9,237 316.7,236.6 318.6,236 320.4,235.3 322.3,234.4 324.1,233.3 326,232.1 327.8,230.8 329.7,229.4 331.5,227.8 333.4,226.2 335.2,224.5 337.1,222.8 338.9,221.1 340.8,219.4 342.6,217.8 344.5,216.4 346.3,215.2 348.2,214.5" fill="none" stroke="#00e4e4" stroke-width="1.0" stroke-opacity="0.8"/>
<polyline points="311.3,239.7 313,239.6 314.7,239.3 316.3,238.8 318,238.2 319.7,237.4 321.4,236.4 323.1,235.2 324.8,233.9 326.5,232.4 328.2,230.8 329.9,229.2 331.5,227.4 333.2,225.5 334.9,223.7 336.6,221.8 338.3,219.9 340,218.2 341.7,216.6 343.4,215.3 345.1,214.5" fill="none" stroke="#ffb0a0" stroke-width="0.6" stroke-opacity="0.8"/>
<polyline points="312.5,242 314.2,241.9 316,241.6 317.7,241 319.5,240.3 321.2,239.4 323,238.3 324.7,237.1 326.5,235.6 328.2,234.1 330,232.3 331.7,230.5 333.5,228.6 335.2,226.5 337,224.5 338.7,222.4 340.5,220.4 342.2,218.5 344,216.8 345.7,215.3 347.5,214.5" fill="none" stroke="#00e4e4" stroke-width="0.6" stroke-opacity="0.55"/>
<polyline points="311.8,245.4 313.5,245.3 315.2,245 316.9,244.4 318.5,243.6 320.2,242.6 321.9,241.3 323.6,239.9 325.3,238.3 326.9,236.5 328.6,234.6 330.3,232.5 332,230.3 333.7,228.1 335.3,225.8 337,223.4 338.7,221.2 340.4,219 342.1,217 343.7,215.4 345.4,214.5" fill="none" stroke="#00e4e4" stroke-width="0.8" stroke-opacity="0.4"/>
<polyline points="312.4,247.4 314.3,247.2 316.2,246.9 318,246.2 319.9,245.4 321.8,244.3 323.7,243 325.6,241.5 327.5,239.8 329.4,237.9 331.3,235.8 333.2,233.6 335,231.3 336.9,228.9 338.8,226.5 340.7,224 342.6,221.6 344.5,219.3 346.4,217.2 348.3,215.5 350.1,214.5" fill="none" stroke="#00e4e4" stroke-width="0.6" stroke-opacity="0.8"/>
<polyline points="310.9,248.2 312.8,248.1 314.6,247.7 316.5,247.1 318.4,246.2 320.2,245.1 322.1,243.8 323.9,242.2 325.8,240.4 327.6,238.5 329.5,236.4 331.3,234.1 333.2,231.8 335.1,229.3 336.9,226.8 338.8,224.2 340.6,221.8 342.5,219.4 344.3,217.3 346.2,215.5 348,214.5" fill="none" stroke="#00e4e4" stroke-width="0.6" stroke-opacity="0.8"/>
<polyline points="311.3,251.4 313.3,251.3 315.3,250.9 317.3,250.2 319.4,249.2 321.4,248 323.4,246.6 325.4,244.9 327.5,242.9 329.5,240.8 331.5,238.5 333.5,236 335.5,233.4 337.6,230.7 339.6,227.9 341.6,225.2 343.6,222.5 345.7,219.9 347.7,217.5 349.7,215.6 351.7,214.5" fill="none" stroke="#ffb0a0" stroke-width="0.8" stroke-opacity="0.4"/>
<polyline points="311.4,253.6 313.3,253.4 315.3,253 317.2,252.3 319.2,251.3 321.2,250 323.1,248.4 325.1,246.6 327,244.6 329,242.3 331,239.9 332.9,237.3 334.9,234.5 336.9,231.6 338.8,228.7 340.8,225.8 342.7,222.9 344.7,220.2 346.7,217.7 348.6,215.7 350.6,214.5" fill="none" stroke="#00e4e4" stroke-width="0.6" stroke-opacity="0.55"/>
<polyline points="311.7,257.2 313.7,257 315.7,256.5 317.7,255.7 319.7,254.6 321.7,253.2 323.7,251.5 325.7,249.6 327.7,247.4 329.7,244.9 331.7,242.2 333.7,239.4 335.7,236.3 337.6,233.2 339.6,230 341.6,226.8 343.6,223.7 345.6,220.7 347.6,218 349.6,215.8 351.6,214.5" fill="none" stroke="#ffb0a0" stroke-width="0.6" stroke-opacity="0.55"/>
<polyline points="311,257.7 313,257.5 315.1,257.1 317.1,256.3 319.1,255.1 321.1,253.7 323.2,252 325.2,250 327.2,247.8 329.2,245.3 331.3,242.6 333.3,239.7 335.3,236.6 337.3,233.5 339.3,230.2 341.4,227 343.4,223.8 345.4,220.8 347.4,218.1 349.5,215.8 351.5,214.5" fill="none" stroke="#f4a23c" stroke-width="0.8" stroke-opacity="0.8"/>
<polyline points="312.3,261.8 314.2,261.6 316.1,261.1 318,260.2 319.9,259 321.8,257.5 323.8,255.6 325.7,253.4 327.6,250.9 329.5,248.2 331.4,245.2 333.3,242.1 335.2,238.7 337.1,235.3 339,231.7 340.9,228.2 342.8,224.7 344.7,221.4 346.6,218.4 348.5,215.9 350.4,214.5" fill="none" stroke="#ffb0a0" stroke-width="0.8" stroke-opacity="0.8"/>
<polyline points="310.9,262.9 312.6,262.7 314.4,262.2 316.2,261.3 318,260 319.8,258.4 321.6,256.5 323.4,254.3 325.2,251.8 327,249 328.7,245.9 330.5,242.7 332.3,239.3 334.1,235.7 335.9,232.1 337.7,228.5 339.5,224.9 341.3,221.6 343.1,218.5 344.9,216 346.6,214.5" fill="none" stroke="#f6b06a" stroke-width="0.8" stroke-opacity="0.4"/>
<polyline points="311,265.2 313.1,265 315.1,264.4 317.1,263.5 319.2,262.2 321.2,260.5 323.2,258.5 325.2,256.1 327.3,253.5 329.3,250.6 331.3,247.4 333.4,244 335.4,240.4 337.4,236.7 339.4,232.9 341.5,229.2 343.5,225.4 345.5,221.9 347.5,218.7 349.6,216 351.6,214.5" fill="none" stroke="#f4a23c" stroke-width="0.8" stroke-opacity="0.4"/>
<polyline points="311,268.5 313,268.3 315.1,267.7 317.1,266.7 319.1,265.3 321.2,263.5 323.2,261.4 325.3,258.9 327.3,256.1 329.3,252.9 331.4,249.6 333.4,245.9 335.5,242.1 337.5,238.2 339.5,234.2 341.6,230.1 343.6,226.1 345.7,222.4 347.7,219 349.7,216.1 351.8,214.5" fill="none" stroke="#f4a23c" stroke-width="0.8" stroke-opacity="0.4"/>
<polyline points="312.4,272.6 314.3,272.4 316.1,271.8 318,270.7 319.9,269.2 321.7,267.3 323.6,265 325.5,262.3 327.4,259.3 329.2,255.9 331.1,252.3 333,248.4 334.8,244.3 336.7,240 338.6,235.7 340.4,231.3 342.3,227.1 344.2,223 346,219.3 347.9,216.3 349.8,214.5" fill="none" stroke="#78b4e6" stroke-width="0.8" stroke-opacity="0.55"/>
<polyline points="311.7,273.1 313.4,272.9 315.2,272.3 316.9,271.2 318.6,269.7 320.4,267.7 322.1,265.4 323.9,262.7 325.6,259.6 327.4,256.3 329.1,252.6 330.8,248.7 332.6,244.5 334.3,240.2 336.1,235.9 337.8,231.5 339.6,227.2 341.3,223.1 343.1,219.3 344.8,216.3 346.5,214.5" fill="none" stroke="#f4a23c" stroke-width="0.6" stroke-opacity="0.8"/>
<polyline points="311.3,274.3 313.2,274.1 315.1,273.4 316.9,272.3 318.8,270.7 320.7,268.8 322.6,266.4 324.4,263.6 326.3,260.5 328.2,257.1 330,253.3 331.9,249.3 333.8,245.1 335.7,240.7 337.5,236.3 339.4,231.8 341.3,227.4 343.1,223.2 345,219.4 346.9,216.3 348.7,214.5" fill="none" stroke="#ffb0a0" stroke-width="0.6" stroke-opacity="0.8"/>
<polyline points="310.9,279.5 312.7,279.2 314.4,278.5 316.1,277.3 317.9,275.6 319.6,273.5 321.4,270.9 323.1,267.9 324.8,264.5 326.6,260.8 328.3,256.7 330,252.3 331.8,247.8 333.5,243 335.2,238.2 337,233.3 338.7,228.5 340.5,224 342.2,219.9 343.9,216.5 345.7,214.5" fill="none" stroke="#00e4e4" stroke-width="1.0" stroke-opacity="0.8"/>
<polyline points="311,279.5 313,279.2 315.1,278.5 317.1,277.3 319.1,275.6 321.1,273.5 323.1,270.9 325.2,267.9 327.2,264.5 329.2,260.8 331.2,256.7 333.3,252.3 335.3,247.8 337.3,243 339.3,238.2 341.3,233.3 343.4,228.5 345.4,224 347.4,219.9 349.4,216.5 351.4,214.5" fill="none" stroke="#78b4e6" stroke-width="1.0" stroke-opacity="0.4"/>
<polyline points="311.7,282.5 313.7,282.3 315.7,281.5 317.7,280.2 319.7,278.5 321.7,276.2 323.7,273.6 325.7,270.4 327.7,266.9 329.6,262.9 331.6,258.7 333.6,254.1 335.6,249.3 337.6,244.3 339.6,239.3 341.6,234.2 343.6,229.2 345.6,224.4 347.6,220.1 349.6,216.6 351.6,214.5" fill="none" stroke="#ffb0a0" stroke-width="1.0" stroke-opacity="0.8"/>
<polyline points="311.1,287.2 312.9,287 314.7,286.1 316.4,284.8 318.2,282.9 320,280.5 321.7,277.6 323.5,274.3 325.2,270.5 327,266.3 328.8,261.7 330.5,256.9 332.3,251.7 334,246.4 335.8,241 337.6,235.5 339.3,230.2 341.1,225.1 342.8,220.5 344.6,216.7 346.4,214.5" fill="none" stroke="#ff8c1a" stroke-width="0.6" stroke-opacity="0.4"/>
<polyline points="311.1,289.3 312.9,289 314.8,288.2 316.6,286.8 318.5,284.8 320.3,282.4 322.1,279.4 324,276 325.8,272.1 327.7,267.8 329.5,263.1 331.4,258.1 333.2,252.8 335.1,247.3 336.9,241.7 338.8,236.1 340.6,230.6 342.5,225.4 344.3,220.7 346.2,216.8 348,214.5" fill="none" stroke="#ff8c1a" stroke-width="0.8" stroke-opacity="0.55"/>
<polyline points="312.4,291.2 314.2,290.9 315.9,290.1 317.6,288.6 319.4,286.7 321.1,284.1 322.8,281.1 324.6,277.6 326.3,273.6 328,269.1 329.8,264.3 331.5,259.2 333.2,253.8 335,248.2 336.7,242.4 338.4,236.7 340.2,231.1 341.9,225.7 343.6,220.8 345.4,216.8 347.1,214.5" fill="none" stroke="#ffb0a0" stroke-width="0.8" stroke-opacity="0.4"/>
<polyline points="311.3,293.9 313.3,293.6 315.3,292.7 317.3,291.2 319.3,289.2 321.3,286.6 323.3,283.4 325.3,279.7 327.3,275.6 329.3,271 331.3,266.1 333.3,260.7 335.4,255.1 337.4,249.3 339.4,243.4 341.4,237.5 343.4,231.6 345.4,226.1 347.4,221.1 349.4,216.9 351.4,214.5" fill="none" stroke="#f6b06a" stroke-width="0.8" stroke-opacity="0.55"/>
<polyline points="312.3,295.8 314.1,295.5 315.9,294.6 317.7,293.1 319.5,291 321.3,288.3 323.1,285.1 325,281.4 326.8,277.1 328.6,272.4 330.4,267.3 332.2,261.9 334,256.1 335.8,250.2 337.6,244.1 339.4,238 341.2,232.1 343,226.4 344.9,221.2 346.7,217 348.5,214.5" fill="none" stroke="#f4a23c" stroke-width="0.8" stroke-opacity="0.55"/>
<polyline points="311.8,296.5 313.5,296.2 315.3,295.3 317,293.8 318.8,291.6 320.5,288.9 322.3,285.7 324,281.9 325.8,277.6 327.5,272.9 329.3,267.8 331,262.3 332.8,256.5 334.5,250.5 336.3,244.4 338,238.2 339.8,232.2 341.5,226.5 343.3,221.3 345,217 346.8,214.5" fill="none" stroke="#ffb0a0" stroke-width="0.6" stroke-opacity="0.55"/>
<polyline points="310.9,299 312.7,298.7 314.4,297.7 316.2,296.2 318,294 319.8,291.2 321.6,287.8 323.4,284 325.2,279.5 326.9,274.7 328.7,269.4 330.5,263.7 332.3,257.8 334.1,251.6 335.9,245.3 337.6,238.9 339.4,232.7 341.2,226.8 343,221.5 344.8,217.1 346.6,214.5" fill="none" stroke="#ffb0a0" stroke-width="0.8" stroke-opacity="0.55"/>
<polyline points="311.5,303.1 313.2,302.8 314.9,301.8 316.6,300.1 318.2,297.8 319.9,294.9 321.6,291.4 323.3,287.3 324.9,282.7 326.6,277.6 328.3,272.1 330,266.1 331.6,259.9 333.3,253.4 335,246.8 336.7,240.1 338.3,233.6 340,227.4 341.7,221.8 343.4,217.2 345,214.5" fill="none" stroke="#f4a23c" stroke-width="1.0" stroke-opacity="0.55"/>
<polyline points="311.9,303.8 313.7,303.5 315.5,302.5 317.2,300.8 319,298.5 320.8,295.5 322.5,292 324.3,287.9 326.1,283.2 327.8,278.1 329.6,272.5 331.4,266.5 333.1,260.2 334.9,253.7 336.7,247 338.4,240.3 340.2,233.8 342,227.5 343.7,221.9 345.5,217.2 347.3,214.5" fill="none" stroke="#f6b06a" stroke-width="1.0" stroke-opacity="0.8"/>
<polyline points="312.4,307.7 314.2,307.3 316.1,306.3 317.9,304.5 319.7,302.1 321.6,299.1 323.4,295.4 325.2,291.1 327.1,286.2 328.9,280.9 330.7,275 332.5,268.8 334.4,262.2 336.2,255.4 338,248.4 339.9,241.5 341.7,234.6 343.5,228.1 345.3,222.2 347.2,217.3 349,214.5" fill="none" stroke="#78b4e6" stroke-width="0.6" stroke-opacity="0.55"/>
<polyline points="311.4,310.5 313.3,310.1 315.2,309 317.1,307.2 319,304.8 321,301.6 322.9,297.8 324.8,293.4 326.7,288.4 328.6,282.8 330.5,276.8 332.4,270.4 334.4,263.6 336.3,256.6 338.2,249.4 340.1,242.3 342,235.2 343.9,228.5 345.8,222.4 347.8,217.4 349.7,214.5" fill="none" stroke="#f4a23c" stroke-width="0.8" stroke-opacity="0.4"/>
<polyline points="312.4,311.3 314.1,311 315.7,309.9 317.4,308.1 319,305.6 320.7,302.4 322.3,298.6 324,294.1 325.6,289 327.3,283.5 329,277.4 330.6,270.9 332.3,264.1 333.9,257 335.6,249.8 337.2,242.5 338.9,235.4 340.5,228.6 342.2,222.5 343.9,217.4 345.5,214.5" fill="none" stroke="#00e4e4" stroke-width="0.8" stroke-opacity="0.4"/>
<polyline points="311.7,315.1 313.5,314.8 315.3,313.6 317.1,311.8 318.9,309.2 320.7,305.8 322.4,301.9 324.2,297.2 326,292 327.8,286.2 329.6,279.9 331.4,273.1 333.2,266 335,258.7 336.8,251.1 338.6,243.6 340.3,236.2 342.1,229.2 343.9,222.8 345.7,217.6 347.5,214.5" fill="none" stroke="#f6b06a" stroke-width="0.6" stroke-opacity="0.4"/>
<polyline points="311.4,315.8 313.3,315.4 315.2,314.3 317.1,312.4 319,309.8 320.9,306.4 322.8,302.4 324.7,297.7 326.7,292.5 328.6,286.6 330.5,280.3 332.4,273.5 334.3,266.3 336.2,258.9 338.1,251.4 340,243.8 341.9,236.4 343.9,229.3 345.8,222.9 347.7,217.6 349.6,214.5" fill="none" stroke="#f4a23c" stroke-width="0.6" stroke-opacity="0.8"/>
<polyline points="311.7,320 313.4,319.6 315.1,318.4 316.7,316.5 318.4,313.8 320.1,310.3 321.8,306.1 323.4,301.2 325.1,295.7 326.8,289.6 328.5,283 330.1,276 331.8,268.5 333.5,260.8 335.2,252.9 336.8,245 338.5,237.3 340.2,229.9 341.9,223.2 343.5,217.7 345.2,214.5" fill="none" stroke="#f4a23c" stroke-width="0.6" stroke-opacity="0.55"/>
<polyline points="311,320.7 313,320.3 315,319.1 317,317.1 319,314.4 321,310.9 323,306.7 325,301.8 327.1,296.3 329.1,290.1 331.1,283.5 333.1,276.4 335.1,268.9 337.1,261.1 339.1,253.2 341.2,245.2 343.2,237.4 345.2,230 347.2,223.3 349.2,217.7 351.2,214.5" fill="none" stroke="#f4a23c" stroke-width="1.0" stroke-opacity="0.4"/>
<polyline points="311.7,323.6 313.4,323.2 315.1,322 316.8,320 318.5,317.1 320.2,313.5 321.8,309.2 323.5,304.2 325.2,298.5 326.9,292.2 328.6,285.4 330.2,278.1 331.9,270.4 333.6,262.4 335.3,254.2 337,246.1 338.7,238.1 340.3,230.4 342,223.5 343.7,217.8 345.4,214.5" fill="none" stroke="#78b4e6" stroke-width="0.8" stroke-opacity="0.8"/>
<polyline points="329.5,292.4 329.7,290.8 330.1,288.2 330.6,285 331.2,281.3 331.9,277.3 332.6,272.9 333.4,268.2 334.4,263.2 335.7,258 337.2,252.5 338.9,246.8 340.9,240.9 343.2,234.8 346,228.5 349.7,222 354.4,215.3" fill="none" stroke="#e61e8c" stroke-width="1.1" stroke-opacity="0.6"/>
<polyline points="328.9,296.1 329.1,294.4 329.6,291.7 330.1,288.3 330.7,284.5 331.3,280.2 332.1,275.6 332.9,270.7 333.9,265.5 335.1,260 336.6,254.3 338.4,248.3 340.4,242.1 342.8,235.7 345.7,229.1 349.5,222.3 354.3,215.3" fill="none" stroke="#e61e8c" stroke-width="0.8" stroke-opacity="0.85"/>
<polyline points="325.3,315.2 325.7,313.1 326.3,309.8 327.1,305.6 327.9,300.9 328.8,295.6 329.8,289.9 330.7,283.8 331.7,277.4 332.9,270.6 334.3,263.5 336,256.1 338.3,248.5 340.9,240.5 344.2,232.4 348.4,224 354.3,215.3" fill="none" stroke="#e61e8c" stroke-width="1.1" stroke-opacity="0.85"/>
<polyline points="321.7,332.2 322.2,329.8 323,325.8 324,321 325.1,315.4 326.3,309.3 327.5,302.6 328.7,295.5 329.9,287.9 331.1,280 332.5,271.7 334.2,263 336.5,254.1 339.3,244.8 342.8,235.3 347.4,225.4 354.2,215.3" fill="none" stroke="#e61e8c" stroke-width="0.8" stroke-opacity="0.85"/>
<polyline points="329.5,290.1 329.8,288.6 330.2,286.1 330.6,282.9 331.2,279.4 331.8,275.4 332.6,271.2 333.4,266.6 334.5,261.8 335.7,256.7 337.2,251.4 338.9,245.9 340.9,240.1 343.2,234.2 346,228.1 349.7,221.8 354.2,215.3" fill="none" stroke="#e61e8c" stroke-width="1.5" stroke-opacity="0.6"/>
<polyline points="329.8,287.4 330.1,285.9 330.4,283.5 330.9,280.5 331.5,277 332.1,273.2 332.8,269.1 333.7,264.7 334.8,260.1 336,255.2 337.5,250.1 339.2,244.7 341.2,239.2 343.4,233.5 346.2,227.6 349.7,221.6 354.2,215.3" fill="none" stroke="#e61e8c" stroke-width="0.8" stroke-opacity="1.0"/>
<polyline points="327.5,300.7 327.8,298.9 328.3,296 328.9,292.5 329.5,288.4 330.2,283.9 331,279.1 331.8,273.8 332.9,268.3 334,262.5 335.5,256.5 337.3,250.2 339.5,243.6 341.9,236.9 344.9,229.9 348.9,222.7 354.1,215.3" fill="none" stroke="#e61e8c" stroke-width="0.8" stroke-opacity="1.0"/>
<polyline points="322.7,325.4 323.2,323.1 323.9,319.4 324.8,314.9 325.8,309.6 326.8,303.8 327.9,297.5 329,290.8 330.1,283.7 331.3,276.2 332.7,268.4 334.5,260.3 336.8,251.8 339.6,243.1 343,234.1 347.5,224.9 354.1,215.3" fill="none" stroke="#e61e8c" stroke-width="1.1" stroke-opacity="1.0"/>
<polyline points="328.8,291.9 329,290.3 329.4,287.7 329.9,284.6 330.5,280.9 331.2,276.9 331.9,272.5 332.8,267.8 333.8,262.9 335.1,257.7 336.6,252.3 338.4,246.6 340.4,240.7 342.7,234.7 345.6,228.4 349.3,222 354,215.3" fill="none" stroke="#e61e8c" stroke-width="0.8" stroke-opacity="0.6"/>
<polyline points="327.1,301.4 327.4,299.6 327.9,296.7 328.5,293.1 329.2,289 329.9,284.5 330.7,279.6 331.6,274.3 332.6,268.8 333.8,262.9 335.3,256.8 337.1,250.5 339.2,243.9 341.7,237 344.7,230 348.7,222.8 354,215.3" fill="none" stroke="#e080e8" stroke-width="0.8" stroke-opacity="0.85"/>
<polyline points="329.6,286.1 329.9,284.7 330.2,282.3 330.7,279.3 331.3,276 331.9,272.2 332.7,268.2 333.5,263.9 334.6,259.3 335.9,254.5 337.4,249.5 339.1,244.2 341,238.8 343.3,233.2 346,227.4 349.6,221.5 354,215.3" fill="none" stroke="#e61e8c" stroke-width="1.5" stroke-opacity="1.0"/>
<polyline points="327.2,299.6 327.5,297.8 327.9,295 328.5,291.5 329.1,287.5 329.8,283 330.6,278.2 331.5,273.1 332.5,267.6 333.7,261.9 335.2,255.9 337.1,249.7 339.2,243.3 341.7,236.6 344.7,229.7 348.6,222.6 353.9,215.3" fill="none" stroke="#3c82d2" stroke-width="1.5" stroke-opacity="1.0"/>
<polyline points="325.4,309.3 325.7,307.3 326.3,304.2 327,300.3 327.8,295.8 328.6,290.9 329.4,285.5 330.4,279.8 331.4,273.7 332.6,267.3 334,260.6 335.9,253.7 338.1,246.5 340.7,239 343.9,231.4 348.1,223.5 353.9,215.3" fill="none" stroke="#e61e8c" stroke-width="1.1" stroke-opacity="0.85"/>
<polyline points="321.9,326.6 322.4,324.3 323.1,320.5 324,315.9 324.9,310.6 326,304.7 327.1,298.4 328.2,291.6 329.4,284.4 330.6,276.9 332,269 333.8,260.7 336.1,252.2 339,243.4 342.4,234.3 347,225 353.8,215.3" fill="none" stroke="#d8207a" stroke-width="0.8" stroke-opacity="1.0"/>
<polyline points="324.3,312.8 324.6,310.8 325.2,307.5 325.9,303.4 326.7,298.8 327.6,293.6 328.5,288.1 329.5,282.1 330.5,275.8 331.7,269.2 333.2,262.3 335,255.1 337.3,247.6 340,239.9 343.3,232 347.6,223.8 353.7,215.3" fill="none" stroke="#c050e0" stroke-width="1.1" stroke-opacity="0.85"/>
<polyline points="326.1,302.2 326.4,300.4 326.9,297.5 327.5,293.9 328.2,289.7 328.9,285.2 329.7,280.2 330.6,274.9 331.7,269.3 332.9,263.4 334.4,257.2 336.3,250.8 338.5,244.1 341,237.3 344.1,230.2 348.1,222.8 353.7,215.3" fill="none" stroke="#44c874" stroke-width="0.8" stroke-opacity="0.85"/>
<polyline points="318.8,340.9 319.3,338.3 320,334.1 321.1,328.9 322.2,322.9 323.4,316.3 324.7,309.1 326.1,301.5 327.5,293.3 328.8,284.8 330.3,275.9 332.1,266.6 334.3,257 337.4,247 341.1,236.8 346,226.2 353.6,215.3" fill="none" stroke="#d890f0" stroke-width="0.7" stroke-opacity="0.8"/>
<polyline points="322.9,319 323.2,316.9 323.9,313.4 324.6,309.1 325.5,304.1 326.5,298.7 327.5,292.7 328.5,286.4 329.6,279.7 330.8,272.7 332.3,265.3 334.1,257.7 336.4,249.7 339.2,241.5 342.6,233 347.1,224.3 353.6,215.3" fill="none" stroke="#00e4e4" stroke-width="1.1" stroke-opacity="1.0"/>
<polyline points="321.4,326.4 321.8,324.1 322.5,320.4 323.4,315.7 324.3,310.5 325.4,304.6 326.5,298.3 327.6,291.5 328.8,284.3 330,276.8 331.5,268.9 333.3,260.7 335.6,252.2 338.5,243.4 342,234.3 346.6,224.9 353.6,215.3" fill="none" stroke="#d8207a" stroke-width="1.1" stroke-opacity="1.0"/>
<polyline points="324.2,311.3 324.5,309.3 325.1,306.1 325.8,302.1 326.6,297.5 327.4,292.5 328.3,287 329.3,281.1 330.3,274.9 331.6,268.4 333,261.6 334.9,254.5 337.2,247.2 339.9,239.6 343.1,231.7 347.4,223.6 353.6,215.3" fill="none" stroke="#e61e8c" stroke-width="1.5" stroke-opacity="0.85"/>
<polyline points="321.6,324.5 322.1,322.3 322.7,318.6 323.6,314 324.5,308.8 325.5,303.1 326.6,296.9 327.7,290.2 328.8,283.2 330.1,275.7 331.5,268 333.3,259.9 335.7,251.5 338.6,242.9 342.1,234 346.6,224.8 353.5,215.3" fill="none" stroke="#e61e8c" stroke-width="1.5" stroke-opacity="1.0"/>
<polyline points="318.2,343 318.6,340.4 319.4,336.1 320.4,330.8 321.5,324.7 322.8,318 324.1,310.7 325.5,302.9 326.9,294.6 328.3,286 329.8,276.9 331.6,267.5 333.9,257.7 336.9,247.5 340.7,237.1 345.7,226.4 353.5,215.3" fill="none" stroke="#d890f0" stroke-width="0.7" stroke-opacity="0.8"/>
<polyline points="321.6,322.5 322,320.3 322.6,316.7 323.4,312.2 324.3,307.1 325.3,301.5 326.4,295.3 327.5,288.8 328.6,281.9 329.9,274.6 331.3,267 333.2,259.1 335.5,250.9 338.4,242.4 341.9,233.6 346.5,224.6 353.3,215.3" fill="none" stroke="#ff2a2a" stroke-width="0.8" stroke-opacity="1.0"/>
<polyline points="320.1,330.4 320.5,328.1 321.2,324.2 322.1,319.4 323.1,313.9 324.1,307.9 325.3,301.3 326.5,294.3 327.7,286.8 329,279 330.5,270.8 332.3,262.3 334.7,253.5 337.6,244.4 341.3,235 346,225.3 353.3,215.3" fill="none" stroke="#ff2a2a" stroke-width="1.5" stroke-opacity="0.6"/>
<polyline points="325.1,301.6 325.4,299.9 325.9,296.9 326.5,293.4 327.2,289.2 327.9,284.7 328.7,279.8 329.7,274.5 330.7,268.9 332,263.1 333.5,256.9 335.4,250.6 337.7,244 340.3,237.1 343.4,230.1 347.5,222.8 353.2,215.3" fill="none" stroke="#ff2a2a" stroke-width="0.8" stroke-opacity="0.85"/>
<polyline points="318.7,337.1 319.1,334.6 319.9,330.5 320.8,325.4 321.8,319.6 322.9,313.2 324.1,306.3 325.4,298.8 326.8,291 328.1,282.7 329.6,274 331.4,265 333.8,255.7 336.9,246.1 340.6,236.1 345.5,225.9 353.2,215.3" fill="none" stroke="#f0b0d0" stroke-width="0.7" stroke-opacity="0.8"/>
<polyline points="319.2,332.2 319.6,329.8 320.3,325.8 321.2,321 322.1,315.4 323.2,309.3 324.3,302.6 325.6,295.5 326.8,287.9 328.2,280 329.7,271.7 331.5,263 333.9,254.1 336.9,244.8 340.6,235.3 345.5,225.4 353,215.3" fill="none" stroke="#e61e8c" stroke-width="0.8" stroke-opacity="0.6"/>
<polyline points="319.4,329.6 319.8,327.3 320.5,323.4 321.3,318.7 322.3,313.2 323.3,307.2 324.4,300.7 325.6,293.7 326.9,286.3 328.2,278.6 329.7,270.4 331.5,262 334,253.2 337,244.2 340.6,234.8 345.4,225.2 352.9,215.3" fill="none" stroke="#ff2a2a" stroke-width="0.8" stroke-opacity="1.0"/>
<polyline points="317,343.2 317.4,340.6 318.1,336.3 318.9,330.9 320,324.9 321.1,318.1 322.4,310.8 323.7,303 325.2,294.8 326.6,286.1 328.2,277 330,267.5 332.4,257.7 335.5,247.6 339.4,237.1 344.6,226.4 352.8,215.3" fill="none" stroke="#e0a0f0" stroke-width="0.7" stroke-opacity="0.8"/>
<polyline points="315,357.9 315.3,355 315.9,350.2 316.6,344.2 317.6,337.5 318.7,329.9 320.1,321.8 321.5,313.1 323.1,303.9 324.8,294.2 326.5,284.1 328.4,273.5 330.7,262.6 333.9,251.3 338.1,239.7 343.6,227.7 352.6,215.3" fill="none" stroke="#e0a0f0" stroke-width="0.7" stroke-opacity="0.8"/>
<polyline points="314.3,362.9 314.7,359.8 315.2,354.9 315.9,348.7 316.7,341.7 317.9,333.9 319.2,325.5 320.7,316.5 322.3,307 324,297 325.8,286.5 327.8,275.6 330.1,264.3 333.3,252.6 337.6,240.5 343.2,228.1 352.5,215.3" fill="none" stroke="#f0b0d0" stroke-width="0.7" stroke-opacity="0.8"/>
<polyline points="324.7,293.2 324.9,291.6 325.4,288.9 325.9,285.7 326.6,282 327.3,277.9 328.1,273.5 329.1,268.7 330.2,263.7 331.5,258.4 333.2,252.9 335.1,247.1 337.3,241.1 339.8,235 342.9,228.6 347,222.1 352.5,215.3" fill="none" stroke="#ff2a2a" stroke-width="0.8" stroke-opacity="1.0"/>
<polyline points="318.6,327.8 319,325.5 319.6,321.7 320.3,317 321.2,311.7 322.2,305.8 323.3,299.3 324.5,292.5 325.8,285.2 327.1,277.6 328.7,269.6 330.6,261.3 333,252.6 336.1,243.7 339.8,234.5 344.7,225.1 352.4,215.3" fill="none" stroke="#f07060" stroke-width="1.5" stroke-opacity="1.0"/>
<polyline points="321,310.2 321.3,308.3 321.9,305.1 322.6,301.1 323.4,296.6 324.2,291.6 325.2,286.2 326.2,280.4 327.3,274.3 328.7,267.8 330.2,261.1 332.2,254.1 334.7,246.8 337.5,239.3 340.9,231.5 345.5,223.5 352.2,215.3" fill="none" stroke="#ff8c1a" stroke-width="0.8" stroke-opacity="0.6"/>
<polyline points="324.8,288.5 325,287 325.4,284.5 326,281.5 326.6,278 327.3,274.1 328.2,270 329.1,265.5 330.3,260.8 331.7,255.8 333.4,250.6 335.3,245.2 337.4,239.6 339.8,233.8 342.8,227.8 347,221.7 352.2,215.3" fill="none" stroke="#f07060" stroke-width="1.1" stroke-opacity="0.6"/>
<polyline points="322.1,301.5 322.4,299.7 323,296.8 323.6,293.2 324.3,289.1 325.1,284.6 326,279.7 327,274.4 328.1,268.8 329.4,263 331.1,256.9 333.1,250.5 335.5,243.9 338.2,237.1 341.4,230 345.9,222.8 352.1,215.3" fill="none" stroke="#ff2a2a" stroke-width="0.8" stroke-opacity="0.85"/>
<polyline points="317,334.1 317.3,331.6 317.9,327.6 318.7,322.7 319.5,317 320.5,310.8 321.7,304 322.9,296.7 324.3,289.1 325.7,281 327.3,272.6 329.2,263.8 331.7,254.7 334.9,245.3 338.8,235.6 343.9,225.6 352.1,215.3" fill="none" stroke="#f0b0d0" stroke-width="0.7" stroke-opacity="0.8"/>
<polyline points="316.3,332.7 316.6,330.2 317.1,326.3 317.8,321.4 318.7,315.8 319.6,309.6 320.7,302.9 322,295.8 323.3,288.2 324.8,280.2 326.4,271.9 328.4,263.2 330.9,254.2 334.2,244.9 338.1,235.3 343.2,225.5 351.6,215.3" fill="none" stroke="#ff9a20" stroke-width="1.1" stroke-opacity="1.0"/>
<polyline points="319.1,312.2 319.4,310.3 319.9,307 320.6,302.9 321.4,298.3 322.3,293.2 323.3,287.7 324.3,281.8 325.5,275.5 326.9,268.9 328.5,262.1 330.6,254.9 333.1,247.5 336.1,239.8 339.6,231.9 344.4,223.7 351.6,215.3" fill="none" stroke="#f6b06a" stroke-width="0.8" stroke-opacity="1.0"/>
<polyline points="318.4,316.4 318.7,314.3 319.2,310.9 319.9,306.7 320.7,301.9 321.7,296.6 322.7,290.8 323.8,284.6 325,278.1 326.4,271.3 328,264.1 330.1,256.6 332.6,248.9 335.7,240.8 339.3,232.6 344.1,224.1 351.6,215.3" fill="none" stroke="#ff9a20" stroke-width="1.1" stroke-opacity="0.6"/>
<polyline points="315.6,336.7 315.9,334.2 316.4,330.1 317.1,325.1 317.9,319.3 318.9,312.9 320,306 321.3,298.6 322.7,290.7 324.1,282.5 325.8,273.9 327.8,264.9 330.3,255.6 333.7,246 337.6,236 342.9,225.8 351.5,215.3" fill="none" stroke="#d890f0" stroke-width="0.7" stroke-opacity="0.8"/>
<polyline points="318.8,313.3 319.1,311.3 319.6,308 320.3,303.9 321.1,299.2 322,294.1 323,288.5 324.1,282.5 325.3,276.2 326.6,269.5 328.3,262.6 330.3,255.3 332.9,247.8 335.9,240.1 339.4,232 344.3,223.8 351.5,215.3" fill="none" stroke="#00e4e4" stroke-width="1.1" stroke-opacity="0.6"/>
<polyline points="319.1,309.9 319.4,308 319.9,304.8 320.6,300.9 321.4,296.3 322.3,291.4 323.3,286 324.3,280.2 325.5,274.1 326.9,267.7 328.5,260.9 330.6,254 333.2,246.7 336.1,239.2 339.6,231.5 344.4,223.5 351.4,215.3" fill="none" stroke="#ff8c1a" stroke-width="1.5" stroke-opacity="0.6"/>
<polyline points="318.8,311.8 319.1,309.8 319.6,306.5 320.3,302.5 321.1,297.9 322,292.9 323,287.4 324,281.5 325.2,275.2 326.6,268.7 328.3,261.8 330.3,254.7 332.9,247.3 335.9,239.7 339.4,231.8 344.2,223.7 351.4,215.3" fill="none" stroke="#3c82d2" stroke-width="1.1" stroke-opacity="0.85"/>
<polyline points="318.6,313 318.9,311 319.4,307.7 320.1,303.6 320.9,299 321.8,293.8 322.8,288.2 323.9,282.3 325.1,276 326.5,269.4 328.1,262.4 330.2,255.2 332.8,247.7 335.7,240 339.3,232 344.1,223.8 351.4,215.3" fill="none" stroke="#f4a23c" stroke-width="1.5" stroke-opacity="1.0"/>
<polyline points="322.3,290.6 322.6,289 323.1,286.5 323.6,283.4 324.3,279.8 325.1,275.8 326,271.5 327,266.9 328.2,262.1 329.6,257 331.4,251.6 333.4,246.1 335.6,240.3 338.2,234.3 341.3,228.2 345.7,221.8 351.4,215.3" fill="none" stroke="#f4a23c" stroke-width="1.1" stroke-opacity="0.85"/>
<polyline points="316.2,326.8 316.5,324.5 317,320.8 317.6,316.1 318.4,310.8 319.3,305 320.5,298.6 321.7,291.8 323,284.6 324.4,277 326.1,269.1 328.1,260.9 330.7,252.3 334,243.5 337.8,234.4 343,225 351.2,215.3" fill="none" stroke="#44c874" stroke-width="1.1" stroke-opacity="1.0"/>
<polyline points="318.2,309.2 318.5,307.3 319.1,304.1 319.7,300.2 320.5,295.8 321.4,290.8 322.4,285.5 323.5,279.7 324.7,273.7 326.1,267.3 327.8,260.6 329.9,253.7 332.5,246.5 335.5,239 339,231.4 343.8,223.5 351,215.3" fill="none" stroke="#f4a23c" stroke-width="0.8" stroke-opacity="1.0"/>
<polyline points="320.1,297.8 320.4,296.1 320.9,293.3 321.5,289.9 322.3,286 323.1,281.6 324,276.9 325,271.9 326.2,266.6 327.7,261 329.4,255.1 331.5,249 334,242.7 336.7,236.2 340,229.4 344.6,222.5 351,215.3" fill="none" stroke="#f6b06a" stroke-width="1.5" stroke-opacity="1.0"/>
<polyline points="313.5,349.7 313.7,346.9 314,342.3 314.5,336.8 315.2,330.4 316.1,323.3 317.1,315.6 318.3,307.4 319.8,298.8 321.4,289.6 323.2,280.1 325.3,270.2 327.8,259.9 331.3,249.2 335.7,238.2 341.3,226.9 351,215.3" fill="none" stroke="#d890f0" stroke-width="0.7" stroke-opacity="0.8"/>
<polyline points="315.9,323.2 316.2,321 316.7,317.3 317.3,312.8 318.1,307.7 319,302 320.1,295.9 321.3,289.3 322.6,282.3 324.1,275 325.8,267.3 327.8,259.4 330.5,251.1 333.8,242.5 337.5,233.7 342.7,224.7 350.9,215.3" fill="none" stroke="#44c874" stroke-width="1.5" stroke-opacity="1.0"/>
<polyline points="317.4,310.9 317.7,308.9 318.2,305.7 318.9,301.7 319.7,297.2 320.6,292.1 321.6,286.7 322.7,280.9 323.9,274.7 325.4,268.2 327.1,261.4 329.2,254.3 331.9,247 334.9,239.4 338.4,231.6 343.4,223.6 350.8,215.3" fill="none" stroke="#f6b06a" stroke-width="0.8" stroke-opacity="0.6"/>
<polyline points="312.6,360.3 312.7,357.3 313,352.4 313.3,346.4 313.9,339.5 314.6,331.8 315.5,323.6 316.7,314.7 318.1,305.4 319.8,295.5 321.7,285.2 323.8,274.5 326.4,263.4 329.9,251.9 334.5,240.1 340.4,227.9 350.7,215.3" fill="none" stroke="#e0a0f0" stroke-width="0.7" stroke-opacity="0.8"/>
<polyline points="319.2,298 319.5,296.3 320,293.5 320.6,290.1 321.4,286.1 322.2,281.8 323.1,277.1 324.2,272 325.4,266.7 326.9,261.1 328.7,255.2 330.8,249.1 333.3,242.7 336,236.2 339.4,229.4 344.1,222.5 350.7,215.3" fill="none" stroke="#f6b06a" stroke-width="0.8" stroke-opacity="0.6"/>
<polyline points="321,287.6 321.3,286.1 321.7,283.7 322.3,280.7 323,277.2 323.8,273.4 324.7,269.3 325.8,264.9 327,260.2 328.5,255.3 330.3,250.2 332.3,244.8 334.6,239.3 337.2,233.6 340.3,227.7 344.9,221.6 350.6,215.3" fill="none" stroke="#00e4e4" stroke-width="0.8" stroke-opacity="1.0"/>
<polyline points="316.7,310.1 316.9,308.2 317.4,305 318.1,301 318.9,296.5 319.8,291.5 320.8,286.1 322,280.3 323.2,274.2 324.7,267.8 326.4,261 328.6,254 331.3,246.8 334.3,239.3 337.9,231.5 342.9,223.5 350.5,215.3" fill="none" stroke="#f4a23c" stroke-width="0.8" stroke-opacity="1.0"/>
<polyline points="319.4,293.8 319.7,292.2 320.2,289.5 320.8,286.2 321.5,282.5 322.3,278.4 323.3,273.9 324.3,269.1 325.6,264.1 327.1,258.7 328.9,253.2 331,247.4 333.4,241.3 336.1,235.1 339.4,228.7 344.1,222.1 350.5,215.3" fill="none" stroke="#f4a23c" stroke-width="1.5" stroke-opacity="1.0"/>
<polyline points="317,299.5 317.3,297.8 317.8,295 318.5,291.5 319.2,287.4 320.1,283 321.1,278.2 322.2,273.1 323.5,267.6 325,261.9 326.8,255.9 329,249.7 331.6,243.3 334.5,236.6 337.9,229.7 342.9,222.6 349.9,215.3" fill="none" stroke="#ff9a20" stroke-width="0.8" stroke-opacity="1.0"/>
<polyline points="311.8,351.6 311.9,348.8 312.1,344.2 312.4,338.5 312.8,332 313.4,324.9 314.3,317.1 315.4,308.8 316.8,300 318.5,290.7 320.4,281 322.6,271 325.3,260.5 329,249.7 333.5,238.6 339.4,227.1 349.9,215.3" fill="none" stroke="#f0b0d0" stroke-width="0.7" stroke-opacity="0.8"/>
<polyline points="317.3,295.9 317.6,294.2 318.2,291.5 318.8,288.2 319.5,284.3 320.4,280.1 321.4,275.5 322.5,270.6 323.8,265.4 325.3,259.9 327.2,254.2 329.4,248.2 331.9,242 334.7,235.7 338.1,229.1 343,222.3 349.8,215.3" fill="none" stroke="#ff8c1a" stroke-width="0.8" stroke-opacity="1.0"/>
<polyline points="318.8,286.3 319.1,284.9 319.6,282.5 320.2,279.5 320.9,276.1 321.8,272.4 322.7,268.4 323.8,264 325.1,259.4 326.7,254.6 328.6,249.6 330.7,244.3 333,238.9 335.6,233.3 338.9,227.5 343.6,221.5 349.7,215.3" fill="none" stroke="#f4a23c" stroke-width="0.8" stroke-opacity="0.6"/>
<polyline points="312.2,332.1 312.4,329.7 312.7,325.7 313.2,320.9 313.8,315.3 314.6,309.2 315.6,302.5 316.9,295.4 318.3,287.8 319.9,279.9 321.7,271.6 323.9,263 326.7,254 330.3,244.8 334.5,235.3 340.1,225.4 349.6,215.3" fill="none" stroke="#ff8c1a" stroke-width="1.5" stroke-opacity="0.85"/>
<polyline points="314.8,307.3 315.1,305.4 315.6,302.3 316.3,298.5 317.1,294.1 318,289.2 319.1,284 320.2,278.4 321.5,272.4 323,266.2 324.9,259.7 327.2,252.9 329.9,245.8 333,238.5 336.6,231 341.8,223.3 349.6,215.3" fill="none" stroke="#ff8c1a" stroke-width="0.8" stroke-opacity="0.85"/>
<polyline points="316.1,299.5 316.4,297.7 316.9,294.9 317.6,291.4 318.3,287.4 319.2,283 320.2,278.2 321.4,273 322.7,267.6 324.2,261.9 326.1,255.9 328.3,249.7 330.9,243.2 333.8,236.6 337.3,229.7 342.4,222.6 349.6,215.3" fill="none" stroke="#f4a23c" stroke-width="0.8" stroke-opacity="0.85"/>
<polyline points="354.4,215.3 355.9,214.6 360.6,213 368.3,211.5 379.2,210.5 393.2,210.1 410.3,210 430.5,210 453.8,210 480.2,210 509.7,210 542.3,210" fill="none" stroke="#e61e8c" stroke-width="1.1" />
<polyline points="354.3,215.3 355.9,214.6 360.6,213 368.3,211.4 379.2,210.4 393.2,210 410.3,209.9 430.5,209.9 453.8,209.9 480.2,209.9 509.7,209.9 542.3,209.9" fill="none" stroke="#e61e8c" stroke-width="1.0" />
<polyline points="354.3,215.3 355.9,214.6 360.5,212.8 368.3,211.1 379.2,210 393.2,209.6 410.2,209.4 430.4,209.4 453.7,209.4 480.2,209.4 509.7,209.4 542.3,209.4" fill="none" stroke="#e61e8c" stroke-width="1.1" />
<polyline points="354.2,215.3 355.8,214.6 360.5,213.1 368.2,211.5 379.1,210.6 393.1,210.2 410.2,210.1 430.4,210.1 453.7,210.1 480.1,210.1 509.7,210.1 542.3,210.1" fill="none" stroke="#e61e8c" stroke-width="1.0" />
<polyline points="354.2,215.3 355.8,214.6 360.4,212.9 368.2,211.2 379.1,210.2 393.1,209.7 410.2,209.6 430.4,209.6 453.7,209.6 480.1,209.6 509.7,209.6 542.3,209.6" fill="none" stroke="#e61e8c" stroke-width="1.5" />
<polyline points="354.2,215.3 355.7,214.6 360.4,212.8 368.2,211.2 379.1,210.2 393,209.7 410.1,209.6 430.4,209.6 453.7,209.6 480.1,209.6 509.7,209.6 542.3,209.6" fill="none" stroke="#e61e8c" stroke-width="1.0" />
<polyline points="354.1,215.3 355.7,214.6 360.3,213 368.1,211.5 379,210.5 393,210.1 410.1,210 430.3,209.9 453.7,209.9 480.1,209.9 509.6,209.9 542.3,209.9" fill="none" stroke="#e61e8c" stroke-width="1.0" />
<polyline points="354.1,215.3 355.6,214.6 360.3,212.9 368.1,211.3 379,210.3 393,209.9 410.1,209.7 430.3,209.7 453.6,209.7 480.1,209.7 509.6,209.7 542.3,209.7" fill="none" stroke="#e61e8c" stroke-width="1.1" />
<polyline points="354,215.3 355.6,214.5 360.3,212.6 368.1,210.8 378.9,209.7 392.9,209.3 410.1,209.1 430.3,209.1 453.6,209.1 480.1,209.1 509.6,209.1 542.3,209.1" fill="none" stroke="#e61e8c" stroke-width="1.0" />
<polyline points="354,215.3 355.6,214.6 360.2,212.8 368,211.1 378.9,210.1 392.9,209.7 410,209.5 430.3,209.5 453.6,209.5 480.1,209.5 509.6,209.5 542.3,209.5" fill="none" stroke="#e080e8" stroke-width="1.0" />
<polyline points="354,215.3 355.6,214.6 360.2,212.9 368,211.3 378.9,210.3 392.9,209.9 410,209.8 430.3,209.8 453.6,209.8 480.1,209.8 509.6,209.8 542.3,209.8" fill="none" stroke="#e61e8c" stroke-width="1.5" />
<polyline points="353.9,215.3 355.5,214.6 360.1,213 367.9,211.4 378.8,210.5 392.8,210.1 410,209.9 430.2,209.9 453.6,209.9 480,209.9 509.6,209.9 542.3,209.9" fill="none" stroke="#3c82d2" stroke-width="1.5" />
<polyline points="353.9,215.3 355.5,214.6 360.1,213.1 367.9,211.5 378.8,210.6 392.8,210.2 410,210.1 430.2,210 453.6,210 480,210 509.6,210 542.3,210" fill="none" stroke="#e61e8c" stroke-width="1.1" />
<polyline points="353.8,215.3 355.4,214.6 360,212.9 367.8,211.3 378.7,210.3 392.8,209.9 409.9,209.8 430.1,209.7 453.5,209.7 480,209.7 509.6,209.7 542.3,209.7" fill="none" stroke="#d8207a" stroke-width="1.0" />
<polyline points="353.7,215.3 355.3,214.5 359.9,212.7 367.7,211 378.6,209.9 392.7,209.4 409.8,209.3 430.1,209.3 453.5,209.3 480,209.3 509.6,209.3 542.3,209.3" fill="none" stroke="#c050e0" stroke-width="1.1" />
<polyline points="353.7,215.3 355.2,214.5 359.9,212.7 367.7,211 378.6,209.9 392.6,209.4 409.8,209.3 430.1,209.3 453.4,209.3 479.9,209.3 509.6,209.3 542.3,209.3" fill="none" stroke="#44c874" stroke-width="1.0" />
<polyline points="353.6,215.3 355.2,214.7 359.9,213.1 367.7,211.6 378.6,210.7 392.6,210.3 409.8,210.2 430,210.2 453.4,210.2 479.9,210.2 509.6,210.2 542.3,210.2" fill="none" stroke="#d890f0" stroke-width="1.0" />
<polyline points="353.6,215.3 355.1,214.5 359.8,212.7 367.6,210.9 378.5,209.8 392.6,209.4 409.7,209.2 430,209.2 453.4,209.2 479.9,209.2 509.5,209.2 542.3,209.2" fill="none" stroke="#00e4e4" stroke-width="1.1" />
<polyline points="353.6,215.3 355.1,214.5 359.8,212.6 367.6,210.8 378.5,209.7 392.6,209.2 409.7,209.1 430,209 453.4,209 479.9,209 509.5,209 542.3,209" fill="none" stroke="#d8207a" stroke-width="1.1" />
<polyline points="353.6,215.3 355.1,214.6 359.8,213 367.6,211.4 378.5,210.5 392.5,210.1 409.7,210 430,209.9 453.4,209.9 479.9,209.9 509.5,209.9 542.3,209.9" fill="none" stroke="#e61e8c" stroke-width="1.5" />
<polyline points="353.5,215.3 355.1,214.6 359.7,212.8 367.5,211.1 378.5,210 392.5,209.6 409.7,209.4 430,209.4 453.4,209.4 479.9,209.4 509.5,209.4 542.3,209.4" fill="none" stroke="#e61e8c" stroke-width="1.5" />
<polyline points="353.5,215.3 355,214.6 359.7,212.9 367.5,211.2 378.4,210.2 392.5,209.8 409.7,209.7 429.9,209.6 453.4,209.6 479.9,209.6 509.5,209.6 542.3,209.6" fill="none" stroke="#d890f0" stroke-width="1.0" />
<polyline points="353.3,215.3 354.9,214.5 359.6,212.7 367.4,211 378.3,209.9 392.4,209.5 409.5,209.3 429.9,209.3 453.3,209.3 479.8,209.3 509.5,209.3 542.3,209.3" fill="none" stroke="#ff2a2a" stroke-width="1.0" />
<polyline points="353.3,215.3 354.9,214.5 359.5,212.7 367.4,211 378.3,209.9 392.3,209.5 409.5,209.4 429.8,209.3 453.3,209.3 479.8,209.3 509.5,209.3 542.3,209.3" fill="none" stroke="#ff2a2a" stroke-width="1.5" />
<polyline points="353.2,215.3 354.8,214.6 359.5,212.9 367.3,211.2 378.2,210.2 392.3,209.8 409.5,209.7 429.8,209.7 453.2,209.7 479.8,209.7 509.5,209.7 542.3,209.7" fill="none" stroke="#ff2a2a" stroke-width="1.0" />
<polyline points="353.2,215.3 354.8,214.7 359.4,213.1 367.3,211.6 378.2,210.7 392.3,210.3 409.5,210.2 429.8,210.2 453.2,210.2 479.8,210.2 509.5,210.2 542.3,210.2" fill="none" stroke="#f0b0d0" stroke-width="1.0" />
<polyline points="353,215.3 354.6,214.6 359.3,212.9 367.1,211.3 378,210.3 392.1,209.8 409.3,209.7 429.7,209.7 453.1,209.7 479.7,209.7 509.4,209.7 542.3,209.7" fill="none" stroke="#e61e8c" stroke-width="1.0" />
<polyline points="352.9,215.3 354.5,214.6 359.2,212.8 367,211.2 378,210.2 392,209.7 409.3,209.6 429.6,209.6 453.1,209.6 479.7,209.6 509.4,209.6 542.3,209.6" fill="none" stroke="#ff2a2a" stroke-width="1.0" />
<polyline points="352.8,215.3 354.4,214.7 359.1,213.1 366.9,211.6 377.9,210.7 392,210.3 409.2,210.2 429.5,210.2 453,210.2 479.7,210.2 509.4,210.2 542.3,210.2" fill="none" stroke="#e0a0f0" stroke-width="1.0" />
<polyline points="352.6,215.3 354.2,214.6 358.9,212.9 366.7,211.3 377.7,210.3 391.8,209.9 409.1,209.8 429.4,209.8 452.9,209.8 479.6,209.8 509.4,209.8 542.3,209.8" fill="none" stroke="#e0a0f0" stroke-width="1.0" />
<polyline points="352.5,215.3 354.1,214.5 358.8,212.6 366.6,210.8 377.6,209.7 391.7,209.2 409,209.1 429.4,209 452.9,209 479.6,209 509.4,209 542.3,209" fill="none" stroke="#f0b0d0" stroke-width="1.0" />
<polyline points="352.5,215.3 354.1,214.6 358.8,213.1 366.6,211.6 377.6,210.6 391.7,210.3 409,210.1 429.4,210.1 452.9,210.1 479.6,210.1 509.4,210.1 542.3,210.1" fill="none" stroke="#ff2a2a" stroke-width="1.0" />
<polyline points="352.4,215.3 354,214.5 358.7,212.7 366.5,211 377.5,210 391.6,209.5 408.9,209.4 429.3,209.4 452.8,209.4 479.5,209.4 509.3,209.4 542.3,209.4" fill="none" stroke="#f07060" stroke-width="1.5" />
<polyline points="352.2,215.3 353.8,214.5 358.5,212.5 366.4,210.7 377.4,209.5 391.5,209 408.8,208.9 429.2,208.9 452.8,208.9 479.5,208.9 509.3,208.9 542.3,208.9" fill="none" stroke="#ff8c1a" stroke-width="1.0" />
<polyline points="352.2,215.3 353.8,214.7 358.5,213.1 366.4,211.6 377.3,210.7 391.5,210.3 408.8,210.2 429.2,210.2 452.8,210.2 479.5,210.2 509.3,210.2 542.3,210.2" fill="none" stroke="#f07060" stroke-width="1.1" />
<polyline points="352.1,215.3 353.6,214.6 358.4,212.9 366.2,211.2 377.2,210.2 391.4,209.8 408.7,209.7 429.1,209.6 452.7,209.6 479.4,209.6 509.3,209.6 542.3,209.6" fill="none" stroke="#ff2a2a" stroke-width="1.0" />
<polyline points="352.1,215.3 353.6,214.6 358.3,212.9 366.2,211.3 377.2,210.3 391.4,209.9 408.7,209.8 429.1,209.7 452.7,209.7 479.4,209.7 509.3,209.7 542.3,209.7" fill="none" stroke="#f0b0d0" stroke-width="1.0" />
<polyline points="351.6,215.3 353.2,214.5 357.9,212.5 365.8,210.7 376.8,209.6 391,209.1 408.4,209 428.8,208.9 452.5,208.9 479.3,208.9 509.2,208.9 542.3,208.9" fill="none" stroke="#ff9a20" stroke-width="1.1" />
<polyline points="351.6,215.3 353.1,214.5 357.9,212.4 365.7,210.5 376.8,209.4 391,208.9 408.3,208.7 428.8,208.7 452.4,208.7 479.2,208.7 509.2,208.7 542.3,208.7" fill="none" stroke="#f6b06a" stroke-width="1.0" />
<polyline points="351.6,215.3 353.1,214.5 357.9,212.7 365.7,211 376.8,210 391,209.5 408.3,209.4 428.8,209.4 452.4,209.4 479.2,209.4 509.2,209.4 542.3,209.4" fill="none" stroke="#ff9a20" stroke-width="1.1" />
<polyline points="351.5,215.3 353.1,214.5 357.8,212.6 365.7,210.7 376.8,209.6 390.9,209.2 408.3,209 428.8,209 452.4,209 479.2,209 509.2,209 542.3,209" fill="none" stroke="#d890f0" stroke-width="1.0" />
<polyline points="351.5,215.3 353.1,214.6 357.8,213 365.7,211.4 376.7,210.5 390.9,210.1 408.3,210 428.8,209.9 452.4,209.9 479.2,209.9 509.2,209.9 542.3,209.9" fill="none" stroke="#00e4e4" stroke-width="1.1" />
<polyline points="351.4,215.3 353,214.5 357.7,212.6 365.6,210.7 376.7,209.6 390.9,209.2 408.2,209 428.7,209 452.4,209 479.2,209 509.2,209 542.3,209" fill="none" stroke="#ff8c1a" stroke-width="1.5" />
<polyline points="351.4,215.3 353,214.6 357.7,212.9 365.6,211.3 376.7,210.3 390.9,209.9 408.2,209.7 428.7,209.7 452.4,209.7 479.2,209.7 509.2,209.7 542.3,209.7" fill="none" stroke="#3c82d2" stroke-width="1.1" />
<polyline points="351.4,215.3 353,214.5 357.7,212.5 365.6,210.6 376.6,209.4 390.8,208.9 408.2,208.8 428.7,208.8 452.4,208.8 479.2,208.8 509.2,208.8 542.3,208.8" fill="none" stroke="#f4a23c" stroke-width="1.5" />
<polyline points="351.4,215.3 353,214.5 357.7,212.7 365.6,211 376.6,210 390.8,209.5 408.2,209.4 428.7,209.4 452.4,209.4 479.2,209.4 509.2,209.4 542.3,209.4" fill="none" stroke="#f4a23c" stroke-width="1.1" />
<polyline points="351.2,215.3 352.8,214.6 357.5,213 365.4,211.4 376.5,210.4 390.7,210 408.1,209.9 428.6,209.9 452.3,209.9 479.1,209.9 509.1,209.9 542.3,209.9" fill="none" stroke="#44c874" stroke-width="1.1" />
<polyline points="351,215.3 352.6,214.5 357.4,212.7 365.3,210.9 376.3,209.9 390.6,209.4 407.9,209.3 428.5,209.2 452.2,209.2 479.1,209.2 509.1,209.2 542.3,209.2" fill="none" stroke="#f4a23c" stroke-width="1.0" />
<polyline points="351,215.3 352.6,214.5 357.4,212.6 365.3,210.7 376.3,209.6 390.6,209.1 407.9,209 428.5,209 452.2,209 479.1,209 509.1,209 542.3,209" fill="none" stroke="#f6b06a" stroke-width="1.5" />
<polyline points="351,215.3 352.6,214.5 357.3,212.7 365.2,210.9 376.3,209.8 390.5,209.4 407.9,209.2 428.5,209.2 452.2,209.2 479.1,209.2 509.1,209.2 542.3,209.2" fill="none" stroke="#d890f0" stroke-width="1.0" />
<polyline points="350.9,215.3 352.5,214.5 357.2,212.6 365.1,210.8 376.2,209.8 390.4,209.3 407.8,209.2 428.4,209.1 452.1,209.1 479,209.1 509.1,209.1 542.3,209.1" fill="none" stroke="#44c874" stroke-width="1.5" />
<polyline points="350.8,215.3 352.4,214.5 357.2,212.7 365.1,210.9 376.1,209.9 390.4,209.4 407.8,209.3 428.4,209.3 452.1,209.2 479,209.2 509.1,209.2 542.3,209.2" fill="none" stroke="#f6b06a" stroke-width="1.0" />
<polyline points="350.7,215.3 352.3,214.5 357.1,212.6 365,210.9 376.1,209.8 390.3,209.4 407.7,209.2 428.3,209.2 452.1,209.2 479,209.2 509.1,209.2 542.3,209.2" fill="none" stroke="#e0a0f0" stroke-width="1.0" />
<polyline points="350.7,215.3 352.3,214.5 357,212.4 364.9,210.5 376,209.3 390.3,208.9 407.7,208.7 428.3,208.7 452,208.7 479,208.7 509,208.7 542.3,208.7" fill="none" stroke="#f6b06a" stroke-width="1.0" />
<polyline points="350.6,215.3 352.2,214.5 357,212.7 364.9,210.9 376,209.9 390.2,209.5 407.7,209.3 428.3,209.3 452,209.3 478.9,209.3 509,209.3 542.3,209.3" fill="none" stroke="#00e4e4" stroke-width="1.0" />
<polyline points="350.5,215.3 352.1,214.5 356.8,212.6 364.7,210.8 375.8,209.7 390.1,209.2 407.5,209.1 428.2,209.1 451.9,209.1 478.9,209.1 509,209.1 542.3,209.1" fill="none" stroke="#f4a23c" stroke-width="1.0" />
<polyline points="350.5,215.3 352,214.6 356.8,212.8 364.7,211.1 375.8,210 390.1,209.6 407.5,209.5 428.1,209.5 451.9,209.4 478.9,209.4 509,209.4 542.3,209.4" fill="none" stroke="#f4a23c" stroke-width="1.5" />
<polyline points="349.9,215.3 351.5,214.6 356.3,212.8 364.2,211.2 375.4,210.2 389.7,209.7 407.2,209.6 427.8,209.6 451.7,209.6 478.7,209.6 508.9,209.6 542.3,209.6" fill="none" stroke="#ff9a20" stroke-width="1.0" />
<polyline points="349.9,215.3 351.5,214.6 356.2,212.8 364.2,211.1 375.3,210.1 389.6,209.7 407.1,209.6 427.8,209.5 451.7,209.5 478.7,209.5 508.9,209.5 542.3,209.5" fill="none" stroke="#f0b0d0" stroke-width="1.0" />
<polyline points="349.8,215.3 351.4,214.5 356.2,212.5 364.1,210.7 375.3,209.6 389.6,209.1 407.1,209 427.8,209 451.6,208.9 478.7,208.9 508.9,208.9 542.3,208.9" fill="none" stroke="#ff8c1a" stroke-width="1.0" />
<polyline points="349.7,215.3 351.3,214.5 356,212.7 364,211 375.1,210 389.5,209.6 407,209.4 427.7,209.4 451.6,209.4 478.6,209.4 508.9,209.4 542.3,209.4" fill="none" stroke="#f4a23c" stroke-width="1.0" />
<polyline points="349.6,215.3 351.2,214.5 356,212.6 363.9,210.9 375.1,209.8 389.4,209.4 406.9,209.2 427.6,209.2 451.5,209.2 478.6,209.2 508.9,209.2 542.3,209.2" fill="none" stroke="#ff8c1a" stroke-width="1.5" />
<polyline points="349.6,215.3 351.2,214.5 355.9,212.6 363.9,210.7 375.1,209.6 389.4,209.2 406.9,209 427.6,209 451.5,209 478.6,209 508.9,209 542.3,209" fill="none" stroke="#ff8c1a" stroke-width="1.0" />
<polyline points="349.6,215.3 351.2,214.5 355.9,212.6 363.9,210.7 375,209.6 389.4,209.2 406.9,209 427.6,209 451.5,209 478.6,209 508.8,209 542.3,209" fill="none" stroke="#f4a23c" stroke-width="1.0" />
<polyline points="345.1,214.5 346.7,213.9 351.6,212.5 359.7,211.3 371.1,210.6 385.8,210.3 403.7,210.2 424.9,210.2 449.4,210.2 477.1,210.2 508.1,210.2 542.3,210.2" fill="none" stroke="#ffb0a0" stroke-width="1.0" />
<polyline points="351.7,214.5 353.3,213.9 358,212.7 365.9,211.5 376.9,210.8 391.1,210.5 408.4,210.4 428.9,210.4 452.5,210.4 479.3,210.4 509.2,210.4 542.3,210.4" fill="none" stroke="#ffb0a0" stroke-width="1.0" />
<polyline points="351.6,214.5 353.2,213.8 357.9,212.4 365.8,211 376.8,210.1 391,209.8 408.3,209.7 428.8,209.7 452.5,209.7 479.3,209.7 509.2,209.7 542.3,209.7" fill="none" stroke="#ffb0a0" stroke-width="1.0" />
<polyline points="351.5,214.5 353.1,213.9 357.8,212.4 365.7,211.1 376.7,210.2 390.9,209.9 408.3,209.8 428.8,209.7 452.4,209.7 479.2,209.7 509.2,209.7 542.3,209.7" fill="none" stroke="#f4a23c" stroke-width="1.0" />
<polyline points="350.4,214.5 352,213.9 356.7,212.5 364.7,211.2 375.8,210.4 390,210.1 407.5,210 428.1,209.9 451.9,209.9 478.9,209.9 509,209.9 542.3,209.9" fill="none" stroke="#ffb0a0" stroke-width="1.0" />
<polyline points="346.6,214.5 348.3,213.9 353.1,212.4 361.2,211.1 372.5,210.3 387.1,210 404.9,209.9 425.9,209.9 450.1,209.9 477.6,209.9 508.3,209.9 542.3,209.9" fill="none" stroke="#f6b06a" stroke-width="1.0" />
<polyline points="351.6,214.5 353.2,213.8 357.9,212.4 365.8,211 376.8,210.1 391,209.8 408.3,209.7 428.8,209.6 452.5,209.6 479.3,209.6 509.2,209.6 542.3,209.6" fill="none" stroke="#f4a23c" stroke-width="1.0" />
<polyline points="351.8,214.5 353.3,213.9 358.1,212.7 365.9,211.5 377,210.7 391.1,210.4 408.5,210.3 428.9,210.3 452.5,210.3 479.3,210.3 509.2,210.3 542.3,210.3" fill="none" stroke="#f4a23c" stroke-width="1.0" />
<polyline points="349.8,214.5 351.4,213.9 356.1,212.5 364.1,211.2 375.2,210.4 389.6,210.1 407.1,210 427.7,210 451.6,210 478.7,210 508.9,210 542.3,210" fill="none" stroke="#78b4e6" stroke-width="1.0" />
<polyline points="346.5,214.5 348.2,213.8 353,212.3 361.1,210.9 372.4,210 387,209.7 404.8,209.6 425.8,209.6 450.1,209.5 477.6,209.5 508.3,209.5 542.3,209.5" fill="none" stroke="#f4a23c" stroke-width="1.0" />
<polyline points="348.7,214.5 350.3,213.8 355.1,212.3 363.1,210.9 374.3,210 388.7,209.7 406.3,209.6 427.1,209.5 451.1,209.5 478.3,209.5 508.7,209.5 542.3,209.5" fill="none" stroke="#ffb0a0" stroke-width="1.0" />
<polyline points="351.4,214.5 353,213.9 357.8,212.6 365.6,211.3 376.7,210.5 390.9,210.2 408.2,210.1 428.7,210.1 452.4,210.1 479.2,210.1 509.2,210.1 542.3,210.1" fill="none" stroke="#78b4e6" stroke-width="1.0" />
<polyline points="351.6,214.5 353.1,213.9 357.9,212.6 365.7,211.4 376.8,210.6 391,210.3 408.3,210.2 428.8,210.2 452.4,210.2 479.2,210.2 509.2,210.2 542.3,210.2" fill="none" stroke="#ffb0a0" stroke-width="1.0" />
<polyline points="346.4,214.5 348,213.8 352.8,212.3 360.9,210.9 372.3,210 386.8,209.7 404.7,209.6 425.7,209.6 450,209.6 477.5,209.6 508.3,209.6 542.3,209.6" fill="none" stroke="#ff8c1a" stroke-width="1.0" />
<polyline points="348,214.5 349.6,213.9 354.4,212.6 362.5,211.4 373.7,210.6 388.1,210.3 405.8,210.2 426.7,210.2 450.8,210.2 478.1,210.2 508.6,210.2 542.3,210.2" fill="none" stroke="#ff8c1a" stroke-width="1.0" />
<polyline points="347.1,214.5 348.7,213.9 353.5,212.5 361.6,211.2 372.9,210.5 387.4,210.2 405.2,210.1 426.1,210.1 450.3,210.1 477.8,210.1 508.4,210.1 542.3,210.1" fill="none" stroke="#ffb0a0" stroke-width="1.0" />
<polyline points="351.4,214.5 353,213.8 357.7,212.4 365.6,211 376.6,210.2 390.8,209.8 408.2,209.7 428.7,209.7 452.4,209.7 479.2,209.7 509.2,209.7 542.3,209.7" fill="none" stroke="#f6b06a" stroke-width="1.0" />
<polyline points="348.5,214.5 350.1,213.9 354.9,212.4 362.9,211.1 374.1,210.3 388.5,210 406.1,209.9 427,209.9 451,209.9 478.2,209.9 508.7,209.9 542.3,209.9" fill="none" stroke="#f4a23c" stroke-width="1.0" />
<polyline points="346.8,214.5 348.4,213.9 353.2,212.6 361.3,211.4 372.6,210.7 387.2,210.4 404.9,210.3 425.9,210.3 450.2,210.3 477.7,210.3 508.4,210.3 542.3,210.3" fill="none" stroke="#ffb0a0" stroke-width="1.0" />
<polyline points="346.6,214.5 348.2,213.8 353,212.2 361.1,210.8 372.5,209.9 387,209.6 404.8,209.5 425.8,209.4 450.1,209.4 477.6,209.4 508.3,209.4 542.3,209.4" fill="none" stroke="#ffb0a0" stroke-width="1.0" />
<polyline points="345,214.5 346.7,213.8 351.6,212.2 359.7,210.8 371.1,209.9 385.8,209.5 403.7,209.4 424.9,209.4 449.4,209.4 477.1,209.4 508.1,209.4 542.3,209.4" fill="none" stroke="#f4a23c" stroke-width="1.0" />
<polyline points="347.3,214.5 348.9,213.9 353.7,212.6 361.8,211.4 373.1,210.7 387.6,210.4 405.3,210.3 426.2,210.3 450.4,210.3 477.8,210.3 508.5,210.3 542.3,210.3" fill="none" stroke="#f6b06a" stroke-width="1.0" />
<polyline points="349,214.5 350.6,213.8 355.4,212.3 363.4,210.9 374.6,210 388.9,209.7 406.5,209.6 427.3,209.6 451.2,209.6 478.4,209.6 508.8,209.6 542.3,209.6" fill="none" stroke="#78b4e6" stroke-width="1.0" />
<polyline points="349.7,214.5 351.3,213.8 356,212.3 364,210.8 375.1,210 389.5,209.6 407,209.5 427.7,209.5 451.6,209.5 478.6,209.5 508.9,209.5 542.3,209.5" fill="none" stroke="#f4a23c" stroke-width="1.0" />
<polyline points="347.5,214.5 349.1,213.8 353.9,212.2 362,210.8 373.3,209.9 387.8,209.5 405.5,209.4 426.4,209.4 450.5,209.4 477.9,209.4 508.5,209.4 542.3,209.4" fill="none" stroke="#f6b06a" stroke-width="1.0" />
<polyline points="349.6,214.5 351.2,213.8 356,212.4 363.9,211 375.1,210.2 389.4,209.9 406.9,209.8 427.6,209.7 451.5,209.7 478.6,209.7 508.9,209.7 542.3,209.7" fill="none" stroke="#f4a23c" stroke-width="1.0" />
<polyline points="345.2,214.5 346.8,213.8 351.7,212.2 359.9,210.8 371.3,209.9 385.9,209.5 403.8,209.4 425,209.4 449.5,209.4 477.1,209.4 508.1,209.4 542.3,209.4" fill="none" stroke="#f4a23c" stroke-width="1.0" />
<polyline points="351.2,214.5 352.8,213.9 357.5,212.5 365.4,211.3 376.5,210.5 390.7,210.2 408.1,210.1 428.6,210 452.3,210 479.1,210 509.1,210 542.3,210" fill="none" stroke="#f4a23c" stroke-width="1.0" />
<polyline points="345.4,214.5 347,213.9 351.9,212.4 360,211.1 371.4,210.3 386.1,210 404,209.9 425.1,209.9 449.5,209.9 477.2,209.9 508.1,209.9 542.3,209.9" fill="none" stroke="#78b4e6" stroke-width="1.0" />
<polyline points="346.2,214.5 347.9,213.8 352.7,212.2 360.8,210.8 372.2,209.9 386.7,209.6 404.6,209.5 425.6,209.4 449.9,209.4 477.5,209.4 508.3,209.4 542.3,209.4" fill="none" stroke="#00e4e4" stroke-width="1.0" />
<polyline points="348.6,214.5 350.2,213.9 355,212.5 363,211.2 374.2,210.5 388.6,210.2 406.2,210.1 427,210 451.1,210 478.3,210 508.7,210 542.3,210" fill="none" stroke="#00e4e4" stroke-width="1.0" />
<polyline points="347.5,214.5 349.1,213.9 353.9,212.5 362,211.2 373.3,210.4 387.8,210.1 405.5,210 426.4,210 450.5,210 477.9,210 508.5,210 542.3,210" fill="none" stroke="#00e4e4" stroke-width="1.0" />
<polyline points="351.7,214.5 353.3,213.9 358,212.6 365.9,211.4 376.9,210.7 391.1,210.3 408.4,210.2 428.9,210.2 452.5,210.2 479.3,210.2 509.2,210.2 542.3,210.2" fill="none" stroke="#00e4e4" stroke-width="1.0" />
<polyline points="348.3,214.5 349.9,213.8 354.7,212.3 362.8,210.9 374,210 388.4,209.7 406,209.6 426.9,209.5 450.9,209.5 478.2,209.5 508.6,209.5 542.3,209.5" fill="none" stroke="#00e4e4" stroke-width="1.0" />
<polyline points="351.7,214.5 353.3,213.9 358,212.6 365.9,211.3 376.9,210.6 391.1,210.2 408.4,210.1 428.9,210.1 452.5,210.1 479.3,210.1 509.2,210.1 542.3,210.1" fill="none" stroke="#00e4e4" stroke-width="1.0" />
<polyline points="350.7,214.5 352.3,213.9 357,212.5 364.9,211.3 376,210.5 390.3,210.2 407.7,210.1 428.3,210 452,210 479,210 509,210 542.3,210" fill="none" stroke="#00e4e4" stroke-width="1.0" />
<polyline points="348.2,214.5 349.8,213.9 354.6,212.7 362.6,211.5 373.9,210.8 388.3,210.5 405.9,210.4 426.8,210.4 450.9,210.4 478.1,210.4 508.6,210.4 542.3,210.4" fill="none" stroke="#00e4e4" stroke-width="1.0" />
<polyline points="347.5,214.5 349.1,213.8 353.9,212.3 362,210.8 373.3,210 387.7,209.6 405.5,209.5 426.4,209.5 450.5,209.5 477.9,209.5 508.5,209.5 542.3,209.5" fill="none" stroke="#00e4e4" stroke-width="1.0" />
<polyline points="345.4,214.5 347,213.9 351.9,212.5 360.1,211.2 371.4,210.5 386.1,210.2 404,210.1 425.1,210.1 449.6,210.1 477.2,210.1 508.1,210.1 542.3,210.1" fill="none" stroke="#00e4e4" stroke-width="1.0" />
<polyline points="350.1,214.5 351.7,213.9 356.5,212.5 364.4,211.3 375.6,210.5 389.8,210.2 407.3,210.1 428,210.1 451.8,210 478.8,210 509,210 542.3,210" fill="none" stroke="#00e4e4" stroke-width="1.0" />
<polyline points="348,214.5 349.7,213.9 354.5,212.5 362.5,211.2 373.7,210.4 388.2,210 405.8,209.9 426.7,209.9 450.8,209.9 478.1,209.9 508.6,209.9 542.3,209.9" fill="none" stroke="#00e4e4" stroke-width="1.0" />
<polyline points="350.6,214.5 352.2,213.9 356.9,212.5 364.8,211.1 375.9,210.3 390.2,210 407.6,209.9 428.2,209.9 452,209.9 478.9,209.9 509,209.9 542.3,209.9" fill="none" stroke="#00e4e4" stroke-width="1.0" />
<polyline points="345.7,214.5 347.3,213.8 352.2,212.2 360.3,210.8 371.7,209.9 386.3,209.6 404.2,209.5 425.3,209.5 449.7,209.5 477.3,209.5 508.2,209.5 542.3,209.5" fill="none" stroke="#00e4e4" stroke-width="1.0" />
<polyline points="345.5,214.5 347.1,213.8 352,212.3 360.1,210.9 371.5,210 386.2,209.7 404.1,209.6 425.2,209.6 449.6,209.6 477.2,209.6 508.1,209.6 542.3,209.6" fill="none" stroke="#00e4e4" stroke-width="1.0" />
<rect x="304.8" y="200.2" width="237.5" height="178.6" fill="none" stroke="#7a7a7a" stroke-width="1.3"/>
<polyline points="352.5,200.2 352.5,221.8 427.7,221.8 427.7,200.2" fill="none" stroke="#9a9a9a" stroke-width="0.9"/>
<line x1="352.5" y1="221.8" x2="371.6" y2="250" stroke="#888888" stroke-width="0.8" stroke-dasharray="2,2"/>
<line x1="427.7" y1="221.8" x2="540" y2="250" stroke="#888888" stroke-width="0.8" stroke-dasharray="2,2"/>
<text x="338.8" y="360.3" font-size="7.2" fill="#404040" text-anchor="middle" font-weight="normal" font-family="Liberation Sans"  textLength="15.5" lengthAdjust="spacingAndGlyphs">Core</text>
<text x="334.6" y="368.3" font-size="7.2" fill="#404040" text-anchor="middle" font-weight="normal" font-family="Liberation Sans"  textLength="26" lengthAdjust="spacingAndGlyphs">Retrieval</text>
<line x1="306" y1="372.4" x2="346" y2="372.4" stroke="#a8a8a8" stroke-width="1.3" stroke-dasharray="4,3"/>
<polygon points="345,370 351,372.4 345,374.8" fill="#a0a0a0"/>
<rect x="362.4" y="247.2" width="179.3" height="128.6" fill="#ffffff"/>
<line x1="406.1" y1="250.2" x2="406.1" y2="367.8" stroke="#ececec" stroke-width="0.6" />
<line x1="439.7" y1="250.2" x2="439.7" y2="367.8" stroke="#ececec" stroke-width="0.6" />
<line x1="473.4" y1="250.2" x2="473.4" y2="367.8" stroke="#ececec" stroke-width="0.6" />
<line x1="507" y1="250.2" x2="507" y2="367.8" stroke="#ececec" stroke-width="0.6" />
<line x1="372.4" y1="273.7" x2="540.7" y2="273.7" stroke="#ececec" stroke-width="0.6" />
<line x1="372.4" y1="297.2" x2="540.7" y2="297.2" stroke="#ececec" stroke-width="0.6" />
<line x1="372.4" y1="320.8" x2="540.7" y2="320.8" stroke="#ececec" stroke-width="0.6" />
<line x1="372.4" y1="344.3" x2="540.7" y2="344.3" stroke="#ececec" stroke-width="0.6" />
<polyline points="372.4,367.8 379.1,367.8 385.9,366.3 392.6,361.4 399.3,355.3 406.1,348.9 412.8,342.4 419.5,335.6 426.3,328.8 433,322.2 439.7,316 446.5,310.2 453.2,304.6 459.9,299.3 466.6,294.4 473.4,290.1 480.1,286.5 486.8,283.4 493.6,280.7 500.3,278.3 507,276 513.8,274.1 520.5,272.4 527.2,271 534,269.6 540.7,268.1" fill="none" stroke="#ff6060" stroke-width="0.8" />
<polyline points="372.4,367.8 379.1,367.6 385.9,365.7 392.6,360.8 399.3,354.7 406.1,348.3 412.8,341.8 419.5,335.1 426.3,328.3 433,321.7 439.7,315.6 446.5,309.8 453.2,304.2 459.9,299 466.6,294.2 473.4,289.9 480.1,286.2 486.8,283.2 493.6,280.5 500.3,278.1 507,275.9 513.8,273.9 520.5,272.3 527.2,270.8 534,269.4 540.7,267.9" fill="none" stroke="#c0a0f0" stroke-width="0.8" />
<polyline points="372.4,365.8 379.1,365.3 385.9,363.4 392.6,358.5 399.3,352.4 406.1,346 412.8,339.7 419.5,333 426.3,326.4 433,320 439.7,314 446.5,308.3 453.2,302.9 459.9,297.8 466.6,293.1 473.4,288.9 480.1,285.4 486.8,282.4 493.6,279.8 500.3,277.4 507,275.3 513.8,273.3 520.5,271.7 527.2,270.3 534,268.9 540.7,267.5" fill="none" stroke="#f0a0f0" stroke-width="0.8" />
<polyline points="372.4,365.4 379.1,364.9 385.9,363.1 392.6,358.2 399.3,352.1 406.1,345.7 412.8,339.3 419.5,332.7 426.3,326.1 433,319.7 439.7,313.7 446.5,308.1 453.2,302.7 459.9,297.6 466.6,292.9 473.4,288.8 480.1,285.2 486.8,282.2 493.6,279.6 500.3,277.3 507,275.2 513.8,273.2 520.5,271.6 527.2,270.2 534,268.8 540.7,267.4" fill="none" stroke="#ff6060" stroke-width="0.8" />
<polyline points="372.4,364.5 379.1,364 385.9,362.2 392.6,357.3 399.3,351.2 406.1,344.8 412.8,338.5 419.5,331.9 426.3,325.4 433,319 439.7,313.1 446.5,307.5 453.2,302.2 459.9,297.1 466.6,292.5 473.4,288.4 480.1,284.9 486.8,281.9 493.6,279.4 500.3,277.1 507,274.9 513.8,273 520.5,271.4 527.2,270 534,268.7 540.7,267.2" fill="none" stroke="#ff7070" stroke-width="0.8" />
<polyline points="372.4,363.3 379.1,362.9 385.9,361 392.6,356.1 399.3,350 406.1,343.6 412.8,337.4 419.5,330.9 426.3,324.4 433,318.1 439.7,312.3 446.5,306.8 453.2,301.5 459.9,296.5 466.6,292 473.4,287.9 480.1,284.4 486.8,281.5 493.6,279 500.3,276.7 507,274.6 513.8,272.7 520.5,271.1 527.2,269.7 534,268.4 540.7,267" fill="none" stroke="#d070e0" stroke-width="0.8" />
<polyline points="372.4,362.9 379.1,362.4 385.9,360.6 392.6,355.7 399.3,349.5 406.1,343.2 412.8,337 419.5,330.5 426.3,324 433,317.8 439.7,312 446.5,306.5 453.2,301.2 459.9,296.3 466.6,291.8 473.4,287.7 480.1,284.3 486.8,281.4 493.6,278.8 500.3,276.6 507,274.5 513.8,272.6 520.5,271 527.2,269.6 534,268.3 540.7,266.9" fill="none" stroke="#c0a0f0" stroke-width="0.8" />
<polyline points="372.4,362.8 379.1,362.3 385.9,360.5 392.6,355.6 399.3,349.4 406.1,343.1 412.8,336.9 419.5,330.4 426.3,324 433,317.7 439.7,311.9 446.5,306.4 453.2,301.2 459.9,296.2 466.6,291.7 473.4,287.7 480.1,284.2 486.8,281.3 493.6,278.8 500.3,276.6 507,274.4 513.8,272.6 520.5,271 527.2,269.6 534,268.3 540.7,266.8" fill="none" stroke="#ff6060" stroke-width="0.8" />
<polyline points="372.4,362.8 379.1,362.3 385.9,360.5 392.6,355.6 399.3,349.4 406.1,343.1 412.8,336.8 419.5,330.4 426.3,323.9 433,317.7 439.7,311.9 446.5,306.4 453.2,301.2 459.9,296.2 466.6,291.7 473.4,287.7 480.1,284.2 486.8,281.3 493.6,278.8 500.3,276.6 507,274.4 513.8,272.6 520.5,271 527.2,269.6 534,268.3 540.7,266.8" fill="none" stroke="#d070e0" stroke-width="0.8" />
<polyline points="372.4,361.2 379.1,360.7 385.9,358.8 392.6,353.9 399.3,347.8 406.1,341.5 412.8,335.3 419.5,328.9 426.3,322.6 433,316.4 439.7,310.7 446.5,305.4 453.2,300.2 459.9,295.4 466.6,290.9 473.4,287 480.1,283.6 486.8,280.7 493.6,278.3 500.3,276.1 507,274 513.8,272.1 520.5,270.6 527.2,269.2 534,267.9 540.7,266.5" fill="none" stroke="#f0a0f0" stroke-width="0.8" />
<polyline points="372.4,357.5 379.1,357 385.9,355.2 392.6,350.2 399.3,344.1 406.1,337.8 412.8,331.8 419.5,325.7 426.3,319.6 433,313.7 439.7,308.2 446.5,303 453.2,298.1 459.9,293.5 466.6,289.2 473.4,285.4 480.1,282.2 486.8,279.5 493.6,277.1 500.3,275 507,273 513.8,271.2 520.5,269.7 527.2,268.4 534,267.1 540.7,265.7" fill="none" stroke="#ffa0a0" stroke-width="0.8" />
<polyline points="372.4,357.2 379.1,356.7 385.9,354.9 392.6,349.9 399.3,343.8 406.1,337.5 412.8,331.5 419.5,325.4 426.3,319.3 433,313.4 439.7,307.9 446.5,302.8 453.2,297.9 459.9,293.3 466.6,289.1 473.4,285.3 480.1,282.1 486.8,279.4 493.6,277 500.3,274.9 507,272.9 513.8,271.1 520.5,269.6 527.2,268.3 534,267 540.7,265.7" fill="none" stroke="#f0a0f0" stroke-width="0.8" />
<polyline points="372.4,356.7 379.1,356.2 385.9,354.3 392.6,349.4 399.3,343.2 406.1,337 412.8,331 419.5,324.9 426.3,318.9 433,313 439.7,307.6 446.5,302.5 453.2,297.6 459.9,293 466.6,288.8 473.4,285.1 480.1,281.9 486.8,279.2 493.6,276.8 500.3,274.7 507,272.8 513.8,271 520.5,269.5 527.2,268.2 534,266.9 540.7,265.6" fill="none" stroke="#ffa0a0" stroke-width="0.8" />
<polyline points="372.4,356.6 379.1,356.1 385.9,354.2 392.6,349.3 399.3,343.1 406.1,336.9 412.8,331 419.5,324.9 426.3,318.8 433,313 439.7,307.5 446.5,302.4 453.2,297.5 459.9,293 466.6,288.8 473.4,285.1 480.1,281.9 486.8,279.2 493.6,276.8 500.3,274.7 507,272.7 513.8,271 520.5,269.5 527.2,268.2 534,266.9 540.7,265.6" fill="none" stroke="#ff7070" stroke-width="0.8" />
<polyline points="372.4,356.1 379.1,355.6 385.9,353.7 392.6,348.8 399.3,342.6 406.1,336.4 412.8,330.5 419.5,324.4 426.3,318.4 433,312.6 439.7,307.2 446.5,302.1 453.2,297.2 459.9,292.7 466.6,288.5 473.4,284.8 480.1,281.7 486.8,279 493.6,276.7 500.3,274.6 507,272.6 513.8,270.8 520.5,269.4 527.2,268.1 534,266.8 540.7,265.5" fill="none" stroke="#f0a0f0" stroke-width="0.8" />
<polyline points="372.4,355.1 379.1,354.6 385.9,352.7 392.6,347.8 399.3,341.6 406.1,335.4 412.8,329.5 419.5,323.5 426.3,317.5 433,311.8 439.7,306.4 446.5,301.4 453.2,296.6 459.9,292.2 466.6,288.1 473.4,284.4 480.1,281.3 486.8,278.6 493.6,276.3 500.3,274.3 507,272.3 513.8,270.6 520.5,269.1 527.2,267.8 534,266.6 540.7,265.2" fill="none" stroke="#d070e0" stroke-width="0.8" />
<polyline points="372.4,354.9 379.1,354.4 385.9,352.5 392.6,347.6 399.3,341.4 406.1,335.2 412.8,329.3 419.5,323.3 426.3,317.4 433,311.6 439.7,306.3 446.5,301.3 453.2,296.5 459.9,292.1 466.6,288 473.4,284.3 480.1,281.2 486.8,278.5 493.6,276.3 500.3,274.2 507,272.3 513.8,270.5 520.5,269.1 527.2,267.8 534,266.5 540.7,265.2" fill="none" stroke="#d070e0" stroke-width="0.8" />
<polyline points="372.4,354.3 379.1,353.8 385.9,351.9 392.6,347 399.3,340.8 406.1,334.6 412.8,328.7 419.5,322.8 426.3,316.9 433,311.2 439.7,305.9 446.5,300.9 453.2,296.2 459.9,291.7 466.6,287.7 473.4,284.1 480.1,281 486.8,278.3 493.6,276.1 500.3,274 507,272.1 513.8,270.4 520.5,268.9 527.2,267.6 534,266.4 540.7,265.1" fill="none" stroke="#c0a0f0" stroke-width="0.8" />
<polyline points="372.4,352.8 379.1,352.3 385.9,350.5 392.6,345.5 399.3,339.3 406.1,333.2 412.8,327.4 419.5,321.5 426.3,315.7 433,310.1 439.7,304.9 446.5,300 453.2,295.3 459.9,291 466.6,287 473.4,283.5 480.1,280.4 486.8,277.8 493.6,275.6 500.3,273.6 507,271.7 513.8,270 520.5,268.6 527.2,267.3 534,266.1 540.7,264.8" fill="none" stroke="#f0a0f0" stroke-width="0.8" />
<polyline points="372.4,352.6 379.1,352.1 385.9,350.2 392.6,345.3 399.3,339.1 406.1,333 412.8,327.2 419.5,321.3 426.3,315.5 433,309.9 439.7,304.7 446.5,299.8 453.2,295.2 459.9,290.9 466.6,286.9 473.4,283.4 480.1,280.3 486.8,277.8 493.6,275.5 500.3,273.5 507,271.6 513.8,270 520.5,268.5 527.2,267.3 534,266 540.7,264.7" fill="none" stroke="#d070e0" stroke-width="0.8" />
<polyline points="372.4,351.5 379.1,351 385.9,349.2 392.6,344.2 399.3,338 406.1,331.9 412.8,326.2 419.5,320.3 426.3,314.6 433,309.1 439.7,303.9 446.5,299.1 453.2,294.6 459.9,290.3 466.6,286.4 473.4,282.9 480.1,279.9 486.8,277.4 493.6,275.2 500.3,273.2 507,271.4 513.8,269.7 520.5,268.3 527.2,267 534,265.8 540.7,264.5" fill="none" stroke="#c0a0f0" stroke-width="0.8" />
<polyline points="372.4,350.9 379.1,350.4 385.9,348.6 392.6,343.6 399.3,337.4 406.1,331.3 412.8,325.6 419.5,319.8 426.3,314.1 433,308.6 439.7,303.5 446.5,298.7 453.2,294.2 459.9,290 466.6,286.1 473.4,282.7 480.1,279.7 486.8,277.2 493.6,275 500.3,273 507,271.2 513.8,269.5 520.5,268.1 527.2,266.9 534,265.7 540.7,264.4" fill="none" stroke="#c0a0f0" stroke-width="0.8" />
<polyline points="372.4,349.6 379.1,349.2 385.9,347.3 392.6,342.3 399.3,336.1 406.1,330 412.8,324.4 419.5,318.7 426.3,313 433,307.6 439.7,302.6 446.5,297.9 453.2,293.5 459.9,289.3 466.6,285.5 473.4,282.1 480.1,279.2 486.8,276.7 493.6,274.6 500.3,272.7 507,270.8 513.8,269.2 520.5,267.8 527.2,266.6 534,265.4 540.7,264.1" fill="none" stroke="#c050e0" stroke-width="0.9" />
<polyline points="372.4,349.4 379.1,348.9 385.9,347 392.6,342 399.3,335.8 406.1,329.8 412.8,324.1 419.5,318.4 426.3,312.8 433,307.4 439.7,302.4 446.5,297.8 453.2,293.3 459.9,289.2 466.6,285.4 473.4,282 480.1,279.1 486.8,276.6 493.6,274.5 500.3,272.6 507,270.8 513.8,269.1 520.5,267.8 527.2,266.5 534,265.3 540.7,264.1" fill="none" stroke="#e61e8c" stroke-width="0.9" />
<polyline points="372.4,349 379.1,348.5 385.9,346.6 392.6,341.6 399.3,335.4 406.1,329.4 412.8,323.7 419.5,318.1 426.3,312.5 433,307.1 439.7,302.2 446.5,297.5 453.2,293.1 459.9,289 466.6,285.2 473.4,281.8 480.1,278.9 486.8,276.5 493.6,274.4 500.3,272.5 507,270.7 513.8,269 520.5,267.7 527.2,266.4 534,265.2 540.7,264" fill="none" stroke="#c050e0" stroke-width="0.9" />
<polyline points="372.4,348.3 379.1,347.8 385.9,345.9 392.6,341 399.3,334.7 406.1,328.7 412.8,323.1 419.5,317.5 426.3,311.9 433,306.6 439.7,301.7 446.5,297.1 453.2,292.7 459.9,288.6 466.6,284.9 473.4,281.6 480.1,278.7 486.8,276.3 493.6,274.1 500.3,272.3 507,270.5 513.8,268.9 520.5,267.5 527.2,266.3 534,265.1 540.7,263.8" fill="none" stroke="#c050e0" stroke-width="0.9" />
<polyline points="372.4,348.2 379.1,347.7 385.9,345.8 392.6,340.9 399.3,334.6 406.1,328.6 412.8,323 419.5,317.4 426.3,311.8 433,306.5 439.7,301.6 446.5,297 453.2,292.6 459.9,288.6 466.6,284.8 473.4,281.5 480.1,278.6 486.8,276.2 493.6,274.1 500.3,272.2 507,270.4 513.8,268.8 520.5,267.5 527.2,266.3 534,265.1 540.7,263.8" fill="none" stroke="#e61e8c" stroke-width="0.9" />
<polyline points="372.4,347.4 379.1,346.9 385.9,345 392.6,340 399.3,333.8 406.1,327.8 412.8,322.2 419.5,316.6 426.3,311.1 433,305.9 439.7,301 446.5,296.4 453.2,292.1 459.9,288.1 466.6,284.4 473.4,281.2 480.1,278.3 486.8,275.9 493.6,273.8 500.3,272 507,270.2 513.8,268.6 520.5,267.3 527.2,266.1 534,264.9 540.7,263.6" fill="none" stroke="#e61e8c" stroke-width="0.9" />
<polyline points="372.4,345.8 379.1,345.3 385.9,343.4 392.6,338.4 399.3,332.2 406.1,326.2 412.8,320.7 419.5,315.2 426.3,309.8 433,304.7 439.7,299.9 446.5,295.4 453.2,291.2 459.9,287.3 466.6,283.7 473.4,280.5 480.1,277.7 486.8,275.4 493.6,273.3 500.3,271.5 507,269.8 513.8,268.2 520.5,266.9 527.2,265.7 534,264.5 540.7,263.3" fill="none" stroke="#c050e0" stroke-width="0.9" />
<polyline points="372.4,345.5 379.1,345 385.9,343.1 392.6,338.1 399.3,331.9 406.1,325.9 412.8,320.4 419.5,314.9 426.3,309.6 433,304.5 439.7,299.7 446.5,295.2 453.2,291 459.9,287.1 466.6,283.6 473.4,280.4 480.1,277.6 486.8,275.3 493.6,273.2 500.3,271.4 507,269.7 513.8,268.1 520.5,266.8 527.2,265.6 534,264.5 540.7,263.2" fill="none" stroke="#c050e0" stroke-width="0.9" />
<polyline points="372.4,345.2 379.1,344.8 385.9,342.9 392.6,337.9 399.3,331.7 406.1,325.7 412.8,320.2 419.5,314.7 426.3,309.4 433,304.3 439.7,299.5 446.5,295.1 453.2,290.9 459.9,287 466.6,283.5 473.4,280.3 480.1,277.5 486.8,275.2 493.6,273.2 500.3,271.4 507,269.6 513.8,268.1 520.5,266.8 527.2,265.6 534,264.4 540.7,263.2" fill="none" stroke="#e61e8c" stroke-width="0.9" />
<polyline points="372.4,344.3 379.1,343.8 385.9,341.9 392.6,336.9 399.3,330.7 406.1,324.7 412.8,319.3 419.5,313.9 426.3,308.6 433,303.5 439.7,298.8 446.5,294.5 453.2,290.3 459.9,286.5 466.6,283 473.4,279.9 480.1,277.1 486.8,274.8 493.6,272.9 500.3,271.1 507,269.4 513.8,267.8 520.5,266.5 527.2,265.3 534,264.2 540.7,263" fill="none" stroke="#e61e8c" stroke-width="0.9" />
<polyline points="372.4,344.1 379.1,343.7 385.9,341.8 392.6,336.8 399.3,330.6 406.1,324.6 412.8,319.2 419.5,313.8 426.3,308.5 433,303.4 439.7,298.8 446.5,294.4 453.2,290.3 459.9,286.4 466.6,282.9 473.4,279.8 480.1,277.1 486.8,274.8 493.6,272.8 500.3,271 507,269.3 513.8,267.8 520.5,266.5 527.2,265.3 534,264.2 540.7,263" fill="none" stroke="#c050e0" stroke-width="0.9" />
<polyline points="372.4,343.8 379.1,343.3 385.9,341.5 392.6,336.4 399.3,330.2 406.1,324.2 412.8,318.8 419.5,313.5 426.3,308.2 433,303.2 439.7,298.5 446.5,294.2 453.2,290.1 459.9,286.3 466.6,282.8 473.4,279.7 480.1,277 486.8,274.7 493.6,272.7 500.3,270.9 507,269.2 513.8,267.7 520.5,266.4 527.2,265.2 534,264.1 540.7,262.9" fill="none" stroke="#c050e0" stroke-width="0.9" />
<polyline points="372.4,342.7 379.1,342.2 385.9,340.4 392.6,335.3 399.3,329.1 406.1,323.1 412.8,317.8 419.5,312.5 426.3,307.3 433,302.3 439.7,297.7 446.5,293.5 453.2,289.4 459.9,285.7 466.6,282.3 473.4,279.2 480.1,276.5 486.8,274.3 493.6,272.4 500.3,270.6 507,268.9 513.8,267.4 520.5,266.1 527.2,265 534,263.9 540.7,262.7" fill="none" stroke="#ff2a2a" stroke-width="1.6" />
<polyline points="372.4,342.6 379.1,342.1 385.9,340.3 392.6,335.3 399.3,329 406.1,323.1 412.8,317.7 419.5,312.4 426.3,307.2 433,302.3 439.7,297.7 446.5,293.4 453.2,289.4 459.9,285.6 466.6,282.2 473.4,279.2 480.1,276.5 486.8,274.3 493.6,272.3 500.3,270.6 507,268.9 513.8,267.4 520.5,266.1 527.2,265 534,263.8 540.7,262.7" fill="none" stroke="#ff2a2a" stroke-width="1.6" />
<polyline points="372.4,342.5 379.1,342 385.9,340.1 392.6,335.1 399.3,328.9 406.1,322.9 412.8,317.6 419.5,312.3 426.3,307.1 433,302.2 439.7,297.6 446.5,293.3 453.2,289.3 459.9,285.6 466.6,282.2 473.4,279.1 480.1,276.5 486.8,274.2 493.6,272.3 500.3,270.5 507,268.9 513.8,267.4 520.5,266.1 527.2,264.9 534,263.8 540.7,262.6" fill="none" stroke="#ff2a2a" stroke-width="1.6" />
<polyline points="372.4,341.1 379.1,340.6 385.9,338.8 392.6,333.7 399.3,327.5 406.1,321.6 412.8,316.3 419.5,311.1 426.3,306 433,301.1 439.7,296.6 446.5,292.4 453.2,288.5 459.9,284.8 466.6,281.5 473.4,278.5 480.1,275.9 486.8,273.7 493.6,271.8 500.3,270.1 507,268.5 513.8,267 520.5,265.8 527.2,264.6 534,263.5 540.7,262.3" fill="none" stroke="#ff4040" stroke-width="1.2" />
<polyline points="372.4,340.9 379.1,340.4 385.9,338.5 392.6,333.5 399.3,327.3 406.1,321.3 412.8,316.1 419.5,310.9 426.3,305.8 433,301 439.7,296.5 446.5,292.3 453.2,288.4 459.9,284.7 466.6,281.4 473.4,278.4 480.1,275.9 486.8,273.7 493.6,271.8 500.3,270.1 507,268.4 513.8,267 520.5,265.7 527.2,264.6 534,263.5 540.7,262.3" fill="none" stroke="#ff4040" stroke-width="1.6" />
<polyline points="372.4,340.8 379.1,340.3 385.9,338.4 392.6,333.4 399.3,327.2 406.1,321.2 412.8,316 419.5,310.8 426.3,305.7 433,300.9 439.7,296.4 446.5,292.2 453.2,288.3 459.9,284.7 466.6,281.4 473.4,278.4 480.1,275.8 486.8,273.6 493.6,271.7 500.3,270 507,268.4 513.8,266.9 520.5,265.7 527.2,264.5 534,263.4 540.7,262.3" fill="none" stroke="#e01030" stroke-width="1.6" />
<polyline points="372.4,338.9 379.1,338.4 385.9,336.6 392.6,331.5 399.3,325.3 406.1,319.4 412.8,314.2 419.5,309.1 426.3,304.1 433,299.4 439.7,295.1 446.5,291 453.2,287.2 459.9,283.7 466.6,280.5 473.4,277.6 480.1,275.1 486.8,273 493.6,271.1 500.3,269.5 507,267.9 513.8,266.5 520.5,265.2 527.2,264.1 534,263 540.7,261.9" fill="none" stroke="#e01030" stroke-width="1.2" />
<polyline points="372.4,338.3 379.1,337.8 385.9,336 392.6,330.9 399.3,324.7 406.1,318.8 412.8,313.6 419.5,308.6 426.3,303.7 433,299 439.7,294.7 446.5,290.6 453.2,286.9 459.9,283.4 466.6,280.2 473.4,277.3 480.1,274.9 486.8,272.8 493.6,270.9 500.3,269.3 507,267.7 513.8,266.3 520.5,265.1 527.2,264 534,262.9 540.7,261.8" fill="none" stroke="#ff4040" stroke-width="1.6" />
<polyline points="372.4,338 379.1,337.5 385.9,335.6 392.6,330.6 399.3,324.3 406.1,318.5 412.8,313.3 419.5,308.3 426.3,303.4 433,298.7 439.7,294.4 446.5,290.4 453.2,286.7 459.9,283.2 466.6,280 473.4,277.2 480.1,274.7 486.8,272.7 493.6,270.8 500.3,269.2 507,267.6 513.8,266.2 520.5,265 527.2,263.9 534,262.8 540.7,261.7" fill="none" stroke="#ff4040" stroke-width="1.6" />
<polyline points="372.4,337.5 379.1,337 385.9,335.1 392.6,330.1 399.3,323.8 406.1,318 412.8,312.9 419.5,307.8 426.3,303 433,298.4 439.7,294.1 446.5,290.1 453.2,286.4 459.9,283 466.6,279.8 473.4,277 480.1,274.6 486.8,272.5 493.6,270.7 500.3,269.1 507,267.5 513.8,266.1 520.5,264.9 527.2,263.8 534,262.7 540.7,261.6" fill="none" stroke="#ff2a2a" stroke-width="1.2" />
<polyline points="372.4,336.4 379.1,335.9 385.9,334 392.6,329 399.3,322.7 406.1,316.9 412.8,311.8 419.5,306.8 426.3,302.1 433,297.5 439.7,293.3 446.5,289.4 453.2,285.7 459.9,282.4 466.6,279.3 473.4,276.5 480.1,274.1 486.8,272.1 493.6,270.3 500.3,268.7 507,267.2 513.8,265.8 520.5,264.6 527.2,263.5 534,262.5 540.7,261.4" fill="none" stroke="#3c82d2" stroke-width="1.2" />
<polyline points="372.4,335.7 379.1,335.2 385.9,333.4 392.6,328.3 399.3,322 406.1,316.2 412.8,311.2 419.5,306.2 426.3,301.5 433,297 439.7,292.8 446.5,288.9 453.2,285.3 459.9,282 466.6,279 473.4,276.2 480.1,273.9 486.8,271.9 493.6,270.1 500.3,268.5 507,267 513.8,265.6 520.5,264.5 527.2,263.4 534,262.3 540.7,261.2" fill="none" stroke="#3c82d2" stroke-width="1.2" />
<polyline points="372.4,334.1 379.1,333.6 385.9,331.8 392.6,326.7 399.3,320.4 406.1,314.6 412.8,309.7 419.5,304.8 426.3,300.2 433,295.8 439.7,291.7 446.5,287.9 453.2,284.4 459.9,281.2 466.6,278.2 473.4,275.6 480.1,273.3 486.8,271.3 493.6,269.6 500.3,268.1 507,266.6 513.8,265.2 520.5,264.1 527.2,263 534,262 540.7,260.9" fill="none" stroke="#3c82d2" stroke-width="1.2" />
<polyline points="372.4,334 379.1,333.5 385.9,331.6 392.6,326.6 399.3,320.3 406.1,314.5 412.8,309.5 419.5,304.7 426.3,300.1 433,295.7 439.7,291.6 446.5,287.8 453.2,284.3 459.9,281.1 466.6,278.2 473.4,275.5 480.1,273.2 486.8,271.3 493.6,269.6 500.3,268 507,266.5 513.8,265.2 520.5,264 527.2,263 534,262 540.7,260.9" fill="none" stroke="#f4a23c" stroke-width="1.2" />
<polyline points="372.4,333.8 379.1,333.3 385.9,331.4 392.6,326.3 399.3,320.1 406.1,314.3 412.8,309.3 419.5,304.5 426.3,299.9 433,295.5 439.7,291.4 446.5,287.7 453.2,284.2 459.9,281 466.6,278.1 473.4,275.4 480.1,273.1 486.8,271.2 493.6,269.5 500.3,267.9 507,266.5 513.8,265.1 520.5,264 527.2,262.9 534,261.9 540.7,260.8" fill="none" stroke="#f4a23c" stroke-width="1.2" />
<polyline points="372.4,333.7 379.1,333.2 385.9,331.3 392.6,326.2 399.3,320 406.1,314.2 412.8,309.2 419.5,304.4 426.3,299.8 433,295.4 439.7,291.4 446.5,287.6 453.2,284.1 459.9,280.9 466.6,278 473.4,275.4 480.1,273.1 486.8,271.1 493.6,269.4 500.3,267.9 507,266.5 513.8,265.1 520.5,264 527.2,262.9 534,261.9 540.7,260.8" fill="none" stroke="#f4a23c" stroke-width="1.2" />
<polyline points="372.4,333.3 379.1,332.8 385.9,330.9 392.6,325.9 399.3,319.6 406.1,313.8 412.8,308.9 419.5,304.1 426.3,299.5 433,295.1 439.7,291.1 446.5,287.4 453.2,283.9 459.9,280.7 466.6,277.8 473.4,275.2 480.1,272.9 486.8,271 493.6,269.3 500.3,267.8 507,266.4 513.8,265 520.5,263.9 527.2,262.8 534,261.8 540.7,260.7" fill="none" stroke="#3c82d2" stroke-width="1.2" />
<polyline points="372.4,333.1 379.1,332.6 385.9,330.7 392.6,325.7 399.3,319.4 406.1,313.6 412.8,308.7 419.5,303.9 426.3,299.3 433,295 439.7,291 446.5,287.3 453.2,283.8 459.9,280.6 466.6,277.7 473.4,275.1 480.1,272.9 486.8,270.9 493.6,269.3 500.3,267.7 507,266.3 513.8,265 520.5,263.8 527.2,262.8 534,261.8 540.7,260.7" fill="none" stroke="#f4a23c" stroke-width="1.2" />
<polyline points="372.4,332.8 379.1,332.3 385.9,330.5 392.6,325.4 399.3,319.1 406.1,313.3 412.8,308.4 419.5,303.7 426.3,299.1 433,294.8 439.7,290.8 446.5,287.1 453.2,283.7 459.9,280.5 466.6,277.6 473.4,275 480.1,272.8 486.8,270.9 493.6,269.2 500.3,267.7 507,266.2 513.8,264.9 520.5,263.8 527.2,262.7 534,261.7 540.7,260.6" fill="none" stroke="#f4a23c" stroke-width="1.2" />
<polyline points="372.4,332 379.1,331.5 385.9,329.7 392.6,324.6 399.3,318.3 406.1,312.5 412.8,307.7 419.5,303 426.3,298.4 433,294.2 439.7,290.2 446.5,286.6 453.2,283.2 459.9,280.1 466.6,277.2 473.4,274.7 480.1,272.5 486.8,270.6 493.6,268.9 500.3,267.4 507,266 513.8,264.7 520.5,263.6 527.2,262.5 534,261.5 540.7,260.5" fill="none" stroke="#f4a23c" stroke-width="1.2" />
<polyline points="372.4,331.3 379.1,330.8 385.9,329 392.6,323.9 399.3,317.6 406.1,311.8 412.8,307 419.5,302.3 426.3,297.9 433,293.6 439.7,289.7 446.5,286.1 453.2,282.8 459.9,279.7 466.6,276.9 473.4,274.4 480.1,272.2 486.8,270.3 493.6,268.7 500.3,267.2 507,265.8 513.8,264.5 520.5,263.4 527.2,262.4 534,261.4 540.7,260.3" fill="none" stroke="#f4a23c" stroke-width="1.6" />
<polyline points="372.4,330 379.1,329.5 385.9,327.7 392.6,322.6 399.3,316.3 406.1,310.5 412.8,305.8 419.5,301.2 426.3,296.8 433,292.6 439.7,288.8 446.5,285.3 453.2,282 459.9,279 466.6,276.3 473.4,273.8 480.1,271.7 486.8,269.9 493.6,268.3 500.3,266.8 507,265.5 513.8,264.2 520.5,263.1 527.2,262.1 534,261.1 540.7,260" fill="none" stroke="#f8b050" stroke-width="1.6" />
<polyline points="372.4,329.9 379.1,329.4 385.9,327.5 392.6,322.4 399.3,316.1 406.1,310.4 412.8,305.6 419.5,301 426.3,296.6 433,292.5 439.7,288.7 446.5,285.2 453.2,281.9 459.9,278.9 466.6,276.2 473.4,273.8 480.1,271.6 486.8,269.8 493.6,268.2 500.3,266.8 507,265.4 513.8,264.1 520.5,263 527.2,262 534,261 540.7,260" fill="none" stroke="#ff9a1a" stroke-width="1.2" />
<polyline points="372.4,328.8 379.1,328.3 385.9,326.4 392.6,321.3 399.3,315 406.1,309.3 412.8,304.6 419.5,300 426.3,295.7 433,291.7 439.7,287.9 446.5,284.5 453.2,281.3 459.9,278.4 466.6,275.7 473.4,273.3 480.1,271.2 486.8,269.4 493.6,267.9 500.3,266.5 507,265.1 513.8,263.9 520.5,262.8 527.2,261.8 534,260.8 540.7,259.8" fill="none" stroke="#f8b050" stroke-width="1.6" />
<polyline points="372.4,327.5 379.1,327 385.9,325.1 392.6,320 399.3,313.7 406.1,308 412.8,303.4 419.5,298.9 426.3,294.7 433,290.7 439.7,287 446.5,283.6 453.2,280.5 459.9,277.7 466.6,275.1 473.4,272.8 480.1,270.7 486.8,269 493.6,267.5 500.3,266.1 507,264.8 513.8,263.5 520.5,262.5 527.2,261.5 534,260.5 540.7,259.5" fill="none" stroke="#f8b050" stroke-width="1.6" />
<polyline points="372.4,327.5 379.1,327 385.9,325.1 392.6,320 399.3,313.7 406.1,308 412.8,303.3 419.5,298.9 426.3,294.6 433,290.7 439.7,287 446.5,283.6 453.2,280.5 459.9,277.7 466.6,275.1 473.4,272.8 480.1,270.7 486.8,269 493.6,267.5 500.3,266.1 507,264.8 513.8,263.5 520.5,262.5 527.2,261.5 534,260.5 540.7,259.5" fill="none" stroke="#ff9a1a" stroke-width="1.6" />
<polyline points="372.4,327.3 379.1,326.8 385.9,324.9 392.6,319.8 399.3,313.5 406.1,307.8 412.8,303.2 419.5,298.7 426.3,294.5 433,290.6 439.7,286.9 446.5,283.5 453.2,280.4 459.9,277.6 466.6,275 473.4,272.7 480.1,270.6 486.8,268.9 493.6,267.4 500.3,266 507,264.7 513.8,263.5 520.5,262.4 527.2,261.4 534,260.5 540.7,259.5" fill="none" stroke="#f8b050" stroke-width="1.2" />
<polyline points="372.4,325.5 379.1,325 385.9,323.2 392.6,318.1 399.3,311.8 406.1,306.1 412.8,301.5 419.5,297.2 426.3,293.1 433,289.2 439.7,285.7 446.5,282.4 453.2,279.4 459.9,276.7 466.6,274.2 473.4,271.9 480.1,270 486.8,268.3 493.6,266.8 500.3,265.5 507,264.2 513.8,263 520.5,262 527.2,261 534,260.1 540.7,259.1" fill="none" stroke="#f8b050" stroke-width="1.6" />
<polyline points="372.4,324.9 379.1,324.4 385.9,322.6 392.6,317.4 399.3,311.1 406.1,305.5 412.8,300.9 419.5,296.6 426.3,292.5 433,288.7 439.7,285.2 446.5,282 453.2,279 459.9,276.3 466.6,273.9 473.4,271.7 480.1,269.7 486.8,268.1 493.6,266.6 500.3,265.3 507,264.1 513.8,262.9 520.5,261.8 527.2,260.9 534,260 540.7,259" fill="none" stroke="#ff9a1a" stroke-width="1.2" />
<polyline points="372.4,322.3 379.1,321.8 385.9,319.9 392.6,314.8 399.3,308.5 406.1,302.9 412.8,298.4 419.5,294.3 426.3,290.4 433,286.7 439.7,283.4 446.5,280.3 453.2,277.5 459.9,275 466.6,272.7 473.4,270.6 480.1,268.7 486.8,267.2 493.6,265.8 500.3,264.5 507,263.3 513.8,262.2 520.5,261.2 527.2,260.3 534,259.4 540.7,258.4" fill="none" stroke="#20c8a0" stroke-width="1.2" />
<polyline points="372.4,322.2 379.1,321.7 385.9,319.9 392.6,314.8 399.3,308.4 406.1,302.8 412.8,298.4 419.5,294.2 426.3,290.3 433,286.7 439.7,283.3 446.5,280.3 453.2,277.5 459.9,274.9 466.6,272.6 473.4,270.6 480.1,268.7 486.8,267.2 493.6,265.8 500.3,264.5 507,263.3 513.8,262.2 520.5,261.2 527.2,260.3 534,259.4 540.7,258.4" fill="none" stroke="#44c874" stroke-width="1.2" />
<polyline points="372.4,322.2 379.1,321.7 385.9,319.9 392.6,314.7 399.3,308.4 406.1,302.8 412.8,298.4 419.5,294.2 426.3,290.3 433,286.7 439.7,283.3 446.5,280.3 453.2,277.5 459.9,274.9 466.6,272.6 473.4,270.5 480.1,268.7 486.8,267.1 493.6,265.8 500.3,264.5 507,263.3 513.8,262.2 520.5,261.2 527.2,260.3 534,259.4 540.7,258.4" fill="none" stroke="#20c8a0" stroke-width="1.2" />
<polyline points="372.4,322 379.1,321.5 385.9,319.6 392.6,314.5 399.3,308.1 406.1,302.6 412.8,298.1 419.5,294 426.3,290.1 433,286.5 439.7,283.1 446.5,280.1 453.2,277.3 459.9,274.8 466.6,272.5 473.4,270.4 480.1,268.6 486.8,267.1 493.6,265.7 500.3,264.5 507,263.3 513.8,262.1 520.5,261.1 527.2,260.2 534,259.3 540.7,258.4" fill="none" stroke="#20c8a0" stroke-width="1.2" />
<polyline points="372.4,320.3 379.1,319.8 385.9,317.9 392.6,312.8 399.3,306.4 406.1,300.9 412.8,296.5 419.5,292.5 426.3,288.7 433,285.2 439.7,281.9 446.5,279 453.2,276.3 459.9,273.9 466.6,271.7 473.4,269.7 480.1,268 486.8,266.5 493.6,265.1 500.3,264 507,262.8 513.8,261.7 520.5,260.7 527.2,259.8 534,258.9 540.7,258" fill="none" stroke="#20c8a0" stroke-width="1.2" />
<polyline points="372.4,319.9 379.1,319.4 385.9,317.6 392.6,312.4 399.3,306.1 406.1,300.5 412.8,296.2 419.5,292.2 426.3,288.4 433,284.9 439.7,281.7 446.5,278.8 453.2,276.1 459.9,273.7 466.6,271.6 473.4,269.6 480.1,267.8 486.8,266.3 493.6,265 500.3,263.8 507,262.7 513.8,261.6 520.5,260.6 527.2,259.7 534,258.9 540.7,257.9" fill="none" stroke="#44c874" stroke-width="1.2" />
<polyline points="372.4,318.4 379.1,317.9 385.9,316.1 392.6,310.9 399.3,304.6 406.1,299.1 412.8,294.8 419.5,290.8 426.3,287.2 433,283.8 439.7,280.7 446.5,277.8 453.2,275.3 459.9,272.9 466.6,270.9 473.4,268.9 480.1,267.3 486.8,265.8 493.6,264.6 500.3,263.4 507,262.3 513.8,261.2 520.5,260.3 527.2,259.4 534,258.5 540.7,257.6" fill="none" stroke="#f4a23c" stroke-width="1.2" />
<polyline points="372.4,318.1 379.1,317.6 385.9,315.8 392.6,310.6 399.3,304.3 406.1,298.7 412.8,294.5 419.5,290.6 426.3,286.9 433,283.6 439.7,280.4 446.5,277.6 453.2,275.1 459.9,272.8 466.6,270.7 473.4,268.8 480.1,267.1 486.8,265.7 493.6,264.5 500.3,263.3 507,262.2 513.8,261.1 520.5,260.2 527.2,259.3 534,258.5 540.7,257.6" fill="none" stroke="#44c874" stroke-width="1.2" />
<polyline points="372.4,317.5 379.1,317 385.9,315.2 392.6,310 399.3,303.6 406.1,298.1 412.8,293.9 419.5,290 426.3,286.4 433,283.1 439.7,280 446.5,277.2 453.2,274.7 459.9,272.5 466.6,270.4 473.4,268.6 480.1,266.9 486.8,265.5 493.6,264.3 500.3,263.1 507,262 513.8,261 520.5,260.1 527.2,259.2 534,258.3 540.7,257.5" fill="none" stroke="#ffa020" stroke-width="1.6" />
<polyline points="372.4,316.6 379.1,316.1 385.9,314.2 392.6,309.1 399.3,302.7 406.1,297.2 412.8,293 419.5,289.2 426.3,285.6 433,282.4 439.7,279.3 446.5,276.6 453.2,274.2 459.9,272 466.6,270 473.4,268.2 480.1,266.5 486.8,265.2 493.6,264 500.3,262.9 507,261.8 513.8,260.7 520.5,259.8 527.2,259 534,258.1 540.7,257.3" fill="none" stroke="#f8b050" stroke-width="1.6" />
<polyline points="372.4,316.4 379.1,315.9 385.9,314 392.6,308.8 399.3,302.5 406.1,297 412.8,292.8 419.5,289 426.3,285.5 433,282.2 439.7,279.2 446.5,276.5 453.2,274 459.9,271.9 466.6,269.9 473.4,268.1 480.1,266.5 486.8,265.1 493.6,263.9 500.3,262.8 507,261.7 513.8,260.7 520.5,259.8 527.2,258.9 534,258.1 540.7,257.2" fill="none" stroke="#ff9a1a" stroke-width="1.6" />
<polyline points="372.4,313.9 379.1,313.4 385.9,311.6 392.6,306.4 399.3,300 406.1,294.6 412.8,290.5 419.5,286.8 426.3,283.4 433,280.3 439.7,277.5 446.5,274.9 453.2,272.6 459.9,270.6 466.6,268.7 473.4,267 480.1,265.5 486.8,264.2 493.6,263.1 500.3,262.1 507,261.1 513.8,260.1 520.5,259.2 527.2,258.4 534,257.6 540.7,256.7" fill="none" stroke="#f8b050" stroke-width="1.2" />
<polyline points="372.4,312.3 379.1,311.8 385.9,309.9 392.6,304.8 399.3,298.4 406.1,293 412.8,289 419.5,285.4 426.3,282.1 433,279.1 439.7,276.3 446.5,273.8 453.2,271.7 459.9,269.7 466.6,268 473.4,266.4 480.1,264.9 486.8,263.7 493.6,262.6 500.3,261.6 507,260.6 513.8,259.7 520.5,258.8 527.2,258 534,257.2 540.7,256.4" fill="none" stroke="#f8b050" stroke-width="1.6" />
<polyline points="372.4,311.5 379.1,311 385.9,309.1 392.6,303.9 399.3,297.6 406.1,292.2 412.8,288.2 419.5,284.6 426.3,281.4 433,278.5 439.7,275.8 446.5,273.3 453.2,271.2 459.9,269.3 466.6,267.6 473.4,266 480.1,264.6 486.8,263.4 493.6,262.3 500.3,261.3 507,260.4 513.8,259.5 520.5,258.6 527.2,257.8 534,257 540.7,256.2" fill="none" stroke="#f4a23c" stroke-width="1.2" />
<polyline points="372.4,311.2 379.1,310.7 385.9,308.8 392.6,303.6 399.3,297.3 406.1,291.9 412.8,287.9 419.5,284.4 426.3,281.2 433,278.3 439.7,275.6 446.5,273.1 453.2,271 459.9,269.1 466.6,267.5 473.4,265.9 480.1,264.5 486.8,263.3 493.6,262.2 500.3,261.3 507,260.3 513.8,259.4 520.5,258.5 527.2,257.7 534,256.9 540.7,256.1" fill="none" stroke="#f8b050" stroke-width="1.6" />
<polyline points="372.4,310.7 379.1,310.2 385.9,308.3 392.6,303.1 399.3,296.8 406.1,291.4 412.8,287.5 419.5,283.9 426.3,280.8 433,277.9 439.7,275.2 446.5,272.8 453.2,270.7 459.9,268.9 466.6,267.2 473.4,265.7 480.1,264.3 486.8,263.1 493.6,262.1 500.3,261.1 507,260.2 513.8,259.3 520.5,258.4 527.2,257.6 534,256.8 540.7,256" fill="none" stroke="#f8b050" stroke-width="1.2" />
<polyline points="372.4,310.2 379.1,309.7 385.9,307.8 392.6,302.6 399.3,296.2 406.1,290.9 412.8,287 419.5,283.5 426.3,280.3 433,277.5 439.7,274.9 446.5,272.5 453.2,270.4 459.9,268.6 466.6,267 473.4,265.5 480.1,264.1 486.8,262.9 493.6,261.9 500.3,261 507,260 513.8,259.1 520.5,258.3 527.2,257.5 534,256.7 540.7,255.9" fill="none" stroke="#f4a23c" stroke-width="1.6" />
<polyline points="372.4,309.9 379.1,309.4 385.9,307.5 392.6,302.3 399.3,295.9 406.1,290.5 412.8,286.7 419.5,283.2 426.3,280.1 433,277.2 439.7,274.6 446.5,272.3 453.2,270.2 459.9,268.4 466.6,266.8 473.4,265.3 480.1,264 486.8,262.8 493.6,261.8 500.3,260.9 507,259.9 513.8,259 520.5,258.2 527.2,257.4 534,256.7 540.7,255.9" fill="none" stroke="#ffa020" stroke-width="1.6" />
<polyline points="372.4,309.8 379.1,309.3 385.9,307.4 392.6,302.2 399.3,295.8 406.1,290.4 412.8,286.6 419.5,283.1 426.3,280 433,277.2 439.7,274.6 446.5,272.2 453.2,270.2 459.9,268.4 466.6,266.8 473.4,265.3 480.1,263.9 486.8,262.8 493.6,261.8 500.3,260.8 507,259.9 513.8,259 520.5,258.2 527.2,257.4 534,256.6 540.7,255.8" fill="none" stroke="#f4a23c" stroke-width="1.6" />
<polyline points="372.4,309.7 379.1,309.2 385.9,307.4 392.6,302.2 399.3,295.8 406.1,290.4 412.8,286.6 419.5,283.1 426.3,280 433,277.1 439.7,274.5 446.5,272.2 453.2,270.2 459.9,268.4 466.6,266.8 473.4,265.3 480.1,263.9 486.8,262.8 493.6,261.8 500.3,260.8 507,259.9 513.8,259 520.5,258.2 527.2,257.4 534,256.6 540.7,255.8" fill="none" stroke="#ff9a1a" stroke-width="1.2" />
<polyline points="372.4,309.7 379.1,309.2 385.9,307.3 392.6,302.1 399.3,295.7 406.1,290.4 412.8,286.5 419.5,283 426.3,279.9 433,277.1 439.7,274.5 446.5,272.2 453.2,270.1 459.9,268.4 466.6,266.7 473.4,265.3 480.1,263.9 486.8,262.8 493.6,261.8 500.3,260.8 507,259.9 513.8,259 520.5,258.2 527.2,257.4 534,256.6 540.7,255.8" fill="none" stroke="#ff9a1a" stroke-width="1.6" />
<polyline points="372.4,309.7 379.1,309.1 385.9,307.3 392.6,302.1 399.3,295.7 406.1,290.3 412.8,286.5 419.5,283 426.3,279.9 433,277.1 439.7,274.5 446.5,272.1 453.2,270.1 459.9,268.3 466.6,266.7 473.4,265.2 480.1,263.9 486.8,262.8 493.6,261.7 500.3,260.8 507,259.9 513.8,259 520.5,258.2 527.2,257.4 534,256.6 540.7,255.8" fill="none" stroke="#ffa020" stroke-width="1.2" />
<polyline points="372.4,309.3 379.1,308.8 385.9,306.9 392.6,301.7 399.3,295.3 406.1,289.9 412.8,286.1 419.5,282.6 426.3,279.6 433,276.8 439.7,274.2 446.5,271.9 453.2,269.9 459.9,268.1 466.6,266.5 473.4,265.1 480.1,263.7 486.8,262.6 493.6,261.6 500.3,260.7 507,259.8 513.8,258.9 520.5,258.1 527.2,257.3 534,256.5 540.7,255.7" fill="none" stroke="#f8b050" stroke-width="1.6" />
<polyline points="372.4,308.2 379.1,307.7 385.9,305.9 392.6,300.7 399.3,294.3 406.1,288.9 412.8,285.1 419.5,281.7 426.3,278.7 433,276 439.7,273.5 446.5,271.2 453.2,269.3 459.9,267.6 466.6,266.1 473.4,264.6 480.1,263.4 486.8,262.3 493.6,261.3 500.3,260.4 507,259.5 513.8,258.6 520.5,257.8 527.2,257.1 534,256.3 540.7,255.5" fill="none" stroke="#ffa020" stroke-width="1.2" />
<polyline points="372.4,308.2 379.1,307.7 385.9,305.9 392.6,300.7 399.3,294.3 406.1,288.9 412.8,285.1 419.5,281.7 426.3,278.7 433,276 439.7,273.5 446.5,271.2 453.2,269.3 459.9,267.6 466.6,266.1 473.4,264.6 480.1,263.4 486.8,262.3 493.6,261.3 500.3,260.4 507,259.5 513.8,258.6 520.5,257.8 527.2,257.1 534,256.3 540.7,255.5" fill="none" stroke="#f4a23c" stroke-width="1.6" />
<polyline points="372.4,307.1 379.1,306.6 385.9,304.8 392.6,299.5 399.3,293.1 406.1,287.8 412.8,284 419.5,280.7 426.3,277.8 433,275.1 439.7,272.7 446.5,270.5 453.2,268.6 459.9,267 466.6,265.5 473.4,264.2 480.1,262.9 486.8,261.9 493.6,260.9 500.3,260 507,259.2 513.8,258.3 520.5,257.5 527.2,256.8 534,256.1 540.7,255.3" fill="none" stroke="#f8b050" stroke-width="1.2" />
<polyline points="372.4,306.5 379.1,306 385.9,304.1 392.6,298.9 399.3,292.5 406.1,287.2 412.8,283.5 419.5,280.2 426.3,277.3 433,274.7 439.7,272.2 446.5,270.1 453.2,268.3 459.9,266.7 466.6,265.2 473.4,263.9 480.1,262.7 486.8,261.6 493.6,260.7 500.3,259.9 507,259 513.8,258.2 520.5,257.4 527.2,256.7 534,255.9 540.7,255.2" fill="none" stroke="#ff9a1a" stroke-width="1.6" />
<polyline points="372.4,306.5 379.1,305.9 385.9,304.1 392.6,298.9 399.3,292.5 406.1,287.2 412.8,283.4 419.5,280.2 426.3,277.2 433,274.6 439.7,272.2 446.5,270.1 453.2,268.2 459.9,266.7 466.6,265.2 473.4,263.9 480.1,262.7 486.8,261.6 493.6,260.7 500.3,259.9 507,259 513.8,258.2 520.5,257.4 527.2,256.6 534,255.9 540.7,255.2" fill="none" stroke="#ff9a1a" stroke-width="1.2" />
<polyline points="372.4,306.4 379.1,305.9 385.9,304 392.6,298.8 399.3,292.4 406.1,287.1 412.8,283.4 419.5,280.1 426.3,277.2 433,274.6 439.7,272.2 446.5,270 453.2,268.2 459.9,266.6 466.6,265.2 473.4,263.9 480.1,262.6 486.8,261.6 493.6,260.7 500.3,259.8 507,259 513.8,258.1 520.5,257.4 527.2,256.6 534,255.9 540.7,255.1" fill="none" stroke="#ffa020" stroke-width="1.6" />
<polyline points="372.4,306.2 379.1,305.7 385.9,303.8 392.6,298.6 399.3,292.2 406.1,286.9 412.8,283.1 419.5,279.9 426.3,277 433,274.4 439.7,272 446.5,269.9 453.2,268.1 459.9,266.5 466.6,265.1 473.4,263.8 480.1,262.6 486.8,261.5 493.6,260.6 500.3,259.8 507,258.9 513.8,258.1 520.5,257.3 527.2,256.6 534,255.8 540.7,255.1" fill="none" stroke="#ffa020" stroke-width="1.2" />
<polyline points="372.4,305.8 379.1,305.3 385.9,303.5 392.6,298.2 399.3,291.8 406.1,286.5 412.8,282.8 419.5,279.6 426.3,276.7 433,274.1 439.7,271.8 446.5,269.7 453.2,267.9 459.9,266.3 466.6,264.9 473.4,263.6 480.1,262.4 486.8,261.4 493.6,260.5 500.3,259.7 507,258.8 513.8,258 520.5,257.2 527.2,256.5 534,255.8 540.7,255" fill="none" stroke="#ffa020" stroke-width="1.2" />
<polyline points="372.4,305.6 379.1,305.1 385.9,303.2 392.6,298 399.3,291.6 406.1,286.3 412.8,282.6 419.5,279.4 426.3,276.5 433,273.9 439.7,271.6 446.5,269.5 453.2,267.7 459.9,266.2 466.6,264.8 473.4,263.5 480.1,262.3 486.8,261.3 493.6,260.4 500.3,259.6 507,258.8 513.8,257.9 520.5,257.2 527.2,256.4 534,255.7 540.7,255" fill="none" stroke="#ffa020" stroke-width="1.6" />
<polyline points="372.4,305.3 379.1,304.8 385.9,303 392.6,297.8 399.3,291.3 406.1,286 412.8,282.4 419.5,279.2 426.3,276.3 433,273.8 439.7,271.4 446.5,269.4 453.2,267.6 459.9,266.1 466.6,264.7 473.4,263.4 480.1,262.2 486.8,261.2 493.6,260.4 500.3,259.5 507,258.7 513.8,257.9 520.5,257.1 527.2,256.4 534,255.7 540.7,254.9" fill="none" stroke="#ffa020" stroke-width="1.2" />
<polyline points="372.4,301.9 379.1,301.8 385.9,301.5 392.6,301.1 399.3,300.7 406.1,299.6 412.8,297.7 419.5,295.5 426.3,293.1 433,290.8 439.7,288.8 446.5,287.1 453.2,285.6 459.9,284.3 466.6,283 473.4,281.7 480.1,280.5 486.8,279.3 493.6,278.2 500.3,277.1 507,276.1 513.8,275.1 520.5,274.1 527.2,273.2 534,272.3 540.7,271.4" fill="none" stroke="#00e4e4" stroke-width="1.1" />
<polyline points="372.4,303.4 379.1,303.4 385.9,302.9 392.6,301.4 399.3,299.5 406.1,297.2 412.8,294.6 419.5,291.6 426.3,288.6 433,285.7 439.7,283.1 446.5,280.9 453.2,278.8 459.9,277 466.6,275.3 473.4,273.7 480.1,272.3 486.8,271.1 493.6,270 500.3,269 507,268.1 513.8,267.2 520.5,266.4 527.2,265.7 534,265 540.7,264.3" fill="none" stroke="#00e4e4" stroke-width="1.1" />
<polyline points="372.4,304.8 379.1,304.7 385.9,303.8 392.6,301.3 399.3,298.1 406.1,294.9 412.8,291.7 419.5,288.4 426.3,285.2 433,282.1 439.7,279.4 446.5,277 453.2,275 459.9,273.2 466.6,271.5 473.4,270 480.1,268.6 486.8,267.3 493.6,266.3 500.3,265.3 507,264.3 513.8,263.4 520.5,262.7 527.2,262 534,261.3 540.7,260.5" fill="none" stroke="#00e4e4" stroke-width="1.1" />
<rect x="372.4" y="250.2" width="168.3" height="117.6" fill="none" stroke="#404040" stroke-width="0.8"/>
<text x="370" y="252" font-size="5" fill="#202020" text-anchor="end" font-weight="normal" font-family="Liberation Sans" >1.0</text>
<line x1="370.9" y1="250.2" x2="372.4" y2="250.2" stroke="#404040" stroke-width="0.6" />
<text x="370" y="275.5" font-size="5" fill="#202020" text-anchor="end" font-weight="normal" font-family="Liberation Sans" >0.5</text>
<line x1="370.9" y1="273.7" x2="372.4" y2="273.7" stroke="#404040" stroke-width="0.6" />
<text x="370" y="299" font-size="5" fill="#202020" text-anchor="end" font-weight="normal" font-family="Liberation Sans" >0.0</text>
<line x1="370.9" y1="297.2" x2="372.4" y2="297.2" stroke="#404040" stroke-width="0.6" />
<text x="370" y="322.6" font-size="5" fill="#202020" text-anchor="end" font-weight="normal" font-family="Liberation Sans" >−0.5</text>
<line x1="370.9" y1="320.8" x2="372.4" y2="320.8" stroke="#404040" stroke-width="0.6" />
<text x="370" y="346.1" font-size="5" fill="#202020" text-anchor="end" font-weight="normal" font-family="Liberation Sans" >−1.0</text>
<line x1="370.9" y1="344.3" x2="372.4" y2="344.3" stroke="#404040" stroke-width="0.6" />
<text x="370" y="369.6" font-size="5" fill="#202020" text-anchor="end" font-weight="normal" font-family="Liberation Sans" >−1.5</text>
<line x1="370.9" y1="367.8" x2="372.4" y2="367.8" stroke="#404040" stroke-width="0.6" />
<text x="372.4" y="374.3" font-size="5" fill="#202020" text-anchor="middle" font-weight="normal" font-family="Liberation Sans" >0</text>
<line x1="372.4" y1="367.8" x2="372.4" y2="369.3" stroke="#404040" stroke-width="0.6" />
<text x="406.1" y="374.3" font-size="5" fill="#202020" text-anchor="middle" font-weight="normal" font-family="Liberation Sans" >1</text>
<line x1="406.1" y1="367.8" x2="406.1" y2="369.3" stroke="#404040" stroke-width="0.6" />
<text x="439.7" y="374.3" font-size="5" fill="#202020" text-anchor="middle" font-weight="normal" font-family="Liberation Sans" >2</text>
<line x1="439.7" y1="367.8" x2="439.7" y2="369.3" stroke="#404040" stroke-width="0.6" />
<text x="473.4" y="374.3" font-size="5" fill="#202020" text-anchor="middle" font-weight="normal" font-family="Liberation Sans" >3</text>
<line x1="473.4" y1="367.8" x2="473.4" y2="369.3" stroke="#404040" stroke-width="0.6" />
<text x="507" y="374.3" font-size="5" fill="#202020" text-anchor="middle" font-weight="normal" font-family="Liberation Sans" >4</text>
<line x1="507" y1="367.8" x2="507" y2="369.3" stroke="#404040" stroke-width="0.6" />
<text x="540.7" y="374.3" font-size="5" fill="#202020" text-anchor="middle" font-weight="normal" font-family="Liberation Sans" >5</text>
<line x1="540.7" y1="367.8" x2="540.7" y2="369.3" stroke="#404040" stroke-width="0.6" />
<line x1="441.5" y1="302" x2="441.5" y2="360" stroke="#a0a0a0" stroke-width="1" stroke-dasharray="4,3"/>
<polygon points="439,358 444,358 441.5,364" fill="#a0a0a0"/>
<rect x="415" y="329" width="27" height="8" fill="#ffffff" fill-opacity="0.9"/>
<text x="428.2" y="335.5" font-size="6.2" fill="#404040" text-anchor="middle" font-weight="normal" font-family="Liberation Sans" >Lost Gas</text>
<text x="412.8" y="362.3" font-size="7.0" fill="#404040" text-anchor="middle" font-weight="normal" font-family="Liberation Sans"  textLength="26.5" lengthAdjust="spacingAndGlyphs">Lost Time</text>
<line x1="381.6" y1="365.6" x2="432" y2="365.6" stroke="#a0a0a0" stroke-width="1" stroke-dasharray="4,3"/>
<polygon points="431,363.3 437,365.6 431,367.9" fill="#a0a0a0"/>
<rect x="493.5" y="314.8" width="45.5" height="50.2" fill="#ffffff" fill-opacity="0.88" stroke="#d8d8d8" stroke-width="0.6"/>
<line x1="496" y1="319.1" x2="506.5" y2="319.1" stroke="#b8a4ec" stroke-width="0.8" />
<text x="510.5" y="321.3" font-size="6.0" fill="#303030" text-anchor="start" font-weight="normal" font-family="Liberation Sans"  textLength="22.05" lengthAdjust="spacingAndGlyphs">9-81-19</text>
<line x1="496" y1="325" x2="506.5" y2="325" stroke="#00e4e4" stroke-width="2.2" />
<text x="510.5" y="327.2" font-size="6.0" fill="#303030" text-anchor="start" font-weight="normal" font-family="Liberation Sans"  textLength="22.05" lengthAdjust="spacingAndGlyphs">2-78-22</text>
<line x1="496" y1="330.8" x2="506.5" y2="330.8" stroke="#78b4e6" stroke-width="1.2" />
<text x="510.5" y="333" font-size="6.0" fill="#303030" text-anchor="start" font-weight="normal" font-family="Liberation Sans"  textLength="25.2" lengthAdjust="spacingAndGlyphs">29-79-20</text>
<line x1="496" y1="336.7" x2="506.5" y2="336.7" stroke="#f6b48a" stroke-width="1.0" />
<text x="510.5" y="338.9" font-size="6.0" fill="#303030" text-anchor="start" font-weight="normal" font-family="Liberation Sans"  textLength="25.2" lengthAdjust="spacingAndGlyphs">33-78-17</text>
<line x1="496" y1="342.5" x2="506.5" y2="342.5" stroke="#f07060" stroke-width="1.0" />
<text x="510.5" y="344.7" font-size="6.0" fill="#303030" text-anchor="start" font-weight="normal" font-family="Liberation Sans"  textLength="25.2" lengthAdjust="spacingAndGlyphs">34-80-18</text>
<line x1="496" y1="348.4" x2="506.5" y2="348.4" stroke="#b050e6" stroke-width="1.0" />
<text x="510.5" y="350.6" font-size="6.0" fill="#303030" text-anchor="start" font-weight="normal" font-family="Liberation Sans"  textLength="25.2" lengthAdjust="spacingAndGlyphs">35-78-21</text>
<line x1="496" y1="354.3" x2="506.5" y2="354.3" stroke="#f4b4b4" stroke-width="1.0" />
<text x="510.5" y="356.5" font-size="6.0" fill="#303030" text-anchor="start" font-weight="normal" font-family="Liberation Sans"  textLength="25.2" lengthAdjust="spacingAndGlyphs">28-79-21</text>
<line x1="496" y1="360.1" x2="506.5" y2="360.1" stroke="#f8c468" stroke-width="1.0" />
<text x="510.5" y="362.3" font-size="6.0" fill="#303030" text-anchor="start" font-weight="normal" font-family="Liberation Sans"  textLength="25.2" lengthAdjust="spacingAndGlyphs">28-78-19</text>
</svg></body></html>
